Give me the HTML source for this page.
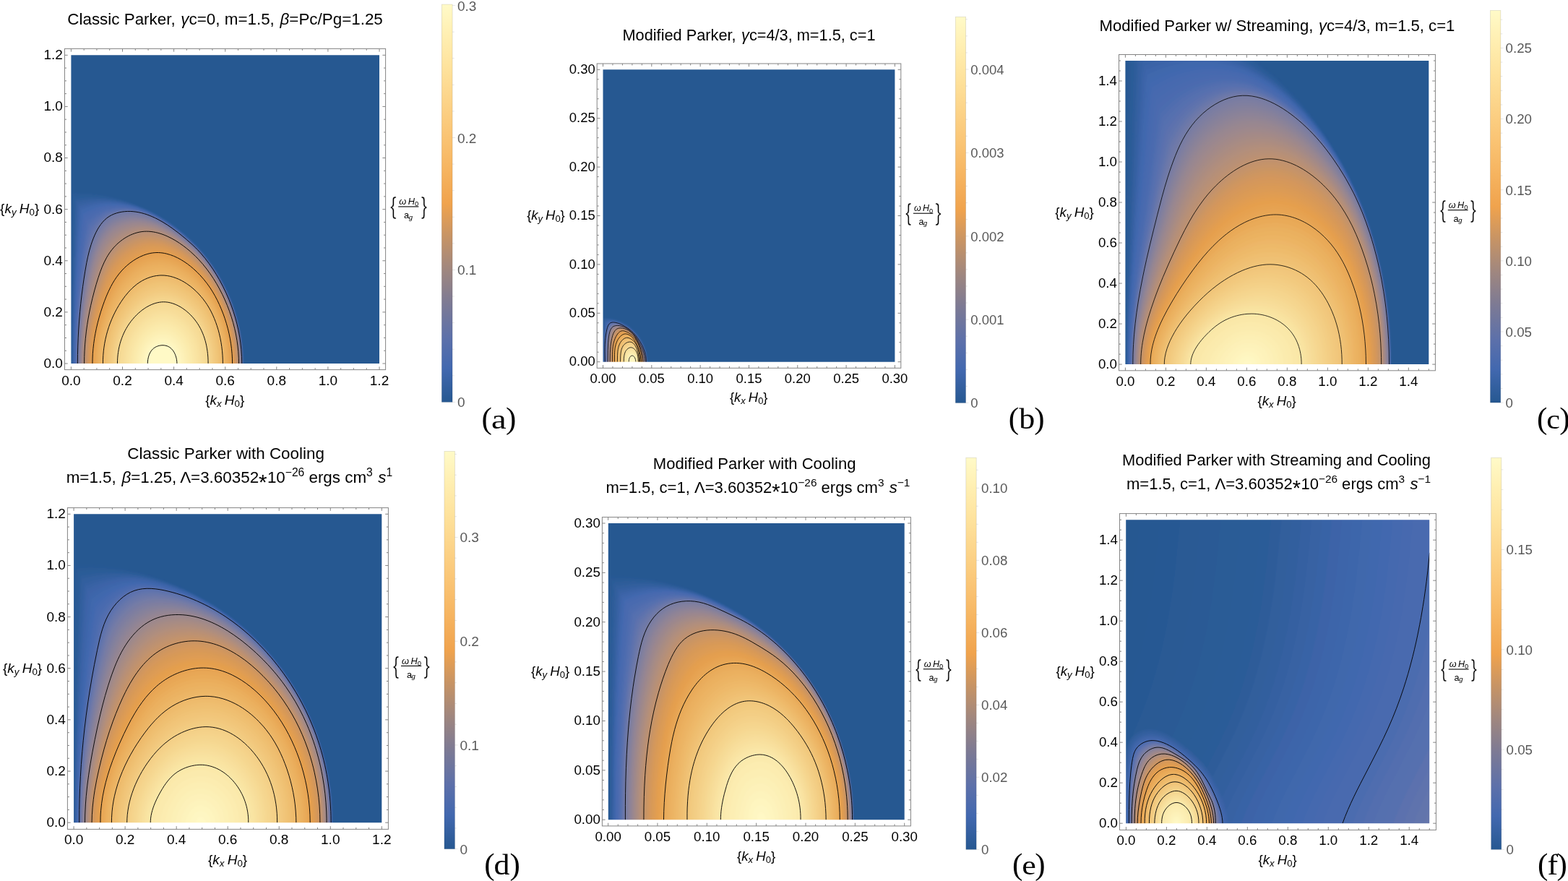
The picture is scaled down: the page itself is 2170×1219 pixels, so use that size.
<!DOCTYPE html>
<html lang="en"><head><meta charset="utf-8"><title>Parker instability growth rates</title>
<style>html,body{margin:0;padding:0;background:#fff}svg{display:block}text{font-family:'Liberation Sans',sans-serif}text.pl{font-family:"Liberation Serif",serif}</style></head>
<body><svg width="2170" height="1219" viewBox="0 0 2170 1219">
<defs><clipPath id="ca"><rect x="98.40" y="76.20" width="426.60" height="426.70"/></clipPath><clipPath id="cb"><rect x="834.50" y="96.30" width="403.90" height="404.40"/></clipPath><clipPath id="cc"><rect x="1557.40" y="84.00" width="419.90" height="420.10"/></clipPath><clipPath id="cd"><rect x="102.10" y="711.30" width="426.20" height="426.90"/></clipPath><clipPath id="ce"><rect x="841.80" y="724.00" width="409.90" height="410.20"/></clipPath><clipPath id="cf"><rect x="1558.20" y="719.20" width="420.00" height="420.00"/></clipPath><filter id="blur" x="-5%" y="-5%" width="110%" height="110%"><feGaussianBlur stdDeviation="1.3"/></filter><linearGradient id="cmapg" x1="0" y1="1" x2="0" y2="0"><stop offset="0" stop-color="#265891"/><stop offset="0.085" stop-color="#4268af"/><stop offset="0.16" stop-color="#5c70aa"/><stop offset="0.25" stop-color="#7d7a94"/><stop offset="0.33" stop-color="#9e8680"/><stop offset="0.42" stop-color="#c89464"/><stop offset="0.5" stop-color="#f0a34d"/><stop offset="0.585" stop-color="#f6b460"/><stop offset="0.67" stop-color="#fac474"/><stop offset="0.755" stop-color="#fcd388"/><stop offset="0.84" stop-color="#fee29c"/><stop offset="0.925" stop-color="#ffefb2"/><stop offset="1" stop-color="#fffac8"/></linearGradient></defs>
<rect width="2170" height="1219" fill="#fff"/>
<g id="panel-a">
<g clip-path="url(#ca)">
<g filter="url(#blur)">
<rect x="86.4" y="64.2" width="450.6" height="450.7" fill="#265891"/>
<path d="M97.9 502.9l0-229.3 0.4-8.9 10.6 0.2 10.4 0.7 10.3 1.1 14.9 2.5 9.7 2.1 14 3.8 9 3 13 5 8.3 3.6 11.8 5.9 11.1 6.3 10.5 6.7 9.8 7 9 7.2 8.5 7.3 7.8 7.5 7.2 7.5 8.7 10.1 7.7 10 6.9 9.9 6.1 9.8 5.3 9.6 4.8 9.4 5 11.5 4.3 11.2 3.5 10.8 2.9 10.6 2.8 12.4 1.7 10.1 1.5 11.9 0.9 11.8 0.3 11.7 0 12-238.7 0z" fill="#275992"/>
<path d="M98.3 502.9l0.2-106.1 0.7-120.8 0.5-8.8 5.2-0.1 10.2 0.1 10.1 0.6 10 1.1 14.5 2.4 9.5 2.1 13.7 3.8 8.8 3 12.7 5.1 8.1 3.7 11.6 5.9 10.9 6.4 10.2 6.8 9.5 7.1 8.9 7.2 8.2 7.4 7.6 7.4 7 7.6 8.4 10 5.8 7.5 6.8 9.9 6.1 9.8 5.4 9.6 4.7 9.4 5 11.5 4.3 11.1 3.5 10.9 3 10.6 2.7 12.3 1.8 10.1 1.4 11.9 0.9 11.8 0.3 11.7 0 12-238.2 0z" fill="#295a94"/>
<path d="M98.7 502.9l0.2-69.9 0.7-84.9 0.9-69.8 0.5-8.5 15.1-0.5 9.8 0.2 9.8 0.8 9.6 1.2 14.1 2.8 9.2 2.3 8.9 2.7 8.6 3 12.4 5.1 8 3.8 11.3 6.1 10.7 6.5 9.9 6.9 9.3 7.1 8.7 7.2 8 7.4 7.3 7.5 6.8 7.5 8.3 10 5.5 7.5 6.7 9.9 5.9 9.7 5.1 9.6 4.6 9.3 4.9 11.4 4.1 11.1 3.4 10.8 2.8 10.5 2.2 10.3 1.8 10.1 1.5 11.9 0.8 11.7 0.3 11.7 0 12-237.7 0z" fill="#2b5b96"/>
<path d="M99.1 502.9l0.2-61.3 0.9-72.6 1.4-79.8 0.2-8.5 0.6-8.4 9.7-0.8 9.7-0.3 9.7 0.2 9.5 0.8 9.4 1.2 13.9 2.8 8.9 2.3 8.7 2.8 8.5 3.1 12.2 5.2 7.8 3.9 11.1 6.2 10.4 6.6 9.7 6.9 9.1 7.2 8.4 7.3 7.7 7.4 7.2 7.4 6.6 7.5 8 10 5.4 7.5 6.4 9.8 5.7 9.7 5.1 9.5 4.4 9.3 4.7 11.3 3.9 11 3.3 10.7 2.7 10.5 2.1 10.2 1.7 10.1 1.4 11.8 0.7 9.8 0.3 11.7 0 12-237.3 0z" fill="#2c5c98"/>
<path d="M99.5 502.9l0.3-58.4 1-65.8 1.6-72 0.7-23.7 0.6-8.1 14.3-1.6 9.4-0.3 9.4 0.2 9.4 0.7 9.2 1.3 13.5 2.8 8.8 2.5 8.6 2.8 8.3 3.2 11.9 5.4 7.6 3.9 10.9 6.3 10.2 6.7 9.5 7 8.8 7.2 8.2 7.3 7.6 7.4 7 7.4 6.4 7.5 7.7 10 5.2 7.5 6.3 9.8 5.5 9.6 4.8 9.4 4.3 9.3 4.5 11.2 3.1 8.8 3.3 10.7 2.7 10.4 2.2 10.3 1.6 10 1.4 11.9 0.7 9.7 0.3 11.7 0 12-236.8 0z" fill="#2e5d9a"/>
<path d="M99.9 502.9l0.3-55.6 1.2-63.8 1.9-68.1 1.1-30.1 0.7-7.9 13.8-2 13.8-0.8 9.3 0.2 9.1 0.8 9.1 1.3 8.9 1.9 8.7 2.3 8.6 2.7 8.2 3.1 12 5.3 7.6 3.9 10.8 6.3 6.8 4.4 9.8 6.9 9 7.1 8.4 7.2 7.8 7.4 9.4 9.9 6.4 7.5 7.8 9.9 5.2 7.5 6.2 9.8 5.5 9.6 4.9 9.4 4.2 9.2 4.6 11.3 3.1 8.7 3.2 10.7 2.7 10.5 2.2 10.2 1.6 10 1.4 11.9 0.7 9.7 0.3 11.7 0 12-236.3 0z" fill="#315e9d"/>
<path d="M100.3 502.9l0.4-57.9 1.4-60.8 2.2-67.1 1.4-29.4 0.8-7.7 8.9-1.9 9-1.3 9-0.7 4.5-0.1 9.1 0.3 9 0.9 8.9 1.4 8.8 1.9 8.5 2.4 8.4 2.8 8.1 3.2 11.7 5.5 7.5 4 10.6 6.4 6.6 4.5 9.5 6.9 8.8 7.2 8.2 7.3 7.6 7.3 9.2 9.9 6.2 7.5 7.5 9.9 5 7.4 6.1 9.8 5.3 9.6 4.7 9.3 4.1 9.2 3.6 9 3.8 10.9 3.1 10.6 2.6 10.4 2.1 10.1 1.5 10 1.1 9.9 0.7 9.8 0.3 11.6 0 12-235.8 0z" fill="#3460a0"/>
<path d="M100.7 502.9l0.5-55.1 1.5-59 2.4-63.7 1.9-35.1 0.8-7.5 8.7-2.1 8.7-1.7 8.8-1 8.9-0.3 8.9 0.3 8.9 1 8.8 1.5 8.6 2.1 8.4 2.5 8.3 2.9 7.9 3.3 11.5 5.6 7.3 4.1 10.3 6.6 9.7 6.8 9 7.1 8.4 7.2 7.8 7.3 7.2 7.4 6.6 7.4 6 7.5 7.3 9.9 4.9 7.4 5.8 9.7 5.2 9.5 4.5 9.3 4 9.1 3.4 8.9 3 8.7 3.2 10.7 2.5 10.3 2.1 10.2 1.5 10 1.2 9.8 0.7 9.8 0.2 11.6 0 12-235.3 0z" fill="#3762a3"/>
<path d="M101.1 502.9l0.5-54.9 1.7-58.6 2.8-62.7 2.2-34.3 0.9-7.3 12.6-3.6 8.5-1.6 8.7-1 8.8-0.2 8.8 0.4 8.7 1.1 8.7 1.7 8.5 2.1 8.2 2.6 8.1 3.1 7.8 3.4 7.6 3.8 7.3 4.1 10.3 6.5 9.7 6.8 9 7.1 8.4 7.2 7.7 7.3 7.2 7.3 6.6 7.4 6.1 7.5 7.2 9.9 4.9 7.4 5.8 9.7 5.2 9.5 4.5 9.3 4 9.1 3.4 8.9 3 8.7 3.2 10.6 2.5 10.4 2.1 10.1 1.6 10 1.1 9.8 0.7 9.8 0.3 11.6 0 12-234.9 0z" fill="#3a63a6"/>
<path d="M101.5 502.9l0.1-26.2 0.5-28.5 1.9-58.1 1.6-34.6 1.5-27.3 2.5-33.5 0.9-7.1 12.2-4 8.4-2 8.5-1.3 8.6-0.5 8.7 0.3 8.7 0.9 8.5 1.5 8.5 2 8.2 2.6 8.1 3 7.8 3.4 7.5 3.7 7.3 4 10.3 6.5 6.5 4.6 9.2 7 8.6 7.1 10.5 9.6 7.2 7.3 6.6 7.4 6 7.5 7.3 9.9 4.8 7.4 5.9 9.7 5.1 9.5 4.5 9.3 4 9.1 3.4 8.9 3 8.7 3.2 10.6 2.6 10.3 2 10.1 1.6 10 1.1 9.8 0.7 9.8 0.3 11.6 0 12-234.4 0z" fill="#3c65a9"/>
<path d="M101.8 502.9l0.2-26.1 0.6-28.4 0.8-27.5 1.3-30.2 1.8-34.2 1.7-26.8 2.7-32.6 1-6.9 11.8-4.6 8.1-2.3 8.3-1.6 4.2-0.4 8.6-0.3 8.6 0.4 8.5 1 8.5 1.7 8.3 2.1 8.1 2.7 7.9 3.2 7.7 3.5 7.4 3.9 7.1 4.1 10.1 6.6 9.4 6.9 8.8 7.1 8.2 7.2 7.5 7.2 7 7.3 6.4 7.4 5.9 7.5 7 9.9 4.7 7.4 5.7 9.6 4.9 9.5 4.4 9.2 3.8 9 3.3 8.8 2.9 8.7 3.1 10.5 2.4 10.3 2 10.1 1.5 9.9 1 9.8 0.6 9.7 0.2 9.7 0 12-234 0z" fill="#3f67ac"/>
<path d="M102.2 502.9l0.2-26.1 0.6-28.2 1-27.3 1.4-30 1.9-33.7 1.9-26.4 2.3-24.9 0.7-6.9 1-6.7 11.4-5.1 7.9-2.6 8.2-1.8 4.1-0.6 8.4-0.5 8.5 0.2 8.5 0.9 8.4 1.5 8.3 2 8.1 2.6 7.9 3.1 7.6 3.5 7.4 3.8 7.1 4.2 10.1 6.5 9.4 6.9 8.8 7.1 8.1 7.1 7.6 7.2 7 7.4 6.4 7.4 5.8 7.4 7 9.9 4.8 7.4 5.6 9.6 5 9.4 4.3 9.3 3.8 9 3.4 8.8 2.8 8.6 3.1 10.5 2.4 10.3 2 10.1 1.5 9.9 1 9.8 0.6 9.7 0.2 9.7 0 12-233.5 0z" fill="#4168ae"/>
<path d="M102.6 502.9l0.2-26 0.7-28.1 1-27.2 1.5-29.6 2.2-33.4 2-25.9 2.5-24.3 1.9-13.1 7.2-3.9 3.8-1.7 7.6-3 4-1.1 8.1-1.7 4.1-0.5 8.4-0.3 8.4 0.4 8.4 1 8.3 1.7 8.1 2.2 8 2.8 7.8 3.2 7.5 3.7 7.2 3.9 6.9 4.2 9.9 6.7 9.2 7 8.5 7.1 8 7.1 7.3 7.2 6.8 7.3 6.2 7.5 5.7 7.4 6.8 9.9 4.6 7.3 5.4 9.6 4.8 9.4 4.2 9.1 3.7 9 3.2 8.7 2.8 8.6 2.9 10.5 2 8.2 1.9 10 1.5 9.9 1 9.8 0.7 9.7 0.2 9.7 0 12-233.1 0z" fill="#4469af"/>
<path d="M103 502.9l0.2-25.9 0.8-28 1.1-27 1.6-29.4 2.3-32.9 2.3-25.4 2.7-23.7 1.9-12.8 7-4.2 3.6-1.9 7.5-3.2 3.8-1.4 8-1.9 4-0.6 8.3-0.6 4.1 0.1 8.4 0.5 8.3 1.3 8.2 1.8 8 2.4 7.8 3 7.7 3.4 7.3 3.8 7.1 4.1 10.1 6.5 9.4 6.9 8.7 7 8.1 7.1 7.6 7.1 7 7.3 6.4 7.4 5.8 7.4 7 9.9 4.7 7.4 5.7 9.6 4.9 9.4 4.4 9.2 3.8 9 3.3 8.8 2.9 8.6 3 10.5 2.5 10.3 1.9 10.1 1.5 9.9 1.1 9.7 0.6 9.7 0.2 9.7 0 12-232.6 0z" fill="#4669af"/>
<path d="M103.4 502.9l0.3-25.8 0.7-27.9 1.2-26.8 1.8-29.2 2.1-27.9 2.2-24.2 2.7-22.3 1.7-12.3 1.2-6.1 6.7-4.6 3.5-2 7.2-3.6 3.8-1.5 3.8-1.2 7.9-1.7 4.1-0.5 8.2-0.3 4.1 0.1 8.3 0.7 8.2 1.5 8.1 2 7.9 2.6 7.7 3.2 7.5 3.5 7.2 3.9 6.9 4.2 9.9 6.7 9.1 6.9 8.6 7.1 7.9 7 7.4 7.2 6.7 7.3 6.2 7.4 5.7 7.4 6.8 9.9 4.5 7.3 5.5 9.6 4.8 9.3 4.2 9.2 3.7 8.9 3.2 8.8 2.7 8.5 3 10.5 1.9 8.1 2 10.1 1.4 9.9 1.1 9.8 0.6 9.7 0.2 9.6 0 12-232.1 0z" fill="#486aaf"/>
<path d="M103.8 502.9l0.3-25.7 0.8-27.8 1.3-26.7 1.9-28.8 2.2-27.6 2.4-23.8 2.8-21.8 1.9-11.9 1.3-5.9 6.4-4.9 3.3-2.2 7-3.9 3.7-1.6 3.8-1.4 7.7-1.9 4-0.6 8.2-0.6 4 0.1 8.2 0.6 8.2 1.3 8 1.9 7.9 2.6 7.7 3.1 7.5 3.5 7.2 3.9 6.9 4.2 9.8 6.6 9.2 6.9 8.5 7.1 8 7 7.3 7.1 6.8 7.3 6.2 7.4 5.6 7.4 6.8 9.9 4.6 7.3 5.4 9.6 4.8 9.3 4.2 9.2 3.7 8.9 3.2 8.7 2.8 8.6 2.9 10.4 1.9 8.2 2 10 1.5 9.9 1 9.8 0.6 9.7 0.2 9.6 0 12-231.6 0z" fill="#4b6baf"/>
<path d="M104.2 502.9l0.3-25.6 0.8-27.7 1.4-26.5 2.1-28.6 2.4-27.2 2.5-23.4 3-21.2 2-11.5 1.3-5.8 6.2-5.2 6.5-4.6 7-3.8 3.7-1.5 3.8-1.2 7.8-1.7 4-0.4 8.1-0.3 4 0.1 8.1 0.9 8.1 1.5 8 2.2 7.8 2.7 7.5 3.3 7.4 3.7 7 4 6.8 4.3 9.5 6.7 9 7 8.3 7 7.7 7 7.2 7.2 6.6 7.3 6 7.4 5.5 7.4 5 7.4 4.5 7.3 5.4 9.6 4.8 9.3 4.2 9.2 3.7 8.9 3.2 8.7 2.8 8.5 2.9 10.5 1.9 8.1 2 10.1 1.5 9.8 1 9.8 0.6 9.7 0.2 9.6 0 12-231.1 0z" fill="#4d6caf"/>
<path d="M104.6 502.9l0.3-25.5 0.9-27.6 1.5-26.3 2.1-28.4 2.6-26.9 2.7-22.9 3.2-20.7 2.1-11.1 1.4-5.5 5.8-5.6 6.4-4.9 6.8-4.1 3.6-1.6 3.7-1.4 7.6-1.9 4-0.5 8-0.5 4 0.1 8.1 0.7 8 1.4 7.9 2.1 7.8 2.7 7.6 3.2 7.3 3.7 7 4 6.7 4.2 9.6 6.8 8.9 6.9 8.4 7 7.7 7 7.2 7.1 6.5 7.3 6 7.4 5.5 7.4 5 7.4 4.5 7.3 5.5 9.6 4.7 9.3 4.2 9.1 3.7 9 3.2 8.7 2.8 8.5 2.9 10.4 1.9 8.2 2 10 1.5 9.9 1 9.7 0.7 9.7 0.2 9.6 0 12-230.7 0z" fill="#506daf"/>
<path d="M105 502.9l0.3-25.4 1-27.5 1.5-26.1 2.3-28.1 2.7-26.6 2.9-22.5 3.4-20.1 2.2-10.7 1.4-5.4 5.6-5.8 6.1-5.3 6.6-4.4 3.5-1.8 3.6-1.5 7.6-2.1 7.8-1.1 8-0.2 4 0.2 8 0.9 8 1.7 7.8 2.3 7.6 2.9 7.5 3.5 7.1 3.8 6.9 4.1 6.6 4.4 9.3 6.8 8.7 6.9 8.2 7 7.5 7 4.7 4.7 6.6 7.3 6 7.4 5.5 7.4 4.9 7.4 4.6 7.3 5.4 9.6 4.8 9.3 4.2 9.1 3.6 8.9 3.2 8.7 2.8 8.5 2.9 10.4 2 8.2 1.9 10 1.5 9.9 1.1 9.7 0.6 9.7 0.2 9.6 0 12-230.2 0z" fill="#546eaf"/>
<path d="M105.4 502.9l0.3-25.4 1-27.3 1.7-26 2.4-27.8 2.9-26.2 2.9-22 3.6-19.6 2.4-10.4 1.5-5.1 5.3-6.2 5.8-5.6 6.4-4.7 3.5-2 3.5-1.6 3.7-1.3 3.7-1 7.8-1.3 7.9-0.4 3.9 0.1 8 0.9 7.9 1.5 7.8 2.3 7.7 2.9 7.4 3.3 7.1 3.8 6.9 4.2 6.6 4.3 9.3 6.8 8.7 6.9 8.1 7 7.6 6.9 4.7 4.8 6.5 7.2 6 7.4 5.5 7.4 5 7.4 4.5 7.3 5.4 9.6 4.8 9.3 4.2 9.1 3.7 8.9 3.2 8.7 2.7 8.5 2.9 10.4 2 8.1 1.9 10 1.5 9.9 1.1 9.7 0.6 9.7 0.2 9.6 0 12-229.7 0z" fill="#5770af"/>
<path d="M105.8 502.9l0.3-25.3 1.1-27.1 1.7-25.9 2.6-27.6 3-25.8 3.1-21.6 1.7-9.4 2.1-9.7 2.5-9.9 1.5-5 5.1-6.5 5.6-6 3-2.6 3.2-2.4 3.3-2 3.5-1.8 3.6-1.4 3.7-1.1 7.6-1.5 7.9-0.5 3.9 0 7.9 0.7 7.9 1.5 7.8 2.2 11.3 4.4 7.3 3.6 7 3.9 6.7 4.2 9.6 6.7 8.9 6.9 10.9 9.2 7.5 7 4.7 4.7 6.6 7.3 6 7.3 5.5 7.4 4.9 7.4 4.6 7.3 5.4 9.6 4.7 9.3 4.2 9.1 3.7 8.9 3.2 8.7 2.7 8.5 3 10.3 1.9 8.2 2 10 1.5 9.8 1 9.7 0.6 9.7 0.2 9.6 0 12-229.2 0z" fill="#5b71ae"/>
<path d="M106.2 502.9l0.3-25.2 1-24.7 1.8-25.3 2.1-23.5 2.9-24.3 3.5-24.5 3.7-18.2 3.7-14.3 1.6-4.7 4.7-6.9 2.6-3.3 5.7-5.8 3.1-2.5 3.3-2.2 3.4-1.9 3.5-1.5 7.4-2.2 7.6-1.2 7.9-0.2 3.9 0.2 7.8 0.9 7.9 1.8 7.6 2.5 11.2 4.7 7.1 3.8 6.9 4 6.6 4.4 9.3 6.7 8.7 6.9 10.6 9.2 7.4 7 4.5 4.7 6.4 7.3 5.8 7.4 5.3 7.4 4.8 7.4 4.4 7.2 5.2 9.5 4.6 9.3 4.1 9 3.5 8.8 3.1 8.7 2.7 8.4 2.8 10.3 1.8 8.1 1.9 10 1.2 7.8 1 9.8 0.6 9.6 0.3 9.6 0 12-228.8 0z" fill="#6073ad"/>
<path d="M106.6 502.9l0.3-25.1 1.1-24.6 1.8-25.1 2.3-23.4 3-23.9 3.7-24.1 1.7-8.7 2.1-9 3.9-13.7 1.6-4.6 4.5-7.2 2.5-3.4 5.4-6.2 3-2.6 3.2-2.4 3.3-2 3.5-1.6 3.6-1.4 3.7-1 7.6-1.4 7.7-0.4 3.9 0.2 7.8 0.8 7.8 1.7 7.7 2.4 11.1 4.7 7.1 3.7 6.9 4.1 6.6 4.3 9.3 6.7 8.6 6.9 10.7 9.2 7.3 6.9 4.6 4.8 6.4 7.3 5.8 7.3 5.3 7.4 4.8 7.4 4.3 7.2 5.3 9.5 4.6 9.3 4 9 3.5 8.8 3.1 8.6 2.7 8.5 2.8 10.3 1.9 8.1 1.8 9.9 1.2 7.9 1 9.7 0.7 9.6 0.2 9.6 0 12-228.3 0z" fill="#6576ab"/>
<path d="M107 502.9l0.3-22.9 1-24.2 1.8-24.7 2.3-22.7 2.9-23.1 3.7-23.1 3.6-17 3.7-13.2 3.2-8.7 4.2-7.6 2.3-3.6 2.6-3.3 2.7-3.1 2.9-2.9 3.1-2.4 3.2-2.2 3.4-1.7 3.5-1.5 3.7-1.2 7.5-1.5 7.7-0.5 3.8 0 7.8 0.8 7.8 1.6 7.6 2.3 11.1 4.7 7.1 3.7 6.9 4 6.5 4.3 9.3 6.8 8.7 6.8 10.6 9.2 7.4 6.9 4.6 4.7 6.3 7.3 5.8 7.3 5.3 7.4 4.8 7.4 4.4 7.2 5.2 9.5 4.6 9.2 4 9.1 3.6 8.8 3 8.6 2.7 8.4 2.8 10.3 1.9 8.1 1.9 9.9 1.1 7.9 1.1 9.7 0.6 9.6 0.2 9.6 0 12-227.8 0z" fill="#6b78a9"/>
<path d="M107.4 502.9l0.3-22.8 1.1-24.2 1.8-24.5 2.4-22.5 3.1-22.8 3.8-22.7 1.7-8.2 2-8.4 4-12.7 3.3-8.3 1.8-4 4.3-7.6 2.4-3.6 2.6-3.2 2.8-3 3-2.6 3.2-2.3 3.3-1.9 3.5-1.5 3.6-1.3 7.4-1.7 3.8-0.4 7.7-0.3 3.8 0.3 7.8 1.1 3.8 0.8 7.6 2.3 7.5 2.9 7.2 3.4 7 3.9 6.7 4.2 6.4 4.4 9.1 6.8 11.1 9.1 7.7 6.8 7.2 7 4.4 4.7 6.2 7.3 5.6 7.4 5.1 7.4 4.7 7.3 4.2 7.2 5 9.4 4.5 9.2 3.9 9 3.4 8.7 3 8.6 2.5 8.4 2.2 8.2 1.9 8 1.9 10 1.1 7.8 1.1 9.7 0.6 9.6 0.2 9.6 0 12-227.3 0z" fill="#717aa7"/>
<path d="M108.1 502.9l0.3-22.7 1-21.7 1.9-23.9 2.3-21.9 3.6-25.4 3.9-22.3 3.8-16.2 3.9-12.4 3.3-8.2 1.9-3.9 4.2-7.5 5-6.7 2.7-2.9 3-2.6 3.1-2.3 3.3-1.9 3.4-1.6 3.5-1.3 7.3-1.8 3.7-0.5 7.6-0.4 3.8 0.1 7.6 0.9 3.8 0.8 7.5 2.1 7.4 2.7 7.2 3.3 6.9 3.7 6.6 4.1 6.4 4.2 9 6.7 11.1 9 7.7 6.8 7.2 6.9 4.4 4.7 6.1 7.2 5.6 7.4 5.1 7.3 4.7 7.3 4.2 7.1 5 9.4 4.5 9.2 3.9 8.9 3.4 8.7 2.9 8.5 2.6 8.4 2.2 8.1 1.9 8.1 1.8 9.9 1.2 7.8 1.1 9.7 0.6 9.5 0.2 9.6 0 12-226.3 0z" fill="#777ca4"/>
<path d="M108.8 502.9l0.4-22.5 1-21.6 1.7-21.2 2.4-21.2 3.5-24.5 3.8-21.4 3.5-15.7 3.6-12.2 4.7-12 3.9-7.6 4.5-7 2.5-3.2 2.7-2.8 2.9-2.6 3.1-2.3 3.2-1.9 6.8-3 7.2-1.9 3.6-0.6 7.5-0.6 3.7 0.1 7.5 0.7 3.8 0.7 7.4 1.9 7.3 2.5 7.1 3.2 6.9 3.6 6.6 3.9 6.3 4.1 9 6.5 11.1 8.9 7.6 6.7 7.1 6.9 4.4 4.7 6.2 7.2 5.6 7.2 5.1 7.3 4.6 7.2 4.2 7.2 5 9.3 4.5 9.1 3.8 8.9 3.5 8.7 2.9 8.4 2.6 8.4 2.2 8.1 1.8 8 1.9 9.9 1.2 7.8 1 9.6 0.7 9.6 0.2 9.5 0 12-225.3 0z" fill="#7d7ea0"/>
<path d="M109.5 502.9l0.4-22.4 1.1-21.3 2.1-23.6 2.6-21.2 3.8-24.7 4.1-21.4 3.8-15.6 4-11.9 3.3-7.8 1.8-3.8 4.2-7.2 4.8-6.4 2.7-2.9 2.8-2.5 3-2.3 3.2-1.9 3.3-1.7 6.8-2.5 7.2-1.6 3.6-0.5 7.3-0.3 3.7 0.2 7.5 0.9 3.6 0.8 7.3 2.1 7.2 2.7 6.9 3.2 6.7 3.6 6.5 3.9 6.1 4.2 8.8 6.4 8.1 6.6 7.7 6.6 7 6.9 4.4 4.6 6.1 7.2 5.6 7.2 5.1 7.2 4.6 7.2 4.2 7.1 5 9.3 4.4 9 3.9 8.9 3.4 8.6 3 8.5 2.6 8.3 2.2 8.1 1.8 8 1.9 9.8 1.1 7.8 1.1 9.6 0.6 9.5 0.2 9.5 0 12-224.2 0z" fill="#83809d"/>
<path d="M110.2 502.9l0.4-20.2 1.1-21.1 1.7-20.5 2.9-23.2 3.7-23.7 4.8-24.3 3.9-15.3 4-11.6 3.2-7.6 1.9-3.7 4.1-7.1 4.7-6.3 2.7-2.8 2.8-2.6 2.9-2.2 3.1-2 3.3-1.7 6.7-2.6 7-1.7 3.5-0.6 7.3-0.4 3.6 0 7.3 0.8 3.7 0.7 7.2 1.9 7.1 2.5 6.8 3.1 6.7 3.5 6.4 3.8 6.1 4 8.7 6.3 8.2 6.5 7.6 6.6 7 6.7 4.4 4.7 6.1 7.1 5.5 7.1 5.1 7.2 4.6 7.2 4.2 7 5 9.3 4.4 9 3.9 8.8 3.4 8.6 3 8.4 2.5 8.3 2.2 8.1 1.9 7.9 1.9 9.8 1.1 7.8 1.1 9.5 0.6 9.5 0.2 9.5 0 12-223.2 0z" fill="#8a8299"/>
<path d="M110.9 502.9l0.4-20 1.2-21 1.8-20.4 2.9-22.8 3.9-23.4 4.9-23.7 4-15 4-11.4 5-11.1 4.1-6.9 4.7-6.2 2.6-2.7 2.8-2.6 2.9-2.2 6.2-3.7 3.2-1.5 6.7-2.3 7-1.5 3.5-0.4 7.2-0.2 3.6 0.2 7.2 1 7.1 1.7 7 2.4 6.9 2.9 6.6 3.3 6.3 3.7 6.1 3.9 5.9 4.1 8.3 6.4 7.7 6.5 7.2 6.6 4.5 4.5 6.3 7 9.2 11.9 4.9 7.1 4.5 7.1 4 7 4.9 9.1 4.2 8.9 3.8 8.8 3.3 8.5 2.8 8.3 2.5 8.2 2.1 8 1.8 7.9 1.7 9.8 1.1 7.7 1 9.5 0.6 9.5 0.1 7.5 0 12-222.2 0z" fill="#908496"/>
<path d="M111.6 502.9l0.4-19.9 1.2-20.8 2-20.2 2.6-19.9 3.9-22.5 4.7-22.9 3.7-14.4 2.4-7.5 2.7-7.4 5.1-10.8 4-6.7 4.7-6.1 2.5-2.8 5.6-4.7 6-3.8 3.2-1.5 6.6-2.4 3.4-0.9 6.9-1.3 7.1-0.4 3.5 0.1 7.1 0.9 7.1 1.5 6.9 2.2 6.8 2.8 6.6 3.2 6.3 3.5 6 3.9 5.9 4 8.2 6.2 7.7 6.4 4.9 4.4 4.6 4.4 6.4 6.9 5.9 7 5.4 7.1 4.8 7.1 4.5 7.1 4 6.9 4.9 9.1 4.2 8.9 3.8 8.6 3.3 8.5 2.8 8.3 2.5 8.2 2.1 8 1.7 7.9 1.8 9.7 1.1 7.6 1 9.5 0.5 9.5 0.2 7.5 0 12-221.2 0z" fill="#968692"/>
<path d="M112.3 502.9l0.5-19.8 1.2-20.6 2.1-20 2.7-19.6 4-22.2 4.8-22.4 3.8-14.2 2.4-7.2 2.7-7.3 5-10.5 4-6.6 4.6-6 2.5-2.7 5.5-4.7 5.9-3.8 3.2-1.6 6.4-2.6 3.3-0.9 6.8-1.4 7-0.6 3.5 0 7 0.6 6.9 1.4 6.9 2.1 6.7 2.6 6.5 3 6.3 3.5 6.1 3.7 5.8 3.9 8.2 6.1 7.7 6.4 4.8 4.3 4.6 4.4 6.4 6.9 5.8 6.9 5.4 7.1 4.9 7 4.4 7 4 6.9 4.9 9.1 4.2 8.8 3.8 8.6 3.2 8.5 2.9 8.3 2.4 8.1 2.1 8 1.8 7.8 1.8 9.7 1.1 7.6 1 9.5 0.5 9.4 0.1 7.5 0 12-220.1 0z" fill="#9b878e"/>
<path d="M113 502.9l0.5-19.7 1.3-20.4 2.1-19.8 2.9-19.4 4-21.9 5-21.9 3.9-13.8 2.3-7.1 2.8-7 5-10.4 4-6.4 4.5-5.9 2.5-2.6 5.3-4.7 5.8-3.9 3.1-1.6 6.3-2.7 6.6-1.9 3.3-0.7 6.8-0.7 3.5-0.1 3.4 0.1 7 0.8 6.8 1.6 6.7 2.2 6.6 2.7 6.4 3.1 6.1 3.5 5.9 3.7 5.6 3.9 8 6.1 7.5 6.4 4.7 4.3 4.4 4.5 6.3 6.8 5.6 7 5.2 7 4.7 6.9 4.3 7 3.9 6.8 4.7 8.9 6.8 15.2 3.3 8.5 2.9 8.2 2.4 8.1 2.1 7.9 1.8 7.9 1.8 9.6 1 7.6 1 9.4 0.6 9.4 0.1 7.5 0 12-219.1 0z" fill="#9f898b"/>
<path d="M113.8 502.9l0.4-19.5 1.2-18.2 2.1-19.5 2.8-18.9 4.6-24 5.2-21.4 3.8-13.5 2.4-6.9 2.8-6.9 4.9-10.1 4-6.3 4.4-5.7 2.5-2.7 5.2-4.7 5.7-3.9 3-1.6 6.2-2.8 6.4-2.1 3.3-0.8 6.7-0.9 3.4-0.2 3.4 0.1 6.8 0.6 6.8 1.4 6.7 2 6.5 2.6 6.3 3 6.1 3.3 5.9 3.7 5.6 3.8 8 6.1 7.4 6.2 4.7 4.3 4.4 4.5 6.2 6.7 5.7 6.9 5.1 7 4.7 6.9 4.3 6.9 3.9 6.8 4.7 8.9 6.8 15.1 3.3 8.4 2.8 8.2 2.5 8.1 2.1 7.9 1.8 7.8 1.7 9.6 1.1 7.6 1 9.4 0.5 9.3 0.2 7.5 0 12-218 0z" fill="#a48a87"/>
<path d="M114.5 502.9l0.4-19.4 1.3-18.1 2.2-19.2 2.9-18.7 4.1-20.8 5-20.6 4.8-16.3 2.4-6.8 2.7-6.7 5-9.8 3.9-6.2 2.1-2.9 4.7-5.3 2.5-2.4 5.4-4.3 2.8-1.9 5.9-3.3 6.2-2.6 3.2-1 6.5-1.5 3.3-0.4 6.7-0.4 3.4 0.2 6.7 0.8 6.7 1.6 6.5 2.1 6.4 2.7 6.1 3.1 6 3.4 5.7 3.6 5.5 3.9 7.8 6 7.2 6.3 4.5 4.3 4.3 4.5 6 6.7 8.9 11.5 4.7 6.9 4.2 6.9 3.9 6.7 4.7 8.9 6.8 15 3.3 8.4 2.8 8.2 2.5 8 2.1 7.9 1.7 7.7 1.8 9.6 1.1 7.6 1 9.3 0.5 9.4 0.2 7.4 0 12-217 0z" fill="#a98c83"/>
<path d="M115.2 502.9l0.5-19.3 1.3-17.9 2.2-19 3-18.5 4.3-20.4 5.1-20.2 4.9-16 2.4-6.5 2.7-6.6 4.9-9.6 3.9-6 2.1-2.8 4.6-5.2 2.5-2.4 5.2-4.4 2.8-1.9 5.8-3.3 6-2.8 3.2-1.1 6.3-1.6 3.3-0.6 6.6-0.5 3.3 0.1 6.6 0.7 6.6 1.3 6.5 2 6.3 2.6 6.2 2.9 5.9 3.3 5.7 3.5 5.5 3.8 7.7 6 4.9 4.1 6.8 6.4 4.3 4.4 6 6.7 8.8 11.4 4.7 6.9 4.2 6.8 3.9 6.7 4.7 8.8 6.8 15 3.3 8.3 2.8 8.2 2.4 8 2.1 7.8 1.8 7.8 1.8 9.5 1.1 7.6 0.9 9.3 0.6 9.3 0.1 7.4 0 12-215.9 0z" fill="#ae8d7f"/>
<path d="M115.9 502.9l0.4-17.2 1.3-17.7 2.2-18.7 2.9-18 4.2-19.8 5.9-22.4 4.9-15.6 2.4-6.4 2.8-6.4 4.9-9.3 3.8-5.8 2.1-2.8 2.2-2.7 4.7-4.8 2.6-2.3 5.3-4 5.6-3.5 3-1.5 6-2.5 3.1-1.1 6.4-1.4 3.2-0.5 6.5-0.3 3.3 0.2 6.6 0.9 6.4 1.5 6.4 2.2 6.2 2.6 6 3 5.8 3.3 5.5 3.6 10.4 7.8 4.9 4.1 6.8 6.3 4.3 4.4 5.9 6.7 5.5 6.7 4.9 6.8 4.6 6.8 4.1 6.8 3.7 6.6 4.5 8.8 6.6 14.8 3.2 8.2 2.7 8.1 4.4 15.7 1.7 7.7 1.6 9.5 1.8 15 0.6 9.2 0.1 7.4 0 12-214.9 0z" fill="#b38f7b"/>
<path d="M116.6 502.9l0.4-17.1 1.3-17.6 2.3-18.5 3.1-17.7 4.3-19.6 5.1-19 2.7-8.8 3.2-9.2 2.4-6.3 2.8-6.2 4.9-9 5.8-8.4 2.2-2.6 4.6-4.9 5-4.3 2.7-2 5.5-3.6 2.8-1.5 6-2.7 3-1.1 6.2-1.7 3.2-0.5 6.5-0.5 3.2 0.1 6.5 0.7 6.4 1.4 6.3 2 6.2 2.5 5.9 2.9 5.8 3.2 5.5 3.5 10.4 7.7 4.8 4 6.8 6.3 4.2 4.3 6 6.7 5.4 6.7 5 6.8 4.5 6.7 4.1 6.7 3.7 6.6 4.5 8.7 6.6 14.8 3.2 8.2 2.7 8 4.3 15.7 1.7 7.7 1.7 9.4 1.8 14.9 0.5 9.2 0.2 7.4 0 12-213.9 0z" fill="#b79077"/>
<path d="M117.5 502.9l0.5-17 1.3-17.3 2.4-18.4 3.1-17.5 4.3-19.2 5.2-18.7 2.7-8.6 3.2-9 2.4-6.1 2.8-6.1 4.8-8.9 5.8-8.2 6.7-7.3 7.5-6.2 5.5-3.5 2.8-1.6 5.8-2.7 3-1.1 6.1-1.7 3.1-0.6 6.4-0.5 3.2 0 6.3 0.6 6.4 1.3 6.2 1.8 6.1 2.4 5.9 2.8 5.7 3.1 5.5 3.4 10.2 7.5 4.8 3.9 6.8 6.2 4.2 4.3 5.9 6.5 5.4 6.6 5 6.7 4.4 6.7 4.1 6.6 3.8 6.6 4.4 8.6 6.6 14.6 3.1 8.2 2.7 8 4.3 15.5 1.7 7.6 1.7 9.4 1.7 14.8 0.6 9.2 0.1 7.3 0 12-212.2 0z" fill="#bc9172"/>
<path d="M118.5 502.9l0.4-16.8 1.4-17.2 2.4-18.1 3.1-17.3 4.5-18.9 5.2-18.4 2.7-8.5 3.2-8.8 5.2-11.9 4.8-8.6 5.7-8 6.6-7.2 7.4-6.1 8.1-5.1 5.7-2.7 3-1.1 6-1.7 3.1-0.6 3.1-0.4 6.2-0.3 3.2 0.2 6.2 0.8 6.2 1.4 6.1 2 6 2.5 5.7 2.8 5.5 3.2 5.4 3.4 9.9 7.5 4.7 3.9 6.5 6.2 4.1 4.2 5.7 6.5 5.2 6.5 4.8 6.6 4.3 6.6 4 6.6 3.6 6.5 4.3 8.5 6.3 14.4 3 8.1 2.6 7.9 4.1 15.4 2.9 14.9 1.7 14.7 0.6 9.1 0.1 7.3 0 12-210.5 0z" fill="#c1926e"/>
<path d="M119.4 502.9l0.5-16.6 1.4-17.1 2.4-17.9 3.2-17.1 4.5-18.6 5.2-18 2.8-8.3 3.2-8.6 5.2-11.6 4.7-8.4 5.7-7.9 6.5-7 7.3-6 7.9-5.1 5.7-2.6 2.8-1.2 6-1.7 3-0.7 3-0.4 6.2-0.4 3.1 0.1 6.2 0.7 6.1 1.3 6 1.9 5.8 2.3 5.7 2.8 5.5 3 5.3 3.4 9.9 7.3 4.6 3.8 6.5 6.1 4.1 4.1 5.6 6.4 5.2 6.4 4.8 6.6 4.3 6.5 3.9 6.5 6.9 12.7 6.4 14.5 3.1 8 2.7 7.9 4.2 15.3 1.7 7.5 1.6 9.3 1.8 14.6 0.5 9 0.2 7.2 0 12-208.9 0z" fill="#c69469"/>
<path d="M120.4 502.9l0.4-16.5 1.5-16.9 2.1-15.7 3.1-16.6 4.4-18.2 5.1-17.4 5.6-16.3 4.9-11.3 2.9-5.6 3.3-5.4 5.6-7.7 6.4-6.9 7.2-5.9 7.8-5 8.3-3.9 5.8-1.8 3-0.6 3-0.5 6.1-0.5 3 0.1 6.1 0.6 6 1.1 6 1.8 5.7 2.2 5.7 2.6 5.4 3 5.2 3.2 9.9 7.1 4.5 3.8 6.5 5.9 4 4.1 5.7 6.3 5.1 6.4 4.8 6.4 4.3 6.4 3.9 6.4 6.8 12.7 6.4 14.3 3.1 8 2.6 7.8 4.2 15.3 1.7 7.4 1.6 9.2 1.7 14.5 0.6 8.9 0.1 7.2 0 12-207.1 0z" fill="#ca9564"/>
<path d="M121.3 502.9l0.5-16.3 1.5-16.8 2.5-17.5 3.3-16.6 4.5-18 5.4-17.3 2.8-8 3.2-8.2 5.1-11 3.1-5.3 3.4-5.2 5.8-7.3 6.6-6.4 7.2-5.6 7.9-4.6 8.3-3.4 5.8-1.6 3-0.5 2.9-0.4 6-0.2 3 0.2 6 0.7 5.9 1.4 5.8 1.9 5.6 2.3 5.5 2.7 5.3 2.9 5.1 3.3 9.5 7.1 4.5 3.8 6.2 5.9 3.9 4.1 5.5 6.2 5 6.3 4.5 6.3 4.2 6.4 3.8 6.3 6.5 12.5 6.2 14.2 2.9 7.9 2.5 7.7 4.1 15.1 2.8 14.6 1.7 14.4 0.5 8.9 0.2 7.1 0 12-205.5 0z" fill="#cf9660"/>
<path d="M122.3 502.9l0.5-16.2 1.2-14.7 2.1-15.2 3.1-16.1 4.3-17.3 4.9-16.6 5.6-15.4 3.3-8.1 2.6-5.3 2.9-5.3 3.2-5.2 5.5-7.3 4-4.5 4.4-4.1 7.2-5.5 7.7-4.6 8.2-3.4 5.6-1.6 2.9-0.6 2.9-0.4 5.9-0.3 3 0.1 5.9 0.6 5.8 1.2 5.7 1.8 5.6 2.2 5.4 2.5 5.3 2.9 5 3.2 9.5 6.9 4.4 3.7 6.2 5.8 9.3 10.1 5 6.2 4.5 6.3 4.2 6.3 3.7 6.3 6.5 12.4 6.2 14 2.9 7.9 2.5 7.6 4 15 2.8 14.5 1.7 14.3 0.5 8.8 0.1 7.1 0 12-203.7 0z" fill="#d4975c"/>
<path d="M123.2 502.9l0.5-16 1.3-14.6 2.2-15 3.1-15.9 4.3-17.1 5-16.2 5.5-15.1 3.4-7.8 2.6-5.3 2.9-5.1 3.2-5 5.4-7.1 4-4.4 4.3-4.1 7-5.4 7.5-4.5 8.1-3.5 5.6-1.7 2.8-0.6 2.9-0.5 5.7-0.4 2.9 0.1 5.8 0.5 5.8 1.1 5.7 1.6 5.5 2.1 5.3 2.4 5.2 2.8 5 3.1 9.4 6.7 4.4 3.7 6.2 5.7 9.2 9.9 5 6.1 4.5 6.2 4.1 6.2 3.8 6.2 6.4 12.3 6.1 14 2.9 7.8 2.5 7.6 4 14.8 2.8 14.5 1.6 14.1 0.6 8.8 0.1 7 0 12-202.1 0z" fill="#d79959"/>
<path d="M124.2 502.9l0.5-15.9 1.3-14.4 2.2-14.8 3.2-15.7 4.3-16.8 5.1-16 5.5-14.7 3.4-7.6 2.6-5.1 2.9-5 3.1-4.8 5.4-7 3.9-4.2 4.2-4 6.9-5.4 4.9-3.1 5.1-2.7 8-3.2 5.6-1.4 2.8-0.5 5.7-0.5 2.8 0 8.6 0.8 5.6 1.2 5.5 1.8 5.4 2.1 5.3 2.5 5 2.9 4.9 3 9.1 6.8 4.2 3.6 6 5.7 8.9 9.8 4.8 6.1 4.4 6.1 4 6.2 3.6 6.1 6.2 12.2 5.8 13.8 2.8 7.7 2.4 7.5 3.8 14.7 2.6 14.2 1.5 14.1 0.6 13.9 0 12-200.4 0z" fill="#da9a57"/>
<path d="M125.1 502.9l0.5-15.7 1.4-14.3 2.2-14.7 3.2-15.4 4.4-16.5 5.1-15.7 5.6-14.4 3.4-7.3 2.6-5 2.9-4.8 3.1-4.8 5.3-6.7 3.8-4.2 4.2-3.9 6.7-5.3 4.8-3.1 5-2.7 7.9-3.2 8.2-2 5.6-0.7 2.8-0.1 8.4 0.7 5.6 1.1 5.4 1.6 5.4 2.1 5.1 2.4 5 2.7 4.9 3 9 6.6 4.2 3.5 6 5.6 8.9 9.7 4.7 6 4.4 6 3.9 6.1 3.6 6.1 6.2 12 5.8 13.7 2.7 7.6 2.4 7.5 3.8 14.6 2.6 14.2 1.5 13.9 0.5 13.8 0 12-198.7 0z" fill="#dd9b54"/>
<path d="M126 502.9l0.6-15.6 1.3-14.1 2.3-14.5 3.3-15.2 4.5-16.3 5.1-15.3 5.6-14 3.4-7.2 2.6-4.8 6-9.3 5.2-6.5 3.8-4.1 4.1-3.9 6.6-5.2 4.7-3 4.9-2.8 7.7-3.2 8-2.2 8.2-0.9 8.3 0.5 5.5 1 5.4 1.5 5.3 1.9 5.1 2.3 5 2.6 4.8 2.9 8.9 6.5 4.2 3.5 5.9 5.4 8.9 9.5 4.7 5.9 4.4 6 3.9 6 3.6 6 6.1 12 5.8 13.6 2.7 7.5 2.3 7.4 3.8 14.5 2.5 14.1 1.6 13.8 0.5 13.7 0 12-197.1 0z" fill="#e09d52"/>
<path d="M127 502.9l0.4-13.7 1.5-15.7 2.3-14.3 3.4-15 4.5-16 5.1-15 5.7-13.7 3.4-7 2.6-4.6 5.9-9 3.4-4.3 3.6-4.1 3.9-3.9 4.1-3.6 6.7-4.9 4.7-2.9 4.9-2.5 7.6-3 8-1.9 8.1-0.6 8.2 0.7 5.4 1.1 5.3 1.6 5.1 2 5 2.4 4.8 2.6 4.7 3 8.7 6.4 4 3.5 5.7 5.4 8.6 9.5 4.6 5.8 4.2 5.9 3.8 6 3.4 6 5.9 11.8 5.5 13.4 4.4 12.9 3.7 14.4 2.5 14 1.5 13.7 0.5 13.6 0 12-195.3 0z" fill="#e39e4f"/>
<path d="M127.9 502.9l0.5-13.6 1.3-13.7 2.2-14.1 3.3-14.7 4.4-15.6 5-14.6 5.4-13.2 5.8-11.3 5.6-8.8 3.2-4.2 3.4-4.1 3.7-3.9 4-3.7 4.2-3.4 4.4-3.2 4.6-2.9 4.7-2.5 7.6-3.1 7.8-2 8-0.8 8 0.5 5.3 1 5.2 1.5 5.1 1.9 5 2.3 4.7 2.5 4.6 2.9 8.7 6.3 4 3.4 5.7 5.3 8.5 9.3 4.6 5.7 4.2 5.9 3.8 5.9 3.4 5.9 5.8 11.7 5.5 13.3 4.3 12.9 3.7 14.2 2.5 13.9 1.5 13.6 0.5 13.5 0 12-193.7 0z" fill="#e5a04f"/>
<path d="M129.4 502.9l0.4-13.4 1.3-13.5 2.2-13.9 3.3-14.4 4.4-15.3 5-14.2 5.5-12.9 5.7-10.9 5.5-8.6 6.5-8.2 3.7-3.8 3.8-3.5 4.1-3.4 4.3-3.1 4.5-2.8 4.7-2.5 7.4-3 7.6-2 7.8-0.8 7.9 0.4 5.2 0.9 5.1 1.4 5 1.8 4.9 2.2 4.7 2.5 4.5 2.7 8.5 6.1 4 3.3 5.6 5.1 8.5 9.1 4.5 5.6 4.1 5.7 3.7 5.8 3.4 5.8 5.8 11.5 5.5 13.1 4.2 12.7 3.6 14.1 2.5 13.6 1.5 13.5 0.5 13.3 0 12-190.9 0z" fill="#e6a352"/>
<path d="M130.8 502.9l0.5-13.2 1.3-13.3 2.2-13.7 3.2-14.2 4.4-14.9 5.1-13.8 5.4-12.6 5.7-10.6 5.4-8.4 6.4-7.9 3.6-3.7 3.8-3.5 4-3.3 4.2-3 4.4-2.8 4.6-2.4 7.2-2.9 4.9-1.5 5.1-0.9 7.7-0.5 7.7 0.8 5 1.1 5 1.5 4.8 1.9 4.7 2.2 8.9 5.2 8.2 6.1 3.9 3.2 5.4 5.1 8.1 8.9 4.4 5.5 3.9 5.6 3.6 5.7 3.2 5.7 5.6 11.3 5.2 12.8 4 12.5 3.1 12.1 2.4 13.5 1.5 13.3 0.5 13.1 0 12-188.2 0z" fill="#e7a655"/>
<path d="M132.3 502.9l0.4-13 1.3-13.1 2.2-13.4 3.3-14 4.4-14.6 5-13.5 5.4-12.2 5.7-10.3 5.3-8.1 6.3-7.7 7.2-7 3.9-3.2 4.1-3 4.3-2.7 4.5-2.4 7.1-2.8 4.8-1.5 5-0.9 7.5-0.5 7.5 0.6 5 1 4.8 1.5 4.8 1.8 4.6 2.1 8.8 5 8 5.8 3.8 3.2 5.4 4.9 8 8.7 4.3 5.4 3.9 5.5 3.6 5.5 3.2 5.6 5.5 11.1 5.2 12.6 4 12.3 3 12 2.4 13.3 1.4 13 0.4 13 0 12-185.3 0z" fill="#e8a958"/>
<path d="M133.7 502.9l0.4-12.8 1.3-12.9 2.2-13.2 3.3-13.7 4.4-14.3 5.1-13.1 5.4-11.9 5.6-10 5.3-7.8 6.1-7.5 7-6.9 3.9-3.1 4-2.9 4.2-2.6 4.4-2.3 6.9-2.9 4.7-1.4 4.8-0.9 7.4-0.6 7.3 0.6 4.9 0.9 4.8 1.4 4.6 1.7 4.6 2 8.6 4.8 7.9 5.6 3.8 3.1 5.3 4.7 7.9 8.5 4.3 5.2 3.8 5.4 5.8 9 5.6 10.9 5.3 12.5 4.1 12.2 3.4 13.5 2.4 13.1 1.3 12.9 0.5 12.8 0 12-182.6 0z" fill="#e9ac5b"/>
<path d="M135.2 502.9l0.4-12.6 1.3-12.7 2.2-13 3.2-13.4 4.5-13.9 5-12.9 5.4-11.4 5.5-9.7 5.3-7.7 6-7.2 6.9-6.7 3.7-3.1 4-2.8 4.1-2.6 4.3-2.2 6.7-2.8 4.6-1.4 4.7-0.9 7.2-0.6 7.2 0.5 4.7 0.8 4.7 1.3 4.6 1.5 4.4 2 8.5 4.6 7.9 5.4 8.8 7.6 7.9 8.1 4.2 5.2 3.9 5.2 5.6 8.8 5.7 10.7 5.2 12.4 4 11.9 3 11.7 2.5 13 1.4 12.7 0.6 14.2 0 12-179.8 0z" fill="#eaaf5e"/>
<path d="M136.6 502.9l0.4-12.4 1.3-12.5 2.2-12.7 2.8-11.5 3.7-11.9 4.7-12.3 5-11 6.3-11.2 6.3-9.3 5.9-7 6.7-6.6 7.5-5.7 4-2.5 4.2-2.2 6.6-2.7 4.5-1.4 4.6-0.9 7-0.7 4.7 0.2 4.7 0.6 4.6 0.9 4.5 1.4 4.4 1.6 4.3 2 8.2 4.6 7.6 5.3 8.6 7.5 7.5 8.1 4.1 5 3.7 5.1 5.4 8.7 5.4 10.5 5 12.1 3.8 11.7 2.9 11.5 2.2 12.8 1.3 12.5 0.5 12.4 0 12-177.1 0z" fill="#ebb161"/>
<path d="M138.1 502.9l0.4-12.2 1.2-12.2 2.2-12.6 3.3-12.9 3.8-11.6 4.9-12.1 5.2-10.7 6.4-10.9 6.5-8.9 6-6.7 6.7-6.2 7.5-5.3 4-2.3 4.2-2 6.5-2.4 4.4-1.2 4.5-0.8 6.9-0.3 4.6 0.3 4.5 0.7 4.5 1 4.4 1.4 8.4 3.7 7.9 4.6 7.3 5.3 8.3 7.4 7.3 7.9 6.3 8.3 5.4 8.5 5.3 10.3 4.9 11.9 3.8 11.6 2.8 11.3 2.2 12.5 1.3 12.4 0.4 12.2 0 12-174.2 0z" fill="#ecb464"/>
<path d="M139.5 502.9l0.4-12 1.3-12 2.2-12.3 2.8-11.1 3.6-11.3 4.8-11.7 5-10.3 6.2-10.5 6.1-8.6 5.7-6.7 6.4-6.1 7.1-5.5 3.9-2.4 3.9-2.1 4.2-1.8 4.2-1.4 4.4-1.2 4.4-0.8 6.7-0.4 4.4 0.2 4.5 0.7 4.4 0.9 4.3 1.3 8.2 3.5 7.8 4.4 3.7 2.5 5.2 4 8 7.2 7 7.8 6 8.1 5.2 8.3 5.1 10.1 4.1 10 3.7 11.5 2.8 11.1 2.2 12.4 1.2 12.2 0.4 12 0 12-171.5 0z" fill="#edb667"/>
<path d="M141 502.9l0.4-11.8 1.2-11.8 2.2-12.1 2.8-10.8 3.7-11.1 4.7-11.4 5.1-9.9 6.1-10.1 6-8.4 5.6-6.4 6.2-6 7-5.3 3.7-2.3 3.9-2 4-1.8 4.2-1.5 4.2-1.1 4.3-0.8 6.5-0.5 4.4 0.2 4.3 0.5 4.3 0.9 4.2 1.2 8.1 3.3 7.7 4.2 3.6 2.3 5.1 3.9 7.9 7 6.9 7.5 6 7.9 5.2 8.2 5 9.9 4.1 9.8 3.7 11.3 2.7 10.9 2.1 12.3 1.2 12 0.4 11.8 0 12-168.7 0z" fill="#edb96a"/>
<path d="M142.4 502.9l0.4-11.6 1.1-10.1 2-11.9 2.7-10.5 3.5-10.8 4.6-11 4.9-9.6 5.9-9.7 5.8-8.1 6.7-7.8 6.1-5.8 6.8-5.2 7.4-4.2 3.9-1.7 4-1.5 4.1-1.1 4.2-0.8 6.4-0.5 4.2 0.1 4.3 0.4 4.2 0.8 4.1 1.1 7.9 3 7.5 4 3.6 2.3 5.1 3.7 7.7 6.7 6.9 7.4 5.9 7.7 5.1 7.9 5 9.7 4.1 9.7 3.6 11.1 2.6 10.8 2.1 12 1.2 11.8 0.4 11.7 0 12-166 0z" fill="#eebb6c"/>
<path d="M144 502.9l0.3-11.3 1.3-11.5 2.2-11.6 2.7-10.4 3.7-10.5 4.7-10.8 4.9-9.4 6-9.5 5.9-7.8 6.7-7.5 6.2-5.5 6.8-4.8 7.4-3.8 3.8-1.6 4-1.2 4.1-1 4.1-0.6 6.2-0.3 4.2 0.3 4.1 0.6 4 0.9 4 1.2 7.7 3.2 7.2 4 8.3 6 7.4 6.7 6.6 7.2 5.7 7.5 4.8 7.8 4.8 9.5 3.8 9.5 3.4 10.8 2.5 10.6 1.8 10.3 1.1 11.6 0.4 11.4 0 12-162.8 0z" fill="#efbd6f"/>
<path d="M145.5 502.9l0.4-11.1 1-9.8 2-11.4 2.6-10.1 3.5-10.3 4.5-10.5 4.8-9.2 5.7-9.2 5.6-7.6 6.4-7.3 4.4-4.1 3.1-2.6 6.6-4.7 7.2-3.8 7.7-2.7 3.9-0.9 4-0.7 6.1-0.3 4.1 0.3 4 0.5 7.8 2.1 7.6 3 7 4 8.1 5.8 7.3 6.5 6.4 7 5.6 7.4 4.8 7.6 4.7 9.2 3.8 9.3 3.4 10.5 2.4 10.4 1.7 10.1 1.2 11.4 0.4 11.2 0 12-159.8 0z" fill="#efbf72"/>
<path d="M147.1 502.9l0.3-10.9 1-9.6 2-11.1 2.6-10 3.5-10 4.4-10.3 4.7-8.9 5.6-8.9 5.5-7.4 6.4-7.1 7.2-6.5 6.5-4.5 7-3.7 7.5-2.7 3.9-0.9 3.9-0.6 5.9-0.3 4 0.2 3.9 0.5 7.7 2 7.3 2.9 6.9 3.8 8 5.7 7.1 6.3 6.3 6.8 5.5 7.2 4.7 7.4 4.6 9 3.8 9 3.3 10.4 2.4 10.1 1.7 10 1.1 11.1 0.4 11 0 12-156.6 0z" fill="#f0c274"/>
<path d="M148.6 502.9l0.4-10.7 1-9.4 1.9-10.9 2.6-9.7 3.4-9.9 4.4-10 4.6-8.6 5.6-8.7 5.4-7.1 6.2-6.9 7.1-6.3 6.3-4.4 6.9-3.5 7.2-2.7 7.6-1.5 5.8-0.3 3.9 0.2 3.8 0.5 7.5 1.9 7.2 2.8 6.7 3.7 7.8 5.4 7 6.2 6.1 6.6 5.5 7 4.6 7.2 4.6 8.8 3.6 8.8 3.3 10.1 2.4 10 1.7 9.7 1.1 10.9 0.3 10.8 0 12-153.5 0z" fill="#f0c477"/>
<path d="M150.1 502.9l0.4-10.5 1-9.2 2-10.7 2.5-9.5 3.3-9.6 3.7-8.3 4.4-8.4 5.3-8.4 5.2-7 5.9-6.7 6.8-6.2 6-4.4 6.6-3.7 7-2.8 7.3-1.8 3.7-0.4 3.8-0.2 3.8 0.2 3.7 0.5 7.3 1.8 7 2.7 6.6 3.6 7.6 5.2 6.8 6 6.1 6.4 5.3 6.8 4.6 7 4.5 8.6 3.6 8.6 3.3 9.9 2.3 9.7 1.7 9.5 1 10.7 0.4 10.6 0 12-150.5 0z" fill="#f1c67a"/>
<path d="M151.7 502.9l0.3-10.3 1-9 2-10.4 2.5-9.3 3.3-9.4 3.6-8.1 4.4-8.2 5.2-8.1 5.1-6.7 5.8-6.5 6.6-6 5.9-4.3 6.4-3.5 6.8-2.8 7.1-1.7 3.6-0.5 3.7-0.1 7.3 0.6 7.1 1.7 6.9 2.6 7.9 4.4 7.3 5.2 6.6 5.9 5.8 6.3 5 6.6 4.4 6.9 4.3 8.4 3.4 8.4 2.7 8.2 2.3 9.6 1.6 9.3 1.1 10.4 0.3 10.4 0 12-147.3 0z" fill="#f2c87d"/>
<path d="M153.2 502.9l0.4-10 1-8.9 1.6-8.9 2.3-9 3.2-9.2 3.4-7.9 4.2-7.9 5-7.9 6-7.8 5.6-6.2 6.5-5.8 5.7-4.1 6.3-3.5 6.6-2.7 6.9-1.7 7.1-0.6 7.1 0.5 6.9 1.7 6.7 2.5 7.8 4.2 7.1 5.1 6.4 5.7 5.7 6.1 5 6.4 4.2 6.7 4.3 8.1 3.4 8.2 2.6 8.1 2.3 9.3 1.6 9.1 1 10.3 0.4 10.1 0 12-144.3 0z" fill="#f2ca7f"/>
<path d="M154.8 502.9l0.3-9.8 1-8.7 1.6-8.7 2.3-8.8 3.1-8.9 3.4-7.7 4.2-7.7 4.9-7.7 5.8-7.5 5.6-6 6.3-5.6 5.6-3.9 6-3.4 6.5-2.5 6.7-1.7 6.9-0.7 6.9 0.5 6.8 1.6 6.4 2.4 7.6 4.1 7 4.8 6.3 5.5 5.5 6 4.9 6.2 4.2 6.5 4.2 7.9 3.3 7.9 2.6 7.9 2.3 9.1 1.6 9 1 10 0.3 9.9 0 12-141.1 0z" fill="#f3cc83"/>
<path d="M156.3 502.9l0.4-9.6 0.9-8.5 1.6-8.5 2.3-8.6 3.1-8.7 3.3-7.5 4.1-7.4 4.9-7.4 5.7-7.3 5.5-5.7 6.1-5.4 5.5-3.8 5.8-3.2 6.3-2.5 6.5-1.7 6.7-0.6 6.7 0.4 6.6 1.5 6.3 2.3 7.4 3.9 6.8 4.7 6.1 5.3 5.5 5.7 4.7 6.1 4.2 6.2 4.1 7.7 3.3 7.8 2.6 7.7 2.2 8.9 1.5 8.7 1 9.8 0.3 9.7 0 12-138 0z" fill="#f3cf86"/>
<path d="M157.8 502.9l0.4-9.4 0.9-8.2 1.6-8.4 2.3-8.4 3-8.4 3.3-7.3 4.1-7.2 4.8-7.2 5.6-6.9 5.3-5.6 6-5.1 6.7-4.5 5.8-2.9 6.1-2.3 6.4-1.4 6.5-0.4 6.5 0.6 6.4 1.7 6 2.4 7.1 3.9 6.5 4.6 5.9 5.2 5.2 5.6 4.5 5.9 4 6.1 3.9 7.5 3.1 7.6 2.5 7.5 2.1 8.6 1.4 8.5 0.8 8.4 0.3 9.5 0 12-135 0z" fill="#f4d189"/>
<path d="M159.4 502.9l0.3-9.2 1-8 1.5-8.2 2.3-8.2 3-8.2 3.3-7 3.9-7 4.7-6.9 5.5-6.7 5.3-5.3 5.8-4.9 6.5-4.3 5.6-2.9 6-2.2 6.2-1.3 6.3-0.5 6.3 0.6 6.1 1.5 5.9 2.3 6.9 3.8 6.4 4.4 5.7 5.1 5.1 5.4 4.5 5.7 3.8 5.9 3.9 7.2 3.1 7.4 2.4 7.3 2.1 8.4 1.3 8.4 0.8 8.1 0.3 9.3 0 12-131.8 0z" fill="#f5d48c"/>
<path d="M160.9 502.9l0.3-7.8 0.8-7.9 1.5-7.9 2.1-8 2.9-8 3.1-6.8 3.8-6.8 4.5-6.7 5.2-6.4 5.1-5.1 5.5-4.8 6.2-4.3 6.8-3.5 5.7-2.1 6-1.4 6.1-0.5 6.1 0.6 6 1.4 5.7 2.2 6.8 3.6 6.1 4.3 5.6 4.8 5 5.2 4.4 5.5 3.8 5.7 3.8 7.1 3 7.1 2.4 7.1 2 8.3 1.4 8.1 0.8 8 0.3 9 0 12-128.8 0z" fill="#f5d68f"/>
<path d="M162.5 502.9l0.2-7.6 0.9-7.7 1.4-7.7 2.1-7.8 2.8-7.8 3.1-6.6 3.7-6.6 4.5-6.4 5.1-6.1 4.9-4.9 5.5-4.6 6-4 6.5-3.4 5.6-2.1 5.8-1.4 5.9-0.4 5.9 0.4 5.8 1.4 5.6 2.1 6.5 3.4 6 4.1 5.4 4.6 4.9 5 5.1 6.4 3.6 5.6 3.7 6.8 2.8 7 2.3 6.9 1.6 6.9 1.4 7.9 0.7 7.8 0.3 8.8 0 12-125.6 0z" fill="#f6d892"/>
<path d="M164.7 502.9l0.3-8.4 0.9-7.4 1.4-7.5 2.2-7.5 2.3-6.4 3-6.4 3.6-6.3 4.3-6.2 5-6 4.7-4.6 5.3-4.4 5.8-3.9 6.3-3.3 5.3-1.9 5.6-1.3 5.7-0.5 5.7 0.5 5.6 1.3 5.4 1.9 6.3 3.3 5.7 4 5.3 4.4 4.7 4.9 4.9 6.1 3.5 5.4 3.5 6.6 2.8 6.7 2.1 6.6 1.6 6.7 1.3 7.6 0.8 7.5 0.2 8.5 0 12-121.1 0z" fill="#f6da94"/>
<path d="M166.9 502.9l0.2-7.1 0.8-7.1 1.3-7.2 2-7.2 2.2-6.2 2.7-6.2 3.4-6.1 4-6 4.7-5.7 5.5-5.5 5-4.1 5.6-3.8 6.1-3.1 5.1-1.9 5.4-1.2 5.5-0.4 5.5 0.4 5.3 1.2 5.2 1.9 6 3.2 5.6 3.8 5.1 4.2 4.5 4.7 4.7 5.9 3.4 5.2 3.3 6.3 2.7 6.4 2.1 6.5 1.5 6.3 1.3 7.4 0.7 7.2 0.3 8.2 0 12-116.7 0z" fill="#f7dc97"/>
<path d="M169.1 502.9l0.2-6.8 0.7-6.9 1.3-6.9 1.9-6.9 2.1-6 2.7-6 3.2-5.8 3.9-5.8 4.5-5.5 5.3-5.2 4.9-4 5.3-3.5 5.8-3 5-1.8 5.2-1.2 5.2-0.4 5.3 0.5 5.1 1.1 5 1.8 5.8 3 5.4 3.7 4.8 4.1 4.4 4.4 4.5 5.7 3.2 5 3.3 6.1 2.5 6.1 2 6.2 1.5 6.1 1.2 7.1 0.7 6.9 0.3 7.9 0 12-112.2 0z" fill="#f7dd99"/>
<path d="M171.3 502.9l0.2-6.6 0.7-6.6 1.2-6.6 1.8-6.7 2.5-6.6 2.6-5.8 3.2-5.6 3.2-4.5 4.4-5.3 5-5 4.7-3.8 5.1-3.4 5.6-2.8 4.8-1.7 4.9-1.1 5.1-0.4 5 0.4 4.9 1.1 4.8 1.7 5.6 2.9 5.1 3.5 4.7 3.9 4.2 4.3 4.3 5.4 3.1 4.8 3.1 5.8 2.5 5.9 1.9 5.9 1.4 5.9 1.2 6.8 0.7 6.6 0.2 7.6 0 12-107.7 0z" fill="#f8df9c"/>
<path d="M173.5 502.9l0.2-6.3 0.7-6.3 1.1-6.4 1.8-6.4 2.3-6.4 2.5-5.5 3.1-5.3 3.1-4.4 4.2-5.1 3.9-4 5.4-4.3 4.9-3.3 5.4-2.6 4.6-1.6 4.7-1.1 4.8-0.3 4.8 0.3 4.8 1.1 4.5 1.6 5.3 2.7 5 3.4 4.4 3.7 4 4.1 4.2 5.2 3 4.6 3 5.6 2.3 5.6 1.9 5.7 1.3 5.6 1.1 6.5 0.7 6.4 0.2 7.2 0 12-103.2 0z" fill="#f8e19f"/>
<path d="M175.7 502.9l0.2-6 0.6-6.1 1.2-6.1 1.6-6.1 2.2-6.1 2.5-5.3 2.9-5.1 2.9-4.2 4.1-4.8 3.8-3.8 5.1-4.2 4.8-3 5.1-2.5 4.3-1.6 4.5-1 4.7-0.3 4.6 0.4 4.5 1 4.3 1.5 5.1 2.6 4.7 3.2 4.3 3.5 3.8 3.9 4 5 2.9 4.3 2.8 5.4 2.3 5.4 1.7 5.4 1.3 5.4 1.1 6.2 0.6 6.1 0.3 6.9 0 12-98.8 0z" fill="#f9e3a1"/>
<path d="M177.9 502.9l0.2-5.8 0.6-5.7 1.1-5.9 1.5-5.8 2.2-5.9 2.3-5 2.8-4.9 2.8-4 3.9-4.6 3.6-3.6 4.1-3.3 4.4-3 4.9-2.4 4.1-1.6 5.3-1.2 4.4-0.3 4.4 0.3 4.3 0.9 4.1 1.5 4.9 2.5 4.5 2.9 4.1 3.4 3.6 3.8 3.2 3.9 2.8 4.1 2.8 5.1 2.3 5.1 1.7 5.2 1.5 6 1.1 5.9 0.6 5.8 0.2 6.6 0 12-94.3 0z" fill="#f9e4a4"/>
<path d="M180.1 502.9l0.2-5.5 0.6-5.5 1-5.6 1.5-5.5 2-5.6 2.2-4.8 2.7-4.7 2.7-3.8 3.7-4.3 3.5-3.4 3.8-3.2 4.3-2.7 4.6-2.4 3.9-1.4 5.1-1.2 4.1-0.3 4.2 0.3 4.1 0.9 3.9 1.4 4.7 2.3 4.2 2.8 3.9 3.3 3.5 3.5 3.1 3.7 2.6 3.9 2.7 4.9 2.1 4.9 1.7 4.9 1.4 5.7 1 5.6 0.6 5.5 0.2 6.3 0 12-89.8 0z" fill="#fae6a6"/>
<path d="M182.3 502.9l0.2-5.2 0.5-5.3 1-5.2 1.4-5.3 1.9-5.4 2.2-4.5 2.5-4.4 2.6-3.6 3.5-4.2 3.3-3.2 3.7-2.9 4-2.6 4.4-2.2 3.7-1.4 4.8-1 4-0.3 3.9 0.3 3.9 0.8 3.7 1.3 4.4 2.2 4.1 2.6 3.7 3.1 3.3 3.3 2.9 3.6 2.5 3.7 2.5 4.6 2.1 4.6 1.6 4.7 1.3 5.4 1 5.3 0.5 5.2 0.2 6 0 12-85.3 0z" fill="#fae8a9"/>
<path d="M184.5 502.9l0.2-5 0.5-4.9 0.9-5 1.4-5.1 1.8-5 2-4.3 2.4-4.2 2.4-3.4 3.4-3.9 3.2-3 3.5-2.8 3.8-2.4 4.1-2.1 3.5-1.2 4.6-1 3.7-0.3 3.8 0.3 3.6 0.8 3.5 1.2 4.2 2 3.9 2.5 3.4 2.9 3.2 3.2 2.7 3.3 2.4 3.5 2.4 4.3 1.9 4.4 1.5 4.4 1.4 5.1 0.8 5.1 0.6 5 0.2 5.6 0 12-80.9 0z" fill="#fbeaab"/>
<path d="M186.7 502.9l0.1-4.7 0.6-4.7 0.8-4.7 1.3-4.8 1.7-4.7 1.9-4.1 2.3-4 2.3-3.2 3.2-3.7 3-2.8 3.3-2.6 3.7-2.2 3.9-1.9 3.3-1.2 4.3-0.9 3.5-0.2 3.5 0.3 3.4 0.7 3.4 1.1 3.9 1.9 3.6 2.3 3.3 2.7 2.9 3 2.6 3.1 2.3 3.3 2.3 4.1 1.8 4.2 1.4 4.1 1.3 4.8 0.8 4.8 0.5 4.7 0.2 5.3 0 12-76.4 0z" fill="#fbebae"/>
<path d="M188.9 502.9l0.1-4.4 0.5-4.4 0.8-4.5 1.2-4.5 1.7-4.5 1.8-3.8 2.1-3.8 2.2-3 3-3.4 2.9-2.7 3.1-2.3 3.4-2.1 3.7-1.8 3.1-1 4-0.8 3.3-0.3 3.3 0.3 3.2 0.7 3.2 1 3.7 1.7 3.4 2.2 3.1 2.5 2.7 2.8 2.5 3 2.1 3.1 2.1 3.8 1.7 3.9 1.4 3.9 1.2 4.5 0.8 4.5 0.4 4.4 0.2 5 0 12-71.9 0z" fill="#fcedb1"/>
<path d="M191.1 502.9l0.6-8.3 0.7-4.2 1.2-4.2 1.5-4.2 1.7-3.6 2-3.5 2.1-2.9 2.8-3.2 2.7-2.4 3-2.2 3.2-1.9 3.4-1.6 2.9-1 3.8-0.7 3.1-0.2 3 0.2 3.1 0.6 2.9 1 3.4 1.6 3.2 2 2.9 2.4 2.6 2.6 2.3 2.7 2 2.9 2 3.6 1.6 3.6 1.3 3.7 1.1 4.2 0.7 4.2 0.5 4.1 0.2 4.7 0 12-67.5 0z" fill="#fcefb4"/>
<path d="M193.3 502.9l0.2-4.4 0.4-3.9 0.8-3.9 1.1-4 1.2-3.4 1.6-3.3 1.9-3.3 2-2.7 2.6-2.9 2.5-2.3 2.8-2 3-1.7 3.3-1.5 2.7-0.8 3.5-0.7 2.8-0.1 2.9 0.2 2.8 0.5 2.7 0.9 3.2 1.5 3 1.8 2.7 2.2 2.4 2.4 2.1 2.6 1.9 2.7 1.8 3.3 2.7 6.8 1.1 3.9 0.7 3.9 0.6 8.2 0 12-63 0z" fill="#fdf1b7"/>
<path d="M195.5 502.9l0.6-7.7 0.7-3.7 1-3.7 2.6-6.2 1.9-3.1 1.7-2.4 2.1-2.3 2.3-2.1 2.5-1.9 2.8-1.6 3-1.4 3.1-1 3.2-0.5 2.7-0.2 2.6 0.2 3.2 0.7 2.5 0.8 2.9 1.4 2.2 1.4 2.5 2 2.3 2.2 2 2.4 3.4 5.6 2.5 6.2 1.6 7.3 0.6 7.6 0 12-58.5 0z" fill="#fdf2ba"/>
<path d="M197.7 502.9l0.5-7.2 1.6-6.7 2.5-5.9 1.7-2.8 1.6-2.2 1.9-2.1 2.2-1.9 2.3-1.7 2.6-1.5 2.7-1.1 2.9-0.9 3-0.5 2.4-0.1 2.4 0.1 3 0.6 2.3 0.8 2.7 1.3 4.3 3 3.9 4.2 3.2 5.2 2.3 5.7 1.5 6.7 0.5 7 0 12-54 0z" fill="#fef4bd"/>
<path d="M199.9 502.9l0.5-6.6 1.5-6.2 2.2-5.4 3.1-4.6 3.8-3.6 4.5-2.8 2.5-1 2.6-0.8 4.9-0.5 4.9 0.7 4.6 1.8 4 2.7 3.5 3.9 2.9 4.7 2.1 5.2 1.4 6.1 0.6 6.4 0 12-49.6 0z" fill="#fef6c1"/>
<path d="M202.1 502.9l0.5-6 1.2-5.3 1.9-4.9 2.8-4.2 3.4-3.3 4.1-2.5 4.6-1.6 4.4-0.5 4.4 0.4 4.2 1.5 3.7 2.3 3.3 3.4 2.7 4.2 2.1 5.2 1.3 5.5 0.5 5.8 0 12-45.1 0z" fill="#fff8c4"/>
<path d="M204.3 502.9l0.4-5.4 1.2-5.2 1.9-4.4 2.3-3.4 2.7-2.7 3.7-2.2 4.1-1.4 4.4-0.5 3.9 0.4 3.8 1.2 3.3 2.1 2.9 3 2.5 3.8 1.9 4.6 1.2 4.9 0.4 5.2 0 12-40.6 0z" fill="#fff9c6"/>
</g>
<path d="M107.37 502.9l0.1-12.35 0.24-10.45 0.48-12.91 0.59-11.25 0.8-11.85 1.05-12.66 1.06-10.85 1.31-11.66 1.62-12.61 1.47-10.2 1.72-10.95 2.08-11.75 1.69-8.21 2.05-8.39 2.5-8.46 1.44-4.21 1.57-4.17 1.72-4.13 1.87-4.03 2.04-3.91 2.22-3.73 2.41-3.52 2.61-3.27 2.8-2.96 2.99-2.63 3.18-2.26 3.34-1.89 3.48-1.56 3.59-1.25 3.67-0.97 3.74-0.71 3.79-0.47 3.82-0.23 3.86 0 3.87 0.22 3.87 0.44 3.87 0.66 3.85 0.85 3.82 1.04 3.8 1.23 3.75 1.38 3.7 1.53 3.64 1.67 3.59 1.78 6.97 3.86 6.69 4.18 6.4 4.38 9.07 6.79 5.69 4.57 5.45 4.56 7.71 6.82 4.84 4.61 2.31 2.34 4.44 4.77 6.17 7.3 5.62 7.38 5.11 7.37 4.65 7.31 4.23 7.21 5.04 9.42 4.45 9.19 3.91 8.96 3.41 8.75 2.98 8.56 2.57 8.37 2.2 8.22 1.86 8.07 1.87 9.93 1.16 7.84 1.06 9.69 0.63 9.62 0.2 9.58M116.6 502.9l0.13-9.47 0.3-7.63 0.6-9.67 0.69-7.89 1.14-10.14 1.16-8.39 1.39-8.69 1.67-9.06 1.98-9.5 2.34-10.02 2.76-10.61 2.38-8.4 2.71-8.84 3.14-9.2 2.43-6.24 2.76-6.23 3.15-6.09 1.73-2.97 1.84-2.89 1.95-2.8 2.06-2.7 2.16-2.59 2.28-2.48 2.37-2.35 2.46-2.24 2.56-2.12 2.64-1.98 2.71-1.86 2.8-1.72 2.86-1.57 2.93-1.42 2.99-1.27 3.04-1.09 3.1-0.92 3.14-0.73 3.17-0.54 3.21-0.33 3.23-0.13 3.24 0.08 3.24 0.26 3.23 0.44 3.22 0.62 3.2 0.77 3.17 0.92 3.14 1.06 3.1 1.18 3.05 1.3 5.96 2.89 5.76 3.24 5.53 3.52 5.3 3.74 5.06 3.91 4.83 4.06 6.8 6.3 4.25 4.32 5.93 6.63 5.43 6.72 4.95 6.77 4.52 6.76 4.12 6.7 3.75 6.62 4.49 8.68 3.01 6.39 3.58 8.37 3.14 8.21 2.72 8.04 2.36 7.9 2 7.77 1.69 7.66 1.68 9.45 1.02 7.47 0.75 7.42 0.55 9.23 0.14 7.37M127.93 502.9l0.11-6.78 0.33-6.8 0.54-6.84 0.77-6.91 1-7 1.24-7.11 1.48-7.26 1.75-7.44 2.04-7.65 2.36-7.91 2.72-8.19 2.29-6.37 2.56-6.55 2.9-6.69 3.3-6.77 2.46-4.5 2.69-4.45 2.94-4.38 3.19-4.25 3.44-4.08 3.7-3.89 3.94-3.68 4.18-3.44 4.39-3.17 4.6-2.88 4.79-2.53 4.97-2.15 2.54-0.91 2.58-0.8 2.6-0.67 2.63-0.55 2.65-0.41 2.67-0.26 2.68-0.12 2.68 0.03 2.69 0.17 2.67 0.31 2.66 0.44 2.64 0.56 5.22 1.48 5.09 1.9 4.94 2.26 4.78 2.58 4.6 2.84 4.42 3.06 4.22 3.24 4.04 3.39 5.69 5.31 3.55 3.66 4.99 5.62 4.57 5.75 4.17 5.84 3.77 5.91 3.41 5.91 3.07 5.9 2.78 5.83 2.51 5.76 2.98 7.54 1.97 5.57 2.32 7.3 1.99 7.17 1.68 7.07 1.4 6.97 1.13 6.9 0.88 6.83 0.62 6.79 0.38 6.75 0.13 6.75M142.43 502.9l0.09-5.77 0.29-5.78 0.51-5.81 0.53-4.38 0.91-5.89 1.16-5.94 1.41-6 1.25-4.55 1.91-6.14 1.65-4.65 2.49-6.26 2.11-4.75 2.33-4.79 2.56-4.82 2.81-4.84 3.07-4.87 3.35-4.86 2.42-3.21 3.9-4.74 2.8-3.08 2.96-2.97 3.14-2.83 3.31-2.68 3.47-2.48 3.63-2.24 3.79-1.99 3.91-1.71 4.02-1.43 4.12-1.13 4.18-0.8 4.24-0.45 2.12-0.1 4.26 0.1 4.23 0.45 4.19 0.79 4.12 1.11 4.04 1.39 3.93 1.65 3.81 1.88 3.69 2.09 3.56 2.27 5.07 3.69 3.21 2.62 4.54 4.14 2.85 2.87 4 4.45 2.49 3.04 3.48 4.66 2.14 3.16 2.94 4.8 2.66 4.85 2.37 4.87 2.11 4.85 1.89 4.82 1.68 4.78 1.94 6.3 1.25 4.67 1.42 6.14 1.15 6.06 0.92 5.98 0.69 5.92 0.48 5.88 0.3 5.84 0.1 5.82M162.46 502.9l0.09-4.37 0.18-3.28 0.4-4.38 0.42-3.29 0.74-4.4 0.69-3.32 1.11-4.43 0.98-3.33 1.53-4.44 1.31-3.34 1.46-3.32 1.61-3.32 1.79-3.29 1.95-3.26 2.13-3.23 2.31-3.18 2.5-3.11 2.68-3.05 2.87-2.96 2.03-1.92 3.2-2.78 2.24-1.77 3.54-2.51 2.46-1.56 3.86-2.13 2.67-1.27 2.75-1.12 2.81-0.95 2.87-0.77 2.92-0.57 2.96-0.36 2.97-0.12 2.97 0.12 2.95 0.35 2.91 0.57 2.88 0.77 2.81 0.95 2.75 1.12 2.67 1.27 3.86 2.14 2.47 1.58 3.53 2.54 2.25 1.8 3.2 2.83 2.01 1.97 2.86 3.05 2.65 3.15 2.45 3.24 1.52 2.2 2.1 3.36 1.91 3.41 1.71 3.44 1.53 3.46 1.36 3.47 1.19 3.47 1.04 3.46 0.9 3.45 0.76 3.42 0.64 3.41 0.69 4.5 0.39 3.36 0.37 4.44 0.21 4.42 0.07 4.41M204.28 502.9l0.14-2.89 0.3-2.54 0.49-2.57 0.71-2.58 0.81-2.21 1.04-2.19 1.06-1.77 1.24-1.68 1.45-1.55 1.3-1.12 1.78-1.21 1.91-1 2.03-0.8 2.11-0.57 2.16-0.35 2.19-0.13 2.19 0.11 1.73 0.27 2.12 0.57 1.62 0.65 1.53 0.82 1.76 1.24 1.58 1.44 1.4 1.58 1.2 1.67 1.22 2.08 1 2.12 0.92 2.48 0.7 2.47 0.49 2.45 0.31 2.43 0.16 2.78" fill="none" stroke="#000" stroke-width="0.92" stroke-linejoin="round"/>
</g>
<rect x="89.50" y="67.40" width="444.10" height="444.20" fill="none" stroke="#848484" stroke-width="1"/>
<path d="M98.40 511.60v-4.2M98.40 67.40v4.2M89.50 503.00h4.2M533.60 503.00h-4.2M116.18 511.60v-2.5M116.18 67.40v2.5M89.50 485.22h2.5M533.60 485.22h-2.5M133.95 511.60v-2.5M133.95 67.40v2.5M89.50 467.44h2.5M533.60 467.44h-2.5M151.73 511.60v-2.5M151.73 67.40v2.5M89.50 449.66h2.5M533.60 449.66h-2.5M169.50 511.60v-4.2M169.50 67.40v4.2M89.50 431.88h4.2M533.60 431.88h-4.2M187.28 511.60v-2.5M187.28 67.40v2.5M89.50 414.10h2.5M533.60 414.10h-2.5M205.05 511.60v-2.5M205.05 67.40v2.5M89.50 396.32h2.5M533.60 396.32h-2.5M222.83 511.60v-2.5M222.83 67.40v2.5M89.50 378.55h2.5M533.60 378.55h-2.5M240.60 511.60v-4.2M240.60 67.40v4.2M89.50 360.77h4.2M533.60 360.77h-4.2M258.38 511.60v-2.5M258.38 67.40v2.5M89.50 342.99h2.5M533.60 342.99h-2.5M276.15 511.60v-2.5M276.15 67.40v2.5M89.50 325.21h2.5M533.60 325.21h-2.5M293.93 511.60v-2.5M293.93 67.40v2.5M89.50 307.43h2.5M533.60 307.43h-2.5M311.70 511.60v-4.2M311.70 67.40v4.2M89.50 289.65h4.2M533.60 289.65h-4.2M329.48 511.60v-2.5M329.48 67.40v2.5M89.50 271.87h2.5M533.60 271.87h-2.5M347.25 511.60v-2.5M347.25 67.40v2.5M89.50 254.09h2.5M533.60 254.09h-2.5M365.03 511.60v-2.5M365.03 67.40v2.5M89.50 236.31h2.5M533.60 236.31h-2.5M382.80 511.60v-4.2M382.80 67.40v4.2M89.50 218.53h4.2M533.60 218.53h-4.2M400.58 511.60v-2.5M400.58 67.40v2.5M89.50 200.75h2.5M533.60 200.75h-2.5M418.35 511.60v-2.5M418.35 67.40v2.5M89.50 182.98h2.5M533.60 182.98h-2.5M436.13 511.60v-2.5M436.13 67.40v2.5M89.50 165.20h2.5M533.60 165.20h-2.5M453.90 511.60v-4.2M453.90 67.40v4.2M89.50 147.42h4.2M533.60 147.42h-4.2M471.68 511.60v-2.5M471.68 67.40v2.5M89.50 129.64h2.5M533.60 129.64h-2.5M489.45 511.60v-2.5M489.45 67.40v2.5M89.50 111.86h2.5M533.60 111.86h-2.5M507.23 511.60v-2.5M507.23 67.40v2.5M89.50 94.08h2.5M533.60 94.08h-2.5M525.00 511.60v-4.2M525.00 67.40v4.2M89.50 76.30h4.2M533.60 76.30h-4.2" fill="none" stroke="#848484" stroke-width="1"/>
<text x="98.40" y="532.60" font-size="19" text-anchor="middle" fill="#000">0.0</text><text x="86.90" y="508.90" font-size="19" text-anchor="end" fill="#000">0.0</text><text x="169.50" y="532.60" font-size="19" text-anchor="middle" fill="#000">0.2</text><text x="86.90" y="437.78" font-size="19" text-anchor="end" fill="#000">0.2</text><text x="240.60" y="532.60" font-size="19" text-anchor="middle" fill="#000">0.4</text><text x="86.90" y="366.67" font-size="19" text-anchor="end" fill="#000">0.4</text><text x="311.70" y="532.60" font-size="19" text-anchor="middle" fill="#000">0.6</text><text x="86.90" y="295.55" font-size="19" text-anchor="end" fill="#000">0.6</text><text x="382.80" y="532.60" font-size="19" text-anchor="middle" fill="#000">0.8</text><text x="86.90" y="224.43" font-size="19" text-anchor="end" fill="#000">0.8</text><text x="453.90" y="532.60" font-size="19" text-anchor="middle" fill="#000">1.0</text><text x="86.90" y="153.32" font-size="19" text-anchor="end" fill="#000">1.0</text><text x="525.00" y="532.60" font-size="19" text-anchor="middle" fill="#000">1.2</text><text x="86.90" y="82.20" font-size="19" text-anchor="end" fill="#000">1.2</text>
<text x="0.09" y="295.10" font-size="19.00" text-anchor="start">{<tspan font-style="italic">k</tspan><tspan font-size="13.30" dy="3.00" font-style="italic">y</tspan><tspan dy="-3.00" font-style="italic" dx="4.20">H</tspan><tspan font-size="13.30" dy="3.00">0</tspan><tspan dy="-3.00">}</tspan></text>
<text x="284.15" y="560.10" font-size="19.00" text-anchor="start">{<tspan font-style="italic">k</tspan><tspan font-size="13.30" dy="3.00" font-style="italic">x</tspan><tspan dy="-3.00" font-style="italic" dx="4.20">H</tspan><tspan font-size="13.30" dy="3.00">0</tspan><tspan dy="-3.00">}</tspan></text>
<g font-size="12.80" transform="translate(541.10 288.00) scale(1.0000)">
<text transform="translate(-0.8 8.4) scale(1.3 1.77)" font-size="19" x="0" y="0" stroke="#fff" stroke-width="0.3">{</text>
<text transform="translate(41.6 8.4) scale(1.3 1.77)" font-size="19" x="0" y="0" stroke="#fff" stroke-width="0.3">}</text>
<text x="11.2" y="-4.9" font-style="italic">ω<tspan dx="2.4">H</tspan><tspan font-size="9.5" dy="2.3" font-style="normal">0</tspan></text>
<rect x="10.1" y="-2.6" width="28.2" height="1.1" fill="#000"/>
<text x="18" y="14.1">a<tspan font-size="9.5" dy="1.6" dx="-0.4" font-style="italic">g</tspan></text>
</g>
<g transform="translate(311.55 34.40) scale(1.0000)"><text x="0" y="0" font-size="22.4" text-anchor="middle">Classic Parker, <tspan font-style="italic" dx="1.5">γ</tspan>c=0, m=1.5, <tspan font-style="italic" dx="1.5">β</tspan>=Pc/Pg=1.25</text></g>
<rect x="611.30" y="6.10" width="14.80" height="550.30" fill="url(#cmapg)" stroke="#000" stroke-opacity="0.12" stroke-width="0.8"/>
<text x="633.00" y="563.40" font-size="19" text-anchor="start" fill="#595959">0</text><text x="633.00" y="380.45" font-size="19" text-anchor="start" fill="#595959">0.1</text><text x="633.00" y="197.51" font-size="19" text-anchor="start" fill="#595959">0.2</text><text x="633.00" y="14.56" font-size="19" text-anchor="start" fill="#595959">0.3</text>
<path d="M626.10 556.40h4.0M626.10 519.81h2.6M626.10 483.22h2.6M626.10 446.63h2.6M626.10 410.04h2.6M626.10 373.45h4.0M626.10 336.87h2.6M626.10 300.28h2.6M626.10 263.69h2.6M626.10 227.10h2.6M626.10 190.51h4.0M626.10 153.92h2.6M626.10 117.33h2.6M626.10 80.74h2.6M626.10 44.15h2.6M626.10 7.56h4.0" fill="none" stroke="#000" stroke-opacity="0.11" stroke-width="0.9"/>
<text class="pl" x="666.56" y="592.90" font-size="43.1">(</text>
<text class="pl" transform="translate(679.97 592.60) scale(1.229 1)" font-size="37.92">a</text>
<text class="pl" x="700.00" y="592.90" font-size="43.1">)</text>
</g>
<g id="panel-b">
<g clip-path="url(#cb)">
<g filter="url(#blur)">
<rect x="822.5" y="84.3" width="427.9" height="428.4" fill="#265891"/>
<path d="M834 500.7l0-60.6 1.1-0.7 6 0.3 5.8 0.9 5.5 1.4 6.3 2.4 4.7 2.2 5.2 3.2 4.6 3.4 4.7 4.2 3.9 4.3 3.5 4.8 3.1 5.1 2.8 5.8 2 5.7 1.4 5.8 0.9 5.9 0.3 5.9 0 12-61.8 0z" fill="#2a5a95"/>
<path d="M834.7 500.7l0-31.4 0.8-27 0.9-0.8 4.1-0.4 4.1 0.2 5.5 1 5.2 1.6 6.1 2.5 4.3 2.4 4.9 3.2 4.3 3.5 4.3 4.2 3.5 4.2 3.3 4.6 2.8 5 2.5 5.5 1.8 5.3 1.4 5.6 0.7 5.4 0.3 5.4 0 12-60.8 0z" fill="#315e9c"/>
<path d="M835.3 500.7l-0.1-17.7 0.2-13.1 0.6-13.9 1-11.6 0.8-0.8 1.2-0.4 2.4-0.5 2.5-0.2 4 0.3 5.2 1.2 5 1.8 4.6 2.1 4.2 2.5 4.7 3.2 4.1 3.5 4 4.2 3.4 4.1 3 4.5 2.7 4.7 2.3 5.3 1.8 5.1 1.3 5.4 0.8 5.3 0.2 5 0 12-59.9 0z" fill="#3862a4"/>
<path d="M836 500.7l-0.2-17.4 0.3-12.9 1-13.2 1.3-10.6 0.8-0.9 2-1.1 2.2-0.7 2.5-0.2 3.8 0.4 3.8 0.9 4.9 1.7 4.5 2.2 4.2 2.4 4.6 3.3 3.9 3.4 4 4.1 3.3 4.1 3.3 5 2.5 4.6 2.3 5 1.7 5 1.3 5.2 0.7 4.8 0.2 4.9 0 12-58.9 0z" fill="#3f66ac"/>
<path d="M836.7 500.7l-0.3-16.3 0.3-11.4 0.9-10.9 1.3-9.1 1-4.2 1.4-1.8 1.9-1.3 1-0.4 3.5-0.4 3.7 0.4 3.7 1 4.7 1.9 4.4 2.2 4 2.5 4.4 3.2 3.7 3.4 3.8 4.1 3 4 3.2 4.9 2.6 4.9 2.1 4.8 1.6 4.7 1.2 4.6 0.7 4.7 0.1 4.5 0 12-57.9 0z" fill="#486aaf"/>
<path d="M837.3 500.7l-0.3-14.5 0.2-10 0.7-8.8 1.2-7.9 1.4-6.1 0.9-2.4 1.1-2.1 1.6-1.6 0.9-0.6 1-0.4 2.2-0.3 3.6 0.3 3.6 1 4.7 1.8 4.3 2.3 3.9 2.4 4.3 3.3 3.7 3.3 3.1 3.4 3.1 3.9 3.2 4.9 2.6 4.8 2.2 4.7 1.8 5 1.2 4.5 0.7 4.6 0.2 4.5 0 12-57.1 0z" fill="#566faf"/>
<path d="M838.6 500.7l-0.2-15.5 0.3-9.8 0.8-8.9 1.3-7.9 1.8-5.8 1.8-2.9 1.6-1.3 0.9-0.5 3.2-0.5 3.4 0.3 3.5 0.8 4.4 1.7 4.1 2.1 3.8 2.3 3.3 2.6 3.7 3.5 3.1 3.5 3 4 3 4.8 2.6 4.8 2.2 5.1 1.7 4.8 1.1 4.4 0.7 4.4 0.1 4 0 12-55.2 0z" fill="#6b78a9"/>
<path d="M839.8 500.7l0-15.6 0.4-9.6 0.9-9.8 1.2-6.7 1.4-4.5 1.8-2.8 2.4-1.8 1.9-0.6 2.1-0.2 3.3 0.2 3.2 0.7 4.2 1.5 4 2 2.7 1.7 3.3 2.6 3 2.8 3.1 3.6 3.1 4.1 2.7 4.5 2.9 5.4 2.2 5 1.7 4.7 1.1 4.3 0.7 4.3 0.2 4.2 0 12-53.5 0z" fill="#7d7ea0"/>
<path d="M841 500.7l0.3-16.4 0.4-9.5 0.8-8.8 1.3-6.6 1.6-4.1 1.2-1.7 1.4-1.4 2.6-1.3 2-0.4 2-0.1 3.1 0.3 3.1 0.7 3 1.1 3.8 1.9 2.6 1.8 3.2 2.7 2.9 2.9 2.4 2.9 2.9 4.3 2.7 4.4 2.7 5.4 2.2 4.9 1.6 4.6 1 4.1 0.7 4.2 0.3 4.1 0 12-51.8 0z" fill="#8e8496"/>
<path d="M842.1 500.7l0.2-15.2 0.5-9 1-9.2 1.3-6.2 1.5-3.9 1.1-1.8 1.3-1.4 1.5-1.1 1.8-0.7 3.8-0.6 2.9 0.3 3 0.7 2.9 1 3.6 1.9 2.6 1.8 3.1 2.7 4.4 5.1 2.5 3.7 2.7 4.6 2.7 5.5 2 4.9 1.5 4.3 1.1 4.3 0.6 4.1 0.3 4.2 0 12-49.9 0z" fill="#9d888c"/>
<path d="M843.1 500.7l0.3-14 0.5-8.5 1-8.5 1.5-6.8 1.9-4.7 1.1-1.7 1.3-1.3 1.5-1.1 1.6-0.7 3.7-0.6 2.8 0.2 2.9 0.7 2.8 1 2.6 1.4 2.5 1.7 3.1 2.6 4.4 5.2 2.4 3.7 2.6 4.7 2.3 5 2 5 1.4 4.2 1 4.3 0.7 4.2 0.2 4 0 12-48.1 0z" fill="#ab8c81"/>
<path d="M844.1 500.7l0.3-12.3 0.5-8.7 1.1-7.9 1.7-7.2 1.8-4.6 1.5-2.4 1.2-1.4 1.5-1 1.6-0.8 3.5-0.5 2.7 0.2 2.8 0.6 2.7 1.1 2.5 1.3 2.5 1.7 2.9 2.7 4.2 5.3 2.2 3.7 2.4 4.7 3.8 9.4 2.2 8.2 0.6 4.1 0.2 3.8 0 12-46.4 0z" fill="#b89076"/>
<path d="M845.3 500.7l0.1-11.9 0.6-8.4 1.1-7.5 1.7-6.8 1.8-4.3 1.4-2.4 1.2-1.4 1.3-1.1 1.4-0.8 1.6-0.6 2.6-0.3 2.7 0.3 2.6 0.7 2.6 1.2 2.5 1.4 2.3 1.7 2.7 2.6 4 5 2.1 3.5 2 3.9 1.9 4.4 1.6 4.6 2 8.3 0.5 3.9 0.3 4 0 12-44.6 0z" fill="#c5936a"/>
<path d="M846.5 500.7l0-12 0.5-7.5 0.9-6.5 1.7-6.4 2.5-5.6 2.6-3.5 1.9-1.5 1.5-0.7 1.6-0.4 1.7-0.1 2.6 0.4 2.5 0.9 2.5 1.1 2.4 1.5 2.1 1.7 2.7 2.5 2.2 2.7 1.9 2.8 3.7 6.9 2.8 7.9 1.8 7.9 0.6 7.9 0 12-42.7 0z" fill="#d1965e"/>
<path d="M847.6 500.7l0-10.5 0.3-7 0.8-6.1 1.4-5.9 2.6-6 2.8-4.2 1.8-1.7 1.4-0.8 1.5-0.6 1.6-0.2 2.5 0.4 2.5 0.8 2.4 1.2 3 1.9 2 1.6 2.5 2.4 3.9 5.2 3.2 6.2 2.6 7.4 1.6 8 0.6 7.9 0 12-41 0z" fill="#dc9b55"/>
<path d="M849.1 500.7l-0.1-10.5 0.4-6.7 0.8-5.8 1.6-5.5 2.6-5.5 2.9-3.8 1.7-1.4 1.3-0.8 1.4-0.5 2.3-0.2 2.3 0.3 2.3 0.8 2.3 1.2 2.1 1.4 3.6 3.7 3.7 5.3 3.2 6.6 2.4 6.9 1.4 7.1 0.5 7.4 0 12-38.7 0z" fill="#e6a150"/>
<path d="M850.5 500.7l0-9.9 0.3-6.3 0.9-5.5 1.5-5.1 2.2-4.4 3.1-4 1.6-1.4 1.8-1.2 1.9-0.7 1.4-0.2 1.5 0 2.2 0.6 2.1 1 2 1.4 3.6 3.7 3.1 4.8 3.3 7.1 2.3 6.8 1.2 6.6 0.4 6.7 0 12-36.4 0z" fill="#e9ab5a"/>
<path d="M852.5 500.7l0-9.5 0.4-5.9 0.8-5.1 1.4-4.8 2.1-4.1 3-3.6 1.5-1.3 1.7-1 1.9-0.6 1.3-0.2 1.3 0.1 2 0.6 2 0.9 1.8 1.3 3.3 3.2 3.3 4.8 2.5 5.6 1.9 6.1 1.2 6.6 0.4 6.9 0 12-33.8 0z" fill="#ecb363"/>
<path d="M854.4 500.7l0.2-9.5 0.3-5 0.7-4.8 1.4-4.4 2-3.8 2.8-3.3 3.1-2 2.9-0.6 3.1 0.6 1.8 0.8 2.2 1.4 3.3 3.3 2.6 3.8 2 4.8 1.5 5.3 0.9 6.4 0.4 7 0 12-31.2 0z" fill="#eeba6b"/>
<path d="M855.8 500.7l0.1-8.4 0.4-5.1 0.7-4.4 1.2-4.2 1.9-3.5 2.6-3.1 2.8-1.9 1.6-0.6 1.7-0.2 1.7 0.2 1.7 0.5 3.2 1.8 2.7 2.7 2.4 3.6 2 4.7 1.4 5 1 6.2 0.4 6.7 0 12-29.5 0z" fill="#f0c073"/>
<path d="M857.2 500.7l0.1-8.2 0.4-5.2 0.8-4.2 1.4-3.9 1.9-3.2 2.6-2.6 2.8-1.6 1.5-0.4 1.5-0.1 3.2 0.6 2.4 1.5 2.6 2.6 2.1 3.6 1.8 4.4 1.4 5.1 0.8 5.6 0.4 6 0 12-27.7 0z" fill="#f1c67a"/>
<path d="M858.5 500.7l0.2-7.9 0.5-4.8 0.9-4.4 1.2-3.1 1.8-3 2.5-2.3 3-1.6 2.9-0.5 2.4 0.4 2.3 1.4 2.4 2.6 1.9 3.5 1.6 4.2 1.3 5 0.8 4.9 0.3 5.6 0 12-26 0z" fill="#f3cd83"/>
<path d="M860.1 500.7l0.2-6.5 0.4-4.6 0.8-3.8 1.2-3.2 1.9-3 2.3-2.1 2.8-1.4 2.6-0.4 2.2 0.4 2.4 1.7 2 2.3 1.9 3.4 1.4 3.5 1 4.1 0.6 4.4 0.3 5.2 0 12-24 0z" fill="#f5d38c"/>
<path d="M861.7 500.7l0.1-5.5 0.4-4.1 0.8-3.7 1-2.8 1.8-2.6 2-2 2.4-1.3 2.3-0.5 2.4 0.5 2.2 1.4 2 2.3 1.7 2.8 1.3 3.1 0.9 3.7 0.5 3.9 0.2 4.8 0 12-22 0z" fill="#f6da95"/>
<path d="M863.3 500.7l0.1-4.9 0.3-3.5 0.8-3.2 0.9-2.4 1.5-2.3 2-2 2.2-1.2 2-0.4 2.1 0.4 2.2 1.3 2.1 2.2 1.5 2.4 1 2.6 0.7 3.1 0.4 3.5 0.1 4.4 0 12-19.9 0z" fill="#f8e09e"/>
<path d="M865 500.7l0.4-6.9 0.6-2.7 0.9-2.3 1.2-2 1.7-1.7 1.8-1.1 1.8-0.4 1.8 0.3 1.9 1.1 1.8 1.8 1.3 2 1 2.3 0.6 2.7 0.5 3.1 0.1 3.8 0 12-17.4 0z" fill="#fae6a6"/>
<path d="M866.8 500.7l0.3-5.8 0.6-2.2 0.7-2 1.1-1.6 1.4-1.5 1.5-0.8 1.5-0.3 1.5 0.2 1.6 0.9 1.4 1.5 1.1 1.6 0.9 1.9 0.6 2.4 0.6 5.7 0 12-14.8 0z" fill="#fbebae"/>
<path d="M868.5 500.7l0.4-4.7 1.1-3.4 0.9-1.3 1.2-1.2 1.2-0.6 1.2-0.2 1.2 0.2 1.2 0.7 1.1 1.1 0.9 1.5 1.3 3.6 0.5 4.3 0 12-12.2 0z" fill="#fdf1b8"/>
<path d="M870.2 500.7l0.3-3.3 1-2.8 1.6-1.9 1.8-0.6 0.9 0.1 0.9 0.5 1.6 1.9 1.1 2.9 0.5 3.2 0 12-9.7 0z" fill="#fef4be"/>
<path d="M871.8 500.7l0.2-2.2 0.6-1.9 1.1-1.2 1.2-0.5 1.2 0.5 1 1.2 0.8 2 0.3 2.1 0 12-6.4 0z" fill="#fef6c1"/>
<path d="M873.3 500.7l0.5-2 0.5-0.7 0.6-0.2 0.6 0.2 0.5 0.7 0.6 2 0 12-3.3 0z" fill="#fff8c4"/>
</g>
<path d="M837.33 500.7l-0.29-14.53 0.05-5.57 0.14-4.36 0.29-4.74 0.39-4.1 0.58-4.4 0.6-3.48 0.78-3.64 0.66-2.48 0.85-2.39 0.53-1.1 0.62-1.01 0.71-0.88 0.81-0.73 0.92-0.57 1.02-0.38 1.09-0.23 1.14-0.1 1.18 0.01 2.41 0.3 3.63 0.94 2.37 0.86 2.29 1.01 4.31 2.25 3.89 2.44 1.8 1.28 2.51 1.97 3.69 3.36 3.12 3.38 3.08 3.93 3.19 4.84 2.66 4.82 2.14 4.71 1.8 5 1.17 4.53 0.4 2.16 0.32 2.45 0.17 2.41 0.01 2.04M841.04 500.7l0.24-16.4 0.41-9.54 0.37-4.68 0.44-4.12 0.51-3.26 0.76-3.3 0.71-2.13 0.93-1.97 1.17-1.72 1.44-1.37 0.81-0.52 1.79-0.76 1.93-0.4 2.03-0.11 3.1 0.29 3.09 0.73 3 1.07 1.93 0.9 1.86 1.02 2.65 1.76 1.66 1.3 1.56 1.38 2.82 2.89 2.42 2.95 2.97 4.26 2.64 4.46 2.76 5.36 2.13 4.9 1.6 4.61 1.07 4.14 0.68 4.19 0.25 4.07M844.14 500.7l0.21-12.34 0.23-4.46 0.35-4.18 0.45-3.78 0.65-4.1 0.71-3.53 0.96-3.7 0.97-2.78 0.81-1.79 1.52-2.44 1.24-1.36 1.42-1.06 1.6-0.73 1.71-0.43 1.8-0.15 2.75 0.21 2.76 0.66 2.69 1.03 2.57 1.37 2.42 1.69 1.52 1.28 1.41 1.38 1.94 2.21 2.23 3.06 2.25 3.73 2.38 4.67 2.16 4.94 1.65 4.47 1.23 4.1 0.94 4.17 0.59 4.03 0.23 3.83M847.63 500.7l-0.05-10.49 0.11-3.97 0.19-3.08 0.35-3.29 0.44-2.78 0.62-2.9 0.86-2.98 1.12-3.02 1.44-2.99 1.3-2.18 1.52-2.01 1.79-1.7 1.36-0.85 1.48-0.55 1.6-0.17 0.83 0.05 1.68 0.32 2.51 0.84 2.4 1.12 1.54 0.89 1.46 0.99 2.07 1.65 2.46 2.44 2.12 2.58 1.79 2.61 1.81 3.18 1.41 2.98 1.45 3.75 1.14 3.68 0.92 3.85 0.7 4.13 0.41 4.01 0.14 3.89M850.5 500.7l-0.03-9.87 0.13-3.59 0.22-2.78 0.37-2.95 0.46-2.48 0.65-2.55 0.89-2.58 1.15-2.56 1.04-1.86 1.66-2.36 1.43-1.63 1.62-1.44 1.79-1.14 1.97-0.73 1.39-0.19 1.44 0.06 2.17 0.52 2.14 1 2.03 1.42 1.87 1.76 1.68 1.97 1.47 2.08 1.64 2.74 1.63 3.21 1.68 3.9 1.21 3.26 1.06 3.52 0.75 3.26 0.53 3.29 0.3 3.29 0.1 3.43M854.43 500.7l0.12-9.49 0.33-5.05 0.33-2.57 0.42-2.15 0.59-2.22 0.8-2.24 1.04-2.19 0.96-1.58 1.51-1.95 1.3-1.32 1.45-1.14 1.59-0.89 1.71-0.54 1.2-0.11 1.23 0.1 1.85 0.53 1.8 0.83 2.23 1.43 1.54 1.29 1.82 1.95 1.18 1.59 1.33 2.2 1.06 2.2 1.01 2.62 0.73 2.4 0.7 2.92 0.56 3.1 0.41 3.3 0.27 3.33 0.15 3.65M858.53 500.7l0.21-7.88 0.44-4.85 0.35-2.1 0.54-2.22 0.6-1.82 0.58-1.35 0.97-1.73 0.88-1.2 1-1.1 1.51-1.26 1.68-1.02 1.35-0.57 1.41-0.38 1.45-0.14 1.47 0.13 0.97 0.28 0.95 0.44 1.36 0.96 1.23 1.23 1.08 1.41 0.94 1.49 1.03 2 0.83 1.92 0.78 2.22 0.68 2.35 0.6 2.66 0.73 4.97 0.32 5.56M863.28 500.7l0.11-4.88 0.36-3.52 0.72-3.17 0.97-2.44 0.68-1.19 0.8-1.14 0.95-1.05 1.07-0.94 1.19-0.77 0.96-0.45 1.02-0.28 1.04-0.1 1.05 0.12 1.03 0.32 0.99 0.48 1.22 0.86 1.1 1.01 0.95 1.12 0.81 1.18 0.67 1.2 1.05 2.66 0.72 3.13 0.39 3.47 0.11 4.38M870.23 500.7l0.06-1.67 0.24-1.62 0.43-1.57 0.54-1.26 0.76-1.12 0.79-0.74 0.95-0.5 0.89-0.15 0.89 0.15 0.95 0.53 0.78 0.75 0.77 1.1 0.68 1.42 0.49 1.49 0.31 1.61 0.13 1.58" fill="none" stroke="#000" stroke-width="0.78" stroke-linejoin="round"/>
</g>
<rect x="826.20" y="88.00" width="420.60" height="421.30" fill="none" stroke="#848484" stroke-width="1"/>
<path d="M834.50 509.30v-4.2M834.50 88.00v4.2M826.20 500.70h4.2M1246.80 500.70h-4.2M847.96 509.30v-2.5M847.96 88.00v2.5M826.20 487.22h2.5M1246.80 487.22h-2.5M861.43 509.30v-2.5M861.43 88.00v2.5M826.20 473.74h2.5M1246.80 473.74h-2.5M874.89 509.30v-2.5M874.89 88.00v2.5M826.20 460.26h2.5M1246.80 460.26h-2.5M888.35 509.30v-2.5M888.35 88.00v2.5M826.20 446.78h2.5M1246.80 446.78h-2.5M901.82 509.30v-4.2M901.82 88.00v4.2M826.20 433.30h4.2M1246.80 433.30h-4.2M915.28 509.30v-2.5M915.28 88.00v2.5M826.20 419.82h2.5M1246.80 419.82h-2.5M928.74 509.30v-2.5M928.74 88.00v2.5M826.20 406.34h2.5M1246.80 406.34h-2.5M942.21 509.30v-2.5M942.21 88.00v2.5M826.20 392.86h2.5M1246.80 392.86h-2.5M955.67 509.30v-2.5M955.67 88.00v2.5M826.20 379.38h2.5M1246.80 379.38h-2.5M969.13 509.30v-4.2M969.13 88.00v4.2M826.20 365.90h4.2M1246.80 365.90h-4.2M982.60 509.30v-2.5M982.60 88.00v2.5M826.20 352.42h2.5M1246.80 352.42h-2.5M996.06 509.30v-2.5M996.06 88.00v2.5M826.20 338.94h2.5M1246.80 338.94h-2.5M1009.52 509.30v-2.5M1009.52 88.00v2.5M826.20 325.46h2.5M1246.80 325.46h-2.5M1022.99 509.30v-2.5M1022.99 88.00v2.5M826.20 311.98h2.5M1246.80 311.98h-2.5M1036.45 509.30v-4.2M1036.45 88.00v4.2M826.20 298.50h4.2M1246.80 298.50h-4.2M1049.91 509.30v-2.5M1049.91 88.00v2.5M826.20 285.02h2.5M1246.80 285.02h-2.5M1063.38 509.30v-2.5M1063.38 88.00v2.5M826.20 271.54h2.5M1246.80 271.54h-2.5M1076.84 509.30v-2.5M1076.84 88.00v2.5M826.20 258.06h2.5M1246.80 258.06h-2.5M1090.30 509.30v-2.5M1090.30 88.00v2.5M826.20 244.58h2.5M1246.80 244.58h-2.5M1103.77 509.30v-4.2M1103.77 88.00v4.2M826.20 231.10h4.2M1246.80 231.10h-4.2M1117.23 509.30v-2.5M1117.23 88.00v2.5M826.20 217.62h2.5M1246.80 217.62h-2.5M1130.69 509.30v-2.5M1130.69 88.00v2.5M826.20 204.14h2.5M1246.80 204.14h-2.5M1144.16 509.30v-2.5M1144.16 88.00v2.5M826.20 190.66h2.5M1246.80 190.66h-2.5M1157.62 509.30v-2.5M1157.62 88.00v2.5M826.20 177.18h2.5M1246.80 177.18h-2.5M1171.08 509.30v-4.2M1171.08 88.00v4.2M826.20 163.70h4.2M1246.80 163.70h-4.2M1184.55 509.30v-2.5M1184.55 88.00v2.5M826.20 150.22h2.5M1246.80 150.22h-2.5M1198.01 509.30v-2.5M1198.01 88.00v2.5M826.20 136.74h2.5M1246.80 136.74h-2.5M1211.47 509.30v-2.5M1211.47 88.00v2.5M826.20 123.26h2.5M1246.80 123.26h-2.5M1224.94 509.30v-2.5M1224.94 88.00v2.5M826.20 109.78h2.5M1246.80 109.78h-2.5M1238.40 509.30v-4.2M1238.40 88.00v4.2M826.20 96.30h4.2M1246.80 96.30h-4.2" fill="none" stroke="#848484" stroke-width="1"/>
<text x="834.50" y="529.68" font-size="18.4433" text-anchor="middle" fill="#000">0.00</text><text x="823.68" y="506.43" font-size="18.4433" text-anchor="end" fill="#000">0.00</text><text x="901.82" y="529.68" font-size="18.4433" text-anchor="middle" fill="#000">0.05</text><text x="823.68" y="439.03" font-size="18.4433" text-anchor="end" fill="#000">0.05</text><text x="969.13" y="529.68" font-size="18.4433" text-anchor="middle" fill="#000">0.10</text><text x="823.68" y="371.63" font-size="18.4433" text-anchor="end" fill="#000">0.10</text><text x="1036.45" y="529.68" font-size="18.4433" text-anchor="middle" fill="#000">0.15</text><text x="823.68" y="304.23" font-size="18.4433" text-anchor="end" fill="#000">0.15</text><text x="1103.77" y="529.68" font-size="18.4433" text-anchor="middle" fill="#000">0.20</text><text x="823.68" y="236.83" font-size="18.4433" text-anchor="end" fill="#000">0.20</text><text x="1171.08" y="529.68" font-size="18.4433" text-anchor="middle" fill="#000">0.25</text><text x="823.68" y="169.43" font-size="18.4433" text-anchor="end" fill="#000">0.25</text><text x="1238.40" y="529.68" font-size="18.4433" text-anchor="middle" fill="#000">0.30</text><text x="823.68" y="102.03" font-size="18.4433" text-anchor="end" fill="#000">0.30</text>
<text x="729.16" y="304.09" font-size="18.44" text-anchor="start">{<tspan font-style="italic">k</tspan><tspan font-size="12.91" dy="2.91" font-style="italic">y</tspan><tspan dy="-2.91" font-style="italic" dx="4.08">H</tspan><tspan font-size="12.91" dy="2.91">0</tspan><tspan dy="-2.91">}</tspan></text>
<text x="1009.90" y="556.38" font-size="18.44" text-anchor="start">{<tspan font-style="italic">k</tspan><tspan font-size="12.91" dy="2.91" font-style="italic">x</tspan><tspan dy="-2.91" font-style="italic" dx="4.08">H</tspan><tspan font-size="12.91" dy="2.91">0</tspan><tspan dy="-2.91">}</tspan></text>
<g font-size="12.80" transform="translate(1254.08 297.19) scale(0.9707)">
<text transform="translate(-0.8 8.4) scale(1.3 1.77)" font-size="19" x="0" y="0" stroke="#fff" stroke-width="0.3">{</text>
<text transform="translate(41.6 8.4) scale(1.3 1.77)" font-size="19" x="0" y="0" stroke="#fff" stroke-width="0.3">}</text>
<text x="11.2" y="-4.9" font-style="italic">ω<tspan dx="2.4">H</tspan><tspan font-size="9.5" dy="2.3" font-style="normal">0</tspan></text>
<rect x="10.1" y="-2.6" width="28.2" height="1.1" fill="#000"/>
<text x="18" y="14.1">a<tspan font-size="9.5" dy="1.6" dx="-0.4" font-style="italic">g</tspan></text>
</g>
<g transform="translate(1036.50 56.00) scale(0.9707)"><text x="0" y="0" font-size="22.4" text-anchor="middle">Modified Parker, <tspan font-style="italic" dx="1.5">γ</tspan>c=4/3, m=1.5, c=1</text></g>
<rect x="1322.30" y="23.30" width="14.30" height="534.20" fill="url(#cmapg)" stroke="#000" stroke-opacity="0.12" stroke-width="0.8"/>
<text x="1343.30" y="564.31" font-size="18.4433" text-anchor="start" fill="#595959">0</text><text x="1343.30" y="448.93" font-size="18.4433" text-anchor="start" fill="#595959">0.001</text><text x="1343.30" y="333.55" font-size="18.4433" text-anchor="start" fill="#595959">0.002</text><text x="1343.30" y="218.17" font-size="18.4433" text-anchor="start" fill="#595959">0.003</text><text x="1343.30" y="102.79" font-size="18.4433" text-anchor="start" fill="#595959">0.004</text>
<path d="M1336.60 557.50h3.9M1336.60 534.42h2.5M1336.60 511.35h2.5M1336.60 488.27h2.5M1336.60 465.20h2.5M1336.60 442.12h3.9M1336.60 419.05h2.5M1336.60 395.97h2.5M1336.60 372.90h2.5M1336.60 349.82h2.5M1336.60 326.74h3.9M1336.60 303.67h2.5M1336.60 280.59h2.5M1336.60 257.52h2.5M1336.60 234.44h2.5M1336.60 211.37h3.9M1336.60 188.29h2.5M1336.60 165.21h2.5M1336.60 142.14h2.5M1336.60 119.06h2.5M1336.60 95.99h3.9M1336.60 72.91h2.5M1336.60 49.84h2.5M1336.60 26.76h2.5" fill="none" stroke="#000" stroke-opacity="0.11" stroke-width="0.9"/>
<text class="pl" x="1395.66" y="592.90" font-size="43.1">(</text>
<text class="pl" transform="translate(1410.20 592.60) scale(1.113 1)" font-size="39.57">b</text>
<text class="pl" x="1431.30" y="592.90" font-size="43.1">)</text>
</g>
<g id="panel-c">
<g clip-path="url(#cc)">
<g filter="url(#blur)">
<rect x="1545.4" y="72.0" width="443.9" height="444.1" fill="#265891"/>
<path d="M1556.9 504.1l0-464.6 2.3-19.9 9.4 0.2 9.5 0.6 9.4 0.8 9.4 1.2 9.4 1.5 9.2 1.8 9.3 2.1 9.1 2.4 17.9 5.6 17.5 6.7 17 7.8 16.4 8.6 15.7 9.5 15 10.2 14.3 10.8 13.6 11.3 12.8 11.8 6.1 6 11.7 12.1 10.9 12.4 15 18.7 13.4 18.7 12 18.4 10.6 18.2 9.5 17.7 8.3 17.2 9.6 22.1 8.2 21 8.4 24.9 6.8 23.4 5.4 22.1 4.4 21 4 23.8 3 22.8 2.4 25.4 1.1 21.3 0.5 24.4 0 12-368.5 0z" fill="#275892"/>
<path d="M1557.2 504.1l1.7-459 2.3-19.6 9.3 0 9.3 0.3 9.2 0.6 9.3 1 9.1 1.2 9.2 1.5 9.1 1.9 9 2.2 8.9 2.4 17.5 5.7 17.1 6.9 16.5 7.8 16 8.7 15.3 9.5 14.6 10.3 13.9 10.8 13.2 11.4 12.4 11.7 5.9 6 11.2 12.2 10.6 12.3 14.4 18.5 13 18.6 11.5 18.3 10.3 17.9 9.1 17.5 8 17 9.2 21.7 7.8 20.8 8.1 24.6 6.5 23.1 5.2 21.9 4.2 20.7 3.8 23.6 2.8 22.6 2 21.8 1.1 21.2 0.5 24.4 0 12-368.1 0z" fill="#285993"/>
<path d="M1557.6 504.1l0.3-82 3-371.5 2.4-19.1 9-0.3 9.1 0.1 9.1 0.3 9.1 0.7 9 1 9 1.3 9 1.6 8.8 1.9 8.8 2.3 17.4 5.2 16.9 6.4 16.4 7.4 15.9 8.4 15.2 9.2 14.6 10 13.8 10.6 13.1 11.2 12.4 11.6 5.9 5.9 11.3 12.1 10.5 12.2 14.5 18.4 12.9 18.4 11.6 18.2 10.3 17.9 9 17.4 8.1 16.9 9.2 21.7 7.8 20.8 8.1 24.5 6.5 23.2 5.2 21.8 4.2 20.7 3.8 23.7 2.9 22.5 1.9 21.8 1.2 21.2 0.4 24.4 0 12-367.6 0z" fill="#295a94"/>
<path d="M1557.9 504.1l0.5-85.4 2.6-189.3 2-173.2 2.3-18.8 8.9-0.5 8.9-0.2 8.9 0.1 8.9 0.5 8.9 0.7 8.8 1.1 8.8 1.4 8.8 1.6 8.7 2 8.6 2.3 17 5.4 16.5 6.5 16 7.5 15.5 8.4 14.8 9.4 14.2 10.1 13.5 10.7 12.7 11.2 12 11.6 5.7 6 10.9 12 10.2 12.1 13.9 18.3 12.5 18.3 11.1 18 9.9 17.7 8.7 17.2 7.8 16.7 8.8 21.4 7.5 20.5 6.3 19.5 6.5 23.1 5.3 21.9 4.1 20.7 3.9 23.6 2.8 22.6 1.9 21.7 1.2 21.2 0.4 24.4 0 12-367.2 0z" fill="#2a5a95"/>
<path d="M1558.2 504.1l0.2-38.7 0.6-46.4 3.3-187.3 2.7-170 2.3-18.4 17.5-1.1 8.7-0.1 8.7 0.1 8.8 0.5 8.7 0.9 8.6 1.1 8.7 1.4 8.6 1.8 8.5 2 16.7 5 16.4 6 15.9 7.1 15.4 8.1 14.8 9.1 14.1 9.9 13.5 10.5 12.7 11.1 11.9 11.4 5.8 5.9 10.8 11.9 10.2 12 14 18.2 12.5 18.2 11.1 17.9 9.9 17.6 8.7 17.2 7.8 16.6 8.9 21.4 7.5 20.5 6.3 19.5 6.5 23.1 5.2 21.8 4.2 20.7 3.8 23.6 2.8 22.6 1.9 21.7 1.2 21.2 0.5 24.4 0 12-366.9 0z" fill="#2b5b97"/>
<path d="M1558.6 504.1l0.2-38.6 0.7-46.3 4.2-185.2 3.3-166.7 2.4-18 17-1.7 8.6-0.3 8.6-0.1 8.5 0.3 8.6 0.5 8.5 0.9 8.6 1.2 8.4 1.5 8.4 1.8 8.4 2.2 16.4 5 16 6.2 15.6 7.3 15 8.2 14.4 9.3 13.7 10 13.1 10.6 12.3 11.1 11.6 11.5 5.5 5.9 10.6 11.9 9.8 12 13.4 18.1 12.1 18 10.7 17.7 9.5 17.4 8.4 17 7.4 16.4 8.6 21.1 7.2 20.2 6 19.3 5.1 18.3 5.2 21.9 4.2 20.7 3.8 23.6 2.8 22.5 1.9 21.7 1.2 21.2 0.5 24.4 0 12-366.4 0z" fill="#2c5c98"/>
<path d="M1558.9 504.1l0.3-41.6 0.9-46.6 4.9-179.7 4-163.3 2.4-17.7 16.7-2.1 8.4-0.6 8.4-0.3 8.4 0 8.4 0.3 8.4 0.6 8.4 1 8.4 1.3 8.3 1.6 8.2 1.9 16.3 4.6 15.9 5.8 15.5 6.9 14.9 7.9 14.4 9 13.7 9.8 13 10.4 12.3 11 11.6 11.4 5.5 5.8 10.5 11.7 9.8 11.9 13.5 18 12 17.9 10.8 17.7 9.5 17.3 8.4 16.9 7.5 16.4 8.5 21.1 7.2 20.2 6.1 19.2 5 18.4 5.3 21.8 4.1 20.7 3.9 23.6 2.7 22.5 2 21.8 1.1 21.1 0.5 24.4 0 12-366 0z" fill="#2d5c99"/>
<path d="M1559.2 504.1l0.3-41.5 1.1-46.5 5.8-177.6 4.7-160.1 2.4-17.3 16.3-2.5 8.2-0.9 8.2-0.6 8.3-0.2 8.3 0.1 8.2 0.4 8.3 0.7 8.2 1 8.2 1.4 8.2 1.7 8.1 1.9 8 2.3 7.9 2.5 7.9 2.8 7.7 3.2 7.6 3.4 7.5 3.7 14.6 8.1 14 9.2 13.3 9.9 12.7 10.6 11.9 11 11.2 11.5 5.4 5.8 10.1 11.7 9.5 11.9 13 17.8 11.6 17.8 10.3 17.5 9.2 17.1 8.1 16.7 7.1 16.2 8.3 20.9 6.9 19.9 5.8 19 4.8 18.1 5 21.6 4 20.5 3.6 23.4 2.6 22.3 1.8 21.6 1.1 21.1 0.3 20.9 0 12-365.6 0z" fill="#2f5d9b"/>
<path d="M1559.5 504.1l0.4-41.4 1.2-46.3 6.7-175.7 5.3-156.7 2.4-16.9 16-3.1 8-1.1 8.1-0.8 8.1-0.5 8.1-0.2 8.1 0.2 8.2 0.5 8.1 0.8 8.1 1.1 8.1 1.5 8 1.7 7.9 2 7.9 2.4 7.7 2.6 7.7 2.9 7.6 3.3 7.5 3.5 7.3 3.8 7.2 4.1 13.9 8.9 13.3 9.7 12.7 10.4 11.9 10.9 11.2 11.3 5.3 5.8 10.2 11.6 9.5 11.8 13 17.8 11.6 17.6 10.3 17.5 9.2 17 8.1 16.7 7.2 16.2 8.2 20.8 6.9 19.8 5.8 19 4.9 18.2 4.9 21.5 4 20.5 3.6 23.4 2.7 22.4 1.7 21.6 1.1 21.1 0.3 20.8 0 12-365.2 0z" fill="#315e9d"/>
<path d="M1559.9 504.1l0.1-23.3 0.5-27.3 2-59.7 6.2-141.4 6.4-162.9 2.5-16.5 15.5-3.5 7.9-1.4 7.9-1 7.9-0.8 8-0.4 8-0.1 8.1 0.3 8 0.6 8 0.9 7.9 1.2 7.9 1.5 7.9 1.8 7.8 2.1 7.7 2.5 7.6 2.7 7.6 3.1 7.4 3.3 7.3 3.7 14.2 8.2 13.6 9.1 12.9 9.9 12.3 10.5 11.5 11 10.9 11.3 5.1 5.8 9.9 11.6 9.1 11.7 12.5 17.7 11.2 17.5 10 17.3 8.8 16.8 7.8 16.5 6.9 16 7.8 20.5 6.7 19.6 5.5 18.8 4.7 17.9 4.7 21.3 3.8 20.3 3 19.4 2.6 22.4 1.8 21.6 1 21.1 0.3 20.8 0 12-364.7 0z" fill="#3460a0"/>
<path d="M1560.2 504.1l0.1-23.3 0.6-27.2 2.3-59.3 6.8-139.8 7.1-159.4 2.5-16.2 15.2-4 7.7-1.6 7.7-1.3 7.8-1 7.9-0.6 7.8-0.3 7.9 0 7.9 0.3 7.9 0.7 7.9 1 7.8 1.3 7.8 1.6 7.7 1.9 7.7 2.2 7.6 2.6 7.4 2.9 7.4 3.2 7.3 3.5 7.1 3.8 7 4.1 13.6 8.9 12.9 9.7 12.2 10.4 11.6 10.8 10.8 11.2 5.2 5.7 9.8 11.6 9.2 11.6 12.5 17.6 11.2 17.4 10 17.2 8.8 16.8 7.8 16.4 6.9 16 7.9 20.5 6.6 19.6 5.6 18.8 4.6 17.9 4.8 21.3 3.7 20.3 3 19.4 2.6 22.3 1.8 21.6 1 21.1 0.3 20.8 0 12-364.3 0z" fill="#3661a2"/>
<path d="M1560.5 504.1l0.2-23.2 0.6-27.2 0.9-26 1.6-33 7.6-138.1 7.8-155.9 2.4-15.8 14.9-4.5 7.5-1.9 7.6-1.5 7.6-1.3 7.7-0.9 7.7-0.5 7.8-0.2 7.8 0.1 7.8 0.4 7.7 0.8 7.8 1 7.7 1.4 7.7 1.7 7.6 2.1 7.5 2.4 7.4 2.6 7.4 3.1 7.2 3.4 7.1 3.6 13.8 8.2 13.2 9.2 12.6 9.9 11.8 10.5 11.2 10.9 10.5 11.2 5 5.7 9.5 11.5 8.8 11.6 12.1 17.5 10.8 17.3 9.6 17 8.5 16.6 7.5 16.2 6.6 15.8 7.6 20.3 4.8 14.6 5.6 18.7 4.6 17.9 4.8 21.3 3.8 20.3 2.9 19.4 2.6 22.3 1.8 21.6 1 21.1 0.3 20.8 0 12-363.9 0z" fill="#3862a5"/>
<path d="M1560.9 504.1l0.1-23.2 0.7-27 1-25.9 1.7-32.9 8.3-136.4 8.5-152.5 2.5-15.4 14.4-5 7.4-2.1 7.4-1.8 7.5-1.4 7.5-1.2 7.6-0.8 7.7-0.4 7.7-0.2 7.6 0.2 7.7 0.6 7.7 0.8 7.6 1.2 7.6 1.5 7.5 1.8 7.5 2.2 7.4 2.5 7.3 2.9 7.2 3.2 7.1 3.6 6.9 3.8 13.5 8.5 12.9 9.4 12.2 10 11.5 10.6 10.8 11 10.2 11.2 14 17.2 8.5 11.6 11.6 17.3 10.4 17.1 9.2 16.9 8.2 16.4 7.2 16.1 6.4 15.5 7.2 20.1 4.6 14.4 5.4 18.5 4.4 17.7 4.6 21.1 3.6 20.1 2.7 19.2 2.1 18.6 1.8 21.5 1 21.1 0.4 20.8 0 12-363.5 0z" fill="#3b64a7"/>
<path d="M1561.2 504.1l0.2-23.1 0.7-27 1.1-25.8 1.8-32.7 9-134.7 9.2-149 2.5-15.1 14.1-5.4 7.2-2.4 7.2-2 7.4-1.7 7.4-1.4 7.4-1.1 7.6-0.6 7.5-0.4 7.6 0 7.6 0.3 7.5 0.6 7.6 1 7.5 1.3 7.5 1.6 7.4 2 7.4 2.3 7.2 2.8 7.2 3 7.1 3.4 6.9 3.7 6.8 4 13.1 8.8 12.5 9.6 11.9 10.2 11.1 10.6 10.5 11 9.8 11.3 13.5 17.1 8.3 11.5 11.2 17.3 6.8 11.3 9.2 16.8 8.2 16.4 7.2 16 6.4 15.5 7.2 20.1 6.1 19.1 5.1 18.3 4.2 17.5 4.4 20.8 3.4 19.9 2.6 19.1 2 18.4 1.6 21.5 0.8 17.5 0.4 20.8 0 12-363.1 0z" fill="#3d65aa"/>
<path d="M1561.5 504.1l0.2-23.1 0.8-26.9 1.2-25.7 2-32.5 9.6-133 9.9-145.5 2.6-14.7 13.7-6 7-2.5 7-2.3 7.2-2 7.3-1.6 7.3-1.3 7.4-1 7.5-0.5 7.5-0.3 7.4 0.1 7.5 0.4 7.5 0.7 7.5 1.1 7.4 1.5 7.3 1.8 7.3 2.1 7.3 2.6 7.1 2.9 7 3.3 6.9 3.6 6.8 3.9 13.1 8.5 12.5 9.4 11.8 10.1 11.2 10.5 10.5 10.9 9.8 11.2 13.5 17 8.2 11.4 11.3 17.2 6.8 11.3 9.2 16.7 8.2 16.3 7.3 16 6.3 15.5 7.3 20 6 19.2 5.1 18.3 4.3 17.4 4.3 20.9 3.4 19.9 2.7 19 1.9 18.4 1.7 21.5 0.7 17.5 0.4 20.8 0 12-362.7 0z" fill="#3f67ac"/>
<path d="M1561.9 504.1l0.2-23 0.8-26.9 1.3-25.6 2.1-32.2 10.3-131.4 10.7-142.1 2.5-14.3 13.3-6.4 6.8-2.8 7-2.6 7-2.2 7.1-1.9 7.2-1.5 7.3-1.2 7.3-0.8 7.4-0.5 7.4-0.1 7.4 0.2 7.4 0.5 7.4 0.9 7.3 1.2 7.4 1.6 7.2 2 7.2 2.4 7.1 2.8 7 3.1 6.9 3.5 6.7 3.8 13.1 8.3 12.5 9.2 11.8 10 11.1 10.4 10.5 10.8 9.8 11 13.5 17 8.3 11.3 11.2 17.1 6.8 11.2 9.3 16.7 8.2 16.3 7.3 15.9 6.3 15.5 7.3 20 6.1 19.1 5.1 18.3 4.2 17.5 4.3 20.8 3.5 19.9 2.6 19.1 2 18.4 1.6 21.4 0.8 17.5 0.3 20.8 0 12-362.2 0z" fill="#4167ae"/>
<path d="M1562.2 504.1l0.2-23 0.9-26.7 1.4-25.5 2.2-32.1 11-129.7 11.4-138.6 2.6-14 12.9-6.8 6.6-3.1 6.8-2.8 6.9-2.5 7-2.1 7-1.8 7.2-1.4 7.2-1 7.3-0.7 7.3-0.4 7.3-0.1 7.3 0.4 7.3 0.6 7.3 1.1 7.3 1.4 7.2 1.8 7.1 2.3 7.1 2.6 7 3 6.8 3.3 6.8 3.7 6.5 3.9 12.8 8.7 12.1 9.4 11.5 10.1 10.8 10.5 10.1 10.8 9.5 11.1 13.1 16.9 7.9 11.3 10.9 16.9 6.5 11.2 9 16.4 7.9 16.2 6.9 15.8 6.1 15.3 6.9 19.8 5.9 18.8 4.8 18.1 4.1 17.3 4.1 20.6 2.7 15.8 2.6 19.1 2 18.4 1.6 21.4 0.8 17.5 0.3 20.8 0 12-361.8 0z" fill="#4268af"/>
<path d="M1562.5 504.1l0.3-22.9 0.9-26.7 1.5-25.4 2.3-31.9 3.3-37.8 8.4-90.2 12.1-135.2 2.6-13.5 12.6-7.4 6.4-3.3 6.6-3 6.8-2.8 6.8-2.3 6.9-2 7.1-1.7 7.1-1.3 7.1-0.9 7.2-0.6 7.3-0.3 7.2 0.1 7.3 0.5 7.2 0.9 7.2 1.2 7.2 1.6 7.1 2.1 7 2.5 6.9 2.8 6.9 3.2 6.7 3.6 6.6 3.8 12.7 8.5 12.1 9.3 11.4 9.9 10.8 10.4 10.2 10.7 9.5 11 13 16.8 8 11.3 10.8 16.8 6.6 11.1 9 16.4 7.9 16.1 6.9 15.8 6.1 15.3 7 19.7 5.8 18.9 4.9 18.1 4 17.2 4.2 20.7 2.6 15.8 2.6 19 2 18.4 1.6 21.4 0.8 17.5 0.3 20.8 0 12-361.4 0z" fill="#4469af"/>
<path d="M1562.8 504.1l0.3-22.9 1-26.6 1.5-25.3 2.6-31.7 3-32.9 8.6-85.7 13.5-139.4 2.7-13.2 12.1-7.8 6.3-3.6 6.5-3.3 6.5-2.9 6.7-2.7 6.8-2.2 6.9-1.9 7-1.5 7.1-1.2 7.1-0.8 7.1-0.5 7.2-0.1 7.2 0.3 7.2 0.6 7.1 1.1 7.1 1.4 7.1 1.9 7 2.3 6.9 2.8 6.8 3.1 6.7 3.4 6.6 3.7 6.4 4 12.4 8.8 11.7 9.5 11.2 10 10.4 10.5 9.9 10.8 9.1 11 12.6 16.7 7.7 11.2 10.5 16.7 6.3 11 8.6 16.3 7.6 16 6.7 15.5 5.8 15.2 6.7 19.5 4.2 14.1 4.9 18 4.1 17.3 3.3 16.6 3.4 19.8 2.7 19.1 1.9 18.3 1.6 21.5 0.8 17.4 0.3 20.8 0 12-361 0z" fill="#4669af"/>
<path d="M1563.2 504.1l0.3-22.8 1-26.6 1.9-28.4 2.7-32 3.9-38 22.4-211.1 2.6-12.8 11.8-8.4 6.1-3.8 6.3-3.5 6.4-3.2 6.6-2.9 6.6-2.5 6.8-2.1 6.9-1.8 6.9-1.4 7.1-1 7-0.7 7.1-0.3 7.1 0 7.1 0.5 7.1 0.8 7.1 1.3 7 1.8 7 2.1 6.9 2.6 6.8 3 6.6 3.3 6.6 3.6 6.4 4 12.3 8.5 11.8 9.4 11.1 9.9 10.5 10.4 9.8 10.7 9.2 10.9 12.6 16.6 7.7 11.2 10.4 16.6 6.4 11 8.6 16.2 7.6 15.9 6.7 15.5 5.8 15.2 6.7 19.5 4.3 14 4.8 18.1 4.1 17.2 3.4 16.6 3.4 19.9 2.6 19 1.9 18.4 1.6 21.4 0.8 17.5 0.3 20.7 0 12-360.5 0z" fill="#476aaf"/>
<path d="M1563.5 504.1l0.3-22.8 1.1-26.4 2-28.4 2.9-31.8 4.5-42.3 23.1-201.7 2.6-12.4 11.5-8.8 5.9-4.1 6.1-3.8 6.3-3.4 6.4-3.1 6.5-2.7 6.7-2.4 6.8-2 6.8-1.6 6.9-1.3 7-0.9 7-0.6 7.1-0.1 7 0.2 7.1 0.7 7 1.1 7 1.6 6.9 2 6.9 2.5 6.7 2.8 6.7 3.2 6.5 3.5 12.6 8 12.1 8.8 11.4 9.5 10.8 10.1 10.1 10.4 9.5 10.7 8.9 11 12.2 16.6 7.4 11.1 10.1 16.5 6.1 10.8 8.3 16.1 7.3 15.7 6.3 15.4 5.6 15 6.4 19.3 4.1 13.9 4.7 17.8 3.8 17.1 4 20.4 2.5 15.7 2.4 18.8 1.9 18.3 1.3 17.8 0.7 17.5 0.4 20.7 0 12-360.2 0z" fill="#496baf"/>
<path d="M1563.8 504.1l0.3-22.7 1.2-26.4 2.1-28.3 3-31.5 4.8-41.9 20.9-170.8 3.3-26.2 2.7-12.1 11-9.3 5.8-4.3 6-4 6.1-3.7 6.2-3.3 6.4-3 6.6-2.6 6.6-2.2 6.8-1.9 6.8-1.5 6.9-1.1 6.9-0.8 7-0.3 7 0 7 0.5 7 0.9 6.9 1.4 6.9 1.9 6.8 2.3 6.8 2.7 6.6 3.1 6.5 3.5 6.4 3.7 6.2 4 12 8.7 11.4 9.4 10.8 9.9 10.2 10.3 9.5 10.7 8.9 10.8 12.1 16.5 7.4 11.1 10.1 16.4 6.2 10.8 8.3 16 7.3 15.8 6.4 15.3 5.6 15 6.3 19.2 4.1 13.9 4.7 17.9 3.9 17 3.9 20.4 2.5 15.7 2.5 18.9 1.8 18.2 1.3 17.8 0.7 17.5 0.4 20.7 0 12-359.8 0z" fill="#4b6baf"/>
<path d="M1564.2 504.1l0.4-25.6 1.3-26.4 2.3-28.4 3.3-31.9 5.2-42.3 19.7-150.8 5-36.9 2.7-11.6 10.7-9.8 5.6-4.6 5.8-4.2 5.9-4 6.2-3.6 6.2-3.2 6.4-2.8 6.6-2.5 6.6-2.1 6.8-1.7 6.8-1.4 6.8-0.9 6.9-0.6 6.9-0.1 7 0.3 6.9 0.7 6.9 1.3 6.9 1.7 6.8 2.2 6.7 2.6 6.6 2.9 6.5 3.4 6.4 3.6 12.3 8.1 11.7 8.9 11.1 9.5 10.4 10.1 9.8 10.4 9.2 10.7 8.6 10.8 11.8 16.5 7.1 11 9.7 16.2 5.9 10.8 8 15.9 7 15.6 6.1 15.2 5.4 14.8 6.1 19 3.9 13.7 4.5 17.6 3.7 16.9 3 16.3 2.5 15.6 2.5 18.9 1.8 18.3 1.3 17.7 0.8 17.5 0.3 20.7 0 12-359.3 0z" fill="#4c6caf"/>
<path d="M1564.5 504.1l0.4-25.5 1.4-26.4 2.4-28.3 3.5-31.6 5.4-41.9 19-136.9 6.9-46.1 2.7-11.3 10.3-10.2 5.4-4.8 5.6-4.6 5.8-4.2 6-3.8 6.1-3.5 6.3-3 6.4-2.7 6.6-2.4 6.6-1.9 6.7-1.6 6.8-1.2 6.8-0.7 6.9-0.4 6.9 0.1 6.9 0.6 6.9 1.1 6.8 1.6 6.8 2 6.6 2.5 6.6 2.8 6.5 3.3 6.4 3.5 12.2 7.9 11.7 8.8 11.1 9.4 10.5 10 9.8 10.3 9.2 10.6 8.6 10.8 11.7 16.3 7.2 11 9.7 16.2 5.9 10.7 8 15.8 7 15.6 6.2 15.2 5.3 14.7 6.1 19.1 3.9 13.7 4.5 17.6 3.7 16.9 3.1 16.2 2.5 15.7 2.4 18.8 1.8 18.3 1.3 17.7 0.8 17.5 0.3 20.7 0 12-358.9 0z" fill="#4f6daf"/>
<path d="M1564.8 504.1l0.5-25.5 1.4-26.2 2.5-28.2 3.6-31.4 6.4-46.2 17.6-119.5 8.7-54.1 2.7-11 9.9-10.7 5.3-5 5.4-4.8 5.7-4.5 5.8-4 6-3.7 6.2-3.3 6.3-3 6.4-2.5 6.6-2.2 6.6-1.8 6.7-1.4 6.8-1 6.8-0.5 6.8-0.1 6.9 0.4 6.8 0.9 6.8 1.5 6.7 1.9 6.7 2.3 6.6 2.8 6.4 3.1 6.3 3.4 6.2 3.7 12 8.3 11.4 9 10.8 9.6 10.1 10 9.5 10.4 8.9 10.6 8.3 10.8 11.3 16.3 6.9 10.8 9.4 16.1 5.7 10.6 7.7 15.8 6.7 15.4 5.9 15 5.1 14.7 5.8 18.8 3.8 13.5 4.2 17.4 3.5 16.7 3 16.1 2.3 15.5 2.3 18.8 1.7 18.1 1.2 17.7 0.7 17.4 0.2 17.2 0 12-358.5 0z" fill="#526eaf"/>
<path d="M1565.2 504.1l0.4-25.4 1.5-26.2 3-31.3 3.9-31.7 6.8-46.6 17.7-112.2 9-52.2 2.8-10.5 9.5-11.2 5.1-5.3 5.3-5 5.5-4.7 5.6-4.4 5.9-3.9 6.1-3.5 6.2-3.2 6.3-2.8 6.4-2.4 6.6-2 6.6-1.6 6.7-1.2 6.8-0.7 6.7-0.3 6.8 0.2 6.8 0.8 6.8 1.2 6.7 1.8 6.6 2.2 6.6 2.7 6.4 3 6.3 3.3 6.2 3.7 12 8 11.4 8.9 10.7 9.5 10.1 9.9 9.6 10.3 8.9 10.6 8.2 10.7 11.4 16.2 6.9 10.8 9.4 16 5.7 10.6 7.7 15.7 6.7 15.4 5.9 15 5.1 14.6 4.5 14.2 3.9 13.7 4.5 17.6 3.7 16.9 3 16.2 2.5 15.6 2.5 18.9 1.8 18.2 1.2 17.8 0.8 17.4 0.3 20.7 0 12-358 0z" fill="#556faf"/>
<path d="M1565.5 504.1l0.5-25.3 1.6-26.2 3-31.1 4.1-31.4 7.1-46.2 16.9-100.9 4.8-27.4 6-31.5 2.8-10.2 9.2-11.7 4.9-5.5 5.1-5.3 5.3-4.9 5.6-4.6 5.7-4.2 5.9-3.8 6.1-3.4 6.3-3 6.3-2.6 6.5-2.2 6.5-1.9 6.6-1.3 6.7-1 6.8-0.4 6.7 0 6.8 0.6 6.7 1.1 6.7 1.7 6.6 2.1 6.5 2.5 6.4 2.9 6.3 3.2 6.2 3.6 12 7.9 11.3 8.7 10.8 9.4 10.1 9.8 9.5 10.2 8.9 10.5 8.3 10.7 11.4 16.1 6.9 10.8 9.4 16 5.7 10.5 7.7 15.6 6.7 15.4 5.9 15 5.2 14.6 4.4 14.2 3.9 13.7 4.5 17.6 3.7 16.8 3 16.2 2.5 15.7 2.5 18.8 1.8 18.2 1.2 17.8 0.8 17.4 0.3 20.7 0 12-357.6 0z" fill="#5870af"/>
<path d="M1565.8 504.1l0.5-25.3 1.7-26 3.1-31 4.2-31.2 7.4-45.6 17.6-98.7 5-26.5 6.2-30.2 2.8-9.8 8.8-12.1 4.8-5.8 4.9-5.5 5.2-5.2 5.4-4.8 5.6-4.4 5.8-4.1 6-3.6 6.1-3.2 6.3-2.9 6.3-2.4 6.5-2.1 6.6-1.6 6.6-1.1 6.7-0.7 6.7-0.1 6.7 0.4 6.7 1 6.7 1.5 6.5 2 6.5 2.4 6.4 2.8 6.3 3.1 6.2 3.5 6 3.8 11.7 8.2 11 8.9 10.4 9.6 9.9 9.9 9.2 10.2 8.6 10.6 8 10.6 10.9 16.1 6.7 10.7 9.1 15.8 5.5 10.5 7.4 15.5 6.4 15.2 5.6 14.9 5 14.4 4.2 14 3.8 13.6 4.2 17.4 3.5 16.7 2.9 16 2.4 15.5 2.3 18.7 1.7 18.1 1.2 17.7 0.6 17.4 0.3 17.2 0 12-357.3 0z" fill="#5b71ae"/>
<path d="M1566.1 504.1l0.6-25.2 0.8-14.3 1.1-14.7 1.6-15.2 1.9-15.9 4.5-31.4 7.9-46 17.4-91.8 5.2-25.6 4.2-18.8 2.3-10 2.8-9.4 8.4-12.7 4.6-6 4.8-5.8 5-5.4 5.2-5.1 5.5-4.6 5.7-4.3 5.9-3.8 6-3.5 6.1-3.1 6.3-2.7 6.4-2.2 6.5-1.8 6.6-1.4 6.6-0.8 6.7-0.3 6.6 0.3 6.7 0.8 6.6 1.3 6.6 1.9 6.5 2.3 6.3 2.7 6.3 3.1 6.2 3.3 6 3.7 11.6 8.1 11.1 8.8 10.4 9.4 9.8 9.9 9.2 10.1 8.6 10.5 8 10.6 11 16 6.7 10.6 9.1 15.8 5.5 10.5 7.4 15.4 6.4 15.2 5.7 14.9 4.9 14.4 4.3 14 3.7 13.5 4.3 17.4 3.5 16.7 2.9 16.1 2.3 15.5 2.3 18.7 1.7 18.1 1.2 17.6 0.6 17.4 0.3 17.2 0 12-356.9 0z" fill="#5f73ad"/>
<path d="M1566.5 504.1l0.1-11.1 0.4-14.1 0.9-14.2 1.2-14.6 1.5-15.2 2-15.8 4.7-31.2 8.2-45.4 16.4-82 5.1-23.7 4-17.4 4.6-18.6 2.8-9.1 8.1-13.1 4.4-6.3 4.6-6 4.9-5.7 5.1-5.3 5.3-4.9 5.6-4.5 5.7-4.1 5.9-3.7 6.1-3.3 6.2-2.9 6.3-2.4 6.4-2.1 6.6-1.5 6.5-1 6.6-0.5 6.7 0.1 6.6 0.7 6.6 1.2 6.5 1.7 6.5 2.2 6.4 2.6 6.2 3 6.2 3.3 6 3.6 11.6 7.9 11 8.7 10.4 9.3 9.9 9.7 9.2 10.1 8.6 10.4 8 10.6 11 15.9 6.7 10.6 9.1 15.7 5.5 10.4 7.4 15.5 6.5 15.1 5.6 14.9 4.9 14.4 4.3 14 3.7 13.5 4.3 17.4 3.5 16.7 2.9 16 2.4 15.5 2.3 18.7 1.6 18.1 1.2 17.6 0.7 17.4 0.2 17.2 0 12-356.4 0z" fill="#6375ac"/>
<path d="M1566.8 504.1l0.2-13.9 0.5-14 1-14.3 1.3-14.7 1.7-15.2 2.1-15.9 5.1-31.3 3.5-19.5 5.3-26.3 15.9-75.5 5.3-22.8 4.2-16.7 4.7-17.7 2.9-8.7 7.7-13.5 4.2-6.6 4.4-6.2 4.7-6 5-5.5 5.2-5.2 5.5-4.7 5.6-4.3 5.8-4 6-3.5 6.1-3.1 6.2-2.7 6.4-2.2 6.4-1.7 6.5-1.2 6.6-0.7 6.6-0.1 6.6 0.6 6.6 1 6.5 1.6 6.4 2.1 6.4 2.5 6.2 2.9 6.1 3.2 11.9 7.3 11.3 8.2 10.7 8.9 10.2 9.4 9.5 9.9 8.9 10.2 8.3 10.4 7.8 10.5 10.6 15.8 6.4 10.5 8.8 15.7 5.3 10.3 7.1 15.4 6.2 15 5.4 14.7 4.6 14.3 4.1 13.8 3.6 13.4 4.1 17.2 3.3 16.5 2.8 15.9 2.2 15.3 2.2 18.6 1.3 14.4 1.1 17.7 0.7 17.3 0.2 17.2 0 12-356 0z" fill="#6977aa"/>
<path d="M1567.1 504.1l0.2-13.9 0.6-14 0.9-14.2 1.4-14.6 1.8-15.1 2.2-15.9 5.2-31 3.7-19.3 5.4-25.9 16.5-73.6 5.4-22.1 4.3-15.8 4.9-16.8 2.9-8.3 7.3-14.1 4.1-6.8 4.2-6.5 4.6-6.1 4.8-5.8 5.1-5.4 5.3-5 5.5-4.6 5.8-4.1 5.8-3.8 6.1-3.3 6.1-2.9 6.3-2.4 6.4-2 6.5-1.4 6.5-0.8 6.5-0.2 6.6 0.3 6.5 1 6.5 1.5 6.4 1.9 6.4 2.4 6.2 2.8 6.1 3.1 11.9 7.2 11.3 8 10.7 8.8 10.1 9.4 9.5 9.7 9 10.1 8.3 10.4 7.7 10.5 10.6 15.7 6.5 10.5 8.8 15.6 5.3 10.3 7.1 15.3 6.2 15 5.4 14.7 4.7 14.2 4.1 13.9 3.5 13.3 4.1 17.2 3.3 16.5 2.8 15.9 2.2 15.4 2.2 18.5 1.3 14.4 1.1 17.7 0.7 17.3 0.2 17.2 0 12-355.6 0z" fill="#6e79a9"/>
<path d="M1567.5 504.1l0.1-13.9 0.6-13.9 1-14.2 1.4-14.6 1.9-15 2.2-15.7 2.8-16.7 3.3-17.8 4-19.4 5.7-26.1 9.8-41.8 6.2-25.4 5.7-21.2 4.4-15.1 5.1-15.9 2.9-7.9 6.9-14.5 3.8-7 4.2-6.8 4.4-6.4 4.7-6.1 4.9-5.6 5.2-5.2 5.4-4.8 5.6-4.4 5.8-4 5.9-3.5 6.1-3.1 6.2-2.7 6.4-2.1 6.4-1.6 6.5-1 6.5-0.4 6.5 0.2 6.5 0.8 6.5 1.4 6.4 1.8 6.3 2.3 6.2 2.7 6.1 3 6 3.4 5.8 3.6 11.3 8 10.7 8.7 10.2 9.2 9.5 9.7 8.9 10 8.3 10.3 7.8 10.4 10.6 15.7 6.5 10.4 8.8 15.5 5.3 10.3 7.1 15.3 4.2 10.1 5.7 14.7 4.9 14.4 5.6 18.5 3.6 13.4 4 17.2 3.4 16.5 2.7 15.8 2.3 15.4 2.1 18.5 1.3 14.5 1.1 17.6 0.7 17.3 0.2 17.2 0 12-355.1 0z" fill="#737ba6"/>
<path d="M1567.8 504.1l0.2-13.8 0.6-14 1-14.1 1.5-14.5 1.8-15 2.4-15.6 2.8-16.5 3.5-17.7 5-23.2 5-21.6 10.1-40.9 6.4-24.5 8-27.5 4.9-14.7 5.6-15.1 6.6-15 3.6-7.2 4-7 4.3-6.7 4.5-6.3 4.8-5.9 5.1-5.4 5.3-5 5.5-4.7 5.7-4.2 5.8-3.8 6-3.3 6.2-2.8 6.2-2.3 6.4-1.8 6.4-1.2 6.5-0.6 6.5 0.1 6.5 0.7 6.4 1.2 6.4 1.7 6.3 2.2 6.2 2.6 6.1 3 6 3.2 5.8 3.6 11.3 7.8 10.7 8.6 10.1 9.1 9.5 9.6 9 9.9 8.3 10.3 7.7 10.3 10.7 15.7 6.5 10.3 8.8 15.5 5.3 10.3 7.1 15.2 4.3 10.1 5.6 14.7 5 14.4 5.5 18.5 3.6 13.3 4.1 17.2 3.3 16.5 2.8 15.9 2.2 15.3 2.1 18.6 1.3 14.4 1.1 17.6 0.7 17.3 0.2 17.2 0 12-354.7 0z" fill="#777ca4"/>
<path d="M1568.2 504.1l0.2-13.8 0.6-13.9 1.1-14.1 1.8-17.3 2.1-15.1 2.5-15.7 3-16.5 3.6-17.8 5.2-23.4 6.4-26.6 9.4-36.9 6.8-24.9 4-13.6 4.5-14.2 5.3-14.6 6-14.9 3.4-7.3 3.6-7.2 4-6.9 4.2-6.6 4.5-6.2 4.8-5.8 5-5.4 5.2-5 5.4-4.6 5.7-4.1 5.8-3.8 5.9-3.3 6.1-2.9 6.2-2.3 6.3-1.9 6.4-1.2 6.4-0.6 6.4 0 6.4 0.6 6.4 1.1 6.3 1.6 6.3 2.1 6.1 2.4 6.1 2.9 5.9 3.1 11.5 7.2 11 8 10.4 8.7 9.8 9.2 9.2 9.6 8.6 9.9 8 10.2 7.5 10.3 7 10.3 6.5 10.2 8.8 15.4 5.3 10.2 7.1 15.1 4.3 10 5.6 14.7 5 14.3 5.6 18.4 3.5 13.3 4.1 17.1 3.4 16.5 2.7 15.8 2.3 15.3 2.1 18.5 1.3 14.4 1.2 17.6 0.6 17.3 0.2 17.1 0 12-353.9 0z" fill="#7a7da2"/>
<path d="M1568.6 504.1l0.2-13.8 0.6-13.8 1.1-14.1 1.6-14.3 2.4-17.9 2.6-15.6 3.1-16.4 3.7-17.7 5.3-23.1 6.4-26.3 9.5-36.4 6.8-24.6 4-13.4 4.5-13.9 5.2-14.4 6.1-14.7 3.3-7.2 3.6-7.1 3.9-6.7 4.2-6.5 4.5-6.2 4.7-5.7 5-5.3 5.1-5 5.4-4.5 5.6-4.2 5.7-3.8 5.9-3.3 6-2.9 6.1-2.3 6.3-1.9 6.3-1.3 6.3-0.7 6.4-0.1 6.4 0.5 6.3 1.1 6.3 1.5 6.2 1.9 6.1 2.4 6 2.7 5.9 3.1 11.4 6.9 10.9 7.8 10.4 8.5 9.8 9 9.2 9.4 8.6 9.8 8 10.1 7.5 10.1 6.9 10.2 6.5 10.2 8.9 15.2 5.3 10.1 7.1 15.1 4.3 9.9 5.6 14.6 5 14.2 5.6 18.4 3.6 13.2 4.1 17.1 3.3 16.4 2.8 15.7 2.2 15.3 2.2 18.4 1.3 14.4 1.2 17.5 0.6 17.3 0.3 17.1 0 12-353.2 0z" fill="#7d7ea1"/>
<path d="M1569 504.1l0.2-13.7 0.7-13.8 1.1-14 1.6-14.3 2.5-17.8 2.7-15.5 3.1-16.3 3.7-17.5 5.4-23 6.5-25.9 9.6-36 6.7-24.2 4.1-13.1 4.5-13.8 5.2-14.2 6-14.4 3.3-7.1 3.6-6.9 3.9-6.7 4.2-6.4 4.4-6 4.6-5.7 4.9-5.3 5.2-4.9 5.3-4.5 5.5-4.2 5.7-3.7 5.8-3.3 5.9-2.9 6.1-2.4 6.2-1.9 6.2-1.4 6.3-0.7 6.3-0.2 6.3 0.4 6.3 0.9 6.2 1.4 6.2 1.9 6 2.2 6 2.6 5.9 3 11.4 6.7 10.8 7.6 10.3 8.3 9.8 8.8 9.1 9.3 8.6 9.6 8.1 9.9 7.4 10.1 10.3 15.1 6.3 10 8.5 15.1 5.1 10 6.8 14.9 4 9.8 5.5 14.4 4.7 14.1 5.4 18.1 3.4 13 3.9 16.8 3.2 16.2 2.7 15.6 2.1 15.1 1.7 14.7 1.3 14.3 1.2 17.5 0.6 17.2 0.3 17.1 0 12-352.4 0z" fill="#807f9f"/>
<path d="M1569.4 504.1l0.2-13.7 0.7-13.8 1.2-13.9 1.6-14.2 2.1-14.7 2.6-15.3 3.1-16 3.7-17.1 5.2-22.3 6.4-25.1 10.8-40 6.8-23.9 4-12.9 4.6-13.5 5.2-14 5.9-14.1 6.9-13.9 3.9-6.6 4.1-6.3 4.4-5.9 4.6-5.6 4.8-5.3 5.1-4.8 5.3-4.5 5.4-4.1 5.6-3.8 5.8-3.3 5.8-2.9 6.1-2.4 6.1-2 6.1-1.4 6.2-0.8 6.3-0.2 6.2 0.3 6.3 0.8 6.2 1.3 6.1 1.7 6 2.1 5.9 2.5 5.9 2.9 11.3 6.5 10.8 7.4 10.3 8.1 9.7 8.6 9.1 9.2 8.6 9.4 8 9.8 7.5 9.9 10.3 14.9 6.3 10 8.5 15 5 9.9 6.9 14.8 4 9.8 5.5 14.3 4.7 14 5.4 18 3.4 13 4 16.8 3.2 16.1 2.6 15.5 2.2 15.1 1.7 14.6 1.3 14.3 1.2 17.5 0.6 17.2 0.3 17 0 12-351.6 0z" fill="#83809d"/>
<path d="M1569.7 504.1l0.2-10.9 0.6-13.7 1.2-13.9 1.6-14.1 2-14.5 2.6-15 3-15.7 3.6-16.8 5.2-21.7 5.1-20 16.4-59.6 5.6-18.4 4.2-13 4.9-13.5 5.5-13.9 6.4-13.8 3.5-6.7 3.9-6.5 4-6.2 4.4-5.9 4.5-5.5 4.8-5.2 5-4.8 5.2-4.5 5.4-4.1 5.6-3.7 5.6-3.4 5.9-2.9 5.9-2.4 6-2 6.1-1.4 6.2-0.9 6.2-0.4 6.2 0.2 6.2 0.8 6.1 1.1 6.1 1.7 6 2 5.9 2.4 5.8 2.7 11.2 6.2 10.8 7.2 10.2 8 9.7 8.4 9.1 9 8.6 9.4 8 9.6 7.5 9.7 10.3 14.8 6.2 9.9 8.5 14.8 5.1 9.9 6.9 14.7 4 9.7 5.5 14.3 4.7 13.9 5.4 17.9 3.5 13 3.9 16.7 3.3 16 2.6 15.6 2.2 15 1.7 14.6 1.3 14.2 1.2 17.4 0.7 17.2 0.2 17 0 12-350.9 0z" fill="#86819b"/>
<path d="M1570.1 504.1l0.2-10.9 0.6-13.7 1.2-13.8 1.7-14 2.1-14.4 2.6-15 3.1-15.6 3.7-16.6 5.2-21.5 5.2-19.8 16.5-58.7 5.6-18.1 4.2-12.8 4.9-13.3 5.5-13.7 6.3-13.6 3.5-6.6 3.8-6.4 4.1-6.1 4.2-5.8 4.6-5.5 4.7-5.1 5-4.8 5.1-4.4 5.3-4.1 5.5-3.7 5.6-3.3 5.8-2.9 5.9-2.5 5.9-2 6.1-1.5 6.1-1 6.1-0.4 6.1 0.1 6.2 0.6 6 1.1 6.1 1.5 5.9 1.9 5.9 2.3 5.7 2.6 11.2 6 10.7 7 10.2 7.8 9.7 8.3 9.1 8.8 8.6 9.2 8 9.4 7.5 9.7 10.3 14.6 6.2 9.8 8.5 14.7 5.1 9.8 6.9 14.6 4 9.6 5.5 14.2 4.7 13.9 5.5 17.8 3.4 13 4 16.6 3.2 16 2.7 15.5 2.2 14.9 1.7 14.6 1.3 14.2 1.2 17.4 0.7 17.1 0.2 17 0 12-350.1 0z" fill="#898299"/>
<path d="M1570.5 504.1l0.2-10.9 0.7-13.6 0.9-11 1.6-13.9 2.1-14.3 2.6-14.7 3-15.4 3.6-16.2 5.1-21 6.2-23.3 16.7-57.9 5.5-17.8 4.3-12.6 4.9-13.1 5.5-13.4 6.3-13.3 3.5-6.5 3.7-6.3 4-6 4.2-5.8 4.5-5.4 4.7-5 4.9-4.8 5.1-4.4 5.2-4 5.4-3.7 5.6-3.4 5.7-2.9 5.8-2.5 5.9-2.1 6-1.5 6-1 6.1-0.5 6.1 0 6 0.5 6.1 1 5.9 1.4 6 1.7 5.8 2.2 5.7 2.5 11.2 5.8 10.6 6.8 10.2 7.6 9.6 8.1 9.1 8.6 8.6 9.1 8 9.3 7.4 9.5 10.3 14.5 6.3 9.7 8.5 14.6 5.1 9.7 6.9 14.5 4 9.6 5.5 14.1 4.8 13.8 5.4 17.8 3.5 12.8 3.9 16.6 3.3 16 2.7 15.4 2.1 14.9 1.8 14.5 1.3 14.2 1.2 17.4 0.7 17.1 0.2 16.9 0 12-349.3 0z" fill="#8c8398"/>
<path d="M1570.9 504.1l0.2-10.8 0.7-13.6 1.2-13.7 1.8-14 2.2-14.2 2.7-14.8 3.3-15.4 3.7-16.3 5.4-21.1 6.5-23.5 9.2-31.8 8.1-26.9 5.9-17.9 4.5-12.7 5.2-13 5.8-13.2 6.8-12.9 3.7-6.2 3.9-5.9 4.2-5.7 4.4-5.3 4.7-5 4.8-4.7 5-4.4 5.2-4 5.4-3.7 5.5-3.3 5.6-3 5.8-2.5 5.8-2.1 5.9-1.6 6-1.1 6-0.6 6 0 6 0.4 6 0.8 5.9 1.3 5.9 1.7 5.8 2 5.7 2.4 5.6 2.7 10.8 6.1 10.4 7 9.9 7.7 9.3 8.2 8.8 8.7 8.3 9 7.7 9.3 7.3 9.5 6.7 9.5 6.3 9.6 8.5 14.5 5.1 9.7 6.9 14.4 4 9.5 5.5 14.1 4.8 13.7 5.4 17.7 3.5 12.8 4 16.5 3.2 15.9 2.7 15.4 2.2 14.9 1.8 14.5 1.3 14.1 1.2 17.4 0.7 17 0.2 16.9 0 12-348.5 0z" fill="#8f8496"/>
<path d="M1571.3 504.1l0.2-10.8 0.7-13.6 1.3-13.6 1.8-13.9 2.3-14.2 2.8-14.6 3.3-15.3 3.8-16.2 5.4-20.9 6.5-23.2 9.3-31.4 8.2-26.5 5.9-17.6 4.5-12.4 5.2-12.8 5.8-13 6.7-12.6 3.6-6.1 4-5.9 4.1-5.5 4.4-5.3 4.6-5 4.8-4.6 4.9-4.3 5.2-4.1 5.2-3.7 5.5-3.3 5.5-3 5.7-2.5 5.8-2.1 5.8-1.7 6-1.2 5.9-0.6 6-0.2 5.9 0.3 6 0.8 5.8 1.2 5.9 1.5 5.7 1.9 5.7 2.3 5.5 2.5 10.8 6 10.4 6.8 9.8 7.5 9.3 8 8.8 8.6 8.3 8.9 7.7 9.2 7.2 9.3 6.8 9.4 6.3 9.5 8.5 14.4 5.1 9.6 6.9 14.3 4 9.5 5.5 13.9 4.8 13.7 5.4 17.6 3.5 12.8 4 16.4 3.3 15.9 2.7 15.3 2.2 14.9 1.8 14.4 1.3 14.1 1.2 17.3 0.7 17 0.2 16.9 0 12-347.7 0z" fill="#928594"/>
<path d="M1571.7 504.1l0.2-10.8 0.7-13.5 1.4-13.6 1.8-13.8 2.3-14.1 2.9-14.6 3.3-15.2 3.9-16 5.5-20.7 6.6-22.9 9.4-31 8.2-26 5.9-17.4 4.5-12.2 5.1-12.5 5.8-12.7 6.7-12.5 3.6-6 3.9-5.7 4.1-5.5 4.3-5.2 4.6-4.9 4.7-4.6 4.9-4.3 5.1-4 5.2-3.7 5.4-3.3 5.5-3 5.6-2.6 5.7-2.2 5.8-1.7 5.8-1.2 5.9-0.7 5.9-0.3 5.9 0.2 5.9 0.6 5.8 1.1 5.8 1.4 5.7 1.8 5.7 2.2 5.5 2.4 10.7 5.8 10.3 6.6 9.8 7.3 9.3 7.9 8.8 8.4 8.3 8.7 7.7 9.1 7.2 9.2 6.8 9.3 6.2 9.4 8.6 14.2 5.1 9.5 6.9 14.3 4 9.4 5.5 13.9 4.8 13.6 5.5 17.5 3.5 12.8 4 16.4 3.3 15.8 2.7 15.2 2.2 14.9 1.7 14.4 1.4 14.1 1.2 17.2 0.7 17 0.2 16.8 0 12-346.9 0z" fill="#958692"/>
<path d="M1572.1 504.1l0.2-10.8 0.7-13.4 1.1-10.9 1.8-13.7 1.8-11.1 2.7-14.3 3.2-14.8 3.7-15.5 5.3-19.9 6.2-21.9 7.5-24.6 10.8-34 5.6-16.7 4.3-11.7 4.8-12.1 5.4-12.5 6.2-12.4 3.4-6.1 3.6-5.8 3.8-5.7 4.1-5.4 4.3-5.1 4.4-4.9 4.7-4.5 4.9-4.3 5-4 5.1-3.7 5.3-3.3 5.5-3 5.5-2.6 5.7-2.2 5.7-1.8 5.8-1.3 5.8-0.8 5.8-0.3 5.9 0.1 5.8 0.5 5.8 0.9 5.8 1.4 5.6 1.7 5.6 2 5.5 2.3 10.7 5.5 10.3 6.4 9.8 7.2 9.2 7.7 8.8 8.2 8.2 8.7 7.8 8.9 7.2 9 6.7 9.3 6.3 9.3 8.6 14.1 5.1 9.4 6.9 14.2 4 9.3 5.5 13.9 4.8 13.5 5.5 17.5 3.5 12.6 4 16.4 3.3 15.7 2.8 15.3 2.2 14.7 1.7 14.4 1.4 14.1 1.2 17.2 0.7 16.9 0.3 16.8 0 12-346.2 0z" fill="#988790"/>
<path d="M1572.5 504.1l0.1-10.7 0.9-13.5 1-10.8 1.9-13.6 1.8-11.1 2.8-14.2 3.2-14.7 3.8-15.4 5.3-19.7 6.4-21.6 7.5-24.3 10.8-33.5 5.7-16.3 4.3-11.6 4.8-11.9 5.4-12.2 6.1-12.2 3.4-5.9 7.4-11.4 4-5.3 4.2-5.1 4.4-4.7 4.7-4.6 4.7-4.2 5-4 5.1-3.6 5.2-3.4 5.4-3 5.5-2.6 5.5-2.2 5.7-1.9 5.7-1.3 5.8-0.9 5.8-0.5 5.8 0 5.8 0.5 5.7 0.8 5.7 1.2 5.7 1.6 5.5 1.9 5.5 2.2 10.6 5.3 10.3 6.2 9.7 7 9.3 7.5 8.7 8.1 8.2 8.5 7.7 8.8 7.3 8.9 6.7 9.1 6.3 9.3 8.5 13.9 5.2 9.4 6.8 14.1 4.1 9.3 5.5 13.7 4.8 13.5 5.5 17.4 3.5 12.6 4.1 16.3 3.3 15.7 2.7 15.2 2.3 14.7 1.7 14.4 1.4 14 1.2 17.1 0.7 16.9 0.3 16.8 0 12-345.4 0z" fill="#9a878f"/>
<path d="M1572.8 504.1l0.2-10.7 0.9-13.4 1.1-10.8 1.9-13.6 2.4-13.8 2.9-14.2 3.4-14.7 4-15.4 5.5-19.8 6.6-21.7 9.3-29 9.8-29.4 5.9-16.4 4.6-11.5 5.1-11.9 5.7-12 6.5-11.8 3.5-5.6 3.8-5.5 4-5.3 4.1-5 4.4-4.7 4.6-4.5 4.7-4.2 4.9-3.9 5-3.7 5.2-3.3 5.3-3 5.4-2.7 5.5-2.3 5.6-1.8 5.7-1.5 5.7-1 5.7-0.5 5.8-0.1 5.7 0.3 5.7 0.7 5.7 1.1 5.6 1.5 5.5 1.8 5.4 2.1 5.4 2.4 10.4 5.6 9.9 6.4 9.5 7.1 9 7.7 8.4 8.1 8 8.5 7.5 8.8 7 8.9 6.5 9.1 6 9.1 8.2 13.9 5 9.4 6.5 13.9 4 9.2 5.2 13.6 4.6 13.3 5.3 17.1 3.4 12.5 3.8 16.1 3.2 15.5 2.6 15 2.1 14.6 1.7 14.2 1.3 13.9 1.1 17.1 0.5 13.5 0.3 16.7 0 12-344.7 0z" fill="#9d888d"/>
<path d="M1573.2 504.1l0.2-10.7 0.9-13.3 1.1-10.8 2-13.5 2.4-13.7 3-14.1 3.5-14.6 4-15.3 5.6-19.6 6.7-21.5 9.3-28.6 9.9-28.9 5.9-16.1 4.6-11.3 5-11.6 5.7-11.8 6.5-11.5 3.5-5.6 7.7-10.6 4.1-4.9 4.3-4.7 9.2-8.6 4.8-3.9 5-3.6 5.1-3.4 5.2-3 5.4-2.7 5.4-2.3 5.6-1.9 5.6-1.5 5.6-1.1 5.7-0.6 5.7-0.2 5.6 0.2 5.7 0.6 5.6 1 5.6 1.3 5.5 1.7 5.4 2 5.3 2.3 10.4 5.4 9.9 6.2 9.4 6.9 9 7.5 8.4 8 8 8.4 7.5 8.6 6.9 8.8 6.6 9 6 9.1 8.2 13.8 4.9 9.2 6.6 13.9 4 9.1 5.2 13.5 4.6 13.3 5.3 17.1 3.4 12.4 3.9 16 3.2 15.4 2.6 15 2.1 14.6 1.7 14.1 1.3 13.9 1.1 17.1 0.5 13.4 0.3 16.7 0 12-343.9 0z" fill="#9f898b"/>
<path d="M1573.6 504.1l0.2-10.6 0.9-13.4 1.2-10.7 2-13.4 2.5-13.7 3-14 3.6-14.5 4-15.1 5.7-19.5 6.7-21.2 9.4-28.2 10-28.3 5.9-15.9 4.6-11.1 5-11.3 5.7-11.6 6.4-11.3 3.5-5.5 7.5-10.3 8.4-9.5 9.1-8.6 4.7-3.9 4.9-3.6 5.1-3.3 5.1-3.1 5.3-2.7 5.4-2.3 5.5-2 5.5-1.6 5.6-1.1 5.6-0.7 5.7-0.3 5.6 0.1 5.6 0.4 5.6 0.9 5.5 1.2 5.5 1.6 5.3 1.9 5.3 2.2 10.3 5.2 9.9 6 9.4 6.8 9 7.3 8.4 7.8 8 8.2 7.4 8.5 7 8.7 6.5 8.9 6.1 9 8.2 13.7 4.9 9.2 6.6 13.7 4 9.1 5.2 13.5 4.6 13.2 5.3 17 3.4 12.3 3.9 16 3.2 15.4 2.7 14.9 2.1 14.5 1.7 14.2 1.3 13.8 1.1 17 0.6 13.4 0.2 16.7 0 12-343.1 0z" fill="#a28989"/>
<path d="M1574 504.1l0.2-10.6 0.9-13.3 1.2-10.7 2.1-13.4 2.5-13.6 3.1-13.9 3.6-14.4 4.2-15 5.7-19.2 6.8-21 8-23.5 9.6-27.2 5.7-15.2 6.6-16.1 5.1-11.2 5.6-11.2 6.4-11.1 3.4-5.4 7.5-10.2 4.1-4.8 4.2-4.6 8.9-8.4 9.6-7.5 5-3.4 5.1-3 5.2-2.8 5.3-2.4 5.4-2 5.5-1.6 5.5-1.3 5.6-0.8 5.5-0.4 5.6 0 5.6 0.4 5.5 0.7 5.5 1.2 5.4 1.4 5.4 1.8 5.3 2.1 5.1 2.4 10.1 5.4 9.6 6.2 9.2 6.9 8.6 7.4 8.2 7.9 7.7 8.3 7.3 8.5 6.7 8.6 6.3 8.9 5.8 8.9 7.9 13.7 4.7 9.1 6.4 13.6 3.7 9 5.1 13.3 4.4 13 5 16.8 3.3 12.2 3.7 15.8 2.4 11.4 2.6 14.9 2.2 14.5 1.7 14.1 1.3 13.8 1.1 17 0.6 13.4 0.2 16.6 0 12-342.3 0z" fill="#a48a87"/>
<path d="M1574.4 504.1l0.2-10.6 0.7-10.6 1.1-10.6 2-13.3 2.5-13.5 3.1-13.8 3.5-14.1 4.1-14.8 5.7-18.7 6.6-20.4 9.3-26.8 9.7-26.7 5.7-14.9 6.6-15.9 5.1-10.9 5.6-11 6.3-10.9 3.4-5.3 7.4-10 4-4.7 4.2-4.5 8.8-8.4 9.4-7.5 4.9-3.3 5.1-3.1 5.1-2.8 5.3-2.4 5.3-2.1 5.4-1.7 5.5-1.3 5.5-0.9 5.5-0.5 5.6-0.1 5.5 0.2 5.5 0.7 5.4 1 5.4 1.3 5.3 1.7 5.3 2 5.1 2.2 10 5.3 9.6 6 9.2 6.7 8.6 7.3 8.2 7.8 7.7 8.1 7.2 8.3 6.8 8.6 6.3 8.8 5.8 8.8 7.9 13.6 4.7 9 6.4 13.6 3.7 8.9 5.1 13.3 4.4 12.9 5.1 16.7 3.2 12.1 3.8 15.8 2.3 11.4 2.7 14.8 2.2 14.5 1.7 14 1.3 13.8 1.1 16.9 0.6 13.4 0.2 16.6 0 12-341.5 0z" fill="#a68b85"/>
<path d="M1574.8 504.1l0.2-10.6 0.7-10.5 1.2-10.6 2-13.3 2.6-13.4 3.1-13.7 3.6-14 4.1-14.6 5.7-18.6 6.8-20.2 9.3-26.4 9.8-26.2 5.7-14.6 6.6-15.5 5-10.7 5.6-10.8 6.3-10.6 3.4-5.2 7.3-9.9 3.9-4.6 4.2-4.5 8.7-8.3 9.3-7.4 9.8-6.5 5.1-2.8 5.2-2.5 5.2-2.1 5.4-1.8 5.4-1.3 5.4-1 5.5-0.6 5.5-0.3 5.5 0.2 5.4 0.5 5.4 0.9 5.4 1.2 5.3 1.6 5.2 1.9 5.1 2.1 10 5.1 9.5 5.8 9.2 6.6 8.6 7.1 8.2 7.6 7.7 8 7.2 8.2 6.8 8.5 6.3 8.6 5.8 8.8 7.9 13.4 4.7 9 6.4 13.5 3.7 8.9 5.1 13.2 4.4 12.9 5.1 16.6 3.3 12.1 3.7 15.6 2.4 11.4 2.7 14.8 2.2 14.4 1.7 14.1 1.3 13.7 1.1 16.9 0.6 13.3 0.2 16.6 0 12-340.7 0z" fill="#a98c83"/>
<path d="M1575.2 504.1l0.2-10.5 0.7-10.6 1.2-10.5 2.1-13.2 2-10.7 3.1-13.5 3.6-13.9 4.1-14.3 5.6-18.2 6.6-19.6 7.8-21.7 9.2-24.6 5.3-13.7 6-14.6 6.9-15.4 5.3-10.5 5.9-10.5 3.2-5.2 6.9-10 3.7-4.8 3.9-4.6 8.3-8.6 8.9-7.8 4.6-3.6 9.7-6.5 5-2.8 5.2-2.5 5.2-2.2 5.3-1.8 5.3-1.5 5.4-1.1 5.4-0.7 5.4-0.3 5.5 0 5.4 0.4 5.4 0.8 5.3 1.1 5.2 1.5 5.2 1.8 5.1 2 9.9 4.8 9.6 5.7 9.1 6.4 8.6 7 8.2 7.4 7.7 7.9 7.2 8.1 6.7 8.4 6.3 8.5 5.9 8.7 7.9 13.3 4.7 9 6.4 13.3 3.7 8.9 5.1 13.1 4.4 12.8 5.1 16.6 3.3 12 3.8 15.6 2.4 11.4 2.7 14.8 2.1 14.3 1.8 14 1.3 13.7 1.2 16.9 0.5 13.3 0.3 16.5 0 12-340 0z" fill="#ab8c81"/>
<path d="M1575.6 504.1l0.2-10.5 0.8-10.5 1.2-10.5 2.1-13.2 2.6-13.3 3.3-13.5 3.7-13.8 4.2-14.4 5.9-18.2 6.9-19.6 9.5-25.6 9.8-25.4 5.8-14 6.6-14.8 5-10.2 5.5-10.4 6.2-10.2 3.3-4.9 7.2-9.6 3.8-4.5 4-4.3 8.5-8.2 9.1-7.4 4.7-3.3 9.8-6 5-2.5 5.2-2.3 5.2-1.9 5.3-1.5 5.3-1.2 5.4-0.8 5.4-0.4 5.4-0.1 5.3 0.3 5.4 0.6 5.3 1 5.2 1.4 10.2 3.6 5 2.2 9.7 5.1 9.3 5.9 8.8 6.5 8.4 7.1 7.9 7.5 7.5 7.8 7 8.2 6.5 8.3 6.1 8.6 5.6 8.7 7.6 13.2 4.5 8.9 6.1 13.3 3.6 8.8 4.9 12.9 4.2 12.7 3.8 12.3 3.3 12 3.7 15.5 2.4 11.3 2.7 14.8 2.2 14.3 1.8 13.9 1.3 13.7 1.2 16.8 0.5 13.3 0.3 16.5 0 12-339.2 0z" fill="#ae8d7f"/>
<path d="M1575.9 504.1l0.3-10.5 0.8-10.4 1.2-10.5 2.2-13.1 2.7-13.2 3.3-13.4 3.8-13.8 4.3-14.2 5.9-18 6.9-19.4 9.6-25.3 9.9-24.8 5.8-13.8 6.6-14.5 5-10 5.5-10 6.1-10 3.3-4.9 7.1-9.3 3.8-4.5 8-8.4 4.3-4 8.9-7.3 4.7-3.4 9.6-6 5-2.6 5.1-2.3 5.2-1.9 5.2-1.6 5.3-1.3 5.3-0.9 5.3-0.6 5.4-0.2 5.3 0.2 5.3 0.5 5.2 0.9 5.2 1.3 10.2 3.4 5 2.1 9.6 4.9 9.3 5.7 8.8 6.4 8.4 6.9 7.9 7.4 7.5 7.7 7 8 6.5 8.3 6.1 8.4 5.6 8.7 7.6 13.1 4.5 8.8 6.1 13.2 3.6 8.7 4.9 12.9 4.2 12.6 3.8 12.3 3.3 11.9 3.8 15.5 2.4 11.3 2.7 14.7 2.2 14.2 1.8 14 1.3 13.6 1.2 16.8 0.5 13.2 0.3 16.5 0 12-338.5 0z" fill="#b08e7d"/>
<path d="M1576.3 504.1l0.3-10.4 0.8-10.5 1.3-10.4 1.7-10.5 2-10.5 3.2-13.2 3.6-13.5 4.2-13.9 5.7-17.4 6.6-18.7 7.8-20.4 9-22.8 7.1-17 6.1-13.7 6.9-14.4 5.2-9.8 5.8-9.8 3.1-4.9 6.7-9.4 3.6-4.5 3.7-4.4 8-8.3 8.5-7.7 4.5-3.6 9.3-6.5 4.8-2.9 9.9-4.9 5.1-2.1 5.2-1.7 5.2-1.3 5.3-1.1 5.3-0.6 5.3-0.3 5.2 0 5.3 0.5 5.2 0.7 5.2 1.2 10.1 3.2 5 2 9.6 4.7 9.2 5.5 8.8 6.2 8.4 6.8 7.9 7.2 7.4 7.6 7 7.9 6.6 8.2 6.1 8.4 5.6 8.5 7.6 13 4.5 8.8 6.1 13.1 3.6 8.7 4.9 12.8 4.3 12.5 4.9 16.3 3.2 11.8 3.6 15.3 2.3 11.1 2.6 14.6 2.1 14.1 1.6 13.8 1.3 13.6 0.9 13.4 0.5 13.2 0.3 16.4 0 12-337.7 0z" fill="#b38f7b"/>
<path d="M1576.7 504.1l0.3-10.4 0.8-10.4 1.3-10.4 2.2-13 2.2-10.5 3.3-13.2 3.8-13.4 4.4-13.9 5.9-17.4 6.9-18.7 8-20.4 11.1-27.1 5.6-12.9 6.3-13.6 7.3-14.2 5.5-9.6 6-9.5 3.2-4.7 7-9 3.7-4.3 7.8-8.3 4.1-3.8 8.7-7.3 4.5-3.4 9.4-6.1 4.9-2.6 5-2.4 5-2.1 5.1-1.8 5.2-1.5 5.2-1.1 5.2-0.8 5.3-0.4 5.2 0 5.2 0.3 5.2 0.7 5.1 1 5.1 1.3 9.9 3.6 4.9 2.1 9.4 5 9 5.7 8.5 6.3 8.2 6.9 7.6 7.3 7.3 7.6 6.7 8 6.4 8.1 5.8 8.4 5.4 8.6 5 8.6 4.5 8.7 6.1 13 3.6 8.7 4.9 12.7 4.3 12.5 4.9 16.1 3.2 11.8 3.7 15.3 2.3 11.1 2.6 14.5 2.1 14.1 1.6 13.8 1.3 13.5 0.9 13.3 0.5 13.2 0.3 16.4 0 12-336.9 0z" fill="#b58f79"/>
<path d="M1577.1 504.1l0.3-10.4 0.8-10.4 1.3-10.3 1.8-10.4 2.2-10.4 3.2-13.1 3.8-13.2 4.3-13.7 5.8-17.1 6.8-18.2 6.4-16.4 9-21.6 8.8-20.2 6-13.1 7-13.7 5.1-9.3 5.7-9.4 6.3-9.1 6.8-8.9 3.7-4.2 7.7-8.2 4.1-3.8 8.6-7.3 4.4-3.3 9.3-6.2 4.8-2.7 9.9-4.6 5-1.8 5.1-1.6 5.2-1.2 5.1-0.9 5.2-0.5 5.2-0.2 5.2 0.2 5.2 0.6 5.1 0.9 5 1.2 9.9 3.3 4.8 2.1 9.4 4.8 9 5.5 8.5 6.2 8.1 6.7 7.7 7.2 7.2 7.5 6.8 7.8 6.3 8.1 5.9 8.3 5.4 8.5 5 8.6 4.5 8.6 6.1 13 3.6 8.5 4.9 12.7 4.3 12.4 5 16.1 3.2 11.7 3.6 15.2 2.3 11.1 2.6 14.5 2.1 14 1.7 13.8 1.3 13.5 0.9 13.3 0.6 13.1 0.2 16.4 0 12-336.1 0z" fill="#b79077"/>
<path d="M1577.5 504.1l0.3-10.4 0.8-10.3 1.4-10.3 1.8-10.4 2.2-10.3 3.3-13 3.8-13.2 4.3-13.5 6-16.9 6.8-18 6.5-16.1 9-21.3 8.8-19.7 6.1-12.9 6.9-13.3 5.2-9.1 5.6-9.1 6.3-9 6.7-8.7 3.6-4.2 7.7-8 4-3.8 8.4-7.2 4.4-3.4 9.1-6.2 4.8-2.7 9.7-4.7 5-2 5.1-1.6 5-1.3 5.2-1 5.1-0.7 5.2-0.3 5.1 0.1 5.2 0.5 5 0.8 5 1.1 9.9 3.1 4.8 2 9.3 4.6 9 5.3 8.5 6.1 8.1 6.6 7.7 7 7.2 7.4 6.8 7.7 6.3 8 5.9 8.2 5.4 8.4 5 8.5 4.5 8.6 6.1 12.9 3.6 8.5 4.9 12.6 4.3 12.4 5 16 3.2 11.7 3.7 15.1 2.3 11.1 2.6 14.4 2.1 14 1.7 13.7 1.3 13.5 0.9 13.2 0.6 13.2 0.2 16.3 0 12-335.3 0z" fill="#b99075"/>
<path d="M1577.9 504.1l0.3-10.3 0.8-10.4 1.4-10.2 1.9-10.3 2.2-10.3 3.4-12.9 3.8-13.1 4.4-13.4 6-16.8 6.9-17.7 6.6-15.9 9.1-20.9 8.8-19.3 6.1-12.5 6.9-13.1 5.2-8.8 5.6-8.9 6.1-8.7 6.7-8.6 3.6-4.1 7.5-7.9 8-7.5 8.6-6.9 4.4-3.1 9.3-5.8 4.7-2.6 9.8-4.3 5-1.8 5-1.4 5.1-1.1 5.1-0.7 5.1-0.4 5.2-0.1 5 0.4 5.1 0.7 5 1 4.9 1.3 9.6 3.5 4.7 2.1 9.2 4.8 8.7 5.5 8.3 6.2 7.9 6.7 7.4 7.1 7 7.4 6.6 7.8 6.1 8 5.6 8.2 5.2 8.4 4.8 8.5 4.3 8.6 5.9 12.7 3.5 8.5 4.6 12.5 4.2 12.2 3.6 11.9 3.3 11.6 3.6 15.1 2.4 11 2.6 14.4 2.1 13.9 1.7 13.7 1.3 13.5 0.9 13.2 0.6 13.1 0.2 16.3 0 12-334.5 0z" fill="#bc9173"/>
<path d="M1578.3 504.1l0.3-10.3 0.9-10.3 1.4-10.2 1.8-10.3 2.3-10.2 3.4-12.9 4-13 4.4-13.2 6.1-16.6 5.7-14.5 6.5-15.5 8.9-20.1 8.6-18.6 5.9-12 6.6-12.5 7.5-12.9 5.6-8.7 6.1-8.5 6.6-8.3 3.5-4.1 7.4-7.8 8-7.4 8.4-6.9 4.4-3.2 9-5.9 4.7-2.6 9.7-4.5 4.9-1.8 5-1.5 5.1-1.2 5-0.9 5.1-0.5 5.1-0.2 5 0.3 5 0.6 5 0.9 4.9 1.2 9.6 3.3 4.7 2 9.1 4.6 8.7 5.4 8.3 6 7.9 6.6 7.4 6.9 7 7.4 6.6 7.6 6.1 7.9 5.6 8.2 5.2 8.3 4.8 8.4 4.3 8.5 5.9 12.7 3.5 8.4 4.7 12.4 4.1 12.2 3.7 11.8 3.2 11.6 3.7 15.1 2.3 10.9 2.7 14.4 2.1 13.9 1.7 13.7 1.3 13.4 0.9 13.2 0.6 13 0.2 16.3 0 12-333.7 0z" fill="#be9271"/>
<path d="M1578.7 504.1l0.3-10.3 0.9-10.2 1.4-10.3 1.9-10.1 2.3-10.2 3.5-12.8 4-12.9 4.5-13.2 6.2-16.4 5.7-14.3 8-18.4 7.5-16.5 8.7-18.2 5.9-11.8 6.6-12.2 7.5-12.5 5.5-8.4 6.1-8.4 10-12.1 7.3-7.7 7.8-7.4 8.3-6.9 4.3-3.2 8.9-5.9 4.7-2.7 9.5-4.6 4.9-1.9 4.9-1.6 5-1.4 5-0.9 5.1-0.7 5-0.2 5 0.1 5 0.4 4.9 0.9 4.9 1.1 9.6 3 4.6 2 9.1 4.4 8.7 5.3 8.3 5.8 7.8 6.4 7.5 6.9 7 7.2 6.6 7.5 6 7.9 5.7 8.1 5.2 8.2 4.8 8.4 4.3 8.4 5.9 12.6 3.5 8.4 4.7 12.3 4.1 12.1 3.7 11.8 3.3 11.6 3.6 14.9 2.4 11 2.7 14.2 2.1 14 1.7 13.6 1.3 13.3 0.9 13.2 0.6 13.1 0.3 16.2 0 12-333 0z" fill="#c1926e"/>
<path d="M1579.4 504.1l0.3-10.2 0.9-10.2 1.5-10.2 1.9-10.1 2.4-10.1 3.5-12.7 3.2-10.2 4.5-12.9 6-16.1 5.7-14 6.4-14.8 7.2-15.8 8.2-17.2 7.4-14.9 6.3-11.8 7.2-12.2 5.2-8.2 5.8-8.2 6.2-8.1 6.7-7.8 7.2-7.6 7.7-7.2 8.2-6.8 4.2-3.1 8.8-5.8 4.6-2.6 9.4-4.6 4.8-1.9 4.9-1.6 4.9-1.3 4.9-1 5-0.7 4.9-0.3 5 0.1 4.9 0.4 4.9 0.8 4.8 1 9.4 2.9 4.7 1.8 8.9 4.4 8.6 5 8.3 5.7 7.8 6.2 7.4 6.7 7 7 6.5 7.4 6.1 7.7 5.6 7.9 5.2 8.1 4.8 8.2 4.4 8.3 5.8 12.4 3.5 8.2 4.7 12.3 4.2 11.9 3.7 11.7 3.3 11.4 3.7 14.9 2.3 10.8 2.7 14.2 2.2 13.8 1.7 13.5 1.3 13.3 0.9 13.1 0.6 13 0.2 16.1 0 12-331.1 0z" fill="#c4936b"/>
<path d="M1580.1 504.1l0.1-7.6 0.8-10.2 1.4-10.1 1.9-10.1 2.3-10 3.4-12.5 3.2-10.1 4.4-12.8 6-15.7 5.6-13.7 6.2-14.4 7.1-15.3 9.6-20.1 7.5-14.6 6.3-11.5 7.1-11.9 5.2-8.1 5.7-8 6.1-7.9 6.6-7.7 7.1-7.4 7.6-7 8.1-6.6 4.2-3.1 8.7-5.8 4.5-2.5 9.2-4.5 4.7-1.9 9.7-2.9 4.8-1 4.9-0.7 4.9-0.3 4.9 0 4.8 0.4 4.8 0.7 4.8 0.9 9.3 2.8 4.6 1.7 8.9 4.2 8.5 4.8 8.2 5.6 7.7 6 7.4 6.5 6.9 6.8 6.5 7.3 6.1 7.5 5.6 7.7 5.2 8 4.8 8 4.4 8.2 5.9 12.2 3.5 8.1 4.7 12.1 4.2 11.8 3.7 11.6 3.3 11.3 3.7 14.7 2.4 10.8 2.6 14 2.2 13.7 1.7 13.5 1.3 13.2 1 13 0.6 12.9 0.2 16 0 12-329.3 0z" fill="#c79468"/>
<path d="M1580.8 504.1l0.3-10.1 0.9-10.1 1.6-10.1 2-10 2.4-9.9 3.7-12.4 3.2-10 4.6-12.7 6.2-15.7 5.7-13.6 7.8-17.2 7.4-15.5 8.4-16.9 7.7-14.5 6.5-11.4 7.3-11.7 5.4-7.9 5.8-7.8 6.3-7.6 6.8-7.4 7.3-7.1 7.7-6.7 8.1-6.2 4.2-2.9 8.8-5.2 4.5-2.3 9.3-4 4.7-1.6 9.5-2.3 4.9-0.7 4.8-0.3 4.8-0.1 4.8 0.4 9.4 1.5 4.7 1.1 9.1 3.1 4.4 1.9 8.6 4.4 8.3 5 7.9 5.6 7.5 6.1 7.1 6.5 6.7 6.9 6.3 7.2 5.8 7.4 5.4 7.7 5 7.9 4.6 7.9 4.2 8.1 5.6 12 3.4 8 4.5 11.8 4.1 11.6 3.5 11.4 3.2 11.1 3.5 14.5 2.3 10.6 2.6 13.9 2 13.5 1.7 13.3 1.2 13.1 0.8 12.9 0.5 12.8 0.2 12.7 0 12-327.5 0z" fill="#ca9564"/>
<path d="M1581.5 504.1l0.1-7.6 0.9-10 1.4-10 1.9-10 2.4-9.8 3.6-12.4 4.1-12.3 4.6-12.6 6.2-15.4 5.8-13.4 7.8-17 7.4-15.2 8.4-16.5 7.6-14.2 6.5-11.2 7.3-11.4 5.3-7.7 5.8-7.6 6.2-7.4 6.7-7.2 7.1-7 7.6-6.5 8.1-6.1 4.1-2.8 8.6-5.2 4.5-2.3 9.1-3.9 4.6-1.5 9.4-2.4 4.8-0.7 4.7-0.4 4.8 0 4.7 0.2 9.3 1.4 4.6 1.1 9 2.9 4.4 1.8 8.5 4.2 8.2 4.8 7.9 5.4 7.4 6 7.1 6.3 6.7 6.7 6.2 7 5.8 7.3 5.4 7.6 5 7.7 4.6 7.8 4.2 7.9 5.7 11.9 3.3 7.8 4.6 11.7 4.1 11.5 3.5 11.2 3.2 11.1 3.6 14.3 2.3 10.6 2.5 13.7 2.1 13.4 1.6 13.2 1.3 13 0.8 12.8 0.5 12.7 0.2 12.7 0 12-325.7 0z" fill="#ce9661"/>
<path d="M1582.2 504.1l0.2-7.5 0.8-10 1.4-10 2-9.9 2.4-9.8 3.6-12.2 3.3-9.8 4.6-12.3 6.1-15.2 7-15.7 7.8-16.7 7.4-15 8.4-16.1 7.6-13.9 6.5-10.9 7.2-11.2 5.2-7.4 5.7-7.5 6.2-7.2 6.6-7.1 7-6.8 7.5-6.4 7.9-5.9 4.1-2.8 8.5-5.1 4.4-2.2 8.9-3.8 4.6-1.6 9.2-2.3 4.7-0.8 4.7-0.4 4.7-0.1 4.6 0.2 9.2 1.2 4.6 1.1 8.9 2.7 4.3 1.7 8.5 4 8.1 4.7 7.8 5.2 7.4 5.8 7 6.1 6.6 6.6 6.2 6.8 5.8 7.2 5.4 7.3 5 7.6 4.6 7.7 4.2 7.7 5.7 11.7 3.4 7.8 4.6 11.5 4.1 11.3 3.5 11.2 3.2 10.9 3.6 14.2 2.3 10.5 2.6 13.6 2.1 13.4 1.6 13.1 1.2 12.9 0.9 12.7 0.5 12.6 0.2 12.6 0 12-323.9 0z" fill="#d1965e"/>
<path d="M1582.9 504.1l0.2-7.5 0.8-9.9 1.5-9.9 2-9.8 2.4-9.8 2.9-9.7 3.3-9.7 4.5-12.1 5-12.4 6.7-15.3 7.6-16.1 7.1-14.3 9.6-18.5 7.4-13.4 6.2-10.5 6.9-10.8 5-7.3 5.4-7.3 5.9-7.1 6.3-7 6.7-6.8 7.1-6.5 7.6-6 4-2.9 8.1-5.2 4.2-2.4 8.7-4.2 4.4-1.8 9.1-2.9 4.5-1 9.3-1.2 4.6-0.2 4.5 0.2 9.1 1.1 8.9 2.1 8.7 3 4.2 1.8 8.2 4.2 7.9 4.8 7.6 5.3 7.1 5.8 6.8 6.2 6.4 6.5 6 6.8 5.6 7.2 5.2 7.3 4.8 7.4 4.4 7.6 4 7.7 5.5 11.5 3.3 7.6 4.4 11.3 3.9 11.2 3.4 10.9 3.1 10.8 3.4 14 2.2 10.3 2.5 13.5 1.5 9.9 1.7 13 1.2 12.8 0.9 12.6 0.5 12.6 0.2 12.5 0 12-322.1 0z" fill="#d4975b"/>
<path d="M1583.6 504.1l0.2-7.5 0.8-9.9 1.5-9.8 2-9.7 2.6-9.7 2.9-9.6 3.3-9.6 4.6-12 5-12.2 6.8-15.1 7.6-15.9 7.1-13.9 9.6-18.2 7.4-13 6.1-10.3 6.9-10.6 4.9-7.1 5.4-7 5.8-7 6.2-6.9 6.6-6.6 7.1-6.3 7.4-5.9 3.9-2.8 8-5.2 4.2-2.3 8.5-4.2 4.4-1.7 8.9-2.9 4.5-1 9-1.3 4.6-0.2 4.5 0.1 8.9 1 8.8 2 8.6 2.8 4.2 1.8 8.1 3.9 7.8 4.7 7.5 5.1 7.2 5.6 6.7 6 6.4 6.4 5.9 6.6 5.6 7 5.2 7.1 4.8 7.4 4.4 7.4 4.1 7.5 5.4 11.4 3.3 7.5 4.5 11.2 3.9 11 3.4 10.9 3.1 10.6 3.5 13.9 2.2 10.2 2.4 13.4 1.6 9.8 1.6 12.9 1.3 12.7 0.8 12.6 0.6 12.5 0.2 12.4 0 12-320.3 0z" fill="#d6985a"/>
<path d="M1584.3 504.1l0.2-7.4 0.8-9.9 1.5-9.7 2.1-9.7 2.6-9.6 2.9-9.5 3.4-9.5 4.6-11.9 5.1-12.1 6.8-14.9 6.3-12.9 7-13.5 7.7-14.5 8.8-15.6 8.1-13.2 6.8-10.3 4.9-6.9 5.3-6.9 5.7-6.9 6.1-6.6 6.6-6.5 6.9-6.1 11.1-8.5 7.9-5.1 4.1-2.3 8.4-4.1 4.3-1.7 8.7-2.8 4.5-1.1 8.9-1.3 4.4-0.2 4.5 0 8.8 0.8 8.7 1.9 8.5 2.6 4.1 1.7 8.1 3.8 7.8 4.4 7.4 5 7.1 5.4 6.7 5.8 6.3 6.2 6 6.5 5.5 6.8 5.2 7 4.8 7.2 4.4 7.3 4.1 7.4 5.5 11.1 3.3 7.5 4.4 11 4 10.9 3.4 10.8 3.1 10.5 3.5 13.8 2.2 10.1 2.5 13.2 1.5 9.8 1.7 12.8 1.2 12.7 0.9 12.5 0.5 12.4 0.2 12.3 0 12-318.4 0z" fill="#d89958"/>
<path d="M1585 504.1l0.2-7.4 0.8-9.8 1.1-7.3 2-9.6 2.5-9.6 2.9-9.4 3.3-9.4 4.6-11.8 5.1-11.8 6.7-14.6 7.5-15.2 7-13.3 7.7-14.1 8.8-15.3 8-12.9 6.7-10 7.5-10.1 5.5-6.7 5.8-6.5 6.2-6.4 6.7-6.2 7-5.8 11.2-8 8-4.7 4-2.1 8.4-3.6 4.3-1.5 8.7-2.4 4.3-0.8 4.4-0.5 8.8-0.3 4.4 0.2 8.7 1.2 8.4 2.1 8.3 2.9 4 1.7 7.9 4 7.5 4.5 7.2 5 6.9 5.5 6.5 5.8 6.1 6.2 5.7 6.5 5.4 6.7 5 7 4.6 7.1 4.3 7.2 3.9 7.3 5.2 11 3.2 7.3 4.3 10.9 3.8 10.7 3.3 10.6 3 10.3 3.3 13.6 2.1 10 2.4 13.1 1.5 9.6 1.5 12.7 1.8 21.8 0.5 12.3 0.2 12.3 0 12-316.6 0z" fill="#da9a56"/>
<path d="M1585.7 504.1l0.2-7.3 0.9-9.8 1.1-7.3 2-9.5 2.5-9.5 3-9.4 3.3-9.3 4.6-11.6 5.2-11.7 6.7-14.3 7.6-15 7-13 7.7-13.9 8.8-14.8 8-12.6 6.6-9.7 7.5-9.9 5.3-6.5 5.8-6.4 6.1-6.2 6.6-6 6.9-5.7 11-7.8 7.8-4.5 4-2.1 8.2-3.6 4.2-1.5 8.6-2.3 4.3-0.9 4.3-0.6 8.7-0.4 4.3 0.2 8.5 1 8.4 2 8.2 2.7 3.9 1.7 7.8 3.7 7.5 4.4 7.1 4.8 6.8 5.3 6.5 5.7 6.1 6 5.8 6.3 5.3 6.6 5 6.8 4.6 6.9 4.3 7.1 3.9 7.2 5.3 10.8 3.2 7.2 4.3 10.8 3.8 10.6 3.3 10.4 3 10.3 3.3 13.5 2.2 9.9 2.4 12.9 1.4 9.6 1.6 12.6 1.8 21.7 0.5 12.2 0.2 12.2 0 12-314.8 0z" fill="#dc9b55"/>
<path d="M1586.4 504.1l0.2-7.3 0.9-9.7 1.1-7.2 2.1-9.5 2.5-9.4 3-9.3 3.4-9.3 4.7-11.4 5.2-11.6 6.8-14.1 7.5-14.7 7.1-12.8 7.7-13.5 8.8-14.5 7.9-12.2 6.6-9.5 7.4-9.5 5.3-6.4 5.7-6.2 6-6 6.4-5.9 6.8-5.5 10.9-7.6 7.7-4.5 3.9-2 8.1-3.6 4.1-1.5 8.4-2.3 4.2-0.9 4.3-0.6 8.5-0.5 4.2 0.1 8.5 0.9 8.2 1.8 8.1 2.5 4 1.6 7.7 3.6 7.4 4.1 7.1 4.7 6.7 5.1 6.5 5.5 6.1 5.9 5.7 6.1 5.3 6.5 5 6.6 4.6 6.8 4.3 6.9 3.9 7.1 5.4 10.7 3.1 7.1 4.3 10.6 3.9 10.5 3.3 10.3 3 10.2 3.4 13.3 2.1 9.8 2.4 12.9 1.5 9.5 1.6 12.5 1.8 21.5 0.5 12.2 0.2 12.1 0 12-313 0z" fill="#df9c53"/>
<path d="M1587.1 504.1l0.2-7.3 0.9-9.6 1.2-7.2 2-9.5 2.6-9.3 3.1-9.2 3.4-9.1 3.8-9.1 5.1-11.4 6.7-13.8 6.2-11.9 6.8-12.3 9-15.6 8.5-14 7.7-11.8 6.4-9.1 7-9.2 5.1-6.2 5.4-6.1 5.8-6 6.1-5.8 6.5-5.5 10.4-7.7 7.4-4.7 7.7-4.1 7.9-3.5 4-1.4 8.3-2.4 4.1-0.9 4.2-0.6 8.4-0.6 4.2 0 8.3 0.8 8.2 1.6 8 2.4 3.9 1.4 7.6 3.4 7.3 4 7.1 4.5 6.7 4.9 6.4 5.4 6.1 5.7 5.7 5.9 5.3 6.3 5 6.5 4.7 6.7 4.2 6.8 4 6.9 5.3 10.5 3.2 7 4.3 10.5 3.8 10.3 3.4 10.3 3 10 3.4 13.2 2.2 9.8 2.4 12.8 1.4 9.4 1.6 12.4 1.8 21.4 0.6 12.1 0.2 12 0 12-311.2 0z" fill="#e19d51"/>
<path d="M1587.8 504.1l0.2-7.2 0.9-9.6 1.2-7.2 2.1-9.4 2.6-9.2 3.1-9.2 3.5-9 4.8-11.2 5.3-11.2 6.9-13.7 7.6-14.2 7-12.3 7.8-12.9 8.7-13.8 7.9-11.5 6.5-8.9 7.2-9 5.2-6 5.5-5.8 5.9-5.8 6.2-5.5 6.6-5.2 10.5-7.3 7.3-4.3 7.7-3.7 7.9-3.1 4-1.3 8.2-2 4.1-0.7 4.1-0.4 8.3-0.3 4.1 0.2 8.1 1 8 1.9 7.8 2.6 3.8 1.5 7.4 3.5 7.2 4.1 6.8 4.5 6.5 5 6.3 5.3 5.8 5.7 5.5 6 5.2 6.2 4.8 6.4 4.5 6.6 4.1 6.8 3.8 6.8 5.1 10.4 3.1 6.9 4.1 10.3 3.7 10.2 3.3 10.1 2.8 9.9 2.5 9.8 2.2 9.6 2.4 12.7 1.5 9.4 1.6 12.3 1.8 21.2 0.6 12 0.2 12 0 12-309.4 0z" fill="#e39e50"/>
<path d="M1588.5 504.1l0.2-7.2 0.9-9.5 1.2-7.1 2.2-9.4 2.6-9.2 3.2-9 3.5-8.9 3.8-8.9 5.3-11.1 6.8-13.4 6.2-11.5 6.8-11.8 9.1-14.9 8.5-13.3 7.6-11.1 6.3-8.6 6.9-8.7 5-5.8 5.2-5.7 5.7-5.6 5.9-5.5 6.3-5.3 6.6-4.9 6.9-4.7 7.3-4.1 7.5-3.7 7.8-3.1 3.9-1.3 8-2 4.1-0.7 4-0.5 8.1-0.4 4.1 0.1 8 0.9 7.9 1.7 7.7 2.4 3.8 1.4 7.3 3.4 7.1 3.9 6.8 4.3 6.5 4.8 6.2 5.2 5.8 5.5 5.6 5.8 5.1 6.1 4.8 6.3 4.5 6.4 4.1 6.6 3.8 6.8 5.2 10.1 3.1 6.9 4.1 10.1 3.7 10.1 3.3 10 2.9 9.8 2.5 9.7 2.1 9.6 2.5 12.6 1.5 9.3 1.6 12.2 1.8 21.1 0.5 11.9 0.3 11.9 0 12-307.6 0z" fill="#e59f4e"/>
<path d="M1589.2 504.1l0.2-7.2 0.9-9.5 1.3-7 2.1-9.3 2.7-9.1 3.2-9 3.6-8.8 3.9-8.8 5.2-10.9 6.9-13.2 6.3-11.3 6.8-11.6 7.5-12.1 8.3-12.7 7.4-10.7 8.2-11 6.8-8.5 5-5.6 10.7-11 5.8-5.3 6.2-5.1 6.5-4.8 6.8-4.5 7.1-4.1 7.4-3.6 7.6-3.1 3.9-1.2 7.8-2.1 4-0.7 8-0.9 4-0.2 4 0.1 7.9 0.7 7.8 1.5 7.6 2.2 3.8 1.4 7.2 3.1 7.1 3.7 6.7 4.2 6.5 4.6 6.1 5.1 5.9 5.3 5.5 5.6 5.1 6 4.9 6.1 4.4 6.3 4.2 6.5 3.8 6.6 5.1 10 3.1 6.7 4.2 10.1 3.7 10 3.3 9.8 2.9 9.8 2.5 9.6 2.2 9.5 2.4 12.5 1.5 9.2 1.6 12.1 1.9 21 0.5 11.8 0.2 11.8 0 12-305.7 0z" fill="#e6a150"/>
<path d="M1589.9 504.1l0.2-7.1 0.6-7.1 1.1-7 2.1-9.3 2.6-9.1 3.1-8.9 3.5-8.8 3.9-8.7 5.2-10.7 6.9-13 7.5-13.3 6.8-11.3 7.5-11.8 8.3-12.4 7.4-10.4 8.1-10.7 6.8-8.1 4.8-5.5 7.9-8 5.6-5.2 5.9-5.1 6.2-4.8 6.5-4.6 6.9-4.2 7.1-3.7 7.3-3.3 7.6-2.7 3.8-1.1 7.8-1.8 3.9-0.6 7.9-0.6 3.9 0 3.9 0.2 7.8 0.9 7.6 1.7 7.4 2.4 3.7 1.4 7.1 3.3 6.8 3.8 6.6 4.2 6.3 4.6 5.9 5.1 5.7 5.3 5.3 5.6 5 5.9 4.7 6.1 4.3 6.3 4 6.4 3.6 6.5 5 9.9 3 6.6 4 10 3.6 9.8 3.1 9.7 2.8 9.6 2.4 9.5 3.9 18.6 1.5 9.2 1.6 12 1.9 20.8 0.5 11.8 0.2 11.7 0 12-303.9 0z" fill="#e6a251"/>
<path d="M1590.6 504.1l0.2-7.1 0.7-7 1.1-7 2-9.2 2.7-9 3.2-8.9 3.5-8.7 3.9-8.6 5.3-10.6 5.7-10.6 7.4-13 6.8-11 7.4-11.5 8.1-11.9 7.1-10 7.9-10.3 11.2-13 7.5-7.9 5.4-5.1 5.6-5 6-4.8 6.2-4.5 6.6-4.3 6.8-3.9 7.1-3.4 11-4.3 7.6-2.1 7.7-1.4 7.7-0.8 3.9-0.1 3.9 0.1 7.6 0.8 7.5 1.6 7.4 2.2 3.6 1.3 7.1 3.1 6.8 3.6 6.5 4 6.2 4.5 6 4.8 5.6 5.2 5.3 5.5 5 5.7 4.7 5.9 4.3 6.2 4 6.3 3.7 6.4 4.9 9.8 3 6.5 4.1 9.8 3.6 9.7 3.1 9.6 2.8 9.5 2.4 9.4 3.9 18.5 1.6 9.1 1.6 11.9 1.8 20.7 0.6 11.7 0.2 11.6 0 12-302.1 0z" fill="#e7a453"/>
<path d="M1591.3 504.1l0.2-7 0.7-7.1 1.1-6.9 2.1-9.1 2-6.8 3.1-8.8 3.5-8.6 3.8-8.5 5.3-10.5 5.7-10.5 7.3-12.7 6.7-10.7 7.2-11.1 8-11.5 7-9.6 7.6-9.9 6.3-7.5 6.8-7.6 7.4-7.6 5.3-4.9 5.6-4.8 5.8-4.7 6.1-4.4 6.5-4.2 6.7-3.8 6.9-3.4 10.8-4.2 7.4-2.1 7.6-1.5 7.6-0.9 3.8-0.1 3.8 0 7.6 0.6 7.4 1.4 7.3 2 3.6 1.2 6.9 2.9 6.8 3.4 6.5 3.9 6.2 4.3 5.9 4.7 5.6 5 5.3 5.3 5 5.6 4.7 5.8 4.3 6 4 6.2 3.7 6.3 5 9.6 3 6.4 4.1 9.7 3.6 9.6 3.1 9.5 2.8 9.4 2.5 9.3 3.9 18.3 1.5 9.1 1.6 11.8 1.9 20.5 0.6 11.6 0.2 11.6 0 12-300.3 0z" fill="#e7a655"/>
<path d="M1592 504.1l0.2-7 0.7-7 1.1-6.9 2.2-9.1 2.7-8.9 3.2-8.6 3.7-8.6 4-8.3 5.4-10.4 5.8-10.3 7.5-12.4 6.8-10.6 7.4-10.9 8.1-11.3 7.1-9.4 7.8-9.5 6.4-7.3 6.9-7.3 7.5-7.3 5.3-4.7 5.6-4.6 5.9-4.4 6.2-4.2 6.4-3.8 6.7-3.6 6.9-3.1 10.7-3.8 7.4-1.9 7.4-1.3 7.5-0.6 3.8 0 3.7 0.1 7.4 0.8 7.3 1.5 7.1 2.2 10.3 4.3 6.6 3.4 6.3 4 6 4.3 5.8 4.7 5.4 5 5.2 5.3 4.8 5.5 4.5 5.8 4.2 5.9 3.9 6.2 3.5 6.2 4.8 9.5 6.8 15.9 3.5 9.4 3 9.4 2.7 9.3 2.4 9.2 3.7 18.1 1.4 8.9 1.6 11.8 1.7 20.3 0.6 20.1 0 12-298.5 0z" fill="#e8a857"/>
<path d="M1593.6 504.1l0.2-6.9 0.7-6.9 1.2-6.8 2.1-9 2.1-6.6 3.1-8.6 3.6-8.4 3.9-8.2 5.3-10.2 5.7-10 7.4-12.2 6.7-10.2 7.2-10.5 7.9-10.9 6.9-8.9 7.5-9.2 6.1-7 6.7-7 7.1-6.9 5.1-4.6 10.9-8.8 5.9-4.1 6.1-3.9 6.4-3.5 6.6-3.2 6.8-2.8 7-2.3 7.2-1.8 7.2-1.3 7.3-0.6 3.6-0.1 3.7 0.1 7.2 0.8 7.1 1.4 6.9 2 10.1 4.1 6.4 3.3 6.2 3.7 6 4.2 5.6 4.4 5.4 4.8 5.1 5.1 4.7 5.3 4.5 5.6 4.1 5.8 3.9 5.9 3.5 6 4.8 9.2 6.8 15.5 3.4 9.2 3.1 9.1 2.7 9.1 2.3 9 3.8 17.8 1.4 8.7 1.6 11.6 1.7 19.9 0.6 19.8 0 12-294.1 0z" fill="#e9aa59"/>
<path d="M1595.2 504.1l0.2-6.8 0.7-6.8 1.2-6.8 1.6-6.6 2-6.5 3-8.5 3.5-8.4 3.8-8.1 5.3-9.9 5.6-9.9 6-9.8 6.5-9.9 6.9-10.1 7.6-10.4 8.2-10.6 7.3-8.8 12.2-13.4 11.7-11.1 7.7-6.4 5.5-4.2 5.7-3.9 6-3.7 6.2-3.4 6.4-3 6.6-2.7 6.8-2.2 7-1.8 7-1.2 7.1-0.7 3.5 0 3.6 0.1 7 0.7 6.9 1.3 6.8 1.9 9.8 3.8 6.3 3.1 6.1 3.6 5.8 3.9 5.5 4.3 5.3 4.6 5 4.9 4.7 5.1 4.5 5.4 4.1 5.5 3.8 5.7 3.5 5.9 4.7 8.9 6.8 15 3.5 9 3.1 8.9 2.7 8.9 2.3 8.8 3.8 17.3 1.5 8.6 1.5 11.4 1.7 19.6 0.6 19.4 0 12-289.7 0z" fill="#eaad5c"/>
<path d="M1596.8 504.1l0.2-6.8 0.8-6.7 1.2-6.6 1.6-6.6 1.9-6.4 3.1-8.4 3.5-8.1 3.9-8 5.2-9.8 5.7-9.6 6-9.6 6.4-9.6 6.9-9.8 7.5-10 8.2-10.2 7.1-8.5 12.1-12.8 11.4-10.6 7.5-6.1 5.4-3.9 5.5-3.8 5.8-3.5 6.1-3.2 6.2-3 6.4-2.5 6.6-2.2 6.8-1.7 6.8-1.2 6.9-0.6 3.4-0.1 3.4 0.1 6.9 0.6 6.7 1.2 6.6 1.8 6.4 2.3 6.3 2.7 6 3.2 5.9 3.6 5.6 3.9 5.3 4.2 5.1 4.6 4.8 4.8 4.5 5 4.2 5.2 3.9 5.5 3.6 5.6 3.4 5.7 4.5 8.6 6.6 14.6 3.3 8.7 3 8.7 2.6 8.7 2.2 8.5 3.6 17 2.5 16.7 1.8 19.3 0.6 19.1 0 12-285.4 0z" fill="#eab05f"/>
<path d="M1598.4 504.1l0.3-6.7 0.7-6.6 1.2-6.6 1.7-6.4 1.9-6.3 3.1-8.3 3.5-8 3.9-7.8 4.2-7.7 5.5-9.4 6-9.3 6.3-9.4 6.8-9.4 7.3-9.6 7.9-9.8 7-8.1 11.5-12.2 6.4-6.1 6.9-6 7.4-5.9 5.1-3.7 11.1-6.9 5.8-3.1 6.1-2.8 6.2-2.4 6.4-2.1 6.6-1.6 6.6-1.2 10-0.7 10 0.6 6.5 1.1 6.4 1.6 6.3 2.2 6.1 2.6 5.9 3 5.8 3.3 5.4 3.8 5.3 4 5 4.3 4.7 4.6 4.4 4.8 4.2 5.1 3.9 5.2 3.6 5.4 3.3 5.5 4.6 8.4 6.5 14.1 3.4 8.5 2.9 8.5 2.6 8.4 2.3 8.4 3.6 16.6 2.6 16.4 1.7 18.9 0.6 18.8 0 12-281 0z" fill="#ebb261"/>
<path d="M1600 504.1l0.3-6.6 0.7-6.5 1.3-6.5 1.6-6.3 2-6.3 3.1-8.1 3.6-7.8 3.8-7.7 4.2-7.5 5.6-9.2 5.9-9.1 6.3-9.1 6.8-9.1 7.2-9.3 13-15.2 11.1-11.6 6.2-5.9 6.5-5.7 7-5.6 5-3.6 10.5-6.8 5.6-3 5.7-2.8 6-2.5 6.1-2.2 6.3-1.8 6.3-1.3 6.5-0.9 6.5-0.4 9.6 0.5 6.4 1.1 6.3 1.5 6.1 2 5.9 2.4 5.8 2.8 5.6 3.2 5.4 3.5 5.2 3.9 4.9 4.1 4.6 4.4 4.4 4.6 4.1 4.8 3.9 5.1 3.6 5.1 3.3 5.4 4.5 8.1 6.6 13.7 3.3 8.2 3 8.3 2.6 8.2 2.3 8.2 3.7 16.2 2.5 16.1 1.7 18.6 0.6 18.4 0 12-276.6 0z" fill="#ecb464"/>
<path d="M1601.6 504.1l0.3-6.5 0.8-6.5 1.2-6.3 1.7-6.3 2-6.1 3.2-8 2.6-5.8 3.8-7.6 4.1-7.3 5.5-9.1 10.8-15.9 6.5-8.8 7-8.8 7.6-9 6.5-7.4 10.7-11 5.9-5.6 6.3-5.5 11.4-8.8 7.4-5 5.2-3.1 5.4-2.9 5.6-2.6 5.8-2.4 5.9-2.1 6.1-1.7 6.1-1.3 6.3-0.9 6.3-0.3 9.3 0.4 6.2 0.9 6.1 1.4 6 1.9 5.8 2.2 5.6 2.7 5.5 3 5.3 3.3 5 3.6 4.9 3.9 4.6 4.2 4.3 4.4 4.1 4.7 3.8 4.8 5.2 7.5 3.2 5.2 4.4 7.9 6.3 13.3 5.2 13.3 2.6 8.1 2.3 8 3.7 15.9 2.5 15.7 0.9 7.8 0.9 10.4 0.5 18.1 0 12-272.2 0z" fill="#edb667"/>
<path d="M1603.2 504.1l0.3-6.4 0.8-6.4 1.3-6.3 1.7-6.1 2-6.1 3.2-7.8 2.6-5.7 3.8-7.4 4.1-7.2 5.5-8.8 10.8-15.5 6.6-8.5 6.9-8.5 7.5-8.7 6.4-7 12.5-12.3 5.9-5.2 6.2-5.1 11.4-8.3 7.3-4.5 5.2-2.9 10.8-5 5.7-2.1 5.7-1.8 5.9-1.5 6-1 6.1-0.6 6.1-0.2 9 0.7 6 1.1 5.8 1.5 5.8 1.9 5.6 2.2 5.4 2.7 5.3 3 5.1 3.2 4.8 3.6 4.7 3.8 4.4 4.1 4.1 4.4 3.9 4.5 7.1 9.6 3.2 4.9 4.3 7.6 6.3 12.9 5.2 13 2.7 7.8 2.3 7.8 3.7 15.6 2.6 15.4 0.9 7.7 0.8 10.2 0.6 17.7 0 12-267.9 0z" fill="#edb969"/>
<path d="M1604.9 504.1l0.2-6.3 0.8-6.3 1.3-6.2 1.7-6.1 2.1-5.9 3.2-7.7 2.6-5.6 3.9-7.3 4.1-7 5.5-8.6 10.8-15 12-14.8 7.3-8.3 6.2-6.6 12-11.7 11.7-9.8 10.8-7.8 7-4.4 4.9-2.8 7.7-3.8 5.3-2.2 5.5-2 5.5-1.7 5.7-1.4 5.8-1.1 5.9-0.6 5.9-0.1 8.7 0.5 5.8 1 5.7 1.3 5.6 1.8 5.4 2.1 5.4 2.4 5.1 2.8 5 3.1 4.8 3.4 4.5 3.6 4.4 3.9 4.1 4.1 3.9 4.3 3.6 4.5 5 7.1 3 4.8 4.2 7.4 6.1 12.5 5 12.6 2.6 7.6 2.2 7.6 3.5 15.2 2.4 15.1 1.4 15 0.6 17.4 0 12-263.4 0z" fill="#eebb6c"/>
<path d="M1606.5 504.1l0.1-4.2 0.6-6.2 1.2-6.1 1.6-6 2-5.9 3.1-7.6 2.6-5.6 3.7-7.2 4.1-6.9 4.3-6.8 4.5-6.6 6-8 11.7-14.3 13-14.2 11.5-11.1 7.2-6.2 5.7-4.7 6.1-4.5 6.5-4.3 11.5-6.7 7.4-3.5 5.1-2.2 10.6-3.5 5.5-1.3 5.6-1 5.7-0.6 5.6-0.2 5.7 0.2 5.6 0.6 5.6 1.1 5.5 1.4 5.4 1.7 5.2 2.1 5.1 2.5 5 2.7 4.8 3 4.6 3.3 4.4 3.6 4.1 3.8 4 4 3.7 4.2 6.7 8.9 3.1 4.6 4.2 7.2 6 12 5.1 12.3 2.5 7.4 2.3 7.4 3.5 14.9 2.5 14.7 1.4 14.7 0.5 17.1 0 12-259 0z" fill="#efbe6f"/>
<path d="M1608.1 504.1l0.1-4.1 0.7-6.1 1.1-6.1 1.7-5.9 2-5.8 3.1-7.5 2.6-5.4 3.8-7.1 4-6.8 4.4-6.5 9.3-12.7 11.4-13.8 12.8-13.6 11.1-10.5 6.9-5.9 5.6-4.3 11.9-8.3 11-6.4 7-3.4 4.9-2.1 7.6-2.8 5.2-1.5 5.2-1.3 5.4-0.9 5.5-0.6 5.4-0.3 5.5 0.2 5.4 0.5 5.4 0.9 5.3 1.3 5.3 1.6 5.1 1.9 5 2.2 4.9 2.6 4.7 2.8 4.5 3.1 4.3 3.3 4.1 3.6 7.6 7.8 6.7 8.6 3 4.4 4.2 6.8 6.1 11.7 5 11.9 2.6 7.2 2.3 7.3 3.5 14.4 2.5 14.5 1.4 14.4 0.6 16.7 0 12-254.7 0z" fill="#efc073"/>
<path d="M1609.7 504.1l0.1-4.1 0.7-6 1.2-6 1.6-5.8 2-5.7 3.2-7.3 2.6-5.4 3.8-6.8 4.1-6.7 4.3-6.4 9.3-12.3 11.4-13.3 12.7-12.9 10.9-9.9 12.3-9.6 11.6-7.7 6.3-3.6 6.6-3.4 6.9-3.1 4.7-1.8 7.4-2.5 5-1.3 5.1-1 5.2-0.8 5.3-0.5 5.2-0.1 5.3 0.3 5.2 0.6 5.2 1 5.2 1.2 5 1.6 5 1.9 4.8 2.2 4.7 2.5 4.5 2.7 4.3 3.1 4.2 3.2 4 3.5 7.2 7.7 6.5 8.2 2.9 4.3 4.1 6.6 5.8 11.4 4.9 11.6 2.5 7 2.1 7 3.4 14.1 2.3 14.2 1.3 14.1 0.4 14 0 12-250.3 0z" fill="#f0c376"/>
<path d="M1611.3 504.1l0.1-4 0.7-6 1.2-5.8 1.7-5.8 2-5.6 2.3-5.4 2.6-5.3 3.8-6.8 7.2-11.3 9.1-12.1 11.1-12.8 12.3-12.5 12.1-10.6 11.8-9 11.1-7.2 12.3-6.6 11-4.7 7-2.4 4.8-1.4 7.3-1.6 5-0.7 5-0.5 5.1-0.2 5.1 0.2 5.1 0.5 5 0.8 5 1.1 4.9 1.5 4.8 1.7 4.7 2 4.6 2.3 4.4 2.5 4.3 2.8 4.1 3.1 3.9 3.3 7.2 7.2 3.3 3.9 4.6 6 6.8 10.6 5.6 11 4.8 11.3 3.7 11.4 3.5 13.8 2.3 13.8 1.2 13.7 0.4 13.8 0 12-245.9 0z" fill="#f1c578"/>
<path d="M1613.4 504.1l0.2-3.9 0.7-5.9 1.2-5.7 1.6-5.7 2-5.4 2.3-5.4 2.6-5.1 3.7-6.7 3.9-6.4 4.2-6.1 9.1-11.8 11.1-12.4 10.8-10.7 11.8-10.4 11.6-8.6 10.9-6.9 11.9-6.3 10.8-4.5 6.7-2.3 4.7-1.2 7.1-1.5 4.9-0.7 9.8-0.6 4.9 0.2 4.9 0.5 9.7 1.9 9.5 3 9 4.1 8.5 5.2 7.8 6.2 7 6.9 3.2 3.7 4.5 5.9 6.7 10.2 5.6 10.7 4.6 10.9 2.3 6.6 2.1 6.7 2.7 11.2 2.3 13.5 1.2 13.4 0.4 13.4 0 12-240.5 0z" fill="#f1c67b"/>
<path d="M1615.6 504.1l0.1-3.9 0.7-5.7 1.2-5.6 1.6-5.6 2-5.3 2.3-5.2 2.5-5.1 3.7-6.5 3.9-6.2 4.1-6.1 9-11.4 10.9-12.1 10.5-10.4 10.2-8.8 11.1-8.3 6.9-4.5 5.5-3.3 11.6-6 10.4-4.2 11.1-3.4 6.9-1.4 4.7-0.7 9.5-0.4 9.6 0.6 9.4 1.9 9.1 2.9 8.8 4 8.2 5 7.6 5.9 6.9 6.7 3.2 3.6 4.4 5.7 6.5 9.9 5.5 10.3 4.5 10.6 2.3 6.4 2 6.5 2.7 10.9 2.3 13.1 1.2 13 0.4 13.1 0 12-235 0z" fill="#f2c87d"/>
<path d="M1617.7 504.1l0.2-3.8 0.6-5.6 0.8-3.7 1.5-5.5 1.8-5.3 2.2-5.1 2.4-5 3.5-6.4 3.8-6.2 4.1-5.9 8.7-11.3 10.6-11.8 10.3-10.1 9.8-8.6 10.7-8 11.9-7.6 11.2-5.8 5.9-2.6 6.2-2.3 10.8-3.1 6.7-1.4 4.5-0.6 9.2-0.4 9.2 0.7 9.1 1.8 8.9 2.9 8.5 3.8 8 4.8 7.4 5.7 6.7 6.5 3.1 3.4 4.3 5.5 6.4 9.5 5.4 10 4.5 10.2 4.2 12.6 2.7 10.5 2.2 12.8 1.3 12.7 0.3 12.7 0 12-229.6 0z" fill="#f2ca7f"/>
<path d="M1619.9 504.1l0.1-3.7 0.7-5.5 0.7-3.6 1.5-5.4 1.8-5.2 2.2-5 2.3-4.9 3.5-6.3 6.8-10.4 8.4-11 9.2-10.4 11.2-11.1 9.5-8.2 10.4-7.9 11.4-7.2 10.7-5.6 5.7-2.6 5.9-2.3 10.4-3.1 6.4-1.4 4.4-0.6 8.8-0.6 9 0.4 8.8 1.5 8.7 2.5 6.2 2.5 4.1 2 7.8 4.6 7.1 5.5 6.6 6.2 3 3.3 4.2 5.2 6.2 9.2 5.4 9.7 4.4 9.9 4.2 12.1 2.6 10.3 2.2 12.4 1.3 12.3 0.3 12.4 0 12-224.1 0z" fill="#f3cc82"/>
<path d="M1622 504.1l0.1-3.6 0.7-5.4 0.7-3.6 1.5-5.2 1.8-5.1 2.1-4.9 2.4-4.8 3.4-6.1 6.7-10.1 8.3-10.8 9-10.1 11-10.7 9.3-8 10.2-7.5 11.2-6.9 10.4-5.3 11.3-4.6 10-2.9 6.2-1.3 4.2-0.6 8.6-0.5 8.6 0.5 8.5 1.4 8.4 2.5 6.1 2.4 3.9 1.9 7.5 4.4 7 5.3 6.3 5.9 7.1 8.2 6.1 8.9 5.3 9.2 4.3 9.6 4.2 11.8 2.6 9.9 2.1 12.1 1.3 12 0.3 12 0 12-218.7 0z" fill="#f3ce85"/>
<path d="M1624.2 504.1l0.1-3.6 0.6-5.2 2.2-8.6 1.8-5 2.1-4.8 2.3-4.7 3.5-6 6.5-9.8 8.2-10.5 10-11 9.6-9.2 9.1-7.6 10-7.2 10.9-6.6 10.2-5 10.9-4.3 9.7-2.7 10.1-1.7 8.2-0.4 8.3 0.4 8.3 1.5 4 1 6 2 7.7 3.5 7.3 4.2 3.4 2.4 4.9 4 6.1 5.8 6.7 8.1 5.8 8.6 5 9 4.1 9.3 3.3 9.5 2.6 9.6 2.1 11.7 1.3 11.6 0.3 11.7 0 12-213.2 0z" fill="#f4d087"/>
<path d="M1626.3 504.1l0.1-3.5 0.7-5.2 2.1-8.4 1.8-4.8 2.1-4.7 4.8-9 6.4-9.7 8-10.3 8.6-9.5 10.4-10.2 8.9-7.4 9.6-6.9 10.5-6.3 9.7-4.9 10.5-4.1 9.3-2.6 9.6-1.8 6-0.5 4-0.1 8 0.5 7.9 1.4 3.9 1 5.8 2 7.4 3.2 7 4.1 3.4 2.3 4.8 3.8 5.8 5.6 6.6 7.7 5.7 8.2 4.9 8.7 4 9 3.3 9.1 2.5 9.4 2.2 11.2 1.2 11.4 0.3 11.3 0 12-207.8 0z" fill="#f4d28a"/>
<path d="M1628.5 504.1l0.1-3.4 0.6-5.1 2.1-8.2 1.8-4.7 2.1-4.6 4.7-8.8 6.3-9.4 7.9-10 8.4-9.3 9.1-8.7 8.6-7.2 9.3-6.7 10.1-6.1 9.3-4.6 10.1-3.9 8.8-2.7 9.2-1.7 9.6-0.8 7.7 0.4 3.8 0.4 5.7 1.2 3.8 0.9 5.5 1.9 7.2 3.1 6.8 3.9 3.2 2.2 4.7 3.6 5.7 5.4 6.4 7.3 5.6 7.9 4.8 8.3 3.9 8.6 3.3 8.9 2.5 9 2.1 10.9 1.2 11 0.3 11 0 12-202.3 0z" fill="#f5d48d"/>
<path d="M1630.6 504.1l0.1-3.3 0.7-5 2.1-8 1.7-4.7 2-4.5 4.7-8.5 6.3-9.2 7.7-9.6 8.3-9 8.9-8.5 8.4-6.8 9.1-6.4 9.8-5.7 9.1-4.4 9.7-3.6 8.5-2.4 8.9-1.6 9.2-0.6 7.4 0.3 9.2 1.6 8.9 2.7 6.9 3 6.6 3.7 7.6 5.5 5.5 5.1 6.3 7 5.4 7.5 4.7 8 4 8.3 3.1 8.6 2.5 8.7 2.1 10.5 1.2 10.7 0.3 10.6 0 12-196.9 0z" fill="#f5d68f"/>
<path d="M1632.7 504.1l0.2-3.3 0.6-4.8 2.1-7.8 3-7.5 4.5-8.4 6.1-9 7.5-9.5 9.1-9.9 8.7-8.1 8.3-6.6 7.5-5.2 9.5-5.5 8.8-4.1 9.2-3.5 9.9-2.7 8.5-1.4 8.8-0.5 7.1 0.4 8.8 1.5 8.6 2.6 6.6 2.9 7.9 4.5 5.8 4.3 5.4 4.8 6.1 6.6 5.3 7.2 4.6 7.7 3.9 7.9 3.1 8.3 2.5 8.3 2 10.2 1.2 10.3 0.3 10.3 0 12-191.5 0z" fill="#f6d892"/>
<path d="M1634.9 504.1l0.1-3.2 0.6-4.7 2.1-7.7 3-7.3 4.5-8.1 5.9-8.8 7.4-9.2 8-8.5 8.4-7.9 8-6.4 7.3-5 9.1-5.3 8.4-3.9 8.9-3.3 9.4-2.5 8.2-1.4 8.3-0.6 6.8 0.3 8.5 1.3 8.2 2.3 8 3.3 7.6 4.2 5.6 4.1 5.2 4.5 6 6.3 5.2 6.9 4.5 7.3 3.8 7.6 3.1 7.9 2.4 8.1 2 9.8 1.2 10 0.3 9.9 0 12-186 0z" fill="#f6da95"/>
<path d="M1637 504.1l0.5-6.2 1.8-7.5 2.8-7.2 4.3-8.1 5.8-8.6 7.2-9 7.7-8.3 8.2-7.7 7.7-6.1 7.1-4.9 8.8-5 8.1-3.7 8.5-3.1 9-2.4 9.3-1.5 8-0.5 6.5 0.4 8.1 1.2 7.9 2.2 7.6 3.2 7.3 4 5.4 3.8 6.3 5.4 5.6 6.1 5 6.6 4.3 7 3.6 7.4 2.9 7.6 2.2 7.8 1.9 9.5 0.9 8 0.3 9.6 0 12-180.6 0z" fill="#f7dc98"/>
<path d="M1639.2 504.1l0.4-6 1.8-7.4 2.8-7 4.3-7.8 5.7-8.4 7.1-8.7 7.5-8 8.1-7.4 7.5-5.9 6.9-4.5 7.3-4.1 7.8-3.5 8.1-2.9 8.6-2.3 8.9-1.4 7.6-0.5 7.7 0.4 7.7 1.3 7.5 2.1 7.3 3 7 3.7 5.2 3.6 6.1 5.1 5.5 5.7 4.9 6.3 4.2 6.7 3.5 7 2.9 7.3 2.2 7.5 1.8 9.2 0.9 7.7 0.3 9.2 0 12-175.1 0z" fill="#f8de9b"/>
<path d="M1641.3 504.1l0.5-5.9 1.8-7.2 2.7-6.8 4.2-7.6 5.6-8.1 6.1-7.4 7.4-7.8 7.8-7.2 7.3-5.6 6.6-4.4 8.3-4.5 7.5-3.2 7.9-2.6 8.2-2 8.5-1.2 7.2-0.3 7.4 0.5 7.3 1.2 7.1 2.1 7 2.7 6.7 3.6 5 3.3 5.9 4.8 5.4 5.4 4.7 5.9 4.1 6.3 3.5 6.8 2.8 7 2.2 7.1 1.8 8.8 0.9 7.4 0.3 8.9 0 12-169.7 0z" fill="#f8e19e"/>
<path d="M1643.5 504.1l0.4-5.7 1.8-7 2.7-6.6 4.2-7.4 5.5-7.9 6-7.2 7.2-7.5 7.6-6.8 7.1-5.4 6.6-4.1 6.8-3.6 7.2-3 7.6-2.5 7.8-1.8 8.1-1 6.8-0.3 8.4 0.6 6.9 1.2 6.8 1.9 6.6 2.6 6.4 3.3 6 4 5.6 4.6 5.1 5.1 4.5 5.7 4 6 3.2 6.5 2.7 6.7 2 6.9 1.4 7 0.9 7.1 0.3 8.6 0 12-164.2 0z" fill="#f9e3a1"/>
<path d="M1645.6 504.1l0.5-5.6 1.7-6.8 2.7-6.4 3.4-6 4.6-6.7 5.7-7.1 7-7.4 7.3-6.7 5.9-4.6 6.2-4.1 6.5-3.6 6.8-3 7.1-2.4 7.4-1.8 7.6-1.2 7.8-0.5 7.8 0.4 6.6 1 7.7 2 6.4 2.3 6.1 2.9 5.8 3.5 5.5 4.2 5.1 4.7 4.5 5.2 4 5.7 3.3 6 2.8 6.4 2.1 6.5 1.7 8.1 0.9 6.8 0.3 8.2 0 12-158.8 0z" fill="#f9e5a4"/>
<path d="M1647.7 504.1l0.5-5.4 1.7-6.6 2.7-6.3 3.3-5.8 4.5-6.5 5.7-6.8 6.9-7.1 7.1-6.4 5.7-4.4 6.1-3.8 6.3-3.3 6.6-2.8 6.9-2.1 7.1-1.5 7.2-0.9 6.1-0.3 7.4 0.4 7.4 1.1 7.4 1.9 5.9 2.2 7 3.3 5.5 3.4 5.3 3.9 4.8 4.4 4.3 5 3.8 5.4 3.1 5.8 2.6 6.1 2 6.3 1.4 6.4 0.8 6.5 0.3 7.9 0 12-153.4 0z" fill="#fae7a7"/>
<path d="M1654.3 504.1l0.4-5 1.6-6 2.4-5.8 3.1-5.3 4.1-5.9 5.2-6.3 6.3-6.5 6.6-5.9 5.2-4 5.5-3.5 5.8-3 6.1-2.5 6.3-2 6.5-1.4 6.6-0.8 5.6-0.2 6.8 0.3 6.8 1 6.7 1.8 5.5 2 6.4 3 5 3.1 4.8 3.6 4.4 4.1 4 4.5 3.5 5 2.9 5.3 2.3 5.6 1.8 5.7 1.3 5.9 0.8 6 0.3 7.2 0 12-140.6 0z" fill="#fae8a9"/>
<path d="M1660.8 504.1l0.4-4.5 1.4-5.5 2.2-5.3 2.8-4.8 3.8-5.4 4.7-5.7 5.7-5.9 6-5.4 4.7-3.6 5-3.2 5.3-2.7 5.6-2.3 5.7-1.8 5.9-1.3 6-0.7 5.1-0.2 6.2 0.3 6.1 1 6.1 1.5 5 1.8 5.8 2.8 4.6 2.8 4.4 3.3 4 3.7 3.6 4.1 3.2 4.5 2.6 4.9 2.1 5 1.7 5.3 1.1 5.3 0.7 5.4 0.3 6.6 0 12-127.8 0z" fill="#fbeaac"/>
<path d="M1667.3 504.1l0.4-4.1 1.2-4.9 2-4.7 2.5-4.4 3.4-4.8 4.3-5.2 5.1-5.3 5.4-4.8 4.3-3.3 4.5-2.9 4.7-2.4 5-2.1 5.2-1.6 5.3-1.1 5.4-0.7 4.6-0.2 5.5 0.3 5.6 0.9 5.5 1.4 4.5 1.6 5.2 2.5 4.2 2.5 3.9 2.9 3.6 3.4 3.2 3.7 2.9 4.1 2.3 4.3 1.9 4.6 1.5 4.7 1.1 4.8 0.6 4.9 0.2 5.9 0 12-115 0z" fill="#fbebae"/>
<path d="M1673.8 504.1l0.3-3.6 1.2-4.4 1.8-4.2 2.2-3.9 3-4.3 3.8-4.5 4.5-4.8 4.8-4.3 3.8-2.9 4-2.5 4.3-2.2 4.4-1.8 4.6-1.5 4.7-1 4.8-0.6 4.1-0.1 4.9 0.2 5 0.8 4.8 1.2 4 1.5 4.7 2.2 3.7 2.2 3.4 2.6 3.2 3 2.9 3.3 2.5 3.6 2.2 3.9 1.7 4 1.3 4.2 0.9 4.3 0.6 4.4 0.2 5.2 0 12-102.3 0z" fill="#fcedb1"/>
<path d="M1680.4 504.1l0.2-3.2 1-3.8 1.6-3.7 1.9-3.4 2.7-3.7 3.3-4 4-4.2 4.1-3.7 3.4-2.5 3.5-2.3 3.7-1.9 3.8-1.6 4.1-1.3 4.1-0.9 4.2-0.5 3.6-0.1 4.3 0.2 4.3 0.7 4.3 1.1 3.5 1.2 4 2 3.3 1.9 3 2.3 2.8 2.6 2.5 2.9 2.2 3.2 1.9 3.3 1.5 3.6 1.1 3.7 0.8 3.7 0.5 3.8 0.2 4.6 0 12-89.4 0z" fill="#fcefb4"/>
<path d="M1686.9 504.1l0.2-2.7 0.9-3.3 1.3-3.2 1.7-2.9 2.2-3.2 2.9-3.4 3.4-3.6 3.6-3.2 5.8-4.1 3.2-1.6 3.3-1.4 3.4-1.1 3.6-0.7 6.7-0.6 3.7 0.2 3.7 0.6 3.6 0.9 3 1.1 3.5 1.7 2.8 1.6 2.6 2 2.4 2.2 2.2 2.5 1.8 2.7 1.6 2.9 1.3 3.1 1.7 6.3 0.4 3.3 0.2 3.9 0 12-76.7 0z" fill="#fdf0b7"/>
<path d="M1693.4 504.1l0.2-2.3 0.7-2.7 1.1-2.6 1.4-2.5 4.3-5.5 2.8-2.9 3-2.7 4.9-3.4 5.4-2.6 5.8-1.5 5.6-0.4 3 0.1 3.1 0.5 5.6 1.7 5.2 2.8 4.2 3.4 1.8 2.1 1.5 2.3 2.4 4.9 1.4 5.3 0.5 6 0 12-63.9 0z" fill="#fdf2ba"/>
<path d="M1699.9 504.1l0.2-1.8 0.5-2.2 2-4 3.4-4.5 4.7-4.5 3.9-2.7 4.3-2 4.7-1.2 4.4-0.4 5 0.5 4.4 1.3 4.2 2.3 3.3 2.7 2.7 3.5 1.9 4 1.2 4.2 0.3 4.8 0 12-51.1 0z" fill="#fef3bc"/>
<path d="M1706.4 504.1l0.6-3 1.5-3 2.5-3.4 3.5-3.3 3-2.1 3.2-1.5 3.5-0.9 3.3-0.3 3.7 0.4 3.4 1 3.1 1.7 2.5 2.1 2 2.6 1.4 2.9 0.9 3.2 0.3 3.6 0 12-38.4 0z" fill="#fef5bf"/>
<path d="M1713 504.1l0.3-2 1-2 1.7-2.2 2.4-2.3 1.9-1.4 2.2-1 2.3-0.6 2.2-0.2 2.5 0.3 2.2 0.7 2.1 1.1 1.7 1.4 1.3 1.7 1 2 0.5 2.1 0.2 2.4 0 12-25.5 0z" fill="#fef7c2"/>
<path d="M1719.5 504.1l0.2-1 0.5-1 2-2.2 2-1.2 2.3-0.4 2.4 0.4 1.8 1.3 1.2 1.8 0.4 2.3 0 12-12.8 0z" fill="#fff8c5"/>
</g>
<path d="M1567.8 504.1l0.17-13.83 0.61-13.93 1.03-14.15 1.45-14.49 1.88-14.97 2.35-15.64 2.86-16.52 3.42-17.66 2.37-11.28 2.62-11.92 5.03-21.59 4.7-19.27 5.41-21.62 6.38-24.56 3.75-13.41 4.26-14.09 2.36-7.27 2.53-7.4 2.71-7.49 2.92-7.57 3.14-7.55 3.41-7.46 3.68-7.27 3.97-7 4.26-6.67 4.54-6.29 4.81-5.87 5.06-5.44 5.29-5.04 5.5-4.62 5.69-4.21 5.86-3.78 6.01-3.32 6.15-2.84 6.26-2.32 6.36-1.78 6.43-1.18 6.48-0.56 6.49 0.07 6.48 0.68 6.44 1.22 6.37 1.73 6.3 2.18 6.2 2.59 6.09 2.96 5.97 3.27 5.85 3.56 5.7 3.8 5.57 4.02 5.43 4.2 5.28 4.36 5.13 4.5 4.99 4.63 4.84 4.73 4.69 4.85 4.54 4.93 4.39 5.02 4.24 5.08 4.09 5.14 3.95 5.17 3.81 5.2 3.67 5.21 6.98 10.41 6.48 10.37 3.06 5.18 5.77 10.31 5.3 10.26 2.48 5.11 4.64 10.15 4.23 10.02 1.98 4.96 3.68 9.8 4.93 14.37 2.93 9.34 2.67 9.15 3.57 13.37 2.12 8.68 1.93 8.49 1.75 8.33 1.59 8.16 2.74 15.88 2.23 15.35 0.94 7.49 1.21 11.05 1.29 14.41 1.13 17.62 0.65 17.33 0.23 17.17M1578.66 504.1l0.08-5.14 0.23-5.14 0.39-5.13 0.52-5.13 0.65-5.11 0.78-5.11 1.9-10.18 2.34-10.18 1.31-5.1 2.14-7.66 4-12.9 4.52-13.18 2.96-8.11 3.17-8.29 5.79-14.34 7.92-18.35 7.56-16.6 8.65-18.19 5.9-11.72 6.62-12.23 4.89-8.33 2.6-4.2 5.55-8.4 6.03-8.33 3.2-4.11 3.34-4.06 3.46-3.98 3.58-3.92 3.72-3.82 3.84-3.73 3.96-3.62 4.09-3.51 4.2-3.37 4.32-3.22 4.43-3.05 4.53-2.87 4.64-2.66 4.72-2.43 4.81-2.19 4.88-1.92 4.94-1.63 4.98-1.32 5.02-0.98 5.03-0.63 5.03-0.26 5.02 0.11 4.98 0.47 4.93 0.8 4.88 1.12 4.82 1.4 4.74 1.67 4.67 1.91 4.57 2.14 4.49 2.34 4.39 2.53 4.3 2.71 4.2 2.86 4.09 3 3.99 3.14 3.89 3.26 3.78 3.36 3.66 3.47 3.56 3.57 3.45 3.66 3.34 3.74 3.22 3.81 3.11 3.89 2.99 3.95 2.88 4.02 2.76 4.06 5.2 8.24 4.77 8.36 4.36 8.42 2.04 4.22 3.82 8.41 3.49 8.35 4.71 12.36 4.16 12.08 3.68 11.81 3.23 11.54 1.93 7.55 1.76 7.43 2.36 10.96 2.65 14.26 2.15 13.91 1.7 13.61 1.29 13.37 0.93 13.19 0.57 13.05 0.17 6.5 0.09 9.72M1591.98 504.1l0.2-7.01 0.7-6.98 1.14-6.91 0.99-4.56 1.16-4.51 1.3-4.47 1.44-4.42 1.56-4.36 1.67-4.33 3.64-8.51 3.99-8.37 5.4-10.33 5.8-10.29 7.5-12.48 6.8-10.6 7.39-10.89 8.1-11.29 7.12-9.35 7.82-9.58 6.4-7.29 6.92-7.31 7.49-7.23 5.32-4.72 5.6-4.59 5.88-4.4 6.16-4.17 6.42-3.88 6.68-3.52 3.43-1.61 3.48-1.51 3.53-1.39 3.58-1.27 3.62-1.14 3.66-1.02 3.69-0.87 3.72-0.73 3.74-0.57 3.74-0.41 3.76-0.23 3.74-0.04 3.74 0.14 3.71 0.32 3.7 0.51 3.65 0.67 3.63 0.84 3.58 0.99 3.53 1.15 3.49 1.29 3.43 1.43 3.38 1.56 3.32 1.68 3.25 1.8 3.19 1.91 3.13 2.02 6.04 4.32 5.76 4.69 5.46 5 5.15 5.28 4.84 5.54 4.51 5.77 4.17 5.96 3.86 6.13 3.54 6.24 1.67 3.15 3.13 6.34 2.88 6.36 3.91 9.52 3.47 9.45 3.06 9.38 2.68 9.29 2.34 9.2 2.01 9.1 1.72 9 1.44 8.92 1.53 11.76 0.87 8.74 0.83 11.57 0.39 8.63 0.23 11.49M1611.3 504.1l0.13-4 0.17-2 0.53-3.96 1.21-5.87 1.66-5.75 2.02-5.59 2.33-5.44 2.57-5.27 3.73-6.8 2.99-4.93 4.21-6.36 4.45-6.14 4.65-5.95 4.85-5.8 6.33-7.07 6.65-6.95 5.6-5.47 5.88-5.4 6.22-5.3 6.59-5.17 5.21-3.78 5.46-3.67 5.71-3.54 5.98-3.38 6.24-3.19 6.53-2.95 4.5-1.8 6.98-2.39 4.78-1.36 4.88-1.13 2.47-0.48 4.99-0.75 5.04-0.47 5.08-0.15 5.08 0.18 5.06 0.49 5.03 0.82 4.98 1.12 4.91 1.42 4.81 1.71 4.71 2 4.59 2.28 4.44 2.54 4.28 2.81 4.09 3.06 3.91 3.3 3.7 3.52 3.51 3.7 3.31 3.87 4.6 6.04 2.83 4.17 3.91 6.42 2.39 4.36 3.29 6.65 2 4.47 2.7 6.78 1.63 4.55 2.16 6.86 1.85 6.89 1.57 6.9 1.28 6.91 1.01 6.9 0.77 6.9 0.52 6.89 0.29 6.88 0.08 6.87M1647.75 504.1l0.12-2.73 0.34-2.71 0.55-2.68 1.16-3.93 0.98-2.55 1.69-3.7 1.27-2.39 2.06-3.44 2.2-3.29 2.32-3.15 2.4-3.01 3.3-3.83 3.37-3.63 3.45-3.47 3.53-3.3 3.64-3.13 2.81-2.23 2.89-2.11 2.97-2 3.05-1.86 3.14-1.73 3.21-1.57 3.28-1.44 3.35-1.29 3.4-1.14 3.46-0.99 3.52-0.84 3.56-0.69 3.6-0.53 3.63-0.36 6.12-0.23 3.7 0.09 3.7 0.28 3.71 0.47 3.7 0.65 3.68 0.85 3.65 1.04 3.61 1.24 2.37 0.93 3.52 1.56 3.44 1.75 3.36 1.96 2.18 1.41 3.17 2.29 2.05 1.63 2.94 2.6 1.87 1.85 2.67 2.91 1.67 2.04 1.57 2.12 2.19 3.3 1.33 2.28 1.83 3.52 1.09 2.41 1.46 3.68 0.86 2.49 1.11 3.8 0.63 2.55 0.78 3.87 0.4 2.6 0.45 3.92 0.25 3.93 0.06 3.93" fill="none" stroke="#000" stroke-width="0.8" stroke-linejoin="round"/>
</g>
<rect x="1548.50" y="75.50" width="437.90" height="437.30" fill="none" stroke="#848484" stroke-width="1"/>
<path d="M1557.40 512.80v-4.2M1557.40 75.50v4.2M1548.50 504.10h4.2M1986.40 504.10h-4.2M1571.40 512.80v-2.5M1571.40 75.50v2.5M1548.50 490.10h2.5M1986.40 490.10h-2.5M1585.39 512.80v-2.5M1585.39 75.50v2.5M1548.50 476.09h2.5M1986.40 476.09h-2.5M1599.39 512.80v-2.5M1599.39 75.50v2.5M1548.50 462.09h2.5M1986.40 462.09h-2.5M1613.39 512.80v-4.2M1613.39 75.50v4.2M1548.50 448.09h4.2M1986.40 448.09h-4.2M1627.38 512.80v-2.5M1627.38 75.50v2.5M1548.50 434.08h2.5M1986.40 434.08h-2.5M1641.38 512.80v-2.5M1641.38 75.50v2.5M1548.50 420.08h2.5M1986.40 420.08h-2.5M1655.38 512.80v-2.5M1655.38 75.50v2.5M1548.50 406.08h2.5M1986.40 406.08h-2.5M1669.37 512.80v-4.2M1669.37 75.50v4.2M1548.50 392.07h4.2M1986.40 392.07h-4.2M1683.37 512.80v-2.5M1683.37 75.50v2.5M1548.50 378.07h2.5M1986.40 378.07h-2.5M1697.37 512.80v-2.5M1697.37 75.50v2.5M1548.50 364.07h2.5M1986.40 364.07h-2.5M1711.36 512.80v-2.5M1711.36 75.50v2.5M1548.50 350.06h2.5M1986.40 350.06h-2.5M1725.36 512.80v-4.2M1725.36 75.50v4.2M1548.50 336.06h4.2M1986.40 336.06h-4.2M1739.36 512.80v-2.5M1739.36 75.50v2.5M1548.50 322.06h2.5M1986.40 322.06h-2.5M1753.35 512.80v-2.5M1753.35 75.50v2.5M1548.50 308.05h2.5M1986.40 308.05h-2.5M1767.35 512.80v-2.5M1767.35 75.50v2.5M1548.50 294.05h2.5M1986.40 294.05h-2.5M1781.35 512.80v-4.2M1781.35 75.50v4.2M1548.50 280.05h4.2M1986.40 280.05h-4.2M1795.34 512.80v-2.5M1795.34 75.50v2.5M1548.50 266.04h2.5M1986.40 266.04h-2.5M1809.34 512.80v-2.5M1809.34 75.50v2.5M1548.50 252.04h2.5M1986.40 252.04h-2.5M1823.34 512.80v-2.5M1823.34 75.50v2.5M1548.50 238.04h2.5M1986.40 238.04h-2.5M1837.33 512.80v-4.2M1837.33 75.50v4.2M1548.50 224.03h4.2M1986.40 224.03h-4.2M1851.33 512.80v-2.5M1851.33 75.50v2.5M1548.50 210.03h2.5M1986.40 210.03h-2.5M1865.33 512.80v-2.5M1865.33 75.50v2.5M1548.50 196.03h2.5M1986.40 196.03h-2.5M1879.32 512.80v-2.5M1879.32 75.50v2.5M1548.50 182.02h2.5M1986.40 182.02h-2.5M1893.32 512.80v-4.2M1893.32 75.50v4.2M1548.50 168.02h4.2M1986.40 168.02h-4.2M1907.32 512.80v-2.5M1907.32 75.50v2.5M1548.50 154.02h2.5M1986.40 154.02h-2.5M1921.31 512.80v-2.5M1921.31 75.50v2.5M1548.50 140.01h2.5M1986.40 140.01h-2.5M1935.31 512.80v-2.5M1935.31 75.50v2.5M1548.50 126.01h2.5M1986.40 126.01h-2.5M1949.31 512.80v-4.2M1949.31 75.50v4.2M1548.50 112.01h4.2M1986.40 112.01h-4.2M1963.30 512.80v-2.5M1963.30 75.50v2.5M1548.50 98.00h2.5M1986.40 98.00h-2.5M1977.30 512.80v-2.5M1977.30 75.50v2.5M1548.50 84.00h2.5M1986.40 84.00h-2.5" fill="none" stroke="#848484" stroke-width="1"/>
<text x="1557.40" y="533.51" font-size="18.734" text-anchor="middle" fill="#000">0.0</text><text x="1545.94" y="509.92" font-size="18.734" text-anchor="end" fill="#000">0.0</text><text x="1613.39" y="533.51" font-size="18.734" text-anchor="middle" fill="#000">0.2</text><text x="1545.94" y="453.90" font-size="18.734" text-anchor="end" fill="#000">0.2</text><text x="1669.37" y="533.51" font-size="18.734" text-anchor="middle" fill="#000">0.4</text><text x="1545.94" y="397.89" font-size="18.734" text-anchor="end" fill="#000">0.4</text><text x="1725.36" y="533.51" font-size="18.734" text-anchor="middle" fill="#000">0.6</text><text x="1545.94" y="341.88" font-size="18.734" text-anchor="end" fill="#000">0.6</text><text x="1781.35" y="533.51" font-size="18.734" text-anchor="middle" fill="#000">0.8</text><text x="1545.94" y="285.86" font-size="18.734" text-anchor="end" fill="#000">0.8</text><text x="1837.33" y="533.51" font-size="18.734" text-anchor="middle" fill="#000">1.0</text><text x="1545.94" y="229.85" font-size="18.734" text-anchor="end" fill="#000">1.0</text><text x="1893.32" y="533.51" font-size="18.734" text-anchor="middle" fill="#000">1.2</text><text x="1545.94" y="173.84" font-size="18.734" text-anchor="end" fill="#000">1.2</text><text x="1949.31" y="533.51" font-size="18.734" text-anchor="middle" fill="#000">1.4</text><text x="1545.94" y="117.82" font-size="18.734" text-anchor="end" fill="#000">1.4</text>
<text x="1460.34" y="299.67" font-size="18.73" text-anchor="start">{<tspan font-style="italic">k</tspan><tspan font-size="13.11" dy="2.96" font-style="italic">y</tspan><tspan dy="-2.96" font-style="italic" dx="4.14">H</tspan><tspan font-size="13.11" dy="2.96">0</tspan><tspan dy="-2.96">}</tspan></text>
<text x="1740.43" y="560.62" font-size="18.73" text-anchor="start">{<tspan font-style="italic">k</tspan><tspan font-size="13.11" dy="2.96" font-style="italic">x</tspan><tspan dy="-2.96" font-style="italic" dx="4.14">H</tspan><tspan font-size="13.11" dy="2.96">0</tspan><tspan dy="-2.96">}</tspan></text>
<g font-size="12.80" transform="translate(1993.80 292.67) scale(0.9860)">
<text transform="translate(-0.8 8.4) scale(1.3 1.77)" font-size="19" x="0" y="0" stroke="#fff" stroke-width="0.3">{</text>
<text transform="translate(41.6 8.4) scale(1.3 1.77)" font-size="19" x="0" y="0" stroke="#fff" stroke-width="0.3">}</text>
<text x="11.2" y="-4.9" font-style="italic">ω<tspan dx="2.4">H</tspan><tspan font-size="9.5" dy="2.3" font-style="normal">0</tspan></text>
<rect x="10.1" y="-2.6" width="28.2" height="1.1" fill="#000"/>
<text x="18" y="14.1">a<tspan font-size="9.5" dy="1.6" dx="-0.4" font-style="italic">g</tspan></text>
</g>
<g transform="translate(1767.45 42.50) scale(0.9860)"><text x="0" y="0" font-size="22.4" text-anchor="middle">Modified Parker w/ Streaming, <tspan font-style="italic" dx="1.5">γ</tspan>c=4/3, m=1.5, c=1</text></g>
<rect x="2062.40" y="14.40" width="14.40" height="542.70" fill="url(#cmapg)" stroke="#000" stroke-opacity="0.12" stroke-width="0.8"/>
<text x="2083.60" y="564.01" font-size="18.734" text-anchor="start" fill="#595959">0</text><text x="2083.60" y="465.87" font-size="18.734" text-anchor="start" fill="#595959">0.05</text><text x="2083.60" y="367.73" font-size="18.734" text-anchor="start" fill="#595959">0.10</text><text x="2083.60" y="269.60" font-size="18.734" text-anchor="start" fill="#595959">0.15</text><text x="2083.60" y="171.46" font-size="18.734" text-anchor="start" fill="#595959">0.20</text><text x="2083.60" y="73.32" font-size="18.734" text-anchor="start" fill="#595959">0.25</text>
<path d="M2076.80 557.10h3.9M2076.80 537.47h2.6M2076.80 517.85h2.6M2076.80 498.22h2.6M2076.80 478.59h2.6M2076.80 458.96h3.9M2076.80 439.34h2.6M2076.80 419.71h2.6M2076.80 400.08h2.6M2076.80 380.45h2.6M2076.80 360.83h3.9M2076.80 341.20h2.6M2076.80 321.57h2.6M2076.80 301.94h2.6M2076.80 282.32h2.6M2076.80 262.69h3.9M2076.80 243.06h2.6M2076.80 223.43h2.6M2076.80 203.81h2.6M2076.80 184.18h2.6M2076.80 164.55h3.9M2076.80 144.92h2.6M2076.80 125.30h2.6M2076.80 105.67h2.6M2076.80 86.04h2.6M2076.80 66.41h3.9M2076.80 46.79h2.6M2076.80 27.16h2.6" fill="none" stroke="#000" stroke-opacity="0.11" stroke-width="0.9"/>
<text class="pl" x="2126.96" y="592.90" font-size="43.1">(</text>
<text class="pl" transform="translate(2140.24 592.60) scale(1.111 1)" font-size="37.92">c</text>
<text class="pl" x="2158.20" y="592.90" font-size="43.1">)</text>
</g>
<g id="panel-d">
<g clip-path="url(#cd)">
<g filter="url(#blur)">
<rect x="90.1" y="699.3" width="450.2" height="450.9" fill="#265891"/>
<path d="M101.6 1138.2l0-346.2 1.3-12.8 15.4 0.4 15.2 1 14.9 1.7 7.4 1 14.5 2.5 14.1 3 20.5 5.5 13.2 4.3 19.1 7.1 12.2 5.3 17.5 8.4 16.5 9.2 15.6 9.7 14.6 10.1 13.6 10.5 12.8 10.8 8 7.4 7.6 7.4 10.7 11.2 13 15 11.7 15.1 10.4 15 9.2 14.8 8.3 14.7 7.2 14.5 7.8 17.9 6.6 17.4 5.5 17.2 4.5 16.8 3.6 16.5 2.7 16.3 1.9 16.2 1.3 16 0.5 19.1 0 12-358.9 0z" fill="#275892"/>
<path d="M101.9 1138.2l0.3-137.3 1.1-205.6 1.3-12.5 15.1-0.2 14.8 0.5 14.7 1.1 14.4 1.9 7.1 1.1 14 2.8 13.7 3.3 19.8 6 12.8 4.6 18.4 7.6 11.8 5.5 16.8 8.8 15.9 9.5 14.9 9.9 14 10.4 13 10.7 12.1 10.9 11.3 11.1 10.4 11.2 12.7 15.1 8.6 11.3 10.4 14.9 9.3 14.9 8.2 14.7 7.2 14.5 7.9 17.8 6.6 17.5 5.4 17.1 4.5 16.8 3.6 16.5 2.7 16.4 2 16.1 1.2 16 0.5 19.1 0 12-358.5 0z" fill="#285993"/>
<path d="M102.3 1138.2l0.5-136.8 2.1-202.9 1.5-12.2 14.6-0.8 7.3-0.1 14.4 0.4 14.3 1.1 7.1 0.7 14 2.2 13.7 2.8 13.5 3.4 19.5 6.2 12.5 4.7 18.1 7.7 11.5 5.7 16.5 8.9 15.5 9.6 14.6 10.1 13.7 10.4 12.7 10.8 11.8 10.9 11 11.2 10.2 11.2 12.3 15 8.4 11.3 10.1 15 9 14.8 7.9 14.6 7.1 14.4 7.5 17.8 5.2 13.9 5.5 17.1 4.4 16.8 3.6 16.6 2.7 16.3 2 16.1 1.2 16 0.5 19.1 0 12-358 0z" fill="#2a5a95"/>
<path d="M102.6 1138.2l0.2-63.8 0.7-72.6 3.1-200 1.5-12 14.2-1.3 14.2-0.5 14.1 0.2 14 1 13.8 1.8 13.7 2.6 13.3 3.2 6.6 1.9 12.9 4.2 12.5 4.6 18 7.6 11.5 5.6 16.5 8.9 15.5 9.5 14.6 10 13.6 10.4 12.8 10.7 11.8 11 7.4 7.4 7 7.4 9.9 11.3 12 15 8.2 11.2 9.8 15 8.7 14.7 7.7 14.6 6.8 14.4 7.3 17.6 5 13.9 5.3 17.1 4.2 16.7 3.4 16.5 2.6 16.2 1.8 16.1 1 16 0.4 15.9 0 12-357.6 0z" fill="#2b5b96"/>
<path d="M103 1138.2l0.4-88.9 1.7-103.1 3.2-141.1 1.5-11.8 13.8-1.8 7-0.7 6.9-0.4 13.8-0.2 13.8 0.6 13.7 1.5 13.5 2.3 13.3 3.1 13 3.7 18.9 6.6 12 5 17.4 8.1 11.1 5.8 15.8 9.2 14.9 9.8 14 10.3 13 10.6 12.1 10.9 11.3 11 10.4 11.2 9.6 11.2 11.6 15.1 8 11.2 9.5 14.9 8.5 14.7 7.4 14.5 6.6 14.3 5.7 14.1 5 13.9 5.3 17 4.3 16.7 3.3 16.5 2.6 16.3 1.8 16 1 16 0.4 15.9 0 12-357.1 0z" fill="#2c5c98"/>
<path d="M103.3 1138.2l0.1-40.3 0.5-44.6 1.8-93.5 4.2-151.4 1.6-11.6 13.4-2.4 6.8-0.9 13.6-1.1 13.6-0.2 13.5 0.6 13.5 1.6 13.3 2.5 13.1 3.3 12.8 4 18.5 6.8 11.9 5.1 17 8.2 10.9 5.9 15.5 9.4 14.5 9.9 13.7 10.4 12.7 10.6 11.8 11 11 11.1 10.1 11.2 9.4 11.2 11.3 15 7.7 11.2 9.3 14.8 8.2 14.7 7.2 14.5 6.4 14.2 5.5 14 4.8 13.8 5 17 3.4 13.4 3.4 16.4 2.5 16.3 1.8 16.1 1 15.9 0.4 15.9 0 12-356.7 0z" fill="#2e5d9a"/>
<path d="M103.6 1138.2l0.1-37 0.5-40.4 2-88.5 2.1-67.7 2.8-80.3 0.5-12.6 1.6-11.4 13.1-2.9 6.5-1.2 13.3-1.6 13.4-0.7 13.3 0.3 13.4 1.3 13.2 2.4 13.1 3.1 12.7 3.9 18.5 6.6 11.8 5 17 8.2 10.9 5.9 15.5 9.3 14.5 9.9 13.6 10.3 12.8 10.6 11.8 10.9 10.9 11.1 10.2 11.2 9.3 11.2 11.4 15 7.6 11.2 9.3 14.8 8.2 14.7 7.2 14.4 6.4 14.3 5.5 14 4.8 13.8 5.1 17 3.3 13.3 3.4 16.5 2.5 16.2 1.8 16.1 1 15.9 0.4 15.9 0 12-356.3 0z" fill="#315e9d"/>
<path d="M104 1138.2l0.1-37 0.5-40.2 1-43.5 1.3-44.5 2.5-66.9 3.3-78.8 0.6-12.4 1.6-11 12.7-3.6 12.9-2.5 13-1.6 13.2-0.7 13.2 0.5 13.2 1.6 13.1 2.6 12.8 3.4 12.5 4 18.2 6.9 11.6 5.1 16.7 8.4 10.6 5.9 15.2 9.5 14.2 10 13.3 10.4 12.5 10.7 11.5 10.9 10.7 11.1 9.8 11.2 9.1 11.3 11 14.9 7.5 11.2 9 14.8 7.9 14.6 7 14.4 6.2 14.1 5.3 14 4.7 13.8 4.8 16.9 3.2 13.3 3.2 16.4 1.9 12.9 1.8 16.1 1 15.9 0.4 15.9 0 12-355.8 0z" fill="#335f9f"/>
<path d="M104.3 1138.2l0.2-36.9 0.6-40.1 0.9-39 1.5-43 2.6-63.8 3.5-73.7 1.4-23.5 1.6-10.8 12.3-4.1 6.2-1.7 12.7-2.5 12.9-1.6 13-0.5 6.5 0.3 6.6 0.5 13 1.9 13 2.9 12.6 3.6 12.3 4.2 17.9 7.1 11.4 5.2 16.4 8.5 10.4 6.1 14.8 9.6 9.4 6.7 13.3 10.3 12.4 10.7 11.5 11 10.7 11.1 9.9 11.1 9.1 11.3 11 14.9 7.4 11.2 9 14.7 8 14.6 7 14.4 6.1 14.2 5.4 14 4.6 13.7 4.8 16.9 3.2 13.3 3.2 16.4 1.9 13 1.8 16 1 15.9 0.4 15.9 0 12-355.4 0z" fill="#3561a1"/>
<path d="M104.6 1138.2l0.2-36.8 0.7-40 1.1-38.8 1.6-42.7 3-63.1 3.9-72.4 1.5-22.9 1.8-10.6 11.8-4.6 6.1-2 12.4-3 12.6-2 6.4-0.6 6.4-0.3 6.5 0.1 6.5 0.4 13 1.7 12.8 2.7 12.6 3.5 12.3 4.1 17.8 7 11.4 5.2 16.4 8.5 10.4 6 14.8 9.5 9.4 6.7 13.3 10.3 12.4 10.7 11.5 10.9 10.7 11.1 9.8 11.2 9.1 11.2 11 14.9 7.5 11.2 9 14.7 7.9 14.6 7 14.4 6.2 14.2 5.3 13.9 4.6 13.7 4.8 16.9 3.2 13.3 3.2 16.4 2 13 1.7 16 1 15.9 0.4 15.9 0 12-355 0z" fill="#3862a4"/>
<path d="M105 1138.2l0.2-36.7 0.6-36.4 1.2-38 1.7-41.3 3.1-60.3 4.9-78.4 1.6-22.3 1.8-10.4 11.4-5.2 5.9-2.2 12.1-3.5 12.4-2.5 6.3-0.7 6.4-0.5 6.4 0 6.4 0.2 6.4 0.6 12.9 2.1 12.7 3 12.4 3.8 12.1 4.2 17.5 7.2 11.2 5.3 16 8.6 10.2 6.2 14.5 9.7 9.2 6.7 13 10.4 12.1 10.7 11.2 11 10.4 11.1 9.6 11.2 8.8 11.2 10.7 14.9 7.3 11.2 8.7 14.7 5.9 10.9 7 14.3 6.1 14.2 5.3 14 4.6 13.7 4.9 16.9 3.1 13.3 3.2 16.4 2 12.9 1.7 16 1 16 0.4 15.8 0 12-354.5 0z" fill="#3a63a6"/>
<path d="M105.3 1138.2l0.2-36.7 0.8-36.2 1.2-37.8 1.9-41.1 3.5-59.6 4.5-66.8 2.6-32 1.8-10.1 11-5.7 5.8-2.5 5.8-2.1 6-1.9 6-1.6 6.1-1.3 6.2-0.9 6.3-0.7 6.3-0.2 6.4 0.1 6.4 0.5 12.8 1.9 12.6 2.9 12.4 3.7 12.1 4.2 17.4 7.1 11.2 5.2 16 8.6 10.2 6 14.5 9.7 9.1 6.7 13 10.4 12.1 10.7 11.3 10.9 10.4 11.1 9.6 11.2 8.8 11.2 10.7 14.9 7.2 11.1 8.7 14.7 5.9 10.9 7 14.4 6.1 14.2 5.4 13.9 4.6 13.7 4.8 16.9 3.2 13.3 3.1 16.4 2 12.9 1.7 16.1 1.1 15.9 0.3 15.8 0 12-354.1 0z" fill="#3c64a8"/>
<path d="M105.7 1138.2l0.2-36.6 0.8-36.1 1.4-37.7 2-40.8 3.8-58.9 4.9-65.6 2.8-31.2 1.9-9.9 5.3-3.3 5.4-3 5.5-2.7 5.7-2.4 5.8-2.1 5.9-1.8 6-1.5 6.1-1.2 6.2-0.8 6.3-0.3 6.3 0 6.3 0.3 6.4 0.7 6.3 1.1 12.6 2.7 12.4 3.6 12 4.1 17.4 7 11.2 5.2 16 8.5 10.1 6 14.6 9.6 9.1 6.7 13 10.4 12.1 10.6 11.2 11 10.4 11.1 9.6 11.1 8.8 11.2 10.7 14.9 7.3 11.1 8.7 14.7 5.8 10.9 7 14.4 6.2 14.1 5.3 14 4.6 13.7 4.8 16.8 3.2 13.3 3.2 16.4 1.9 13 1.7 16 1.1 15.9 0.3 15.8 0 12-353.6 0z" fill="#3d65a9"/>
<path d="M106 1138.2l0.2-36.5 0.9-36 1.5-37.5 2.2-40.5 4.1-58.2 5.4-64.5 3-30.4 1.9-9.6 5.1-3.6 5.2-3.3 5.4-3 5.5-2.7 5.7-2.3 5.7-2 5.9-1.7 6-1.4 6.1-0.9 6.2-0.6 6.3-0.1 6.3 0.2 6.3 0.7 12.6 2.1 12.4 3.1 12.2 3.8 11.8 4.2 17.2 7.3 10.9 5.3 15.7 8.6 10 6.2 14.2 9.7 8.9 6.8 12.7 10.4 11.8 10.8 10.9 11 10.1 11.1 9.4 11.2 8.6 11.1 10.4 14.9 7 11.1 8.4 14.6 5.7 10.9 6.8 14.3 5.9 14.1 5.2 13.9 4.4 13.6 3.8 13.5 3.1 13.3 3.2 16.3 1.9 13 1.7 16 1.1 15.9 0.3 15.8 0 12-353.2 0z" fill="#3e66ab"/>
<path d="M106.3 1138.2l0.3-36.4 0.9-36 1.6-37.3 2.4-40.2 4.4-57.5 5.8-63.3 3.3-29.6 1.9-9.4 4.9-3.9 5-3.6 5.2-3.2 5.4-2.9 5.5-2.6 5.7-2.2 5.8-2 5.9-1.5 6-1.1 6.1-0.7 6.2-0.3 6.2 0.1 6.3 0.6 12.6 2 12.3 3 12.2 3.7 11.8 4.1 17.1 7.2 10.9 5.2 15.7 8.6 9.9 6.2 14.2 9.6 9 6.8 12.7 10.4 11.7 10.8 11 10.9 10.1 11.1 9.3 11.2 8.6 11.1 10.4 14.9 7 11.1 8.5 14.6 5.6 10.9 6.8 14.2 5.9 14.1 5.2 13.9 4.4 13.7 3.8 13.4 3.1 13.3 3.2 16.4 1.9 12.9 1.7 16 1.1 15.9 0.3 15.8 0 12-352.8 0z" fill="#3f67ac"/>
<path d="M106.7 1138.2l0.3-36.4 0.9-35.8 1.8-37.1 2.5-40 4.2-50.3 5.8-59.7 2-18.2 2.4-19.5 2.1-9.2 4.6-4.2 4.8-3.8 5-3.5 5.3-3.2 5.4-2.8 5.5-2.5 5.7-2.1 5.8-1.7 5.9-1.3 6-0.9 6.2-0.4 6.2 0.1 6.2 0.4 6.3 0.8 6.2 1 12.4 2.9 12 3.6 11.8 4.1 17.1 7.1 10.9 5.2 15.7 8.5 9.9 6.1 14.2 9.7 8.9 6.7 12.7 10.4 11.8 10.7 10.9 10.9 10.2 11.1 9.3 11.2 8.6 11.1 10.3 14.9 7.1 11.1 8.4 14.6 5.7 10.8 6.8 14.3 5.9 14.1 5.1 13.8 4.4 13.7 3.8 13.5 3.2 13.2 3.1 16.4 1.9 12.9 1.8 16 1 15.9 0.3 15.8 0 12-352.3 0z" fill="#4167ae"/>
<path d="M107 1138.2l0.3-36.3 1.1-35.7 1.8-37 2.7-39.6 4.4-49.8 5.3-50.2 4.3-35.6 1.4-9.6 2.1-8.9 4.4-4.4 4.6-4.1 4.9-3.8 5.1-3.4 5.2-3.1 5.4-2.7 5.6-2.3 5.7-1.9 5.8-1.5 6-1 6.1-0.6 6.1 0 6.2 0.3 6.2 0.7 12.4 2.3 12.2 3.2 11.9 3.8 11.6 4.2 11.3 4.8 10.9 5.2 15.6 8.4 10 6.1 14.2 9.6 8.9 6.7 12.7 10.3 11.8 10.7 10.9 11 10.1 11 9.3 11.2 8.6 11.1 10.4 14.9 7 11 8.4 14.6 5.7 10.9 6.8 14.3 5.9 14 5.2 13.9 4.4 13.6 3.7 13.5 3.2 13.3 3.1 16.3 1.9 12.9 1.8 16 1 15.9 0.3 15.8 0 12-351.9 0z" fill="#4268af"/>
<path d="M107.3 1138.2l0.3-33.1 1-35.3 1.9-36.3 2.8-38.5 4.4-47.8 5.3-47.7 5.5-42.5 1.5-9.3 2.1-8.7 4.2-4.7 4.4-4.4 4.7-4 4.9-3.7 5.1-3.3 5.3-2.9 5.5-2.5 5.6-2.2 5.8-1.6 5.9-1.2 6-0.6 6.1-0.2 6.1 0.2 6.2 0.6 12.4 2.2 12.1 3.1 11.9 3.7 11.6 4.2 11.2 4.7 10.9 5.1 15.6 8.4 10 6 14.1 9.6 9 6.6 12.6 10.4 11.8 10.7 11 10.9 10.1 11.1 9.3 11.1 8.6 11.1 10.3 14.9 7.1 11 8.4 14.6 5.7 10.9 6.7 14.2 5.9 14.1 5.2 13.8 4.4 13.7 3.8 13.4 3.1 13.3 3.1 16.4 2 12.9 1.7 16 1 15.8 0.3 15.8 0 12-351.5 0z" fill="#4469af"/>
<path d="M107.7 1138.2l0.3-33.1 1.1-35.2 1.9-36 2.9-38.3 4.7-47.3 5.7-46.8 3.2-24 2.6-17.5 1.6-9 2.1-8.5 4-5 4.3-4.6 4.5-4.3 4.7-3.9 5-3.5 5.2-3.2 5.3-2.8 5.5-2.3 5.7-1.8 5.8-1.3 6-0.8 6-0.3 6.2 0.1 6.1 0.6 12.3 2 12.1 3 11.9 3.7 11.5 4.1 11.2 4.6 10.9 5.1 15.6 8.3 9.9 6 14.2 9.5 8.9 6.6 12.7 10.4 11.8 10.6 10.9 10.9 10.1 11.1 9.3 11.1 8.6 11.1 10.4 14.9 7 11 8.4 14.6 5.7 10.8 6.8 14.3 5.9 14 5.1 13.9 4.4 13.6 3.8 13.5 3.1 13.2 3.2 16.4 1.9 12.9 1.7 16 1 15.8 0.3 15.8 0 12-351 0z" fill="#476aaf"/>
<path d="M108 1138.2l0.3-33 1.2-35.1 2-35.9 3.1-38 5-46.8 5.9-46 3.4-23.4 2.8-17 1.6-8.7 2.2-8.2 3.8-5.3 4.1-5 4.3-4.5 4.6-4.2 4.8-3.7 5.1-3.4 5.2-3 5.4-2.5 5.6-2 5.8-1.5 5.9-0.9 6-0.4 6.1 0 6.1 0.5 12.2 1.9 12.1 3 11.8 3.5 11.5 4.1 11.2 4.5 10.9 5 15.6 8.3 9.9 5.9 14.2 9.5 8.9 6.6 12.7 10.3 11.7 10.7 11 10.9 10.1 11 9.3 11.1 8.6 11.1 10.3 14.8 7 11.1 8.5 14.6 5.6 10.8 6.8 14.3 5.9 14 5.2 13.8 4.4 13.7 3.7 13.4 3.2 13.3 3.1 16.3 1.9 12.9 1.7 16 1 15.8 0.3 15.8 0 12-350.6 0z" fill="#4a6baf"/>
<path d="M108.4 1138.2l0.3-36 1.4-35.3 2.3-36.3 3.4-38.5 4.7-41.6 6.3-45.1 3.5-22.9 2.9-16.5 1.8-8.5 2.2-7.9 3.6-5.6 3.9-5.2 4.2-4.8 4.4-4.4 4.7-4 4.9-3.6 5.1-3.2 5.3-2.7 5.5-2.2 5.7-1.6 5.9-1.1 5.9-0.5 6.1-0.1 6.1 0.4 6.1 0.8 12.1 2.4 11.9 3.1 11.7 3.8 11.3 4.2 11 4.8 10.7 5.1 15.3 8.5 9.7 6.1 13.9 9.6 8.7 6.7 12.4 10.4 11.4 10.7 10.7 10.9 9.8 11.1 9.1 11.1 8.3 11.1 10.1 14.8 6.8 11 8.2 14.6 5.5 10.7 6.5 14.2 5.7 14 5 13.8 4.2 13.6 3.6 13.4 3 13.2 2.9 16.3 1.8 12.8 1.5 16 0.8 12.6 0.3 15.8 0 12-350.1 0z" fill="#4c6caf"/>
<path d="M108.7 1138.2l0.3-32.8 1.3-35 2.3-35.6 2.9-32.9 4.5-39.2 4.9-35.2 6.9-42.6 3-16 1.9-8.1 2.2-7.7 3.4-5.9 3.7-5.4 4-5.1 4.3-4.7 4.5-4.2 4.8-3.8 5-3.4 5.2-2.9 5.5-2.4 5.6-1.8 5.8-1.2 5.9-0.6 6-0.1 6 0.3 6.1 0.7 6.1 1 12 2.7 5.9 1.6 11.6 3.7 11.3 4.2 11 4.6 10.7 5.1 15.3 8.5 9.7 6 13.8 9.6 8.8 6.7 12.3 10.4 11.5 10.6 10.6 11 9.9 11 9 11.1 8.4 11.1 10 14.8 6.8 11 8.2 14.5 5.5 10.8 6.5 14.2 5.7 14 5 13.8 4.2 13.5 3.6 13.4 3 13.2 2.9 16.3 1.8 12.9 1.6 15.9 0.7 12.6 0.3 15.8 0 12-349.7 0z" fill="#4f6daf"/>
<path d="M109 1138.2l0.4-32.8 1.3-34.8 2.4-35.4 3.1-32.8 4.7-38.7 5.1-34.7 7.2-41.6 3.2-15.5 1.9-7.8 2.4-7.5 3.1-6.1 3.5-5.8 3.9-5.3 4.1-4.9 4.4-4.5 4.6-4.1 4.9-3.6 5.2-3.1 5.3-2.5 5.6-1.9 5.7-1.4 5.8-0.7 6-0.2 6 0.2 6 0.6 6.1 1 11.9 2.6 5.9 1.6 11.6 3.6 11.3 4.1 11 4.6 10.7 5.1 15.3 8.3 9.7 6 13.8 9.6 8.7 6.6 12.4 10.4 11.5 10.7 10.6 10.9 9.8 11 9.1 11.1 8.3 11.1 10.1 14.8 6.8 11 8.1 14.5 5.5 10.8 6.6 14.2 5.7 13.9 4.9 13.8 4.3 13.6 3.5 13.4 3 13.2 2.9 16.2 1.8 12.9 1.6 15.9 0.7 12.7 0.3 15.7 0 12-349.3 0z" fill="#536eaf"/>
<path d="M109.4 1138.2l0.3-32.7 1.4-34.7 2.5-35.3 3.3-32.5 4.9-38.3 5.3-34.2 3.5-19.3 4.1-21.3 3.3-15 2-7.5 2.4-7.3 2.9-6.4 3.4-6 3.6-5.6 4-5.2 4.2-4.7 4.6-4.3 4.8-3.8 5-3.3 5.2-2.7 5.5-2.1 5.7-1.4 5.8-0.9 5.9-0.3 6 0.1 6 0.6 6 0.9 11.9 2.5 5.9 1.6 11.6 3.5 11.3 4 10.9 4.6 10.7 5 15.2 8.3 9.7 6 13.9 9.5 8.7 6.6 12.3 10.4 11.5 10.6 10.6 10.9 9.9 11 9 11.1 8.3 11.1 10.1 14.8 6.8 11 8.2 14.5 5.5 10.7 6.5 14.2 5.7 14 5 13.8 4.2 13.5 3.6 13.4 2.9 13.2 3 16.3 1.7 12.8 1.6 15.9 0.7 12.7 0.3 15.7 0 12-348.8 0z" fill="#576faf"/>
<path d="M109.7 1138.2l0.4-32.6 1.3-31.4 2.4-34.6 3.2-31.8 4.9-37 5.3-32.7 3.4-18.5 4-20.1 3.1-14.3 1.9-7.3 2.1-7.3 2.4-7 2.8-6.7 3.1-6.3 3.4-5.8 3.9-5.4 4.1-5 4.4-4.5 4.7-4 4.9-3.5 5.2-2.9 5.4-2.2 5.6-1.6 5.7-1 5.9-0.4 6 0.1 5.9 0.5 6 0.8 11.9 2.5 5.9 1.5 11.5 3.4 11.3 4 10.9 4.5 10.7 4.9 15.2 8.3 9.7 5.9 13.8 9.5 8.8 6.6 12.3 10.3 11.5 10.7 10.6 10.8 9.8 11.1 9.1 11 8.3 11.1 10 14.8 6.9 10.9 8.1 14.5 5.5 10.8 6.5 14.2 5.7 13.9 5 13.8 4.2 13.6 3.6 13.3 3 13.2 2.9 16.3 1.7 12.8 1.6 15.9 0.7 12.7 0.3 15.7 0 12-348.4 0z" fill="#5b71ae"/>
<path d="M110.1 1138.2l0.5-32.5 1.5-34.5 2.8-34.9 3.5-32 2.3-18 2.9-19.6 5.7-33.2 3.6-18.7 4.3-20.4 3.6-14.3 2.1-7.1 2.4-6.9 2.7-6.6 3.1-6.3 3.5-5.8 3.8-5.3 4-5 4.4-4.4 4.6-4.1 4.9-3.5 5.1-2.9 5.3-2.3 5.6-1.7 5.7-1 5.8-0.5 5.8-0.1 6 0.4 5.9 0.7 11.8 2.3 11.6 2.9 11.3 3.6 11.1 4.1 10.7 4.6 10.4 5.1 14.9 8.4 9.5 6 13.5 9.6 8.5 6.7 12 10.4 11.2 10.6 10.3 10.9 9.6 11 8.8 11 8.1 11.1 7.4 11 6.8 10.9 8.2 14.5 5.4 10.7 6.6 14.1 5.7 14 4.9 13.7 4.2 13.6 3.6 13.3 2.9 13.2 2.9 16.2 1.8 12.8 1.5 15.9 0.8 12.6 0.3 15.7 0 12-347.7 0z" fill="#5f73ad"/>
<path d="M110.6 1138.2l0.4-32.5 1.5-31 2.8-34.3 3.9-35.4 2.4-17.8 3-19.4 5.7-32.9 3.7-18.4 4.4-20.1 3.5-14.1 2.1-7 2.5-6.8 2.7-6.5 3.1-6.2 3.4-5.7 3.7-5.3 4.1-4.9 4.3-4.5 4.5-4 4.9-3.6 5-2.9 5.3-2.4 5.4-1.7 5.7-1.2 5.7-0.6 5.8-0.1 5.9 0.2 5.9 0.7 11.6 2 11.5 2.7 11.3 3.4 11 4 10.7 4.5 10.4 5 14.8 8.3 9.5 5.9 13.4 9.6 8.5 6.6 12 10.3 11.2 10.6 10.3 10.8 9.5 10.9 8.8 11 8.1 11 7.4 11 6.8 10.9 8.2 14.4 5.5 10.7 6.5 14.1 5.7 13.9 4.9 13.7 4.2 13.5 3.6 13.4 2.9 13.1 2.9 16.2 1.8 12.8 1.5 15.8 0.7 12.6 0.3 15.7 0 12-346.8 0z" fill="#6375ac"/>
<path d="M111 1138.2l0.1-14.6 0.4-17.8 1.6-30.9 2.9-34.1 4.1-35.1 2.4-17.7 3-19.2 5.9-32.4 3.7-18.3 4.4-19.7 3.6-13.9 2.1-6.9 2.5-6.7 2.7-6.4 3-6 3.4-5.7 3.7-5.3 4-4.9 4.3-4.5 4.5-4 4.7-3.5 5-3.1 5.2-2.4 5.4-1.8 5.6-1.2 5.7-0.7 5.7-0.3 5.8 0.2 5.8 0.5 11.6 1.8 11.4 2.6 11.2 3.2 10.9 3.8 10.7 4.4 10.3 4.9 14.9 8.2 9.4 5.9 13.4 9.4 8.5 6.6 11.9 10.2 11.2 10.6 10.3 10.7 9.5 10.9 8.8 10.9 8.1 10.9 7.4 10.9 6.8 10.9 8.1 14.4 5.5 10.7 6.5 14.1 5.7 13.9 4.9 13.6 4.2 13.5 3.5 13.3 3 13.1 2.9 16.2 1.7 12.8 1.6 15.8 0.7 12.6 0.3 15.6 0 12-346.1 0z" fill="#6877aa"/>
<path d="M111.4 1138.2l0.5-29.3 1.6-30.6 2.5-29.9 3.8-33.8 5.1-35 5.3-30.6 3.4-17.1 4-18.4 3.1-13.2 3.6-13.6 2.1-6.7 2.4-6.6 2.8-6.3 3-6 3.4-5.7 3.6-5.2 4-4.9 4.2-4.4 4.4-4.1 4.7-3.5 4.9-3.1 5.2-2.4 5.3-1.9 5.5-1.4 5.6-0.8 5.7-0.3 5.7 0 5.8 0.4 11.4 1.6 11.4 2.4 11.1 3 10.9 3.7 10.6 4.3 10.3 4.8 14.8 8 9.4 5.9 13.3 9.3 8.5 6.6 11.9 10.2 11.1 10.4 10.3 10.7 9.6 10.8 8.7 10.9 8.1 10.9 7.4 10.8 6.8 10.9 8.2 14.3 5.4 10.7 6.5 14 5.7 13.9 4.9 13.6 4.2 13.5 3.5 13.3 3 13.1 2.9 16.1 1.7 12.8 1.5 15.7 0.8 12.6 0.3 15.6 0 12-345.4 0z" fill="#6c78a9"/>
<path d="M111.9 1138.2l0.1-14.5 0.5-17.7 1.8-30.6 3.1-33.7 4.3-34.6 5.7-36.2 6-31.7 3.9-17.7 4.5-19.2 3.7-13.4 2.1-6.6 2.4-6.5 2.7-6.2 3.1-5.9 3.3-5.6 3.6-5.2 3.9-4.8 4.2-4.5 4.4-4 4.6-3.6 4.9-3.1 5-2.5 5.3-2 5.4-1.4 5.5-0.9 5.7-0.5 5.6 0 11.4 0.8 11.3 1.8 11.2 2.6 11 3.2 10.7 3.8 10.4 4.5 10 4.9 14.5 8.3 9.2 5.9 13.1 9.5 8.2 6.6 11.6 10.2 10.8 10.5 10.1 10.7 9.2 10.7 8.6 10.9 7.8 10.8 7.2 10.8 6.6 10.8 7.9 14.3 5.3 10.6 6.2 14 5.5 13.7 4.7 13.6 4 13.4 3.4 13.2 2.8 13.1 2.2 12.8 1.8 12.8 1.5 15.7 0.7 12.5 0.3 15.6 0 12-344.5 0z" fill="#707aa8"/>
<path d="M112.3 1138.2l0.6-29.1 0.9-18 1.1-15.5 3.2-33.5 4.5-34.3 5.8-35.8 6.1-31.4 3.8-17.4 4.7-18.9 3.6-13.2 2.2-6.5 2.4-6.3 2.7-6.2 3-5.8 3.3-5.6 3.6-5.1 3.9-4.8 4.1-4.4 4.3-4.1 4.6-3.6 4.8-3.1 5-2.6 5.2-2 5.3-1.5 5.5-1 5.5-0.6 5.6-0.2 11.3 0.6 11.3 1.6 11 2.4 10.9 3.1 10.7 3.7 10.3 4.3 10.1 4.9 14.4 8.1 9.2 5.9 13 9.4 8.2 6.6 11.6 10.1 10.8 10.5 10 10.5 9.3 10.8 8.5 10.7 7.8 10.8 7.2 10.8 6.6 10.8 7.9 14.2 5.3 10.6 6.2 13.9 5.5 13.8 4.7 13.5 4 13.4 3.4 13.2 2.8 13 2.2 12.8 1.7 12.7 1.6 15.8 0.7 12.4 0.3 15.6 0 12-343.8 0z" fill="#747ba6"/>
<path d="M112.7 1138.2l0.2-14.4 0.4-14.6 1-17.9 1.1-15.5 3.4-33.2 4.6-34.1 5.9-35.4 6.2-31 3.9-17.3 4.7-18.5 3.7-12.9 2.2-6.4 2.4-6.3 2.7-6.1 3-5.7 3.3-5.5 3.5-5.1 3.8-4.8 4.1-4.4 4.3-4 4.5-3.7 4.7-3.1 4.9-2.7 5.2-2.1 5.2-1.6 5.4-1.1 5.5-0.7 5.6-0.2 11.1 0.4 11.2 1.4 11 2.1 10.8 3 10.6 3.6 10.3 4.2 10 4.7 14.4 8.1 9.1 5.8 13 9.3 8.2 6.6 11.6 10 10.8 10.4 10 10.5 9.2 10.7 8.6 10.7 7.8 10.8 7.2 10.7 6.6 10.7 7.8 14.2 5.3 10.5 6.3 14 5.4 13.7 4.7 13.5 4 13.4 3.3 13.1 2.8 13 2.3 12.8 1.7 12.7 1.5 15.7 0.8 12.5 0.3 15.5 0 12-343.1 0z" fill="#777ca4"/>
<path d="M113.2 1138.2l0.1-14.4 0.5-14.6 0.8-14.8 1.2-15.3 3.3-32.6 4.6-33.3 5.7-34.4 3.7-19.5 3.4-15.8 4-17 4.7-18.2 3.8-12.7 2.2-6.3 2.4-6.2 2.7-5.9 2.9-5.7 3.3-5.4 3.5-5.1 3.8-4.8 4-4.4 4.2-4 4.5-3.7 4.6-3.2 4.9-2.6 5-2.2 5.3-1.7 5.3-1.2 5.4-0.8 5.5-0.4 5.5-0.1 11.1 0.8 11 1.6 10.8 2.4 10.7 3.1 10.4 3.8 10.1 4.4 9.8 4.9 9.5 5.4 9.1 5.8 13 9.3 8.1 6.4 11.6 10.1 10.8 10.2 10 10.5 9.2 10.6 8.5 10.7 7.8 10.7 7.2 10.7 6.6 10.7 7.9 14.1 5.2 10.5 6.3 13.9 4.1 10.3 4.9 13.6 4.1 13.4 3.5 13.1 3 13 2.8 16 1.8 12.7 1.5 15.7 0.7 12.4 0.3 15.5 0 12-342.2 0z" fill="#7b7da2"/>
<path d="M113.6 1138.2l0.2-14.4 0.5-14.5 0.8-14.7 1.2-15.2 1.6-15.9 1.9-16.6 4.7-33 5.8-34.1 3.8-19.3 3.5-15.6 4-16.7 4.8-18 3.8-12.4 2.2-6.2 2.4-6 2.7-5.9 2.9-5.6 3.2-5.4 3.5-5 3.7-4.7 4-4.4 4.1-4.1 4.4-3.6 4.6-3.3 4.8-2.7 5-2.3 5.2-1.8 5.2-1.3 5.4-0.9 5.4-0.5 5.5-0.1 10.9 0.5 10.9 1.4 10.8 2.2 10.6 3 10.4 3.7 10.1 4.3 9.8 4.9 9.4 5.3 9.1 5.7 12.9 9.2 8.2 6.4 11.5 10 10.8 10.2 9.9 10.4 9.2 10.5 8.6 10.6 7.8 10.7 7.2 10.7 6.5 10.6 7.9 14.1 5.3 10.5 6.2 13.9 4.1 10.3 4.9 13.5 4.1 13.3 3.5 13.2 2.9 13 2.9 16 1.7 12.6 1.6 15.6 0.7 12.4 0.3 15.5 0 12-341.5 0z" fill="#7e7ea0"/>
<path d="M114 1138.2l0.2-14.3 0.6-14.5 0.9-14.7 1.2-15.1 1.6-15.8 2-16.5 4.8-32.7 5.9-33.8 3.9-19 3.5-15.5 4.1-16.4 4.8-17.7 3.9-12.2 2.1-6.1 5.1-11.7 3-5.5 3.1-5.3 3.5-5 3.7-4.7 3.9-4.4 4.1-4 4.3-3.7 4.6-3.3 4.7-2.8 4.9-2.3 5.1-1.9 5.2-1.4 5.3-1 5.3-0.6 5.4-0.3 10.9 0.3 10.8 1.2 10.7 2.1 10.6 2.8 10.3 3.6 10.1 4.2 9.7 4.8 9.4 5.2 9.1 5.7 12.9 9.1 8.1 6.4 11.5 9.9 10.7 10.1 10 10.4 9.2 10.4 8.5 10.6 7.8 10.6 7.2 10.6 6.6 10.6 7.8 14.1 5.3 10.5 6.2 13.8 4.1 10.3 4.9 13.5 4.1 13.3 3.5 13.2 2.9 12.9 2.9 16 1.7 12.6 1.5 15.6 0.7 12.4 0.4 15.4 0 12-340.8 0z" fill="#81809e"/>
<path d="M114.5 1138.2l0.2-14.3 0.5-14.4 1-14.7 1.3-15 1.6-15.7 2.1-16.4 4.9-32.5 6.1-33.4 3.9-18.8 3.5-15.2 4.2-16.3 4.9-17.3 3.8-12 2.2-5.9 5.1-11.6 2.9-5.4 3.2-5.2 3.4-5 3.6-4.7 3.9-4.3 4-4.1 4.3-3.7 4.5-3.3 4.7-2.9 4.8-2.4 5-1.9 5.1-1.6 5.2-1.1 5.3-0.7 10.7-0.5 10.8 0.6 10.7 1.5 10.6 2.3 10.4 3.1 10.1 3.8 9.9 4.4 9.6 4.9 9.2 5.4 8.8 5.8 12.6 9.3 7.9 6.4 11.3 9.9 10.4 10.2 9.7 10.3 9 10.5 8.2 10.5 7.6 10.6 7 10.5 6.4 10.6 7.6 14 5.1 10.4 6 13.8 3.9 10.2 4.7 13.5 3.9 13.2 3.4 13.1 2.7 12.8 2.2 12.8 1.8 12.5 1.5 15.6 0.7 12.4 0.3 15.4 0 12-339.9 0z" fill="#85819c"/>
<path d="M114.9 1138.2l0.1-11.4 0.6-14.3 0.9-14.6 1.2-14.9 1.7-15.4 2.1-16.2 2.5-17.1 3-18.4 6.1-33.1 4-18.6 3.6-15 7.4-27.2 3.6-11.7 4.2-11.7 5.1-11.3 2.9-5.4 3.1-5.2 3.4-4.9 3.6-4.6 3.8-4.4 4-4.1 4.2-3.7 4.4-3.3 4.6-2.9 4.8-2.5 4.9-2.1 5.1-1.6 5.1-1.2 5.2-0.8 10.6-0.7 10.7 0.3 10.6 1.3 10.6 2.2 10.3 2.9 10.1 3.7 9.9 4.3 9.5 4.9 9.2 5.4 8.8 5.7 12.5 9.2 7.9 6.3 11.2 9.9 10.5 10.1 9.7 10.3 8.9 10.4 8.3 10.4 7.6 10.6 7 10.5 6.3 10.5 7.6 14 5.1 10.4 6 13.8 3.9 10.1 4.7 13.5 3.9 13.2 3.3 13 2.8 12.9 2.2 12.7 1.7 12.5 1.6 15.6 0.7 12.3 0.3 15.4 0 12-339.2 0z" fill="#88829a"/>
<path d="M115.3 1138.2l0.2-11.4 0.5-14.3 1-14.4 1.3-14.9 1.7-15.3 2.1-16.1 5.7-35.2 3.7-19.9 3.5-17.3 6.7-28.8 4.3-15.7 3.2-11.1 3.6-11.4 4.3-11.5 5.1-11.1 2.8-5.3 3.1-5.1 3.4-4.9 3.5-4.6 3.8-4.4 3.9-4 4.2-3.8 4.3-3.3 4.6-3 4.7-2.6 4.8-2.1 5-1.7 5.1-1.3 5.2-1 5.2-0.6 10.5-0.4 10.6 0.7 10.5 1.5 10.4 2.5 10.2 3.2 9.9 3.9 9.7 4.5 9.3 5.1 9 5.5 8.6 5.8 12.3 9.3 7.7 6.4 10.9 9.9 10.2 10.1 9.4 10.3 8.7 10.3 8 10.5 7.4 10.5 6.8 10.5 6.1 10.5 7.4 13.9 4.9 10.3 5.8 13.7 3.8 10.1 4.4 13.4 3.8 13.1 3.2 13 2.6 12.8 2.1 12.6 1.6 12.5 1.1 12.4 0.7 12.4 0.3 15.3 0 12-338.4 0z" fill="#8c8398"/>
<path d="M115.8 1138.2l0.1-11.3 0.6-14.3 1-14.4 1.4-14.8 1.7-15.3 2.2-15.9 5.8-35 3.8-19.6 3.5-17.2 6.9-28.3 4.2-15.6 3.3-10.8 3.7-11.2 4.3-11.2 5-11 2.9-5.2 3.1-5.1 3.3-4.8 3.5-4.6 3.7-4.3 3.9-4.1 4.1-3.7 4.2-3.5 4.5-3 4.6-2.6 4.8-2.3 4.9-1.8 5.1-1.4 5.1-1 5.1-0.8 10.5-0.5 10.5 0.4 10.4 1.4 10.4 2.3 10.1 3.1 9.9 3.8 9.6 4.4 9.3 5 9 5.5 8.6 5.8 12.2 9.2 7.7 6.4 10.9 9.8 10.1 10 9.4 10.2 8.8 10.3 8 10.4 7.4 10.5 6.7 10.4 6.2 10.5 7.3 13.9 4.9 10.3 5.8 13.7 3.8 10.1 4.4 13.3 3.8 13.1 3.1 13 2.6 12.7 2.1 12.6 1.6 12.5 1.2 12.4 0.7 12.3 0.3 15.3 0 12-337.6 0z" fill="#8f8496"/>
<path d="M116.2 1138.2l0.2-11.3 0.6-14.2 1-14.4 1.4-14.7 1.9-15.2 2.2-15.8 6-34.7 3.8-19.5 3.6-16.9 3.2-13.6 3.7-14.4 4.3-15.3 3.3-10.6 3.8-11 4.3-11 5-10.7 2.9-5.2 6.2-9.8 3.5-4.6 3.7-4.3 3.8-4.1 4-3.7 4.3-3.5 4.4-3.1 4.5-2.7 4.7-2.3 4.9-1.9 5-1.5 5-1.2 5.1-0.8 10.3-0.8 10.5 0.2 10.3 1.3 10.3 2.1 10.1 3 9.9 3.7 9.5 4.4 9.3 4.9 8.9 5.4 8.6 5.7 12.2 9.2 7.7 6.3 10.9 9.7 10.1 10 9.4 10.1 8.7 10.3 8 10.4 7.4 10.4 6.8 10.4 6.1 10.4 5.6 10.4 5.1 10.3 5.9 13.7 4 10.1 4.6 13.4 3.9 13.1 3.3 13 2.7 12.8 2.2 12.6 1.7 12.5 1.5 15.4 0.8 12.3 0.3 15.3 0 12-336.9 0z" fill="#938594"/>
<path d="M116.6 1138.2l0.2-11.3 0.6-14.1 1.1-14.4 1.5-14.6 3.7-27.6 2.7-16.5 3.2-17.5 7.3-35.4 6.6-27.1 4.2-14.7 4.9-15.6 3.7-10.7 4.4-10.8 5-10.5 2.8-5.1 6.2-9.7 7.1-8.8 3.7-4.1 4-3.8 4.2-3.5 4.3-3.1 4.5-2.8 4.7-2.4 4.7-2.1 4.9-1.6 5-1.3 5.1-0.9 5.1-0.6 10.3-0.5 5.1 0.2 10.3 1 10.2 2 10.1 2.9 9.8 3.6 9.6 4.3 9.2 4.8 13.2 8.2 8.4 5.8 11.9 9.3 7.5 6.3 10.6 9.8 9.9 9.9 9.1 10.2 8.5 10.2 7.8 10.3 7.2 10.4 6.5 10.4 6 10.4 5.4 10.4 4.8 10.2 5.8 13.6 3.8 10.1 4.4 13.3 3.8 13.1 3.1 12.9 2.6 12.7 2.1 12.5 1.6 12.5 1.1 12.3 0.7 12.2 0.3 15.3 0 12-336.1 0z" fill="#968692"/>
<path d="M117.1 1138.2l0.2-11.2 0.6-14.2 1.1-14.2 1.5-14.6 3.9-27.5 2.7-16.3 3.3-17.3 7.4-35 6.7-26.8 4.2-14.5 5-15.3 3.8-10.5 4.4-10.5 5-10.4 2.8-5 6.1-9.6 6.9-8.8 3.8-4.1 3.9-3.8 4.1-3.5 4.3-3.2 4.4-2.9 4.6-2.5 4.7-2.1 4.8-1.7 4.9-1.4 5-1.1 5.1-0.7 10.2-0.7 5.1 0.1 10.2 0.9 10.2 1.8 10 2.8 9.8 3.5 9.5 4.2 9.2 4.8 13.2 8 8.3 5.8 11.9 9.2 7.5 6.3 10.6 9.7 9.8 9.9 9.2 10.1 8.5 10.2 7.8 10.3 7.1 10.3 6.6 10.4 5.9 10.3 5.4 10.3 4.9 10.3 5.7 13.6 3.8 10 4.4 13.3 3.7 13 3.2 12.9 2.6 12.7 2 12.5 1.6 12.4 1.2 12.3 0.7 12.3 0.3 15.2 0 12-335.3 0z" fill="#998790"/>
<path d="M117.5 1138.2l0.2-11.2 0.7-14.1 0.9-11.3 1.5-14.5 1.9-14.8 2.3-15.4 2.9-16.2 3.3-17.2 7.5-34.6 6.9-26.5 4.2-14.2 5-15 3.9-10.3 4.3-10.3 5.1-10.2 2.7-4.9 6.1-9.5 3.3-4.5 7.2-8.3 3.9-3.9 4-3.5 4.2-3.3 4.4-2.9 4.5-2.6 4.6-2.2 4.8-1.9 4.8-1.5 5-1.1 5-0.9 5-0.6 10.2-0.3 5 0.2 10.2 1.3 10 2.1 9.9 3.1 9.6 3.8 9.4 4.4 9 5 12.9 8.3 8.1 5.8 11.6 9.3 7.3 6.3 10.3 9.7 9.6 9.9 9 10.1 8.2 10.1 7.6 10.3 6.9 10.3 6.3 10.4 5.8 10.3 5.2 10.3 4.7 10.2 5.5 13.5 3.7 10 4.2 13.2 2.7 9.7 3.2 12.9 2.5 12.6 2.1 12.5 1.6 12.4 1.1 12.3 0.8 12.2 0.3 15.2 0 12-334.6 0z" fill="#9c888d"/>
<path d="M118.1 1138.2l0.2-11.2 0.7-14 0.9-11.3 1.6-14.4 1.9-14.7 2.5-15.3 2.8-16 3.4-17.1 3.9-18.4 3.7-15.9 6.9-26 4.3-14.1 5-14.7 3.9-10.2 4.4-10.1 5-10 2.7-4.9 6.1-9.3 3.3-4.4 7.1-8.3 3.8-3.8 4-3.5 4.1-3.3 4.3-2.9 4.5-2.6 4.6-2.2 4.7-1.9 4.8-1.5 4.9-1.2 4.9-0.9 5-0.6 10-0.5 5.1 0.2 10 1.1 10 2 9.8 2.9 9.5 3.7 9.3 4.3 9 4.9 12.8 8 8.1 5.8 11.5 9.2 7.3 6.2 10.3 9.6 9.6 9.9 8.9 9.9 8.2 10.2 7.5 10.2 7 10.2 6.3 10.3 5.7 10.2 5.2 10.3 4.7 10.1 5.5 13.5 3.6 9.9 4.3 13.1 2.7 9.8 3.1 12.7 2.6 12.7 2.1 12.4 1.6 12.4 1.1 12.2 0.7 12.2 0.4 15.1 0 12-333.4 0z" fill="#9f898b"/>
<path d="M118.8 1138.2l0.2-11.1 0.7-14 0.9-11.2 1.6-14.3 2-14.7 2.5-15.2 2.9-15.9 3.4-16.9 4-18.2 3.7-15.7 7-25.7 4.3-13.9 5.1-14.5 3.8-9.9 4.4-10 5-9.8 2.7-4.8 6-9.2 3.3-4.4 7-8.2 3.8-3.7 3.9-3.5 4.1-3.3 4.3-2.9 4.4-2.6 4.5-2.2 4.7-1.9 4.7-1.5 9.7-2.2 5-0.7 9.9-0.5 5 0.1 9.9 0.9 9.9 1.9 9.7 2.8 9.5 3.5 9.3 4.2 8.9 4.7 12.7 7.9 8.1 5.7 11.5 9 7.2 6.2 10.3 9.6 9.5 9.7 8.9 9.9 8.2 10.1 7.5 10.1 6.9 10.2 6.3 10.2 5.7 10.2 5.2 10.2 4.7 10.1 5.5 13.4 3.6 9.9 4.3 13 2.7 9.7 3.1 12.7 2.6 12.6 2.1 12.4 1.6 12.3 1.1 12.2 0.7 12.1 0.4 15.1 0 12-332.1 0z" fill="#a28a88"/>
<path d="M119.4 1138.2l0.2-11.1 0.8-13.9 0.9-11.2 1.6-14.2 2.1-14.6 2.5-15 2.9-15.8 3.5-16.8 4.1-18 3.7-15.5 7.1-25.4 4.3-13.6 5.1-14.3 3.9-9.8 4.3-9.8 5-9.7 2.7-4.7 5.9-9 3.3-4.4 7-8 3.7-3.8 3.9-3.4 4-3.2 4.3-2.9 4.3-2.6 4.5-2.3 4.6-1.9 4.7-1.6 9.6-2.2 4.8-0.8 9.9-0.6 4.9 0 9.9 0.8 9.8 1.8 9.6 2.6 9.4 3.4 9.2 4 8.9 4.7 12.7 7.7 8 5.6 11.5 8.9 7.2 6.2 10.2 9.4 9.5 9.7 8.8 9.8 8.2 10 7.5 10 6.9 10.2 6.3 10.1 5.7 10.2 5.1 10.1 4.7 10.1 5.5 13.3 3.6 9.8 4.2 13 2.8 9.6 3.1 12.7 2.6 12.5 2.1 12.4 1.6 12.2 1.1 12.2 0.7 12.1 0.3 15 0 12-330.8 0z" fill="#a68b85"/>
<path d="M120.1 1138.2l0.2-11 0.7-13.9 1-11.1 1.6-14.2 4.1-26.4 2.9-15.5 3.5-16.4 3.9-17.5 3.7-15.1 4.4-16.1 3.8-12.8 4.3-13.5 5.1-14 3.9-9.6 4.3-9.7 5-9.5 2.7-4.6 5.9-9 3.2-4.2 6.9-8 3.7-3.7 3.8-3.4 4.1-3.2 4.1-2.9 4.3-2.6 4.4-2.2 4.6-2 4.6-1.6 4.7-1.3 9.6-1.8 4.8-0.5 9.8-0.3 4.9 0.2 9.8 1.2 9.6 2 9.5 2.9 9.2 3.6 9 4.2 8.7 4.7 8.3 5.2 8 5.5 11.4 8.8 7.2 6.1 10.2 9.3 9.5 9.6 8.8 9.8 8.1 9.9 7.5 10 6.8 10.1 6.3 10 5.7 10.1 5.1 10.1 4.7 10 5.5 13.2 3.6 9.9 4.2 12.9 2.8 9.6 3.1 12.6 2.6 12.5 2 12.3 1.6 12.2 1.2 12.1 0.7 12 0.3 15 0 12-329.5 0z" fill="#a98c83"/>
<path d="M120.7 1138.2l0.2-11 0.8-13.8 1-11.1 1.7-14 1.6-11.5 2.5-14.8 3-15.3 3.4-16.3 4.1-17.4 3.7-14.9 4.4-15.9 3.9-12.6 4.4-13.2 5.1-13.8 3.8-9.5 4.4-9.5 4.9-9.3 2.7-4.6 5.8-8.8 3.2-4.2 6.8-7.9 3.7-3.6 7.8-6.6 4.1-2.9 4.2-2.6 4.4-2.2 4.5-2 4.5-1.6 4.7-1.4 9.5-1.9 4.8-0.5 9.6-0.5 4.9 0.2 9.6 1 9.6 1.9 9.4 2.8 9.2 3.4 8.9 4.1 8.6 4.6 8.3 5.1 8 5.4 11.4 8.7 7.1 6 10.2 9.2 9.4 9.6 8.8 9.7 8.1 9.8 7.4 9.9 6.9 10 6.2 10.1 5.7 10 5.2 10 4.6 10 5.5 13.1 3.6 9.8 4.2 12.9 2.7 9.5 3.2 12.6 2.5 12.4 2.1 12.3 1.6 12.1 1.2 12.1 0.7 12 0.3 14.9 0 12-328.3 0z" fill="#ac8d80"/>
<path d="M121.3 1138.2l0.3-10.9 0.8-13.8 1-11 1.7-14 1.7-11.4 2.5-14.6 3-15.3 3.5-16.1 4.1-17.2 3.8-14.8 4.5-15.6 3.8-12.5 4.5-13 5.1-13.6 3.9-9.2 4.3-9.4 4.9-9.2 2.7-4.4 5.8-8.7 3.1-4.2 6.8-7.7 3.6-3.7 7.7-6.5 4-2.8 4.2-2.6 4.3-2.3 4.5-2 4.5-1.6 4.6-1.4 9.3-2 4.8-0.7 9.5-0.5 4.8 0.1 9.6 0.9 9.5 1.7 9.3 2.6 9.2 3.4 8.8 3.9 8.6 4.5 8.3 5 7.9 5.3 11.3 8.6 7.2 5.9 10.1 9.2 9.4 9.4 8.7 9.6 8.1 9.8 7.4 9.9 6.8 9.9 6.3 10 5.6 10 5.2 9.9 4.6 9.9 5.5 13.1 3.6 9.8 4.2 12.8 2.7 9.5 3.1 12.5 2.6 12.3 2.1 12.3 1.6 12.1 1.2 12 0.7 11.9 0.3 14.9 0 12-327.1 0z" fill="#af8e7e"/>
<path d="M122 1138.2l0.2-10.9 0.8-13.6 1.1-11 1.7-13.9 1.8-11.4 2.5-14.5 3.1-15.2 3.5-16 4.2-17 3.8-14.5 4.5-15.5 3.9-12.2 4.5-12.8 5.1-13.4 3.9-9.1 4.3-9.2 4.9-9 2.6-4.4 5.8-8.5 3.1-4.1 6.7-7.7 3.6-3.6 7.6-6.5 4-2.8 4.1-2.6 4.3-2.3 4.4-2 4.4-1.7 4.6-1.4 9.2-2.1 4.7-0.7 9.5-0.6 4.7 0 9.5 0.7 9.4 1.7 9.3 2.4 9 3.2 8.9 3.8 8.5 4.4 8.2 4.9 7.9 5.2 11.3 8.4 7.1 5.9 10.1 9.1 9.3 9.4 8.7 9.5 8.1 9.7 7.4 9.8 6.8 9.9 6.2 9.9 5.6 9.9 5.2 9.9 4.6 9.9 5.5 13 3.6 9.7 4.2 12.8 2.7 9.4 3.1 12.5 2.6 12.3 2.1 12.2 1.6 12 1.2 12 0.7 11.9 0.3 14.8 0 12-325.8 0z" fill="#b38f7b"/>
<path d="M122.6 1138.2l0.2-10.8 0.7-10.9 1-10.9 1.6-13.8 2.2-14.1 2.6-14.4 3.1-15.1 3.6-15.8 4.2-16.8 3.9-14.4 4.6-15.2 3.9-12.1 4.5-12.6 5.1-13.1 3.9-9 4.3-8.9 4.9-8.9 2.6-4.4 5.8-8.4 3-4 6.7-7.6 3.5-3.5 7.5-6.4 3.9-2.9 4.1-2.6 4.2-2.3 4.4-2 8.8-3.2 4.6-1.2 9.2-1.7 4.7-0.5 9.4-0.3 4.7 0.2 9.3 1 9.3 1.9 9.1 2.7 8.9 3.4 8.7 4 8.3 4.6 8 4.9 7.8 5.3 10.9 8.5 6.9 5.9 9.8 9.1 9.1 9.3 8.5 9.6 7.8 9.7 7.2 9.7 6.6 9.9 6 9.8 5.4 9.9 5 9.8 4.4 9.8 4.1 9.7 3.6 9.6 4.1 12.7 2.8 9.5 3.1 12.4 2.6 12.2 2.1 12.1 1.6 12 1.1 12 0.8 11.8 0.3 14.8 0 12-324.6 0z" fill="#b68f78"/>
<path d="M123.2 1138.2l0.3-10.8 0.6-10.8 1-10.9 1.8-13.7 2.2-14 2.6-14.3 3.2-14.9 3.6-15.7 4.2-16.7 4-14.2 4.6-15 4-11.9 4.5-12.4 5.2-12.8 3.8-8.8 4.4-8.8 7.4-13 5.7-8.3 3-4 6.6-7.5 3.5-3.4 7.4-6.4 3.9-2.8 8.2-4.9 4.2-2.1 8.8-3.2 4.5-1.3 9.1-1.8 4.7-0.6 9.2-0.4 4.7 0.1 9.3 0.9 9.2 1.8 9 2.5 8.9 3.3 8.6 3.9 8.3 4.4 8 4.9 7.6 5.2 11 8.3 6.9 5.9 9.7 9 9.1 9.3 8.4 9.4 7.8 9.6 7.1 9.8 6.6 9.7 6 9.8 5.4 9.8 5 9.8 4.4 9.7 5.3 12.9 3.4 9.6 4.1 12.6 2.6 9.3 3 12.3 2.4 12.2 2 12 1.5 12 1.1 11.8 0.6 11.8 0.2 11.8 0 12-323.4 0z" fill="#b99075"/>
<path d="M123.9 1138.2l0.2-10.8 0.7-10.7 1-10.8 1.8-13.7 2.2-13.9 2.7-14.2 3.2-14.8 3.7-15.6 7.2-26.9 4.5-14.6 3.9-11.5 4.3-12 5-12.5 5.7-12.9 4.3-8.6 7.4-12.8 5.6-8.1 3.1-3.9 6.4-7.4 3.5-3.5 7.3-6.3 3.9-2.8 8-4.9 4.2-2.1 8.7-3.3 4.4-1.3 9.1-1.9 4.5-0.6 9.2-0.6 4.6 0 9.2 0.8 9.1 1.6 9 2.4 8.8 3.2 8.6 3.7 8.2 4.3 8 4.8 7.6 5.1 10.9 8.3 6.9 5.7 9.7 9 9 9.2 8.4 9.4 7.8 9.5 7.1 9.7 6.6 9.7 5.9 9.7 5.5 9.8 4.9 9.7 4.4 9.7 5.3 12.8 3.4 9.5 4.1 12.5 2.6 9.3 3 12.3 2.4 12.1 2 12 1.5 11.9 1 11.8 0.7 11.8 0.2 11.7 0 12-322.1 0z" fill="#bc9172"/>
<path d="M124.5 1138.2l0.3-10.7 0.7-10.7 1-10.8 1.8-13.6 2.3-13.8 2.7-14.1 3.3-14.7 3.7-15.4 7.3-26.6 4.5-14.4 3.9-11.3 4.4-11.8 5-12.3 5.7-12.6 4.3-8.5 7.4-12.5 5.6-8 3-3.9 6.4-7.3 3.4-3.4 7.2-6.3 3.8-2.8 8-4.9 4.1-2.1 4.3-1.8 8.7-2.9 4.4-1.1 9-1.6 9.1-0.7 4.5 0 9.2 0.6 9 1.5 8.9 2.2 8.8 3.1 8.4 3.6 8.3 4.2 7.9 4.6 7.6 5.1 7.3 5.3 10.4 8.5 6.5 5.9 9.2 9 5.8 6.2 8.2 9.4 7.5 9.5 6.9 9.6 6.3 9.7 5.8 9.7 5.3 9.7 4.7 9.6 4.3 9.6 3.9 9.6 3.4 9.4 4 12.5 2.7 9.3 2.9 12.2 2.5 12 2 12 1.5 11.8 1 11.8 0.7 11.7 0.2 11.7 0 12-320.9 0z" fill="#bf9270"/>
<path d="M125.1 1138.2l0.3-10.7 0.7-10.6 1.1-10.8 1.8-13.5 2.3-13.7 2.8-14 3.3-14.6 3.8-15.2 3.4-12.8 4-13.5 4.6-14.2 3.9-11.1 4.4-11.7 5-12 5.7-12.4 4.4-8.3 7.3-12.3 5.5-7.9 3-3.8 6.3-7.2 3.4-3.3 7.1-6.2 3.8-2.8 7.8-5 4.1-2.1 4.2-1.8 8.6-3 4.4-1.2 8.8-1.7 9-0.8 4.6-0.1 9 0.5 9 1.3 8.8 2.2 8.7 2.8 8.4 3.5 8.2 4.1 7.9 4.6 7.6 4.9 7.3 5.3 10.3 8.4 6.5 5.8 9.2 9 5.8 6.1 8.1 9.3 7.5 9.5 6.9 9.5 6.3 9.6 5.7 9.7 5.3 9.6 4.7 9.6 4.3 9.6 3.9 9.4 3.4 9.5 4 12.4 2.6 9.2 3 12.1 2.5 12.1 2 11.9 1.5 11.8 1 11.7 0.7 11.7 0.2 11.6 0 12-319.7 0z" fill="#c2936d"/>
<path d="M125.8 1138.2l0.3-10.6 0.7-10.7 1.1-10.6 1.8-13.4 2.4-13.7 2.8-13.9 3.3-14.4 3.9-15.1 3.5-12.7 4-13.3 4.6-14 4-11 4.4-11.4 5-11.8 5.8-12.1 4.3-8.2 7.3-12 5.5-7.8 2.9-3.7 6.3-7.1 3.3-3.4 7-6.1 3.7-2.8 7.8-4.9 4-2.2 4.2-1.8 8.4-3.1 4.3-1.2 8.8-1.9 8.9-0.9 4.5-0.2 8.9 0.4 8.9 1.2 8.8 2 8.6 2.7 8.4 3.4 8.2 4 7.8 4.4 7.6 4.9 7.2 5.2 10.3 8.3 6.5 5.7 9.2 8.9 5.7 6.1 8.1 9.2 7.5 9.4 6.8 9.5 6.3 9.6 5.8 9.5 5.2 9.6 4.7 9.6 4.3 9.5 3.8 9.4 3.5 9.4 4 12.3 2.6 9.2 3 12.1 2.5 12 1.9 11.8 1.5 11.8 1.1 11.7 0.6 11.6 0.3 11.6 0 12-318.4 0z" fill="#c5936a"/>
<path d="M126.4 1138.2l0.3-10.6 0.7-10.6 1.1-10.6 1.9-13.3 2.4-13.5 2.9-13.9 3.4-14.3 3.8-15 3.6-12.5 4.1-13.1 4.6-13.8 4-10.8 4.5-11.2 5.1-11.6 5.7-11.9 4.3-8 4.7-7.9 5.2-7.7 5.7-7.5 3-3.6 6.5-6.7 3.4-3.1 7.2-5.8 3.8-2.6 3.8-2.3 8.1-4.1 4.1-1.7 8.5-2.7 4.3-1.1 8.8-1.5 8.8-0.7 4.4 0 4.5 0.2 8.8 1.1 8.7 1.9 8.6 2.6 8.3 3.3 8.1 3.8 7.9 4.4 7.5 4.8 7.2 5.1 10.2 8.2 6.5 5.7 9.1 8.8 5.7 6 8.1 9.2 7.4 9.3 6.9 9.4 6.3 9.5 5.7 9.5 5.2 9.6 4.7 9.5 4.3 9.4 3.8 9.4 3.5 9.3 4 12.3 2.6 9.1 3 12.1 2.4 11.9 2 11.8 1.5 11.7 1.1 11.7 0.6 11.5 0.2 11.6 0 12-317.1 0z" fill="#c89467"/>
<path d="M127.1 1138.2l0.3-10.5 0.7-10.6 1.1-10.5 2-13.3 2.4-13.4 2.9-13.8 3.4-14.2 3.9-14.8 3.6-12.4 4.1-13 4.8-13.5 4-10.6 4.5-11 5.1-11.4 5.7-11.7 4.3-7.8 4.7-7.7 5.2-7.6 5.6-7.3 3-3.6 6.4-6.6 3.4-3.1 7.1-5.8 3.7-2.5 3.8-2.4 7.9-4.1 4.1-1.7 8.4-2.9 8.5-2 4.4-0.7 8.7-0.8 4.4-0.1 4.4 0.1 8.8 0.9 8.6 1.8 8.5 2.5 8.3 3.1 8.1 3.8 7.8 4.2 7.5 4.7 7.2 5.1 10.2 8 6.4 5.7 9.1 8.7 5.7 6 8 9.1 7.4 9.3 6.8 9.3 6.3 9.4 5.7 9.5 5.2 9.5 4.7 9.4 4.3 9.4 3.8 9.4 3.5 9.2 4 12.3 2.6 9.1 3 12 2.4 11.8 2 11.8 1.5 11.7 1.1 11.5 0.6 11.6 0.2 11.5 0 12-315.8 0z" fill="#cb9564"/>
<path d="M128 1138.2l0.3-10.5 0.7-10.4 1.1-10.5 1.5-10.6 1.9-10.6 2.8-13.5 3.2-13.9 3.7-14.4 3.5-12 3.8-12.5 4.5-13 3.7-10.2 5.7-14.2 4.9-11.1 5.5-11.4 4.1-7.6 4.4-7.7 4.9-7.5 5.4-7.4 5.8-7 6.3-6.5 3.3-3.1 7.1-5.6 3.6-2.5 3.8-2.4 7.8-4 4.1-1.8 8.2-2.8 8.5-2.1 4.2-0.7 8.7-0.9 4.3-0.1 4.4 0.1 8.6 0.8 8.6 1.7 8.4 2.3 8.2 3.1 8 3.6 7.7 4.2 7.5 4.5 7.1 5 10.1 7.9 6.4 5.6 9.1 8.6 5.6 5.9 8 9 7.4 9.1 6.8 9.3 6.2 9.4 5.7 9.3 5.2 9.4 4.6 9.4 4.3 9.3 3.8 9.3 3.4 9.2 4 12.1 2.6 9 3 11.9 2.5 11.8 1.9 11.7 1.6 11.6 1 11.5 0.7 11.5 0.2 11.4 0 12-313.9 0z" fill="#ce9660"/>
<path d="M128.9 1138.2l0.3-10.4 0.7-10.4 1.1-10.4 1.5-10.5 1.9-10.6 2.8-13.3 3.3-13.8 3.8-14.2 4.4-14.9 4-12.5 4.6-13 4-10.2 4.3-10.5 4.9-10.9 5.4-11.2 4.1-7.5 4.5-7.5 4.8-7.4 5.3-7.2 5.8-6.9 6.2-6.4 3.3-3 6.9-5.5 3.7-2.5 3.7-2.3 7.7-4.1 4-1.7 8.1-2.8 8.4-2.1 4.2-0.8 8.5-0.9 4.3-0.2 4.3 0.1 8.6 0.7 8.4 1.5 8.4 2.3 8.1 2.9 7.9 3.6 7.7 4 7.4 4.5 7.1 4.8 10 7.8 6.4 5.5 8.9 8.5 5.7 5.8 7.9 8.9 7.4 9 6.7 9.2 6.2 9.3 5.6 9.2 5.2 9.4 4.7 9.2 4.2 9.3 3.8 9.2 3.4 9.1 4 12 2.6 9 3 11.8 2.4 11.7 2 11.6 1.5 11.5 1.1 11.4 0.6 11.4 0.2 11.4 0 12-311.9 0z" fill="#d2975d"/>
<path d="M129.8 1138.2l0.3-10.3 0.7-10.4 1.1-10.3 1.6-10.4 1.8-10.5 2.9-13.3 6.3-24.8 4.3-14.6 4-12.2 8.3-22.6 5.7-13.7 4.8-10.7 5.5-11 4.1-7.3 4.4-7.4 4.8-7.3 5.2-7 5.8-6.8 6.1-6.3 3.3-2.9 6.8-5.5 3.6-2.4 3.7-2.3 7.6-4 3.9-1.7 8.1-2.9 8.2-2.1 4.2-0.8 8.4-1 4.2-0.1 4.3 0 8.4 0.6 8.4 1.4 8.3 2.2 8 2.8 7.9 3.4 7.6 4 7.3 4.3 7 4.8 10 7.6 6.3 5.4 8.9 8.3 5.6 5.8 7.9 8.8 7.3 8.9 6.7 9.1 6.2 9.2 5.6 9.2 5.1 9.2 4.7 9.2 4.2 9.2 3.8 9.1 3.4 9 3.9 12 2.6 8.9 3 11.7 2.5 11.6 1.9 11.5 1.5 11.4 1.1 11.4 0.6 11.3 0.3 11.3 0 12-310 0z" fill="#d5985b"/>
<path d="M130.7 1138.2l0.3-10.3 0.7-10.3 1.1-10.3 1.6-10.3 1.9-10.4 2.8-13.2 3.4-13.4 3.9-14 7.5-23.5 4.5-12.5 5.2-13.1 5.9-13.6 5-10.7 5.7-10.8 4.2-7.2 4.6-7.2 5-7 8.3-10.1 6.1-6.2 3.3-2.9 6.7-5.3 3.6-2.4 3.6-2.3 7.5-4 3.9-1.7 7.9-2.8 8.1-2.2 8.3-1.4 8.3-0.6 4.2 0 4.2 0.1 8.3 1 8.3 1.7 8.1 2.4 7.8 3 7.7 3.5 7.4 4.1 7.1 4.4 6.9 4.8 9.7 7.7 6.1 5.4 8.6 8.3 5.5 5.7 7.6 8.8 7.1 8.9 6.5 9 5.9 9.1 5.4 9.1 5 9.2 4.4 9.1 4.1 9.1 3.6 9 3.3 8.9 3.8 11.8 2.5 8.8 2.8 11.6 2.3 11.5 1.9 11.4 1.1 8.6 1 11.2 0.7 11.3 0.2 11.2 0 12-308 0z" fill="#d79959"/>
<path d="M131.6 1138.2l0.3-10.2 0.7-10.2 1.1-10.3 1.6-10.2 1.9-10.3 2.3-10.5 2.6-10.6 3.7-13.6 4.3-14.1 3.9-11.7 4.4-12.2 5-12.7 5.7-13.3 4.9-10.3 5.4-10.6 4-7.1 4.4-7 4.8-7 5.1-6.8 5.6-6.5 6.1-6 3.1-2.9 6.7-5.3 3.5-2.4 3.6-2.2 7.4-3.9 3.8-1.7 7.8-2.8 8-2.2 8.2-1.5 8.2-0.7 4.2-0.1 4.1 0.2 8.2 0.8 8.2 1.6 8 2.3 7.8 2.9 7.6 3.4 7.3 4 7.1 4.3 6.8 4.7 9.6 7.5 6.1 5.3 8.6 8.3 5.4 5.6 7.6 8.6 7 8.8 6.5 9 5.9 9 5.4 9 4.9 9.1 4.4 9 4 9 3.7 8.9 3.2 8.9 3.8 11.8 2.5 8.7 2.8 11.5 2.4 11.4 1.8 11.3 1.1 8.5 1.1 11.2 0.6 11.2 0.3 11.1 0 12-306.1 0z" fill="#d99a57"/>
<path d="M132.5 1138.2l0.3-10.2 0.7-10.1 1.2-10.2 1.5-10.2 1.9-10.2 2.3-10.4 2.6-10.5 3.8-13.4 4.3-13.9 4-11.6 4.4-12 5.1-12.5 5.7-13 4.8-10.2 5.5-10.4 4-6.9 4.3-7 4.7-6.8 5.2-6.6 5.5-6.4 6-5.9 3.1-2.8 6.6-5.2 3.5-2.4 3.5-2.2 7.3-3.8 3.8-1.7 7.7-2.9 7.9-2.2 8-1.5 8.1-0.8 4.1-0.1 4.1 0.1 8.1 0.7 8.1 1.5 7.9 2.2 7.8 2.8 7.5 3.3 7.3 3.9 7 4.2 6.7 4.6 9.6 7.4 6.1 5.2 8.5 8.1 5.4 5.6 7.5 8.5 7 8.7 6.4 8.8 5.9 8.9 5.3 9 4.9 9 4.4 8.9 4 9 3.6 8.8 3.3 8.8 3.8 11.7 2.5 8.6 2.8 11.4 2.3 11.4 1.9 11.2 1 8.4 1.1 11.1 0.7 11.1 0.2 11.1 0 12-304.1 0z" fill="#db9b55"/>
<path d="M133.5 1138.2l0.2-10.1 0.7-10.1 1.2-10.1 1.5-10.1 1.9-10.2 2.3-10.2 2.7-10.4 3.8-13.3 4.4-13.8 4-11.4 4.5-11.8 5-12.3 5.8-12.8 4.8-10 5.4-10.2 4-6.8 4.3-6.8 4.7-6.7 5.1-6.5 5.5-6.2 5.9-5.8 3.1-2.7 6.5-5.1 3.4-2.4 3.5-2.1 7.2-3.9 3.7-1.7 7.6-2.8 7.8-2.2 7.9-1.6 8-0.9 4.1-0.1 4 0 8 0.7 8 1.4 7.9 2 7.6 2.7 7.5 3.2 7.2 3.8 7 4.1 6.7 4.5 9.5 7.2 6 5.1 8.5 8 5.3 5.5 7.5 8.4 6.9 8.7 6.4 8.7 5.9 8.8 5.3 8.9 4.8 8.9 4.4 8.9 4 8.8 3.6 8.8 3.3 8.7 3.7 11.6 2.5 8.5 2.8 11.4 2.3 11.2 1.9 11.2 1.1 8.3 1.1 11.1 0.6 11 0.2 11 0 12-302 0z" fill="#de9c54"/>
<path d="M134.4 1138.2l0.1-7.5 0.6-10 1-10.1 1.5-10 1.8-10.1 2.3-10.2 2.6-10.2 3.7-13.1 4.3-13.5 4-11.1 4.4-11.5 4.9-12 5.5-12.5 4.7-9.7 5.2-9.9 5.8-10 4.3-6.7 4.7-6.5 5-6.4 5.5-6.1 5.8-5.7 6.2-5.2 6.7-4.8 3.4-2.1 3.5-2 7.2-3.5 7.5-2.9 7.7-2.2 7.8-1.6 4-0.6 7.9-0.5 4 0 4 0.2 7.9 0.9 7.8 1.6 7.7 2.3 7.5 2.8 7.3 3.4 7 3.8 6.8 4.2 6.5 4.5 9.3 7.3 5.8 5.2 8.2 7.9 5.2 5.5 7.3 8.4 6.7 8.6 6.1 8.7 5.7 8.7 5.1 8.8 4.7 8.8 4.2 8.8 3.8 8.8 3.5 8.7 3.1 8.6 3.6 11.4 2.4 8.5 2.7 11.2 1.7 8.4 1.8 11.1 1.1 8.3 1.1 10.9 0.7 11 0.2 10.9 0 12-300.1 0z" fill="#e09d52"/>
<path d="M135.3 1138.2l0.1-7.5 0.6-9.9 1-10 1.5-10 1.9-10 2.2-10.1 2.6-10.1 3.8-13 4.4-13.3 4-11 4.4-11.3 5-11.8 5.5-12.2 4.7-9.6 5.2-9.7 5.8-9.8 4.3-6.5 4.6-6.4 5-6.2 5.4-6 5.7-5.6 6.2-5.1 6.5-4.7 3.4-2.1 3.4-1.9 7.2-3.5 7.4-2.9 7.5-2.3 7.7-1.6 3.9-0.6 7.9-0.6 3.9-0.1 3.9 0.1 7.9 0.9 7.7 1.5 7.6 2.1 7.4 2.8 7.2 3.2 7 3.7 6.8 4.1 6.4 4.5 6.2 4.7 5.9 4.9 8.4 7.8 5.3 5.3 7.4 8.3 6.8 8.4 6.3 8.5 5.8 8.7 5.3 8.7 4.8 8.7 4.3 8.7 4 8.7 3.6 8.6 3.2 8.6 3.7 11.4 2.5 8.4 2.8 11.2 2.3 11.1 1.9 11 1.1 8.2 1 10.9 0.7 10.8 0.2 10.9 0 12-298.1 0z" fill="#e29e50"/>
<path d="M136.2 1138.2l0.1-7.4 0.6-9.9 1-9.9 1.5-9.9 1.9-10 2.3-10 2.6-10.1 3.8-12.8 4.5-13.1 4-10.8 4.5-11.1 4.9-11.6 5.6-12.1 4.7-9.3 5.1-9.6 5.8-9.6 4.3-6.3 4.6-6.3 4.9-6 5.3-5.9 5.7-5.4 6.1-5.1 6.4-4.6 3.4-2.1 3.4-1.9 7-3.5 7.3-2.8 7.4-2.3 7.6-1.7 3.9-0.6 7.7-0.8 3.9 0 3.9 0 7.7 0.8 7.7 1.4 7.5 2 7.4 2.6 7.1 3.2 6.9 3.6 6.7 4 6.4 4.3 6.2 4.6 5.9 4.9 8.3 7.6 5.2 5.3 7.4 8.1 6.8 8.3 6.3 8.5 5.7 8.5 5.2 8.7 4.8 8.6 4.3 8.7 4 8.6 3.5 8.5 3.2 8.5 3.8 11.3 2.4 8.4 2.8 11 2.4 11 1.8 11 1.1 8.1 1.1 10.8 0.6 10.8 0.3 10.8 0 12-296.2 0z" fill="#e49f4e"/>
<path d="M137.1 1138.2l0.1-7.4 0.6-9.8 1-9.8 1.5-9.9 1.9-9.9 2.3-9.9 2.7-10 3-10.1 4.4-12.9 3.9-10.5 5.6-13.7 5-11.4 5.6-11.8 4.6-9.2 5.2-9.3 5.8-9.4 4.2-6.2 4.5-6.1 4.9-6 5.3-5.7 5.7-5.3 6-5 6.3-4.5 3.3-2 3.3-2 7-3.4 7.1-2.9 7.4-2.3 7.4-1.7 3.8-0.7 7.7-0.8 3.8-0.1 3.8 0 7.7 0.6 7.6 1.3 7.4 2 7.3 2.5 7.1 3 6.8 3.5 6.7 3.9 6.3 4.2 6.1 4.6 5.9 4.7 8.3 7.5 5.2 5.2 7.3 8.1 6.7 8.2 6.3 8.3 5.7 8.5 5.2 8.6 4.7 8.5 4.4 8.6 3.9 8.5 3.5 8.5 3.2 8.4 3.7 11.2 2.5 8.3 2.8 11 2.3 10.9 1.9 10.8 1 8.1 1.1 10.8 0.7 10.7 0.2 10.7 0 12-294.2 0z" fill="#e5a04f"/>
<path d="M138 1138.2l0.1-7.3 0.6-9.8 1.1-9.8 1.4-9.7 1.9-9.8 2.3-9.9 2.7-9.9 3.1-10 3.5-10.1 4.9-13 5.6-13.5 5.1-11.1 5.5-11.7 4.7-8.9 5.2-9.2 5.7-9.2 4.2-6 4.5-6 4.9-5.8 5.2-5.6 5.6-5.2 5.9-4.9 9.5-6.4 10.1-5.3 7-2.9 7.3-2.4 7.4-1.7 7.4-1.2 7.6-0.6 3.8 0 3.8 0.2 7.5 0.8 7.4 1.5 7.3 2.2 7.2 2.6 6.9 3.2 6.7 3.6 6.4 4 6.2 4.3 5.9 4.5 5.7 4.8 8.1 7.5 5 5.2 7.1 8 6.5 8.2 6 8.3 5.5 8.4 5.1 8.5 4.5 8.5 4.2 8.4 3.8 8.5 3.4 8.4 3 8.3 3.6 11 2.4 8.3 2.6 10.9 1.7 8.1 1.9 10.7 1.1 8.1 1.1 10.6 0.6 10.7 0.2 10.6 0 12-292.2 0z" fill="#e6a251"/>
<path d="M138.9 1138.2l0.1-7.3 0.6-9.7 1.1-9.7 1.4-9.7 2-9.7 2.3-9.8 2.7-9.8 3.1-9.9 3.6-10 4.9-12.8 4.5-10.5 6.2-13.7 5.6-11.4 4.7-8.8 5.1-9 5.7-8.9 4.2-6 4.5-5.8 4.8-5.6 5.2-5.5 5.5-5.1 5.8-4.8 9.4-6.3 9.9-5.3 7-2.8 7.1-2.4 7.3-1.9 7.3-1.2 7.5-0.6 3.7-0.1 3.8 0.1 7.4 0.8 7.4 1.4 7.2 2 7 2.5 6.9 3.1 6.6 3.5 6.4 3.9 6.2 4.1 5.9 4.5 5.6 4.7 8 7.4 5 5.1 7.1 7.9 6.5 8.1 5.9 8.2 5.5 8.3 5 8.4 4.6 8.4 4.1 8.4 3.8 8.4 3.3 8.3 3.1 8.3 3.6 10.9 2.3 8.2 2.7 10.8 1.7 8 1.8 10.7 1.1 8 1.1 10.6 0.7 10.5 0.2 10.6 0 12-290.3 0z" fill="#e7a453"/>
<path d="M140.9 1138.2l0.1-7.2 0.5-9.6 1.1-9.5 1.5-9.6 1.4-7.2 2.2-9.6 2.6-9.6 3-9.7 3.5-9.8 3.8-9.9 4.2-10.2 6-13.1 5.3-10.8 5.9-11.3 5-8.6 5.4-8.7 6.1-8.6 4.4-5.6 4.8-5.5 5-5.3 5.4-4.9 5.7-4.7 9.2-6.1 9.7-5.1 6.8-2.9 6.9-2.3 7.1-1.8 7.2-1.3 7.3-0.6 3.7-0.1 3.6 0.1 7.3 0.7 7.2 1.3 7 1.9 7 2.4 6.7 2.9 6.5 3.4 6.3 3.7 6 4 5.8 4.3 5.6 4.6 7.9 7.1 4.9 5 7 7.7 6.4 7.8 5.9 8.1 5.4 8.1 4.9 8.2 4.5 8.3 4.1 8.2 3.7 8.2 3.4 8.2 3 8.1 3.5 10.8 2.3 8 2.6 10.6 1.7 7.9 1.8 10.5 1.1 7.9 1.1 10.4 0.6 10.4 0.3 10.4 0 12-285.9 0z" fill="#e8a756"/>
<path d="M142.8 1138.2l0.1-7.1 0.6-9.4 1-9.4 1.5-9.5 1.4-7 2.2-9.5 2.6-9.4 3-9.6 3.5-9.6 3.8-9.7 4.3-10 5.9-12.7 5.3-10.5 5.9-10.9 5-8.3 5.4-8.4 6-8.4 4.3-5.4 4.7-5.3 4.9-5.1 5.3-4.8 5.6-4.5 8.9-5.9 9.5-5 6.6-2.8 6.8-2.3 7-1.8 7-1.2 7.1-0.7 3.6-0.1 3.5 0.1 7.1 0.6 7.1 1.2 6.9 1.8 6.8 2.3 6.6 2.8 6.4 3.2 6.1 3.5 6 3.9 5.7 4.1 5.5 4.4 7.7 6.9 4.9 4.9 6.9 7.4 6.3 7.7 5.9 7.8 5.3 8 4.9 8 4.4 8.1 4 8.1 3.7 8.1 3.3 8 2.9 8 3.5 10.6 2.3 7.8 2.6 10.5 1.6 7.8 1.8 10.3 1.1 7.7 1.1 10.3 0.6 10.2 0.3 10.2 0 12-281.6 0z" fill="#e9aa59"/>
<path d="M144.7 1138.2l0.1-7 0.6-9.3 1-9.3 1.5-9.3 1.4-6.9 2.2-9.3 2.6-9.3 3.1-9.4 3.4-9.4 3.8-9.5 5.4-12.2 4.9-9.9 5.3-10.2 5.9-10.6 4.9-8 5.3-8.1 6-8 4.2-5.3 4.6-5.1 4.9-4.9 5.1-4.6 5.5-4.4 8.7-5.8 6.1-3.3 6.4-2.9 9.8-3.5 6.8-1.8 6.9-1.2 10.4-0.8 3.5 0 6.9 0.5 6.9 1.1 6.7 1.7 6.7 2.2 6.4 2.6 6.3 3 6.1 3.4 5.8 3.7 5.6 4 5.4 4.3 7.7 6.7 4.8 4.6 6.8 7.2 6.2 7.5 5.8 7.6 5.3 7.8 4.8 7.9 4.4 7.9 4 8 3.5 7.9 3.3 7.9 2.9 7.8 3.4 10.4 2.3 7.8 2.5 10.2 1.7 7.7 1.8 10.1 1 7.6 1.1 10.1 0.6 10.1 0.2 10 0 12-277.2 0z" fill="#eaad5c"/>
<path d="M146.7 1138.2l0.1-6.9 0.5-9.1 1-9.2 1.5-9.1 1.4-6.9 2.2-9.1 2.7-9.2 3-9.2 3.4-9.2 3.9-9.3 4.2-9.5 4.8-9.6 5.1-9.8 5.8-10.1 4.7-7.7 5.2-7.8 5.6-7.8 4.1-5.1 4.3-5 4.7-4.8 4.9-4.7 5.2-4.3 8.3-5.9 5.9-3.5 6-3 6.3-2.6 6.5-2.2 6.5-1.7 6.7-1.3 10.2-0.8 6.8 0.1 6.7 0.8 6.7 1.3 6.6 1.8 6.4 2.2 6.2 2.7 6.1 3.1 5.8 3.4 5.7 3.7 5.4 3.9 5.2 4.2 7.3 6.6 4.7 4.6 6.5 7.1 6 7.3 5.6 7.5 8.1 12.8 4.4 7.7 3.9 7.8 3.5 7.8 3.2 7.8 2.9 7.7 3.3 10.2 2.3 7.6 2.5 10.1 1.6 7.5 1.8 10 1 7.4 1.1 9.9 0.6 9.9 0.2 9.9 0 12-272.8 0z" fill="#ebb05f"/>
<path d="M148.6 1138.2l0.1-6.8 0.6-9 1-9 1.4-9 1.4-6.8 2.2-9 2.7-8.9 3-9.1 3.4-9 3.9-9.1 4.3-9.2 4.7-9.4 5.2-9.5 5.7-9.8 4.7-7.4 5.2-7.5 5.5-7.5 4-4.9 8.9-9.4 4.8-4.5 5-4.2 5.4-3.9 5.6-3.5 5.8-3.2 6-2.7 6.2-2.4 6.4-1.9 6.4-1.5 6.6-1 9.9-0.4 6.6 0.4 6.6 0.9 6.5 1.4 6.3 1.9 6.2 2.4 6 2.7 5.9 3.1 5.6 3.4 5.4 3.6 5.3 3.9 5 4.2 7.1 6.4 4.4 4.5 6.3 7 3.9 4.8 5.5 7.3 8.1 12.5 4.2 7.6 3.9 7.6 3.5 7.6 3.1 7.7 2.8 7.5 3.4 10.1 2.1 7.4 2.5 9.9 1.6 7.4 1.8 9.8 2 17.1 0.7 9.7 0.2 9.7 0 12-268.5 0z" fill="#ebb262"/>
<path d="M150.5 1138.2l0.1-6.7 0.6-8.9 1-8.9 1.5-8.8 1.3-6.7 2.3-8.8 2.6-8.8 3-8.8 3.5-8.9 3.8-8.9 4.3-9 4.7-9.1 9.5-16.2 6.2-9.5 5-7.2 5.5-7.2 4-4.7 8.6-9.1 4.7-4.3 5-4.1 5.2-3.7 5.5-3.4 5.6-3.1 5.9-2.7 6-2.3 6.2-1.9 6.3-1.4 6.4-1 9.6-0.5 6.5 0.3 6.4 0.8 6.3 1.3 6.2 1.8 6.1 2.2 5.9 2.6 5.7 2.9 5.6 3.2 5.3 3.6 5.1 3.7 5 3.9 7 6.3 4.3 4.3 6.2 6.8 3.9 4.6 5.4 7.2 3.4 4.8 4.6 7.4 4.2 7.4 3.8 7.5 3.4 7.5 3.1 7.4 2.8 7.5 3.3 9.8 2.1 7.4 2.5 9.7 3.3 16.9 2 16.7 0.7 9.6 0.2 9.5 0 12-264.2 0z" fill="#ecb565"/>
<path d="M152.5 1138.2l0.1-6.6 0.5-8.7 0.7-6.6 1.4-8.7 1.3-6.6 2.1-8.6 2.5-8.7 2.9-8.7 3.4-8.6 3.7-8.7 7.6-15.3 5-8.9 5.5-9 6-9.1 4.9-6.9 9.1-11.4 6.1-6.7 4.3-4.3 4.6-4.1 4.8-3.9 5.1-3.7 5.3-3.3 5.6-2.9 5.7-2.6 5.8-2.3 6-1.8 6.2-1.5 6.2-0.9 9.4-0.7 6.3 0.3 6.2 0.7 6.2 1.2 6 1.7 6 2 5.7 2.5 5.7 2.7 5.4 3.1 5.3 3.4 7.5 5.4 4.7 3.9 6.7 6.1 4.3 4.3 5.9 6.6 3.7 4.6 5.2 7 7.7 12 4 7.3 3.6 7.3 6.2 14.7 2.6 7.3 3.1 9.6 2.1 7.2 2.3 9.5 3.1 16.6 1.8 16.4 0.7 16.4 0 12-259.8 0z" fill="#edb768"/>
<path d="M154.4 1138.2l0.1-6.5 0.5-8.6 0.7-6.5 1.4-8.5 1.3-6.5 2.1-8.5 2.5-8.5 3-8.5 3.3-8.5 3.8-8.5 7.6-14.9 9-15 5.9-8.7 4.7-6.6 8.8-11 5.8-6.5 4.1-4.2 9-7.9 4.8-3.6 5.1-3.3 5.3-3.1 5.4-2.7 5.7-2.3 5.7-2 5.9-1.6 6-1.2 6.1-0.8 6.1-0.4 6.1 0.2 6.1 0.6 6 1.1 5.9 1.5 5.8 2 5.7 2.2 5.5 2.7 5.3 2.9 5.2 3.2 7.4 5.2 4.7 3.7 6.6 5.9 4.2 4.2 5.8 6.4 3.7 4.4 5.1 6.8 7.6 11.7 3.9 7.1 3.6 7.2 6.1 14.4 2.6 7.2 3 9.4 4.3 16.4 3.1 16.2 1.8 16.2 0.7 16.1 0 12-255.5 0z" fill="#eeb96a"/>
<path d="M156.6 1138.2l0-6.4 0.6-8.4 0.7-6.4 1.3-8.4 1.3-6.3 2.1-8.4 4.6-14.6 3.3-8.3 3.6-8.3 7.3-14.6 8.7-14.6 5.7-8.5 4.5-6.4 5-6.4 5.3-6.4 5.7-6.2 4.1-4.1 8.8-7.6 4.7-3.5 5-3.2 5.1-2.9 5.3-2.6 5.5-2.3 5.7-2 5.7-1.5 5.9-1.2 5.9-0.8 6-0.3 5.9 0.1 6 0.6 5.8 1.1 5.8 1.4 5.7 1.9 5.5 2.2 5.4 2.5 5.2 2.8 5.1 3.1 7.2 5.1 4.6 3.6 6.5 5.8 4 4 5.8 6.3 3.6 4.3 5 6.6 7.5 11.4 3.9 6.9 3.5 7 6 14.1 2.6 7 3 9.2 4.2 16.1 3 15.9 1.8 15.8 0.6 15.8 0 12-250.6 0z" fill="#eebb6d"/>
<path d="M158.7 1138.2l0.1-6.2 0.5-8.4 0.7-6.2 1.4-8.3 1.2-6.2 2.1-8.2 4.6-14.3 3.2-8.1 3.6-8.2 7.2-14.2 8.6-14.3 5.6-8.2 4.5-6.2 8.3-10.4 9.4-10 6.2-5.7 4.4-3.6 4.7-3.4 4.8-3.1 5-2.8 5.2-2.5 5.4-2.2 5.5-1.9 5.6-1.5 5.7-1.2 5.8-0.8 5.8-0.3 5.8 0.1 5.8 0.6 5.7 1 5.7 1.4 5.5 1.8 5.4 2.1 5.3 2.5 5.1 2.7 4.9 3 7.1 4.9 4.5 3.6 6.3 5.5 4 3.9 5.7 6.1 3.5 4.2 5 6.5 7.3 11 3.8 6.8 3.5 6.8 5.9 13.7 2.6 6.9 3 9 4.1 15.7 3 15.6 1.7 15.5 0.6 15.5 0 12-245.9 0z" fill="#efbe6f"/>
<path d="M160.8 1138.2l0.1-6.1 0.6-8.2 0.7-6.1 1.3-8.2 1.3-6 2-8.1 2.5-8 2.8-8 3.3-8 3.6-7.9 7.3-13.9 8.7-14 5.6-8 4.6-6 8.4-10 5.5-5.8 3.9-3.8 6.3-5.3 4.4-3.4 4.7-3.1 4.8-2.8 5-2.6 5.2-2.3 5.3-2 5.4-1.6 5.5-1.4 5.6-0.9 5.6-0.5 5.7-0.2 5.7 0.4 5.6 0.7 5.5 1.2 5.5 1.5 5.3 1.9 5.2 2.2 5.1 2.5 4.9 2.8 4.7 3 6.8 4.9 4.3 3.5 6.1 5.6 3.8 3.8 5.4 6 8.1 10.4 7 10.9 3.6 6.6 3.3 6.7 5.7 13.3 2.5 6.7 2.8 8.8 3.4 13.2 2.9 15.3 1.7 15.1 0.6 15.2 0 12-241.2 0z" fill="#efc072"/>
<path d="M162.9 1138.2l0.1-6 0.6-8 0.7-6 1.3-8 1.3-6 2-7.9 4.5-13.7 3.1-7.8 3.5-7.8 7.1-13.6 8.4-13.5 5.4-7.8 4.4-5.9 8-9.6 9.1-9.4 6-5.2 4.3-3.3 9-6 7.3-3.8 5-2.3 5.2-1.9 5.2-1.6 5.4-1.2 5.5-1 5.5-0.5 5.5-0.1 5.5 0.3 5.5 0.7 5.4 1.1 5.3 1.5 5.2 1.8 5.1 2.1 4.9 2.4 4.8 2.7 4.6 3 6.7 4.7 4.1 3.4 6 5.4 3.8 3.7 5.2 5.8 8 10.2 6.8 10.5 3.6 6.4 3.3 6.5 5.7 13 2.4 6.5 2.7 8.7 3.4 12.8 2.9 15 1.6 14.9 0.6 14.8 0 12-236.5 0z" fill="#f0c275"/>
<path d="M165.1 1138.2l0.1-5.9 0.5-7.9 0.7-5.9 1.4-7.8 3.2-13.6 4.5-13.4 3.1-7.6 3.4-7.6 7-13.3 8.3-13.2 5.3-7.6 4.3-5.6 7.9-9.4 9-8.9 5.9-5.1 4.1-3.2 8.9-5.7 7-3.7 4.9-2.1 5.1-1.8 5.1-1.6 5.2-1.2 5.3-0.9 5.4-0.6 5.4-0.1 5.3 0.3 5.4 0.6 5.2 1.1 5.2 1.4 5.1 1.8 5 2 9.4 5 4.6 2.8 6.4 4.6 4.1 3.3 5.8 5.2 8.9 9.3 7.8 9.8 6.7 10.2 3.6 6.2 3.2 6.3 5.6 12.7 2.3 6.4 2.8 8.4 3.3 12.6 2.8 14.6 1.6 14.6 0.6 14.5 0 12-231.7 0z" fill="#f1c478"/>
<path d="M167.2 1138.2l0.1-5.8 0.6-7.7 0.7-5.8 1.3-7.7 3.2-13.2 4.5-13.2 5.5-13 6.8-13 7.9-12.9 5.1-7.3 4.2-5.5 9.3-10.8 8.7-8.6 5.8-4.8 4.1-3.1 8.6-5.5 6.9-3.5 4.8-2 9.9-3.3 5-1.2 5.2-0.9 5.2-0.5 5.2-0.2 5.3 0.3 5.1 0.6 5.2 1 5 1.4 5 1.6 4.8 2 9.3 4.8 4.4 2.7 6.3 4.5 4 3.1 5.7 5.1 8.6 9 7.6 9.5 6.7 9.9 3.5 6.1 3.2 6.1 5.5 12.3 2.3 6.2 2.8 8.2 3.2 12.4 2.8 14.3 1.5 14.2 0.5 14.2 0 12-226.9 0z" fill="#f1c67a"/>
<path d="M169.3 1138.2l0.1-5.7 0.6-7.6 0.7-5.6 1.3-7.5 3.3-13 4.3-12.9 5.5-12.7 6.7-12.6 7.8-12.6 5.1-7.1 4.1-5.3 9.1-10.4 8.6-8.3 5.7-4.6 4-2.9 8.4-5.2 6.7-3.4 4.6-2 9.6-3.1 5-1.2 5-0.9 5-0.5 5.1-0.1 5.1 0.2 5 0.6 5 0.9 4.9 1.3 4.9 1.6 4.7 1.9 9 4.6 4.3 2.6 6.1 4.3 3.9 3.1 5.6 4.9 8.4 8.7 7.5 9.2 6.5 9.6 3.5 5.9 3.2 5.9 5.4 12 2.3 6.1 2.7 8 3.3 12 2.6 14 1.5 13.9 0.5 13.9 0 12-222.2 0z" fill="#f2c87d"/>
<path d="M171.4 1138.2l0.6-11.1 0.6-5.6 1.2-7.4 3-12.7 4.2-12.6 5.3-12.5 6.4-12.3 7.5-12.2 4.9-6.9 4-5.1 8.7-10.1 8.3-8 9.3-7.4 6-3.9 4.1-2.4 6.6-3.2 4.5-1.9 9.3-3.1 4.8-1.1 4.9-0.8 4.9-0.5 4.9-0.2 4.9 0.2 4.9 0.5 4.9 0.9 4.8 1.3 4.6 1.5 4.6 1.8 4.5 2.1 6.4 3.6 4.1 2.6 5.9 4.3 9 7.8 8.1 8.5 7.2 9.1 6.2 9.3 6.3 11.5 5.2 11.7 4.2 11.7 3.2 11.8 2.6 13.6 1.4 13.6 0.5 13.6 0 12-217.5 0z" fill="#f2cb80"/>
<path d="M173.6 1138.2l0.5-10.9 0.6-5.5 1.2-7.2 3.1-12.5 4.1-12.3 5.2-12.1 6.3-12 7.5-11.8 4.8-6.8 3.9-4.9 8.6-9.7 8.1-7.7 9.1-6.9 7.8-5 6.3-3.2 4.3-1.9 9-3.1 6.9-1.8 4.7-0.8 4.8-0.5 4.8-0.2 4.8 0.2 4.7 0.5 4.7 0.8 4.7 1.2 9 3.2 4.3 2 6.3 3.4 7.8 5.3 9 7.4 8.1 8.1 4.4 5.1 4.1 5.3 6.2 9 6.2 11.2 5.1 11.3 4.1 11.5 3.2 11.4 2.5 13.4 1.4 13.3 0.5 13.2 0 12-212.7 0z" fill="#f3cd83"/>
<path d="M175.7 1138.2l0.5-10.7 0.7-5.3 1.2-7.1 3-12.2 4.1-12 5.1-11.8 6.2-11.7 7.4-11.5 4.7-6.5 3.8-4.8 8.5-9.3 8-7.3 8.9-6.6 7.6-4.7 6.1-3.1 4.2-1.8 8.7-3 6.7-1.7 4.6-0.8 4.6-0.5 4.6-0.2 4.7 0.2 4.6 0.5 4.6 0.8 4.5 1.1 8.7 3 4.2 1.9 6.1 3.3 7.7 5 8.8 7.2 7.9 7.8 4.3 5 4 5.1 6 8.7 6.2 10.8 5.1 11 4 11.1 3.1 11.2 2.5 13 1.4 13 0.3 12.9 0 12-207.9 0z" fill="#f4cf86"/>
<path d="M178.2 1138.2l0.5-10.4 1.9-12.1 2.9-11.9 4.1-11.7 5-11.5 6.1-11.3 7.1-11.2 4.7-6.4 3.7-4.6 8.3-9 7.8-7.1 8.6-6.3 7.5-4.5 5.9-2.9 4.1-1.8 8.4-2.8 6.5-1.6 4.5-0.8 4.4-0.4 4.5-0.2 4.5 0.2 4.5 0.4 4.4 0.8 4.4 1.1 8.5 3 4.1 1.8 5.9 3.2 7.4 4.9 8.5 6.9 7.6 7.5 4.2 4.8 3.9 5 5.9 8.4 6 10.4 4.9 10.7 4 10.8 3 10.8 2.4 12.7 1.4 12.6 0.4 12.5 0 12-202.4 0z" fill="#f4d189"/>
<path d="M180.7 1138.2l0.5-10.2 1.8-11.7 3-11.6 4-11.4 2.7-6.4 3-6.3 6.1-11 7.1-10.9 7-9.1 6.7-7.3 7.4-6.9 8.3-6.3 9-5.4 9.7-4.5 8.2-2.7 6.3-1.5 4.3-0.7 8.7-0.5 4.4 0.1 4.3 0.5 8.5 1.8 8.2 2.9 4 1.8 5.7 3.1 7.2 4.7 8.2 6.6 7.4 7.4 4.1 4.6 3.8 4.7 5.7 8.2 5.8 10.1 4.8 10.3 3.9 10.5 2.9 10.5 2.4 12.2 1.3 12.2 0.4 12.2 0 12-196.8 0z" fill="#f5d38b"/>
<path d="M183.2 1138.2l0.5-9.9 1.8-11.4 2.9-11.3 4-11 5.6-12.4 5.9-10.7 6.9-10.6 6.9-8.8 6.5-7.1 7.2-6.6 8.1-6 8.7-5.2 9.5-4.3 7.9-2.5 6.2-1.4 4.1-0.7 8.4-0.5 8.4 0.7 8.2 1.8 8 2.8 3.8 1.7 5.5 3 8.6 5.7 7.8 6.6 7.1 7.2 6.2 7.5 5.6 7.9 5.7 9.8 4.6 10 3.8 10.1 2.8 10.1 2.4 11.9 1.3 11.8 0.3 11.8 0 12-191.2 0z" fill="#f5d58e"/>
<path d="M185.7 1138.2l0.5-9.6 1.8-11.2 2.9-10.9 3.9-10.7 5.5-12 5.7-10.4 6.8-10.3 6.6-8.5 6.4-6.9 7-6.4 7.9-5.7 8.5-5 9.1-4 7.7-2.4 6-1.3 4-0.6 8.1-0.4 8.1 0.7 7.9 1.7 7.7 2.7 3.7 1.7 5.3 2.8 8.3 5.6 7.6 6.3 6.8 6.9 7.2 8.8 5.2 7.7 5.4 9.4 4.4 9.7 3.5 9.8 2.7 9.8 2.1 11.5 1 9.8 0.4 11.4 0 12-185.7 0z" fill="#f5d790"/>
<path d="M188.2 1138.2l0.5-9.4 1.5-9.3 2.7-10.6 3.7-10.4 4.5-10.2 6.2-11.6 6.4-9.9 6.3-8.4 6.1-6.6 6.7-6.3 7.5-5.6 8.1-4.9 8.8-4 7.3-2.4 5.7-1.4 3.9-0.6 7.8-0.6 7.9 0.4 7.7 1.4 7.4 2.4 3.6 1.5 5.3 2.7 8.1 5.1 7.5 6 6.7 6.5 7.2 8.4 6.1 8.8 5.2 9.2 4.3 9.3 3.4 9.4 2.6 9.5 2.1 11.1 1 9.5 0.3 11 0 12-180.1 0z" fill="#f6d993"/>
<path d="M190.7 1138.2l0.5-9.1 1.5-9 2.7-10.4 3.6-10 4.4-9.9 6-11.2 6.3-9.6 6.1-8.1 5.9-6.5 6.5-5.9 7.3-5.4 7.9-4.7 8.5-3.7 7.1-2.3 5.5-1.3 3.7-0.6 7.6-0.5 7.5 0.5 7.4 1.4 7.2 2.3 3.5 1.5 5 2.5 7.9 5 7.2 5.7 6.5 6.3 6.9 8 6 8.5 5 8.8 4.1 8.9 3.4 9.1 2.5 9.2 2 10.7 1 9.1 0.3 10.7 0 12-174.5 0z" fill="#f7db96"/>
<path d="M193.2 1138.2l0.5-8.9 1.5-8.7 2.6-10 3.6-9.8 4.3-9.5 5.9-10.8 6-9.4 6-7.8 5.7-6.2 6.4-5.7 7-5.1 7.7-4.4 8.2-3.5 6.9-2.2 8.9-1.7 7.2-0.4 7.3 0.4 7.1 1.4 6.9 2.3 8.2 3.8 7.6 4.8 6.9 5.5 6.3 6 6.7 7.7 5.7 8.2 4.9 8.4 4 8.6 3.2 8.7 2.5 8.8 2 10.4 1 8.8 0.3 10.3 0 12-169 0z" fill="#f7dd99"/>
<path d="M195.7 1138.2l0.5-8.6 1.5-8.5 2.2-8.3 3.4-9.5 4.7-10.5 5.7-10.5 5.9-9 5.8-7.5 5.5-6 6.2-5.5 6.8-4.8 7.5-4.2 7.9-3.3 6.6-2 8.6-1.5 7-0.4 7 0.5 6.8 1.4 6.6 2.1 7.9 3.7 7.3 4.6 6.7 5.2 6 5.8 6.4 7.4 5.6 7.8 4.7 8.1 3.9 8.3 3.1 8.4 2.4 8.4 2 10 0.9 8.5 0.3 9.9 0 12-163.4 0z" fill="#f8df9c"/>
<path d="M198.2 1138.2l0.5-8.3 1.5-8.2 2.1-8.1 3.4-9.1 4.7-10.2 5.5-10.1 5.6-8.7 5.7-7.3 5.3-5.7 6-5.2 6.7-4.7 5.7-3.1 7.6-3.3 6.3-2 8.2-1.6 6.7-0.4 6.7 0.3 3.3 0.5 4.9 1 6.4 2.1 7.5 3.5 7 4.4 6.4 5 5.8 5.5 6.2 7.1 5.3 7.5 4.6 7.7 3.8 7.9 3 8.1 2.3 8.1 1.9 9.6 0.9 8.2 0.3 9.5 0 12-157.8 0z" fill="#f8e19f"/>
<path d="M200.7 1138.2l0.5-8.1 1.4-7.9 2.2-7.8 3.3-8.8 4.6-9.8 5.3-9.7 5.5-8.4 5.5-7 5.1-5.5 5.9-5 6.4-4.4 5.5-2.9 7.3-3.1 6.1-1.8 7.9-1.4 6.4-0.4 6.4 0.4 7.9 1.5 6.1 2 7.2 3.4 6.7 4.1 6.1 4.8 5.6 5.2 5.9 6.8 5.2 7.1 4.4 7.4 3.6 7.6 3 7.7 2.3 7.8 1.8 9.2 0.9 7.8 0.3 9.2 0 12-152.3 0z" fill="#f9e3a1"/>
<path d="M203.2 1138.2l0.5-7.8 1.4-7.7 2.2-7.5 3.2-8.5 4.5-9.4 5.2-9.4 5.3-8 5.2-6.8 5.1-5.2 5.6-4.8 4.9-3.3 6.6-3.5 7.1-2.8 5.9-1.7 7.5-1.3 6.1-0.3 6.2 0.4 7.5 1.5 5.8 2 6.9 3.2 6.4 3.9 5.8 4.6 5.4 5 5.7 6.4 5 6.8 4.2 7 3.5 7.3 2.9 7.3 2.2 7.5 1.8 8.8 0.8 7.5 0.3 8.8 0 12-146.7 0z" fill="#f9e5a4"/>
<path d="M205.7 1138.2l0.4-6.3 1.2-7.4 2.1-7.3 3-8.2 4.3-9.1 5.6-10.1 5.1-7.8 5.1-6.4 4.9-5 4.3-3.7 4.7-3.2 6.3-3.5 6.7-2.7 5.6-1.6 7.2-1.3 5.8-0.3 5.8 0.2 7.2 1.3 7 2.2 6.5 3.1 6.2 3.8 5.6 4.3 5.1 4.7 5.4 6.1 4.8 6.4 4.1 6.7 3.4 6.9 2.8 7.1 2.1 7.1 1.7 8.4 0.9 7.2 0.2 8.4 0 12-141.1 0z" fill="#fae7a7"/>
<path d="M208.2 1138.2l0.4-6.1 1.2-7.2 2-6.9 3.1-7.9 4.2-8.7 5.4-9.7 4.9-7.5 4.9-6.1 4.7-4.8 4.2-3.5 4.5-3 6.1-3.2 6.4-2.5 5.4-1.4 6.8-1.1 5.6-0.3 5.6 0.3 6.8 1.3 6.6 2.1 6.2 2.9 5.8 3.6 5.4 4 4.9 4.5 5.2 5.8 4.6 6.1 3.9 6.3 3.3 6.6 2.6 6.7 2.1 6.8 1.7 8 0.8 6.9 0.3 8 0 12-135.6 0z" fill="#fbe9aa"/>
<path d="M215.2 1138.2l0.3-5.5 1.1-6.4 1.8-6.3 2.8-7.1 3.8-7.8 4.8-8.8 4.5-6.7 4.4-5.5 4.2-4.3 3.7-3.2 4.1-2.7 5.5-2.9 5.8-2.2 4.8-1.3 6.2-1 5-0.2 5 0.3 6.2 1.1 5.9 1.9 5.6 2.7 5.2 3.1 4.9 3.7 4.3 4 4.8 5.2 4.1 5.5 3.5 5.7 2.9 5.9 2.5 6 1.8 6.2 1.5 7.2 0.8 6.2 0.2 7.2 0 12-122 0z" fill="#fbeaad"/>
<path d="M222.2 1138.2l0.3-4.9 1-5.7 1.6-5.6 2.4-6.3 3.4-7 4.3-7.7 3.9-6 3.9-4.9 3.8-3.8 3.3-2.8 3.6-2.4 4.9-2.6 5.2-2 4.2-1.1 5.5-0.9 4.5-0.2 4.5 0.2 5.4 1 5.3 1.8 5 2.3 4.6 2.8 4.3 3.3 3.9 3.5 4.2 4.7 3.7 4.8 3.1 5.1 2.6 5.3 2.2 5.3 1.6 5.5 1.4 6.4 0.6 5.5 0.2 6.4 0 12-108.4 0z" fill="#fcecb0"/>
<path d="M229.2 1138.2l0.2-4.3 0.9-5 1.4-4.9 2.1-5.5 2.9-6.1 3.8-6.8 3.5-5.2 3.4-4.3 3.3-3.4 2.9-2.4 3.2-2.1 4.2-2.2 4.5-1.8 3.8-1 4.8-0.8 3.9-0.1 3.9 0.2 4.8 0.9 4.6 1.5 4.4 2 4 2.5 3.8 2.8 3.4 3.2 3.7 4 3.1 4.3 2.8 4.4 2.3 4.6 1.9 4.7 1.4 4.7 1.2 5.6 0.6 4.9 0.1 5.6 0 12-94.8 0z" fill="#fceeb3"/>
<path d="M236.1 1138.2l0.2-3.6 0.8-4.4 1.2-4.1 1.8-4.8 2.5-5.2 3.3-5.8 2.9-4.5 3-3.7 2.8-2.9 2.5-2 2.7-1.9 3.7-1.9 3.8-1.5 3.2-0.8 4.2-0.7 3.3-0.1 3.3 0.1 4.1 0.8 4 1.3 3.7 1.7 3.5 2.2 3.2 2.4 3 2.7 3.1 3.4 2.7 3.7 2.4 3.8 2 4 1.6 4 1.2 4 1 4.8 0.5 4.2 0.2 4.8 0 12-81.4 0z" fill="#fcf0b6"/>
<path d="M243.1 1138.2l0.2-3 0.6-3.6 1-3.5 1.5-4 2.1-4.3 2.7-4.9 2.5-3.7 2.4-3.1 2.4-2.4 2.1-1.7 2.2-1.5 3.1-1.6 3.2-1.2 2.7-0.8 3.4-0.5 2.8-0.2 2.8 0.2 3.4 0.6 3.3 1.1 3.1 1.5 2.9 1.7 2.7 2.1 2.4 2.2 2.7 2.9 2.2 3 2 3.2 1.6 3.3 1.4 3.3 1 3.4 0.8 4 0.5 3.5 0.1 4 0 12-67.8 0z" fill="#fdf1b9"/>
<path d="M250.1 1138.2l0.1-2.4 0.5-2.9 2.1-5.9 3.8-7.4 2-3 1.9-2.5 3.6-3.3 4.2-2.4 4.7-1.6 5-0.6 2.2 0.2 2.8 0.5 2.6 0.8 2.5 1.2 4.5 3 4 4.1 3.4 5 2.4 5.3 1.5 5.9 0.4 6 0 12-54.2 0z" fill="#fdf3bc"/>
<path d="M257.1 1138.2l0.4-4 1.6-4.4 2.8-5.6 3-4 2.6-2.5 3.2-1.9 3.6-1.2 3.7-0.4 3.7 0.5 3.9 1.5 3.3 2.3 3.1 3.1 2.5 3.7 1.8 4 1.1 4.4 0.3 4.5 0 12-40.6 0z" fill="#fef5bf"/>
<path d="M264 1138.2l0.4-2.7 1-2.9 1.9-3.7 2-2.7 1.7-1.7 2.2-1.2 2.3-0.8 2.5-0.3 2.5 0.3 2.5 1 2.3 1.6 2 2 1.7 2.5 1.2 2.7 0.7 2.9 0.3 3 0 12-27.2 0z" fill="#fef6c2"/>
<path d="M271 1138.2l0.7-2.8 1.9-3.2 2-1.5 2.4-0.5 1.2 0.2 1.3 0.5 2.2 1.8 1.4 2.5 0.5 3 0 12-13.6 0z" fill="#fff8c5"/>
</g>
<path d="M109.7 1138.2l0.08-17.68 0.3-14.96 0.51-15.36 0.77-15.97 1.06-16.79 1.41-17.88 1.43-15.31 1.77-16.4 2.17-17.73 2.69-19.33 2.43-15.74 2.86-17 3.38-18.44 4.02-20.09 3.15-14.37 1.84-7.3 2.1-7.21 2.42-7 2.76-6.69 3.12-6.31 3.48-5.87 3.81-5.41 4.13-4.95 4.4-4.5 4.67-4.02 4.93-3.49 5.17-2.91 5.41-2.23 5.61-1.58 5.77-0.97 5.87-0.41 5.95 0.07 5.98 0.49 5.98 0.84 5.97 1.12 5.92 1.34 5.87 1.5 5.8 1.65 5.74 1.78 5.67 1.93 5.59 2.06 5.52 2.19 5.44 2.31 5.35 2.43 5.27 2.54 5.17 2.64 5.09 2.74 4.99 2.84 4.9 2.93 4.8 3.01 4.7 3.09 9.11 6.38 8.72 6.63 4.22 3.39 8.13 6.92 3.91 3.51 7.56 7.13 3.63 3.61 6.99 7.27 3.36 3.66 6.46 7.35 3.1 3.69 5.95 7.4 2.86 3.7 5.47 7.39 5.17 7.38 4.89 7.36 6.8 10.98 4.21 7.27 3.96 7.23 5.49 10.76 3.37 7.11 3.16 7.06 2.95 7.01 2.76 6.96 2.56 6.9 2.38 6.86 2.2 6.8 2.03 6.76 1.87 6.7 1.7 6.66 1.56 6.62 1.41 6.58 1.27 6.53 1.65 9.73 1.76 12.84 0.7 6.38 0.83 9.53 0.73 12.63 0.2 6.3 0.11 9.43M117.5 1138.2l0.2-11.21 0.68-14.07 0.88-11.37 1.49-14.44 1.93-14.84 2.37-15.4 2.83-16.16 3.33-17.2 3.88-18.58 3.64-16.08 3.17-12.84 3.66-13.57 4.26-14.28 3.24-9.91 1.75-5.06 3.85-10.29 2.12-5.17 2.26-5.15 2.43-5.11 2.59-5.04 2.77-4.93 2.96-4.81 3.13-4.66 3.32-4.49 3.51-4.3 3.68-4.08 3.86-3.83 4.03-3.56 4.2-3.26 4.36-2.94 4.5-2.59 4.65-2.22 4.76-1.84 4.86-1.5 4.93-1.16 4.99-0.87 5.04-0.57 5.07-0.29 5.08-0.03 5.09 0.23 5.08 0.49 5.07 0.74 5.04 0.98 5 1.2 4.96 1.42 4.91 1.62 4.84 1.82 4.78 1.98 4.7 2.15 4.63 2.29 4.55 2.43 4.47 2.55 4.38 2.66 8.51 5.59 8.15 5.89 3.94 3.04 7.63 6.2 7.3 6.34 3.52 3.21 6.81 6.49 3.29 3.28 6.33 6.62 3.05 3.33 5.87 6.72 2.82 3.38 5.41 6.8 2.6 3.41 4.98 6.85 6.94 10.31 6.34 10.33 5.75 10.33 5.21 10.28 4.69 10.22 2.86 6.77 2.66 6.72 3.64 10.01 2.2 6.61 2.02 6.57 2.75 9.75 1.63 6.45 1.5 6.39 1.35 6.36 1.22 6.31 2.07 12.51 1.6 12.38 1.14 12.28 0.72 12.21 0.26 9.12 0.05 6.08M127.06 1138.2l0.29-10.53 0.74-10.54 1.13-10.55 0.71-5.3 1.22-7.98 2.45-13.44 2.94-13.74 3.39-14.2 3.9-14.82 3.59-12.41 4.11-12.96 4.73-13.57 4.04-10.61 4.52-10.99 5.07-11.38 3.75-7.74 2-3.9 4.29-7.81 4.7-7.76 2.52-3.82 2.63-3.78 2.76-3.7 2.87-3.62 3-3.51 3.13-3.4 3.25-3.27 3.37-3.11 3.49-2.95 3.61-2.76 3.72-2.57 3.82-2.37 3.92-2.16 4.01-1.94 4.08-1.73 4.16-1.52 4.21-1.32 4.26-1.12 4.3-0.92 4.34-0.72 4.37-0.51 4.38-0.3 4.39-0.08 4.39 0.14 4.39 0.35 4.37 0.56 4.35 0.77 4.31 0.96 4.28 1.15 4.22 1.33 4.18 1.5 4.13 1.66 4.06 1.81 3.99 1.94 3.93 2.07 3.86 2.19 3.78 2.3 3.71 2.39 7.18 5.04 3.48 2.64 6.73 5.44 6.42 5.66 3.1 2.88 5.99 5.87 5.7 5.97 2.74 3.01 5.29 6.09 2.54 3.07 4.88 6.18 6.83 9.36 6.26 9.43 5.71 9.46 5.2 9.47 4.72 9.45 4.25 9.4 3.84 9.34 3.43 9.27 2.09 6.14 1.92 6.1 2.61 9.09 1.57 6.02 1.42 5.98 2.46 11.87 1.97 11.75 1.51 11.66 1.07 11.59 0.64 11.54 0.22 11.52M138.93 1138.2l0.11-7.28 0.22-4.86 0.35-4.85 1.04-9.71 1.49-9.7 1.92-9.72 2.33-9.75 2.72-9.8 3.12-9.9 3.52-10.03 4.98-12.8 4.46-10.54 6.23-13.66 5.6-11.41 4.65-8.8 5.15-8.94 3.74-5.99 1.98-2.99 4.17-5.93 4.49-5.83 4.82-5.66 5.17-5.42 5.5-5.12 2.88-2.43 2.96-2.33 3.04-2.23 3.11-2.11 3.19-2 3.26-1.88 3.33-1.75 3.38-1.63 3.44-1.51 3.5-1.38 3.53-1.26 3.58-1.12 3.62-0.99 3.65-0.85 3.68-0.7 3.71-0.55 3.72-0.4 3.73-0.23 3.74-0.05 3.73 0.12 3.73 0.29 3.71 0.45 3.69 0.62 3.66 0.78 3.63 0.93 3.6 1.08 3.55 1.21 3.51 1.35 3.45 1.47 3.41 1.58 6.63 3.5 6.4 3.87 6.16 4.19 5.89 4.47 5.64 4.7 2.73 2.42 5.25 4.97 5 5.12 2.41 2.6 4.64 5.28 6.5 8.08 5.98 8.23 5.48 8.33 4.99 8.38 4.55 8.41 4.14 8.39 3.75 8.36 3.4 8.32 3.05 8.27 1.86 5.48 1.72 5.47 2.34 8.15 2.67 10.8 1.69 8.05 1.85 10.68 1.1 7.97 1.08 10.6 0.65 10.56 0.23 10.56M154.42 1138.2l0.08-6.47 0.54-8.63 0.71-6.46 1.34-8.59 1.3-6.42 2.1-8.54 2.52-8.51 2.94-8.49 3.35-8.48 3.76-8.48 4.19-8.51 3.44-6.4 4.97-8.57 4.06-6.47 5.85-8.7 4.76-6.58 5.1-6.61 3.63-4.39 5.82-6.47 4.15-4.19 4.37-4.05 4.61-3.85 4.83-3.63 5.06-3.34 5.27-3.03 5.46-2.7 5.63-2.36 5.78-1.99 5.9-1.62 5.99-1.22 6.07-0.79 6.11-0.32 3.05 0.02 3.06 0.14 6.08 0.63 6.01 1.09 5.92 1.52 5.81 1.92 5.66 2.29 5.51 2.61 5.34 2.92 5.15 3.19 2.51 1.68 4.87 3.53 4.67 3.73 2.27 1.93 4.37 3.99 4.17 4.13 5.89 6.43 3.66 4.41 5.13 6.8 3.16 4.63 4.37 7.06 3.95 7.15 3.56 7.19 3.21 7.21 2.88 7.18 2.6 7.14 3.06 9.46 2 7.05 2.29 9.34 1.45 6.97 1.59 9.27 0.93 6.92 0.91 9.22 0.53 9.21 0.14 6.9M175.7 1138.2l0.15-5.35 0.4-5.34 0.63-5.33 1.19-7.05 1.14-5.26 1.85-6.95 1.63-5.18 2.47-6.84 2.08-5.1 3.08-6.74 3.42-6.69 2.8-4.98 4.05-6.6 3.28-4.91 4.74-6.5 3.83-4.81 4.11-4.71 4.39-4.6 4.69-4.43 3.3-2.84 5.2-4.07 3.64-2.55 3.77-2.41 3.91-2.25 6.07-3.07 4.2-1.81 4.29-1.62 4.39-1.41 4.47-1.17 2.26-0.5 4.57-0.79 4.61-0.51 4.64-0.19 4.64 0.14 4.61 0.48 4.57 0.79 4.51 1.11 4.42 1.39 4.33 1.66 4.21 1.92 2.06 1.04 4.03 2.24 3.89 2.43 3.76 2.61 3.62 2.75 5.16 4.39 3.26 3.06 4.63 4.77 4.32 4.95 4.01 5.09 2.51 3.46 3.52 5.27 3.23 5.36 2.94 5.43 2.67 5.49 2.4 5.52 2.15 5.56 1.89 5.57 1.65 5.58 1.43 5.59 1.2 5.58 1.28 7.44 0.73 5.56 0.67 7.41 0.29 5.54 0.11 7.38M208.23 1138.2l0.05-2.43 0.29-3.64 0.52-3.61 0.74-3.57 0.92-3.52 1.08-3.46 1.22-3.41 1.83-4.46 2.01-4.39 2.17-4.34 2.92-5.38 2.51-4.3 2.71-4.29 2.2-3.18 2.36-3.13 2.54-3.04 2.74-2.92 1.95-1.86 2.03-1.78 2.13-1.68 2.22-1.58 2.31-1.46 2.38-1.36 3.7-1.82 2.54-1.08 3.9-1.4 2.66-0.78 2.7-0.67 4.11-0.76 2.76-0.35 2.78-0.2 2.79-0.07 2.79 0.09 2.78 0.25 2.75 0.39 4.08 0.87 2.68 0.75 3.91 1.39 2.55 1.07 3.69 1.83 2.38 1.35 3.44 2.2 2.19 1.57 3.16 2.49 2.01 1.75 2.87 2.73 2.69 2.83 2.53 2.94 2.37 3.02 2.2 3.09 2.03 3.15 1.88 3.2 1.73 3.25 1.56 3.3 1.41 3.33 1.27 3.36 1.11 3.38 0.96 3.4 0.81 3.42 0.87 4.58 0.48 3.45 0.34 3.45 0.2 3.44 0.06 4.6" fill="none" stroke="#000" stroke-width="0.92" stroke-linejoin="round"/>
</g>
<rect x="93.40" y="702.60" width="444.00" height="444.80" fill="none" stroke="#848484" stroke-width="1"/>
<path d="M102.10 1147.40v-4.2M102.10 702.60v4.2M93.40 1138.20h4.2M537.40 1138.20h-4.2M119.86 1147.40v-2.5M119.86 702.60v2.5M93.40 1120.41h2.5M537.40 1120.41h-2.5M137.62 1147.40v-2.5M137.62 702.60v2.5M93.40 1102.62h2.5M537.40 1102.62h-2.5M155.38 1147.40v-2.5M155.38 702.60v2.5M93.40 1084.84h2.5M537.40 1084.84h-2.5M173.13 1147.40v-4.2M173.13 702.60v4.2M93.40 1067.05h4.2M537.40 1067.05h-4.2M190.89 1147.40v-2.5M190.89 702.60v2.5M93.40 1049.26h2.5M537.40 1049.26h-2.5M208.65 1147.40v-2.5M208.65 702.60v2.5M93.40 1031.47h2.5M537.40 1031.47h-2.5M226.41 1147.40v-2.5M226.41 702.60v2.5M93.40 1013.69h2.5M537.40 1013.69h-2.5M244.17 1147.40v-4.2M244.17 702.60v4.2M93.40 995.90h4.2M537.40 995.90h-4.2M261.92 1147.40v-2.5M261.92 702.60v2.5M93.40 978.11h2.5M537.40 978.11h-2.5M279.68 1147.40v-2.5M279.68 702.60v2.5M93.40 960.33h2.5M537.40 960.33h-2.5M297.44 1147.40v-2.5M297.44 702.60v2.5M93.40 942.54h2.5M537.40 942.54h-2.5M315.20 1147.40v-4.2M315.20 702.60v4.2M93.40 924.75h4.2M537.40 924.75h-4.2M332.96 1147.40v-2.5M332.96 702.60v2.5M93.40 906.96h2.5M537.40 906.96h-2.5M350.72 1147.40v-2.5M350.72 702.60v2.5M93.40 889.17h2.5M537.40 889.17h-2.5M368.48 1147.40v-2.5M368.48 702.60v2.5M93.40 871.39h2.5M537.40 871.39h-2.5M386.23 1147.40v-4.2M386.23 702.60v4.2M93.40 853.60h4.2M537.40 853.60h-4.2M403.99 1147.40v-2.5M403.99 702.60v2.5M93.40 835.81h2.5M537.40 835.81h-2.5M421.75 1147.40v-2.5M421.75 702.60v2.5M93.40 818.02h2.5M537.40 818.02h-2.5M439.51 1147.40v-2.5M439.51 702.60v2.5M93.40 800.24h2.5M537.40 800.24h-2.5M457.27 1147.40v-4.2M457.27 702.60v4.2M93.40 782.45h4.2M537.40 782.45h-4.2M475.02 1147.40v-2.5M475.02 702.60v2.5M93.40 764.66h2.5M537.40 764.66h-2.5M492.78 1147.40v-2.5M492.78 702.60v2.5M93.40 746.87h2.5M537.40 746.87h-2.5M510.54 1147.40v-2.5M510.54 702.60v2.5M93.40 729.09h2.5M537.40 729.09h-2.5M528.30 1147.40v-4.2M528.30 702.60v4.2M93.40 711.30h4.2M537.40 711.30h-4.2" fill="none" stroke="#848484" stroke-width="1"/>
<text x="102.10" y="1168.40" font-size="19" text-anchor="middle" fill="#000">0.0</text><text x="90.80" y="1144.10" font-size="19" text-anchor="end" fill="#000">0.0</text><text x="173.13" y="1168.40" font-size="19" text-anchor="middle" fill="#000">0.2</text><text x="90.80" y="1072.95" font-size="19" text-anchor="end" fill="#000">0.2</text><text x="244.17" y="1168.40" font-size="19" text-anchor="middle" fill="#000">0.4</text><text x="90.80" y="1001.80" font-size="19" text-anchor="end" fill="#000">0.4</text><text x="315.20" y="1168.40" font-size="19" text-anchor="middle" fill="#000">0.6</text><text x="90.80" y="930.65" font-size="19" text-anchor="end" fill="#000">0.6</text><text x="386.23" y="1168.40" font-size="19" text-anchor="middle" fill="#000">0.8</text><text x="90.80" y="859.50" font-size="19" text-anchor="end" fill="#000">0.8</text><text x="457.27" y="1168.40" font-size="19" text-anchor="middle" fill="#000">1.0</text><text x="90.80" y="788.35" font-size="19" text-anchor="end" fill="#000">1.0</text><text x="528.30" y="1168.40" font-size="19" text-anchor="middle" fill="#000">1.2</text><text x="90.80" y="717.20" font-size="19" text-anchor="end" fill="#000">1.2</text>
<text x="3.99" y="930.60" font-size="19.00" text-anchor="start">{<tspan font-style="italic">k</tspan><tspan font-size="13.30" dy="3.00" font-style="italic">y</tspan><tspan dy="-3.00" font-style="italic" dx="4.20">H</tspan><tspan font-size="13.30" dy="3.00">0</tspan><tspan dy="-3.00">}</tspan></text>
<text x="288.00" y="1195.90" font-size="19.00" text-anchor="start">{<tspan font-style="italic">k</tspan><tspan font-size="13.30" dy="3.00" font-style="italic">x</tspan><tspan dy="-3.00" font-style="italic" dx="4.20">H</tspan><tspan font-size="13.30" dy="3.00">0</tspan><tspan dy="-3.00">}</tspan></text>
<g font-size="12.80" transform="translate(544.90 923.50) scale(1.0000)">
<text transform="translate(-0.8 8.4) scale(1.3 1.77)" font-size="19" x="0" y="0" stroke="#fff" stroke-width="0.3">{</text>
<text transform="translate(41.6 8.4) scale(1.3 1.77)" font-size="19" x="0" y="0" stroke="#fff" stroke-width="0.3">}</text>
<text x="11.2" y="-4.9" font-style="italic">ω<tspan dx="2.4">H</tspan><tspan font-size="9.5" dy="2.3" font-style="normal">0</tspan></text>
<rect x="10.1" y="-2.6" width="28.2" height="1.1" fill="#000"/>
<text x="18" y="14.1">a<tspan font-size="9.5" dy="1.6" dx="-0.4" font-style="italic">g</tspan></text>
</g>
<g transform="translate(312.60 635.20) scale(1.0000)"><text x="0" y="0" font-size="22.4" text-anchor="middle">Classic Parker with Cooling</text></g>
<g transform="translate(317.40 668.40) scale(1.0000)"><text x="0" y="0" font-size="22.4" text-anchor="middle">m=1.5, <tspan font-style="italic" dx="1.5">β</tspan>=1.25, Λ=3.60352<tspan dy="8.2" font-size="29.5">*</tspan><tspan dy="-8.2" dx="0.3">10</tspan><tspan font-size="15.6" dy="-9.6">−26</tspan><tspan dy="9.6"> ergs cm</tspan><tspan font-size="15.6" dy="-9.6">3</tspan><tspan dy="9.6" dx="1.2"> </tspan><tspan font-style="italic">s</tspan><tspan font-size="15.6" dy="-9.6">1</tspan></text></g>
<rect x="614.90" y="624.40" width="14.60" height="550.30" fill="url(#cmapg)" stroke="#000" stroke-opacity="0.12" stroke-width="0.8"/>
<text x="636.40" y="1181.70" font-size="19" text-anchor="start" fill="#595959">0</text><text x="636.40" y="1037.94" font-size="19" text-anchor="start" fill="#595959">0.1</text><text x="636.40" y="894.19" font-size="19" text-anchor="start" fill="#595959">0.2</text><text x="636.40" y="750.43" font-size="19" text-anchor="start" fill="#595959">0.3</text>
<path d="M629.50 1174.70h4.0M629.50 1145.95h2.6M629.50 1117.20h2.6M629.50 1088.45h2.6M629.50 1059.69h2.6M629.50 1030.94h4.0M629.50 1002.19h2.6M629.50 973.44h2.6M629.50 944.69h2.6M629.50 915.94h2.6M629.50 887.19h4.0M629.50 858.44h2.6M629.50 829.68h2.6M629.50 800.93h2.6M629.50 772.18h2.6M629.50 743.43h4.0M629.50 714.68h2.6M629.50 685.93h2.6M629.50 657.18h2.6M629.50 628.43h2.6" fill="none" stroke="#000" stroke-opacity="0.11" stroke-width="0.9"/>
<text class="pl" x="670.26" y="1209.90" font-size="43.1">(</text>
<text class="pl" transform="translate(683.57 1209.60) scale(1.107 1)" font-size="39.57">d</text>
<text class="pl" x="705.60" y="1209.90" font-size="43.1">)</text>
</g>
<g id="panel-e">
<g clip-path="url(#ce)">
<g filter="url(#blur)">
<rect x="829.8" y="712.0" width="433.9" height="434.2" fill="#265891"/>
<path d="M841.1 1134.2l0-327.4 0.7-11.7 16.4 0.4 16 1.2 15.8 1.9 15.4 2.6 15.1 3.2 14.6 3.8 14.1 4.4 6.9 2.4 13.5 5.2 12.9 5.6 18.4 9.1 11.6 6.5 16.5 10.2 15.2 10.7 14.1 11.1 12.8 11.3 11.8 11.4 10.8 11.4 12.8 15 8.5 11.2 10.1 14.5 8.7 14.1 7.6 13.6 6.6 13.1 6.9 15.7 5.7 14.8 5.6 16.9 4.4 16 3.4 15.1 2.9 16.9 2.1 16.2 1.2 15.8 0.4 17.8 0 12-339.5 0z" fill="#275892"/>
<path d="M841.9 1134.2l0.1-159.5 0.6-165.5 0.8-11.6 8-0.1 15.9 0.5 15.7 1.2 15.4 1.9 15 2.7 14.7 3.3 14.3 3.9 13.9 4.6 6.7 2.4 13.2 5.4 12.7 5.7 18 9.3 11.3 6.6 16 10.4 10 7.1 14.1 11 12.8 11.3 11.8 11.3 10.8 11.4 12.8 15.1 8.5 11.1 10.1 14.6 8.7 14.1 7.6 13.6 6.6 13.1 6.9 15.6 5.7 14.8 5.6 16.9 4.4 16 3.4 15.1 2.9 16.9 2 16.2 1.2 15.8 0.5 17.8 0 12-338.7 0z" fill="#285993"/>
<path d="M842.6 1134.2l0.3-158.8 1.3-163.9 0.8-11.3 15.6-0.4 15.5 0.5 15.3 1.2 15.1 2 14.7 2.8 14.4 3.4 14 4.1 13.6 4.7 6.6 2.6 12.9 5.5 12.4 5.9 17.5 9.5 11.1 6.7 15.6 10.4 9.7 7.2 13.7 11.1 12.5 11.3 11.4 11.3 10.4 11.4 12.4 15 8.2 11.1 9.8 14.4 8.4 14 7.3 13.4 6.3 13 6.7 15.5 5.5 14.7 5.4 16.7 4.2 15.8 3.2 15 2.8 16.8 1.9 16.1 1.1 15.8 0.4 15.5 0 12-338 0z" fill="#2a5a95"/>
<path d="M843.4 1134.2l0.2-102.5 0.6-99.8 1.5-118 0.8-11.2 7.7-0.5 15.3-0.3 15.1 0.5 15 1.3 14.7 2.2 14.5 2.9 14.1 3.6 13.7 4.2 13.3 4.9 12.9 5.5 12.3 5.9 17.6 9.5 11 6.6 15.6 10.3 14.4 10.8 13.3 11.1 12.1 11.3 11.1 11.4 10 11.3 12 15 8 11 9.4 14.3 8.1 13.8 7.1 13.3 6 12.9 6.5 15.3 5.3 14.5 5.1 16.6 4 15.6 3.2 15 2.3 14.3 1.9 16.1 1.1 15.8 0.3 15.5 0 12-337.1 0z" fill="#2b5b97"/>
<path d="M844.1 1134.2l0.3-97.6 0.7-90.2 1.9-118.7 0.2-11.5 0.9-11 15-1.1 15-0.2 14.8 0.6 14.6 1.4 14.5 2.3 14.2 3 13.8 3.8 13.5 4.5 13 5.1 12.6 5.7 12.1 6 17.1 9.6 10.8 6.7 15.1 10.5 14 10.9 12.9 11.1 11.8 11.3 10.7 11.3 9.8 11.3 11.5 14.9 7.7 10.9 9.1 14.2 7.9 13.7 6.7 13.2 5.9 12.7 6.2 15.2 5.1 14.4 4.2 13.7 4 15.7 3.1 14.9 2.4 14.3 1.8 16.1 1.1 15.8 0.4 15.5 0 12-336.4 0z" fill="#2d5c98"/>
<path d="M844.9 1134.2l0.3-97.2 0.9-89.7 2.3-117.4 0.3-11.3 1-10.9 14.7-1.5 14.6-0.6 14.6 0.3 14.5 1.2 14.3 2 14 2.9 13.8 3.6 13.4 4.4 13 5.1 12.6 5.6 12 6 17.1 9.5 10.8 6.7 15.1 10.4 14 10.8 12.9 11.1 11.8 11.3 10.7 11.3 9.8 11.3 11.5 14.8 7.7 11 9.1 14.1 7.8 13.8 6.8 13.2 5.9 12.7 6.2 15.1 5.1 14.4 4.2 13.7 4 15.7 3.1 14.9 2.3 14.3 1.9 16.2 1.1 15.7 0.4 15.5 0 12-335.6 0z" fill="#2e5d9a"/>
<path d="M845.7 1134.2l0.2-92.5 1.1-87.2 2.6-111.8 0.7-21.8 1-10.7 14.3-1.8 7.2-0.6 14.3-0.5 14.4 0.4 14.2 1.4 14 2.2 13.9 3.1 13.5 3.8 13.2 4.7 12.8 5.3 12.3 5.8 11.7 6.2 16.7 9.6 10.5 6.7 14.7 10.5 9.2 7.2 12.9 11.1 11.8 11.3 10.7 11.3 9.7 11.3 11.6 14.8 7.7 10.9 9.1 14.2 7.8 13.7 6.8 13.2 5.9 12.7 6.1 15.1 5.1 14.4 4.2 13.7 4.1 15.7 3.1 14.9 2.3 14.3 1.9 16.2 1.1 15.7 0.3 15.5 0 12-334.7 0z" fill="#305e9c"/>
<path d="M846.4 1134.2l0.3-87.9 1.2-84.8 1.3-54.5 1.8-62.3 0.8-21.4 1-10.5 14-2.3 7.1-0.7 14.1-0.9 7 0 14.1 0.6 14 1.5 13.9 2.5 13.6 3.3 13.3 4.2 12.9 4.9 12.6 5.6 12 6 17 9.3 10.7 6.6 10.2 6.8 14.4 10.6 8.9 7.2 12.5 11.2 11.5 11.2 10.3 11.3 9.5 11.3 8.5 11 7.7 11 9 14.1 7.9 13.7 6.8 13.2 5.8 12.7 6.2 15.2 5.1 14.4 4.2 13.7 4 15.6 3.1 14.9 2.4 14.3 1.9 16.2 1 15.7 0.4 15.5 0 12-334 0z" fill="#325f9e"/>
<path d="M847.2 1134.2l0.3-87.5 1.4-84.4 1.4-54 1.7-51.7 1.3-30.9 1.1-10.4 13.7-2.6 6.9-1 13.8-1.1 6.9-0.3 7 0.1 13.9 0.8 13.8 1.8 13.6 2.7 13.4 3.6 13.1 4.5 12.7 5.2 12.3 5.8 11.7 6.1 16.7 9.5 10.4 6.6 14.7 10.4 13.6 10.8 12.5 11.1 11.4 11.2 10.4 11.3 9.5 11.2 8.5 11.1 7.7 10.9 9 14.2 7.9 13.7 6.8 13.2 5.8 12.6 6.2 15.2 5.1 14.4 4.2 13.7 4 15.6 3.1 14.9 2.3 14.4 1.9 16.1 1.1 15.7 0.4 15.5 0 12-333.2 0z" fill="#3560a1"/>
<path d="M847.9 1134.2l0.4-87.2 0.6-40.8 0.9-43.1 1.7-53.5 1.9-51.1 1.5-30.5 1.1-10.2 13.3-3 13.5-2 13.7-1 6.8-0.1 13.7 0.5 13.7 1.6 13.6 2.6 13.3 3.4 13 4.4 12.7 5.2 12.3 5.8 11.7 6 16.6 9.4 10.4 6.6 10 6.8 13.9 10.7 8.7 7.3 12.1 11.1 11.1 11.3 10.1 11.2 9.1 11.2 8.2 11 7.4 10.8 8.8 14.1 7.6 13.6 6.5 13 5.6 12.6 6 15 4.9 14.2 4 13.6 3.8 15.5 3 14.8 2.2 14.2 1.8 16.1 0.9 13.4 0.3 15.5 0 12-332.4 0z" fill="#3762a3"/>
<path d="M848.7 1134.2l0.4-86.8 0.7-40.6 1-42.8 1.8-53.1 2.2-50.5 1.6-30 1.2-10.1 13-3.3 13.2-2.4 13.4-1.3 6.7-0.3 6.8 0 13.6 0.8 13.5 1.9 13.4 2.9 13.1 3.8 12.9 4.8 12.4 5.5 12 5.9 16.9 9.2 10.7 6.3 10.2 6.7 14.3 10.4 13.2 10.9 12.1 11.1 11.1 11.2 10 11.3 9.2 11.1 8.2 11.1 7.4 10.8 8.8 14 7.5 13.6 6.6 13 5.6 12.6 5.9 15 4.9 14.2 4.1 13.6 3.8 15.5 3 14.8 2.2 14.2 1.8 16.1 0.8 13.4 0.4 15.5 0 12-331.6 0z" fill="#3a63a6"/>
<path d="M849.5 1134.2l0-43.4 0.4-43.1 0.7-40.4 1.2-42.5 2-52.7 2.3-49.8 1.8-29.6 1.3-9.8 12.6-3.8 12.9-2.7 13.2-1.7 13.3-0.5 6.7 0.2 13.5 1.1 13.3 2.2 13.2 3.2 13 4.2 12.6 5.2 12.2 5.7 17.4 9 16.1 9.4 10.2 6.6 9.7 6.9 13.5 10.7 8.5 7.3 11.7 11.1 10.7 11.3 9.8 11.2 8.8 11.1 7.9 10.9 7.2 10.8 8.4 13.9 7.3 13.4 6.3 13 5.5 12.4 5.7 14.8 4.7 14.1 3.8 13.5 3.2 12.8 3 14.8 2.2 14.2 1.7 16.1 0.9 13.4 0.4 15.5 0 12-330.8 0z" fill="#3c65a9"/>
<path d="M850.2 1134.2l0.1-43.2 0.4-43 0.8-40.2 1-36.5 2.1-50.6 2.4-47.6 2.4-38 1.3-9.7 12.3-4.1 12.7-3.1 12.9-2 6.6-0.6 6.5-0.2 6.7 0 13.3 0.9 13.2 2.1 13.2 3 6.5 2 12.8 4.6 12.4 5.5 17.7 8.8 16.5 9.2 10.4 6.4 9.9 6.7 13.9 10.5 8.7 7.2 12.1 11.1 11.1 11.2 10 11.2 9.1 11.1 8.3 11.1 7.4 10.8 8.7 14 7.6 13.6 6.5 13 5.7 12.6 5.9 14.9 4.9 14.3 4 13.5 3.9 15.5 2.9 14.8 2.2 14.2 1.8 16.1 0.9 13.4 0.3 15.5 0 12-330 0z" fill="#3f66ab"/>
<path d="M851 1134.2l0.1-43.1 0.4-42.7 0.9-40 1.1-36.3 2.2-50.2 2.6-47 2.7-37.5 1.3-9.5 12-4.5 6.1-1.8 12.5-2.9 6.4-1 6.5-0.7 6.5-0.4 6.5-0.1 6.6 0.2 13.2 1.3 13.1 2.4 13 3.5 12.8 4.5 12.4 5.5 11.9 5.8 16.8 9 10.7 6.2 10.1 6.5 9.7 6.8 13.5 10.6 8.4 7.3 11.8 11.1 10.7 11.2 9.7 11.2 8.9 11.1 7.9 10.9 7.2 10.8 8.4 13.9 7.3 13.4 6.3 12.9 5.4 12.4 5.7 14.9 4.7 14.1 3.9 13.4 3.1 12.9 3 14.7 2.2 14.2 1.8 16.1 0.8 13.4 0.4 15.5 0 12-329.2 0z" fill="#4167ae"/>
<path d="M851.7 1134.2l0.1-42.9 0.5-42.6 0.9-39.8 1.3-36 2.3-49.8 2.8-46.4 2.9-36.9 1.4-9.4 11.6-4.8 6-2.1 12.3-3.2 6.2-1.2 6.4-0.8 6.4-0.6 6.5-0.2 6.5 0.1 13.1 1.1 13 2.3 13 3.4 12.7 4.5 12.3 5.4 11.9 5.7 16.9 9 10.6 6.2 10.1 6.4 9.7 6.8 13.5 10.6 8.4 7.2 11.8 11.1 10.7 11.2 9.7 11.1 8.8 11.1 8 11 7.2 10.7 8.4 13.9 7.3 13.4 6.3 13 5.4 12.4 5.7 14.8 4.7 14.1 3.9 13.4 3.1 12.9 3 14.8 2.2 14.2 1.7 16 0.9 13.4 0.4 15.5 0 12-328.5 0z" fill="#4469af"/>
<path d="M852.5 1134.2l0.1-42.7 0.5-42.4 1-39.6 1.3-35.9 2.5-49.3 3.1-45.9 3-36.3 1.5-9.1 11.3-5.3 5.8-2.2 5.9-1.9 6.1-1.7 6.2-1.3 6.2-1 6.3-0.7 6.4-0.3 6.5 0 6.5 0.3 6.4 0.6 13 2.1 12.9 3.2 6.4 2.1 12.5 5 12.1 5.6 17.2 8.8 10.9 6 10.3 6.3 9.9 6.6 9.4 6.8 13.2 10.7 8.2 7.3 11.4 11.1 10.3 11.2 9.5 11.1 8.5 11.1 7.6 10.8 7 10.7 8.1 13.7 7 13.3 6.1 12.8 5.2 12.3 5.5 14.7 4.5 13.9 3.7 13.4 3 12.7 2.9 14.7 2 14.1 1.5 13.7 0.9 13.4 0.3 15.5 0 12-327.6 0z" fill="#4669af"/>
<path d="M853.3 1134.2l0.1-42.6 0.5-42.2 1.1-39.4 1.4-35.6 2.2-42.2 3-43.8 3-34.6 1-9.3 1.4-9 11-5.6 5.7-2.4 5.8-2.1 5.9-1.8 6.1-1.5 6.1-1.2 6.3-0.8 6.3-0.5 6.4-0.1 6.4 0.2 6.4 0.5 6.5 0.8 6.4 1.2 6.4 1.4 6.4 1.7 6.4 2.1 12.5 4.9 12.1 5.6 17.2 8.7 10.8 6 10.3 6.2 9.9 6.6 9.4 6.8 13.2 10.6 8.2 7.3 11.4 11.1 10.3 11.1 9.4 11.2 8.6 11 7.6 10.9 6.9 10.6 8.2 13.8 7 13.3 6.1 12.8 5.2 12.3 5.5 14.6 4.5 14 3.7 13.3 3 12.7 2.8 14.7 2.1 14.1 1.5 13.7 0.9 13.4 0.3 15.5 0 12-326.8 0z" fill="#486aaf"/>
<path d="M854 1134.2l0.1-42.4 0.6-42.1 1.1-39.1 1.5-35.4 2.4-41.9 3.2-43.3 3.1-34 1.1-9.2 1.5-8.8 5.3-3.1 5.3-2.9 5.6-2.5 5.7-2.3 5.8-2 5.9-1.7 6-1.3 6.2-0.9 6.2-0.6 6.3-0.2 6.4 0 6.4 0.5 6.4 0.7 6.4 1.1 6.4 1.3 6.4 1.7 6.3 2 12.5 4.9 12.1 5.6 17.1 8.7 10.8 5.9 10.4 6.2 9.8 6.5 9.4 6.8 13.2 10.5 8.1 7.3 11.4 11.1 10.4 11.1 9.4 11.1 8.5 11.1 7.7 10.8 6.9 10.6 8.2 13.8 7 13.3 6 12.8 5.2 12.3 5.5 14.6 4.6 14 3.7 13.3 3 12.7 2.8 14.7 2.1 14.1 1.4 13.7 0.9 13.4 0.4 15.5 0 12-326.1 0z" fill="#4a6baf"/>
<path d="M854.8 1134.2l0.1-42.3 0.6-41.8 1.2-39 1.6-35.2 2.5-41.4 3.4-42.8 3.3-33.5 1.1-9 1.6-8.7 5.1-3.3 5.2-3 5.4-2.8 5.5-2.4 5.7-2.2 5.8-1.8 5.9-1.4 6.1-1.1 6.2-0.7 6.2-0.4 6.3 0 6.4 0.3 6.3 0.7 6.4 0.9 6.4 1.4 6.3 1.6 6.3 2 12.5 4.8 12 5.5 17.2 8.7 16 8.9 10.1 6.3 9.6 6.6 9.1 6.9 12.8 10.7 8 7.3 11 11 10 11.2 9.1 11.1 8.3 10.9 7.4 10.8 6.7 10.6 7.8 13.6 6.8 13.2 5.8 12.6 5 12.2 5.3 14.5 4.3 13.8 3.6 13.2 2.9 12.6 2.7 14.6 1.9 14 1.4 13.7 0.8 13.3 0.2 13.3 0 12-325.2 0z" fill="#4c6caf"/>
<path d="M855.5 1134.2l0.2-42.1 0.6-41.7 1.3-38.8 1.6-34.9 2.7-41.1 3.6-42.3 3.5-33 1.1-8.8 1.7-8.4 4.9-3.5 5-3.3 5.3-2.9 5.4-2.6 5.5-2.3 5.7-2 5.9-1.6 5.9-1.2 6.1-0.9 6.2-0.5 6.2-0.1 6.3 0.3 6.4 0.5 6.3 0.9 6.3 1.3 6.3 1.6 6.3 1.9 12.5 4.8 12 5.5 17.1 8.6 16 8.8 10.1 6.3 9.6 6.6 9.1 6.8 12.8 10.7 7.9 7.3 11.1 11 10 11.2 9.1 11 8.3 11 7.4 10.8 6.6 10.5 7.9 13.7 6.7 13.1 5.9 12.7 5 12.1 5.3 14.5 4.3 13.8 3.6 13.2 2.8 12.7 2.7 14.5 2 14 1.4 13.7 0.8 13.4 0.2 13.2 0 12-324.5 0z" fill="#4e6caf"/>
<path d="M856.3 1134.2l0.1-41.9 0.7-41.5 1.3-38.6 1.8-34.7 2.8-40.8 3.8-41.7 3.6-32.5 1.3-8.6 1.7-8.3 4.7-3.7 4.9-3.4 5-3.1 5.3-2.8 5.4-2.5 5.6-2.1 5.8-1.8 5.9-1.4 6-0.9 6.1-0.6 6.2-0.2 6.2 0.1 6.3 0.5 6.3 0.8 6.3 1.2 6.3 1.6 6.3 1.9 12.4 4.7 12 5.5 17.1 8.5 15.9 8.8 10.1 6.2 9.6 6.6 9.1 6.8 12.8 10.6 7.9 7.2 11.1 11.1 10 11.1 9.1 11.1 8.2 10.9 7.5 10.8 6.6 10.5 7.9 13.7 6.7 13.2 5.8 12.6 5.1 12.2 5.2 14.5 4.4 13.8 3.5 13.1 2.9 12.7 2.7 14.5 2 14 1.3 13.7 0.8 13.4 0.3 13.2 0 12-323.7 0z" fill="#506daf"/>
<path d="M857 1134.2l0.2-41.8 0.7-41.3 1.4-38.4 1.8-34.4 3-40.4 4-41.3 3.8-31.9 1.3-8.5 1.7-8.1 4.6-3.9 4.7-3.6 4.9-3.3 5.2-2.9 5.3-2.7 5.5-2.3 5.6-1.9 5.8-1.5 5.9-1.1 6.1-0.7 6.1-0.3 6.2 0.1 6.2 0.4 6.3 0.7 6.3 1.2 6.2 1.5 6.3 1.8 12.4 4.7 12 5.5 17 8.5 15.9 8.6 10.1 6.2 9.6 6.5 9.1 6.8 12.8 10.6 7.9 7.2 11.1 11.1 10 11.1 9.1 11 8.2 11 7.4 10.8 6.7 10.5 7.8 13.6 6.8 13.2 5.8 12.6 5 12.2 5.3 14.5 4.4 13.8 3.5 13.2 2.9 12.6 2.7 14.5 1.9 14.1 1.4 13.6 0.8 13.4 0.2 13.2 0 12-322.9 0z" fill="#526eaf"/>
<path d="M857.8 1134.2l0.2-41.6 0.7-41.2 1.5-38.1 1.9-34.3 3.1-40 4.1-40.8 1.9-15.3 2.2-16.1 1.3-8.2 1.8-8 4.4-4 4.5-3.8 4.8-3.5 5-3.2 5.2-2.8 5.4-2.4 5.5-2.1 5.7-1.6 5.9-1.2 5.9-0.8 6.1-0.5 6.2 0 6.1 0.3 6.3 0.7 6.2 1.1 6.3 1.4 6.2 1.9 6.2 2.2 12.2 5.1 17.4 8.4 16.3 8.5 10.2 5.9 9.9 6.3 9.3 6.6 8.9 6.9 12.4 10.7 7.7 7.3 10.7 11 9.7 11.1 8.8 11.1 8 10.8 7.1 10.7 6.4 10.5 7.6 13.5 6.5 13 5.6 12.6 4.9 12 4.1 11.5 4.3 13.8 3.6 13.2 2.8 12.6 2.7 14.6 2 14 1.4 13.6 0.8 13.4 0.2 13.2 0 12-322.1 0z" fill="#546faf"/>
<path d="M858.6 1134.2l0.1-41.4 0.8-41 1.5-38 2-34 3.3-39.7 4.3-40.2 1.9-15.1 2.3-15.8 1.5-8 1.8-7.8 4.2-4.3 4.4-4 4.6-3.6 4.9-3.4 5-2.9 5.3-2.6 5.4-2.2 5.6-1.8 5.8-1.3 5.9-1 6-0.5 6.1-0.2 6.2 0.3 6.2 0.6 6.2 1 6.2 1.4 6.2 1.8 6.2 2.2 12.2 5.1 17.4 8.3 16.2 8.5 10.3 5.8 9.8 6.3 9.3 6.6 8.9 6.9 12.4 10.6 7.7 7.3 10.7 11 9.7 11.1 8.8 11 7.9 10.9 7.2 10.7 6.4 10.4 7.6 13.5 6.5 13.1 5.6 12.5 4.8 12 4.2 11.5 4.3 13.8 3.5 13.2 2.9 12.6 2.7 14.6 2 14 1.3 13.6 0.8 13.4 0.3 13.2 0 12-321.3 0z" fill="#5770af"/>
<path d="M859.3 1134.2l0.2-41.3 0.8-40.8 1.6-37.8 2.1-33.7 3.4-39.3 4.5-39.8 2-14.8 2.4-15.5 1.5-7.9 1.9-7.6 4-4.5 4.2-4.1 4.5-3.9 4.7-3.5 5-3.1 5.1-2.8 5.3-2.3 5.6-1.9 5.7-1.5 5.8-1 6-0.7 6-0.2 6.1 0.2 6.2 0.5 6.1 1 6.2 1.3 6.3 1.8 6.1 2.1 12.2 5.1 17.3 8.3 16.2 8.3 10.3 5.9 9.8 6.2 9.3 6.6 8.9 6.8 12.4 10.6 7.7 7.3 10.7 11 9.7 11.1 8.8 11 7.9 10.8 7.2 10.7 6.4 10.5 7.6 13.5 6.5 13 5.6 12.5 4.8 12 4.1 11.6 4.4 13.8 3.5 13.1 2.9 12.6 2.7 14.6 2 14 1.3 13.6 0.8 13.4 0.3 13.2 0 12-320.6 0z" fill="#5a71ae"/>
<path d="M860.1 1134.2l0.2-41.1 0.8-40.6 1.7-37.6 2.2-33.5 3.5-39 4.7-39.2 2.1-14.6 2.5-15.2 1.5-7.7 1.9-7.5 3.9-4.6 4.1-4.4 4.3-4 4.6-3.7 4.8-3.3 5-2.9 5.3-2.5 5.4-2 5.6-1.6 5.8-1.2 5.9-0.7 6-0.4 6 0.1 6.1 0.5 6.2 0.9 6.2 1.3 6.2 1.7 6.1 2.1 12.2 5.1 17.3 8.2 16.2 8.3 10.2 5.8 9.8 6.2 9.3 6.5 8.9 6.8 12.4 10.6 7.7 7.3 10.7 11 9.7 11 8.8 11 7.9 10.9 7.2 10.7 6.4 10.4 7.5 13.5 6.6 13 5.6 12.5 4.8 12.1 4.1 11.5 4.3 13.8 3.6 13.1 2.9 12.7 2.6 14.5 2 14 1.4 13.6 0.8 13.4 0.2 13.2 0 12-319.7 0z" fill="#5e72ad"/>
<path d="M860.8 1134.2l0.2-41 0.9-40.4 1.7-37.4 2.3-33.3 3-32.7 4.6-37.7 4.3-28.6 3-15.1 2-7.3 3.7-4.8 3.9-4.5 4.2-4.2 4.4-3.9 4.7-3.5 4.9-3 5.2-2.7 5.3-2.1 5.6-1.8 5.7-1.2 5.8-0.9 5.9-0.4 6.1 0 6 0.4 6.2 0.8 6.1 1.3 6.2 1.7 6.1 2.1 6.1 2.4 17.7 8 16.5 8.2 10.5 5.6 9.9 6 9.6 6.3 9.1 6.6 8.6 6.9 12.1 10.7 7.4 7.3 10.4 11 6.4 7.4 8.8 11 7.9 10.8 7.1 10.7 6.5 10.4 7.5 13.5 6.5 13.1 5.6 12.5 4.9 12 4.1 11.5 4.3 13.8 3.6 13.2 2.8 12.6 2.7 14.5 2 14 1.3 13.6 0.8 13.4 0.3 13.2 0 12-319 0z" fill="#6174ac"/>
<path d="M861.6 1134.2l0.2-40.8 0.8-36.4 1.6-36.6 2.3-32.5 2.9-31.7 4.4-36.4 4.2-27.5 2.7-14.6 1.7-7.3 2-7.1 3.5-5.1 3.7-4.7 4.1-4.4 4.3-4 4.5-3.6 4.8-3.3 5.1-2.8 5.3-2.3 5.4-1.8 5.7-1.4 5.7-0.9 5.9-0.6 6 0 6 0.3 6.1 0.8 6.2 1.2 6.1 1.6 6.2 2.1 6 2.4 17.7 8 16.5 8.1 10.4 5.6 10 5.9 9.5 6.3 9.1 6.6 8.6 6.9 12.1 10.6 7.4 7.3 10.4 11 6.3 7.3 8.8 11 8 10.9 7.1 10.6 6.5 10.5 7.5 13.5 6.5 13 5.6 12.5 4.8 12 4.2 11.5 4.3 13.8 3.5 13.2 2.9 12.6 2.7 14.5 2 14 1.3 13.6 0.8 13.4 0.3 13.2 0 12-318.2 0z" fill="#6575ab"/>
<path d="M862.4 1134.2l0.2-40.6 0.8-36.3 1.7-36.4 2.3-32.3 3-31.4 2.1-17.3 2.6-18.6 4.3-27.1 2.8-14.3 1.7-7.2 2.1-6.9 3.3-5.2 3.6-4.9 3.9-4.6 4.1-4.2 4.5-3.8 4.7-3.4 4.9-2.9 5.2-2.5 5.4-2 5.5-1.5 5.7-1 5.9-0.6 5.9-0.2 6 0.3 6.1 0.7 6.1 1.2 6.1 1.6 6.2 2 12 5 22.7 10.8 15.8 8.1 10 5.9 9.5 6.2 9.1 6.6 8.6 6.9 12.1 10.6 7.4 7.3 10.4 11 6.3 7.3 8.8 11 8 10.8 7.1 10.7 6.4 10.4 7.6 13.5 6.5 13 5.6 12.5 4.8 12 4.1 11.6 4.4 13.7 3.5 13.2 2.9 12.6 2.7 14.5 1.9 14 1.4 13.6 0.8 13.4 0.2 13.2 0 12-317.3 0z" fill="#6977aa"/>
<path d="M863.1 1134.2l0.2-40.5 0.9-36.1 1.8-36.2 2.3-32 3.2-31.2 2.1-17.1 2.7-18.4 4.4-26.6 2.9-14 1.8-7 2.2-6.8 3.1-5.4 3.4-5.1 3.8-4.7 4-4.4 4.3-4 4.6-3.5 4.8-3.1 5.1-2.6 5.3-2.1 5.5-1.6 5.7-1.2 5.8-0.7 5.8-0.2 6 0.2 6.1 0.6 6 1.1 6.2 1.6 6.1 2 12 5 22.7 10.7 15.7 8.1 10 5.8 9.5 6.2 9.1 6.6 8.6 6.8 12 10.6 7.5 7.2 10.4 11 6.3 7.4 8.8 10.9 8 10.9 7.1 10.6 6.4 10.5 7.6 13.5 6.5 13 5.6 12.5 4.8 12 4.1 11.5 4.3 13.8 3.6 13.1 2.8 12.6 2.7 14.5 2 14 1.4 13.6 0.7 13.4 0.3 13.2 0 12-316.6 0z" fill="#6d79a9"/>
<path d="M863.9 1134.2l0.2-40.3 0.9-35.9 1.8-36.1 2.5-31.8 3.2-30.8 2.3-17 2.7-18.1 4.6-26.2 3-13.8 1.9-6.8 2.1-6.6 3-5.6 3.3-5.2 3.6-5 3.9-4.5 4.1-4.1 4.5-3.8 4.7-3.2 5-2.7 5.3-2.2 5.4-1.8 5.6-1.2 5.7-0.8 5.9-0.3 5.9 0.1 6 0.6 6.1 1 6.1 1.6 6.1 2 12 4.9 22.6 10.6 15.7 8 10 5.8 9.5 6.2 9.1 6.5 8.6 6.8 12 10.6 7.5 7.2 10.3 11 6.4 7.3 8.8 11 7.9 10.8 7.2 10.7 6.4 10.4 7.5 13.5 6.6 13 5.6 12.5 4.8 12 4.1 11.5 4.3 13.8 3.5 13.1 2.9 12.6 2.7 14.6 2 14 1.3 13.5 0.8 13.4 0.3 13.2 0 12-315.8 0z" fill="#717aa7"/>
<path d="M864.6 1134.2l0.2-36.7 0.9-35.5 1.7-35.4 2.4-31 3.1-30 3.9-27.9 5.3-31.2 2.8-13.4 1.7-6.7 1.9-6.6 2.2-6.4 2.8-5.8 3.1-5.5 3.4-5.1 3.8-4.7 4.1-4.3 4.3-3.9 4.7-3.4 4.9-2.8 5.1-2.4 5.4-1.8 5.5-1.4 5.7-0.9 5.8-0.4 5.9 0.1 6 0.5 6 1 6.1 1.5 6.1 2 12 4.9 22.6 10.5 15.7 8 9.9 5.7 9.5 6.2 9.1 6.5 8.6 6.7 12 10.6 7.5 7.2 10.3 11 6.4 7.3 8.8 10.9 7.9 10.9 7.2 10.6 6.4 10.4 7.5 13.5 6.5 13 5.6 12.5 4.8 12 4.2 11.5 4.3 13.8 3.5 13.2 2.9 12.6 2.7 14.5 1.9 14 1.4 13.6 0.8 13.3 0.2 13.2 0 12-315 0z" fill="#757ca5"/>
<path d="M865.4 1134.2l0.2-36.6 0.9-35.3 1.7-35.2 2.5-30.8 3.3-29.7 3.9-27.6 3.1-18.1 2.5-12.6 2.8-13.1 1.7-6.6 2-6.5 2.3-6.2 2.6-6 2.9-5.7 3.3-5.2 3.7-4.9 3.9-4.5 4.2-4 4.6-3.5 4.8-3 5.1-2.5 5.3-2 5.4-1.4 5.7-1 5.7-0.5 5.9 0 6 0.4 6 1 6 1.5 6.1 1.9 6 2.3 17.5 7.8 21.6 10.5 10.1 5.4 9.7 5.9 9.3 6.3 8.8 6.6 8.4 6.9 11.7 10.7 7.2 7.2 10 11 6.2 7.3 8.5 10.9 7.7 10.8 6.9 10.6 6.2 10.3 7.2 13.4 6.3 12.8 5.4 12.4 4.6 11.9 4 11.4 3.4 10.9 3.5 13.2 2.9 12.6 2.6 14.5 2 14 1.4 13.6 0.7 13.3 0.3 13.2 0 12-314.2 0z" fill="#797da3"/>
<path d="M866.7 1134.2l0.2-36.3 0.9-35.1 1.5-30.8 2.4-30.1 3-28.8 2.1-15.8 2.6-16.7 3.1-17.8 2.5-12.5 2.9-12.9 1.7-6.5 1.9-6.4 2.3-6.2 2.6-5.9 2.9-5.6 3.2-5.3 3.6-4.9 3.9-4.5 4.1-4 4.5-3.6 4.8-3 5-2.5 5.2-2.1 5.4-1.5 5.6-1 5.7-0.6 5.8 0 5.9 0.4 5.9 0.8 6 1.4 6 1.9 6 2.2 11.7 4.9 21.9 10.3 15.3 8 9.7 5.9 9.2 6.2 8.8 6.5 8.3 6.8 11.7 10.6 7.2 7.1 10 10.9 6.2 7.3 8.4 10.9 7.7 10.7 6.9 10.5 6.1 10.3 7.3 13.3 6.3 12.9 5.3 12.3 4.7 11.9 3.9 11.3 3.4 11 3.5 13.1 2.9 12.5 2.6 14.5 2 14 1.3 13.5 0.8 13.3 0.3 13.2 0 12-312.6 0z" fill="#7d7ea0"/>
<path d="M868 1134.2l0.1-36.1 1-34.8 1.6-30.6 2.3-29.8 3.2-28.5 2.1-15.6 2.6-16.5 3.1-17.6 2.5-12.4 2.9-12.7 1.7-6.4 2-6.3 2.2-6.2 2.6-5.8 2.8-5.6 3.2-5.3 3.6-4.9 3.8-4.5 4.1-4 4.4-3.6 4.6-3.1 5-2.6 5.1-2 5.4-1.6 5.5-1.1 5.6-0.6 5.8-0.1 5.8 0.3 5.9 0.8 5.9 1.3 6 1.7 5.9 2.1 17.2 7.3 16.2 7.5 15.2 8 9.6 5.8 9.2 6.2 8.8 6.4 8.3 6.7 11.6 10.5 7.2 7.1 10 10.8 6.1 7.2 8.5 10.8 7.6 10.7 6.9 10.5 6.1 10.2 7.3 13.3 6.2 12.8 5.4 12.3 4.6 11.8 3.9 11.4 3.4 10.9 3.5 13.1 2.9 12.5 2.6 14.5 2 13.9 1.3 13.5 0.8 13.3 0.3 13.1 0 12-311 0z" fill="#82809e"/>
<path d="M869.2 1134.2l0.2-35.8 1-34.6 1.6-30.3 2.4-29.5 3.2-28.3 2.2-15.4 2.6-16.4 3.2-17.3 2.5-12.2 2.9-12.6 1.7-6.3 1.9-6.3 2.2-6 2.6-5.9 2.8-5.5 3.1-5.2 3.5-4.9 3.7-4.5 4.1-4.1 4.3-3.7 4.6-3.1 4.9-2.6 5.1-2.1 5.3-1.6 5.4-1.1 5.6-0.7 5.6-0.2 5.8 0.2 5.8 0.7 5.9 1.2 5.9 1.7 11.6 4.2 16.8 7.2 15.8 7.5 9.9 5.3 9.6 5.8 9.2 6.1 8.7 6.4 8.3 6.6 11.6 10.4 7.2 7 9.9 10.7 6.2 7.2 8.4 10.8 7.6 10.6 6.9 10.4 6.1 10.3 7.3 13.2 6.2 12.8 5.3 12.2 4.6 11.8 4 11.3 3.3 10.9 3.5 13.1 2.9 12.5 2.6 14.4 2 13.9 1.3 13.5 0.8 13.2 0.2 13.1 0 12-309.4 0z" fill="#86819b"/>
<path d="M870.5 1134.2l0.2-35.6 1-34.3 1.7-30.1 2.4-29.2 3.3-28.1 2.1-15.2 2.7-16.1 3.2-17.2 2.5-12 2.9-12.4 1.7-6.2 4.2-12.2 2.5-5.8 2.7-5.5 3.1-5.2 3.4-4.9 3.7-4.5 4-4.2 4.3-3.6 4.5-3.2 4.8-2.6 5-2.2 5.2-1.6 5.4-1.2 5.5-0.8 5.6-0.2 5.7 0.1 5.8 0.7 5.8 1.1 5.8 1.6 11.6 4 16.6 7 15.7 7.3 9.9 5.3 9.6 5.7 9.1 6.1 8.7 6.3 8.2 6.5 11.6 10.2 7.2 7 9.9 10.7 6.1 7.1 8.4 10.7 7.6 10.6 6.9 10.4 6.1 10.2 7.2 13.2 6.3 12.7 5.3 12.2 4.6 11.8 3.9 11.3 3.4 10.9 3.5 13 2.8 12.5 2.6 14.3 2 13.9 1.3 13.4 0.8 13.2 0.2 13.1 0 12-307.8 0z" fill="#8b8299"/>
<path d="M871.8 1134.2l0.2-35.3 1-34.1 1.7-29.8 2.5-29 3.3-27.8 2.2-15 2.6-16 3.3-16.9 2.5-11.8 3-12.3 1.7-6.1 4.1-12.1 2.4-5.7 2.8-5.5 3-5.2 3.4-4.9 3.6-4.5 3.9-4.2 4.2-3.7 4.5-3.2 4.7-2.6 5-2.2 5.1-1.8 5.3-1.2 5.5-0.8 5.5-0.3 5.6 0.1 5.8 0.5 5.7 1.1 5.8 1.4 11.4 3.8 11.1 4.5 15.9 7 15 7.8 9.5 5.6 9.1 6 8.7 6.3 8.2 6.4 11.5 10.1 7.1 7 10 10.5 6.1 7.1 8.4 10.7 7.6 10.5 6.8 10.3 6.1 10.2 7.2 13.2 6.2 12.6 5.4 12.3 4.5 11.7 4 11.2 3.3 10.9 3.5 13 2.8 12.4 2.6 14.4 2 13.8 1.3 13.4 0.7 13.2 0.3 13 0 12-306.2 0z" fill="#8f8496"/>
<path d="M873.1 1134.2l0.2-35.1 1-33.8 1.8-29.6 2.5-28.7 3.3-27.5 2.2-14.9 2.7-15.7 3.3-16.7 2.6-11.7 4.6-18.1 4.1-11.9 2.4-5.7 2.7-5.5 3.1-5.2 3.2-4.8 3.6-4.6 3.8-4.2 4.1-3.7 4.5-3.2 4.6-2.8 4.9-2.2 5.1-1.8 5.2-1.3 5.4-0.8 5.5-0.4 5.6 0 5.6 0.5 5.7 0.9 5.7 1.4 11.3 3.6 11.1 4.3 15.8 6.9 10 5 14.4 8.3 9 5.9 8.6 6.2 8.2 6.4 11.5 9.9 7.1 6.9 9.9 10.5 6.1 7 8.4 10.6 7.6 10.5 6.8 10.3 6.1 10.1 7.2 13.1 6.2 12.7 5.3 12.2 4.6 11.7 3.9 11.2 3.3 10.8 3.5 13 2.8 12.4 2.6 14.3 1.9 13.8 1.4 13.4 0.7 13.1 0.3 13 0 12-304.6 0z" fill="#938594"/>
<path d="M874.3 1134.2l0.3-34.8 1-33.5 1.8-29.4 2.6-28.5 3.4-27.2 2.2-14.7 2.7-15.6 3.3-16.5 2.6-11.5 4.7-17.8 4-11.8 2.4-5.6 2.7-5.5 3-5.1 3.2-4.9 3.5-4.6 3.7-4.2 4.1-3.7 4.3-3.3 4.6-2.8 4.8-2.3 5.1-1.8 5.1-1.4 5.4-0.9 5.4-0.4 5.5-0.1 5.6 0.4 5.6 0.9 5.6 1.2 11.3 3.5 10.9 4 15.7 6.8 10 5 9.6 5.3 9.2 5.8 8.8 6 8.4 6.2 8 6.4 11.1 10 6.9 6.9 9.6 10.4 5.8 7 8.1 10.5 7.3 10.4 6.6 10.3 5.9 10 6.9 12.9 6 12.5 5.1 12 4.4 11.6 3.7 11.1 3.2 10.7 3.3 12.8 2.7 12.3 2.5 14.2 1.5 11.4 1.3 13.3 0.8 13.1 0.2 13 0 12-303 0z" fill="#978691"/>
<path d="M875.6 1134.2l0.3-34.6 1.1-33.2 1.8-29.2 2.6-28.2 3.4-26.9 4-24.7 5.6-27.1 2.8-11.6 3.2-11.8 4-11.6 2.4-5.6 2.7-5.3 2.9-5.2 3.1-4.9 3.5-4.6 3.7-4.2 3.9-3.8 4.3-3.3 4.5-2.8 4.8-2.3 4.9-1.9 5.1-1.4 5.3-1 5.4-0.5 5.4-0.1 5.5 0.3 5.6 0.7 5.6 1.2 5.6 1.5 11 3.6 10.6 4.2 15.4 6.8 9.8 5.2 9.3 5.5 13.3 8.8 8.4 6.1 7.9 6.4 7.5 6.5 7.1 6.8 9.8 10.3 9 10.4 8.1 10.5 7.3 10.3 6.5 10.2 5.9 10 6.9 12.9 5.9 12.5 5.1 11.9 4.4 11.6 3.7 11 3.2 10.7 3.3 12.8 2.7 12.2 2.5 14.2 1.5 11.4 1.3 13.3 0.8 13.1 0.2 12.9 0 12-301.4 0z" fill="#9b878e"/>
<path d="M876.9 1134.2l0.3-34.3 1.1-33 1.8-28.9 2.7-28 3.4-26.6 4.1-24.4 5.6-26.8 2.8-11.3 3.3-11.7 4-11.4 2.3-5.6 2.6-5.3 2.9-5.2 3.1-4.8 3.3-4.6 3.7-4.3 3.9-3.8 4.2-3.4 4.4-2.8 4.7-2.4 4.9-1.9 5.1-1.5 5.1-1 5.3-0.6 5.4-0.2 5.5 0.2 5.5 0.7 5.5 1 5.6 1.4 10.9 3.5 10.6 4 15.2 6.8 9.7 5 9.4 5.5 13.2 8.7 8.3 6.1 7.9 6.2 7.5 6.5 7.1 6.7 9.8 10.2 8.9 10.4 8.1 10.4 7.3 10.3 6.5 10.1 5.9 10 6.9 12.9 5.9 12.4 5.1 11.9 4.4 11.5 3.7 11.1 3.2 10.6 3.3 12.8 2.6 12.2 2.5 14.1 1.5 11.4 1.3 13.3 0.8 13 0.2 12.9 0 12-299.8 0z" fill="#9e888b"/>
<path d="M878.2 1134.2l0.2-34.1 1.2-32.7 1.8-28.7 2.7-27.7 3.6-26.3 4.1-24.1 5.6-26.4 2.8-11.2 3.3-11.5 4-11.3 2.3-5.5 2.6-5.3 2.8-5.1 3-4.9 3.3-4.6 3.6-4.3 3.8-3.9 4.2-3.4 4.4-2.9 4.6-2.4 4.8-2 5-1.5 5.1-1.1 5.2-0.6 5.3-0.3 5.4 0.2 5.5 0.5 5.5 1 10.9 2.8 10.6 3.6 10.4 4.1 10 4.6 9.7 5 9.3 5.4 13.2 8.7 8.3 5.9 7.9 6.2 7.4 6.4 7.1 6.6 9.8 10.2 8.9 10.3 8 10.3 7.3 10.3 6.5 10.1 5.9 9.9 6.8 12.8 6 12.4 5 11.9 4.4 11.5 3.7 11 3.2 10.6 3.3 12.8 2.6 12.2 2.5 14 1.5 11.4 1.3 13.2 0.7 13 0.3 12.9 0 12-298.2 0z" fill="#a28a89"/>
<path d="M879.4 1134.2l0.3-33.8 1.2-32.5 1.9-28.4 2.7-27.5 3.6-26 4.2-23.8 5.7-26 2.8-11.1 3.3-11.3 3.9-11.2 2.3-5.4 5.3-10.4 3-4.9 3.2-4.6 3.5-4.3 3.8-3.9 4-3.4 4.4-3 4.5-2.5 4.8-2 4.9-1.6 5-1.1 5.2-0.7 5.3-0.4 5.3 0.1 5.4 0.5 5.4 0.9 10.8 2.6 10.6 3.4 10.3 4 10 4.5 9.6 5 9.2 5.4 13.2 8.5 8.2 5.9 7.9 6.1 7.4 6.3 7.1 6.6 9.7 10 8.9 10.3 8.1 10.3 7.2 10.2 6.5 10 5.9 9.9 6.8 12.8 5.9 12.4 5.1 11.9 4.3 11.4 3.7 11 3.2 10.6 3.3 12.7 2.6 12.1 2.5 14.1 1.5 11.3 1.3 13.2 0.7 13 0.3 12.8 0 12-296.7 0z" fill="#a58b86"/>
<path d="M880.7 1134.2l0.3-33.6 1.2-32.2 1.9-28.2 2.8-27.2 3.6-25.7 4.3-23.6 5.7-25.6 2.8-10.9 3.3-11.1 3.9-11 2.3-5.4 5.2-10.4 2.9-4.9 3.2-4.6 3.4-4.3 3.7-3.9 4-3.5 4.3-3 4.5-2.5 4.6-2.1 4.9-1.6 5-1.2 5.1-0.8 5.2-0.4 5.3 0 5.3 0.4 5.3 0.7 10.7 2.4 10.5 3.3 10.3 3.9 9.9 4.4 9.6 4.9 9.2 5.4 13.1 8.4 8.2 5.8 7.8 6 7.4 6.3 7 6.5 9.8 10 8.9 10.2 8 10.2 7.2 10.2 6.5 10 5.9 9.8 6.8 12.8 5.9 12.3 5 11.9 4.4 11.4 3.7 10.9 3.1 10.6 3.3 12.6 2.6 12.2 2.5 14 1.5 11.3 1.3 13.2 0.7 12.9 0.2 12.8 0 12-295 0z" fill="#a98c83"/>
<path d="M882 1134.2l0.3-33.3 1.2-32 2-27.9 2.8-27 3.7-25.4 4.2-23.3 5.8-25.2 2.9-10.7 3.3-11 3.8-10.9 2.3-5.4 5.1-10.2 2.8-4.9 3.2-4.7 3.3-4.3 3.7-4 3.9-3.5 4.2-3 4.4-2.6 4.6-2.1 4.8-1.7 4.9-1.3 5.1-0.8 5.1-0.5 5.2-0.1 5.3 0.3 5.3 0.7 5.3 1 10.5 2.6 10.3 3.5 10 4 9.7 4.7 9.4 5.1 9 5.5 12.7 8.4 8 5.8 7.6 6.1 7.2 6.3 6.8 6.5 9.4 10 8.6 10.1 7.7 10.2 7 10.1 6.2 9.9 5.6 9.8 5.1 9.5 5.9 12.2 5 11.9 4.3 11.3 3.7 11 3.2 10.5 3.2 12.6 2.6 12.2 2.5 13.9 1.5 11.3 1.2 13.1 0.8 12.9 0.2 12.8 0 12-293.4 0z" fill="#ac8d80"/>
<path d="M883.3 1134.2l0.3-33.1 1.1-28.4 1.8-27.4 2.7-26.3 3.5-24.8 2.3-13.3 2.7-14 5.8-24.9 2.9-10.5 3.3-10.8 3.9-10.8 2.2-5.3 5-10.2 2.8-4.9 3-4.7 3.3-4.3 3.6-4 3.9-3.6 4.1-3.1 4.3-2.6 4.6-2.1 4.7-1.8 4.9-1.3 4.9-0.9 5.1-0.6 5.2-0.1 5.2 0.2 5.2 0.5 5.3 0.9 10.4 2.5 10.2 3.3 10 4 9.6 4.6 9.4 5.1 8.9 5.3 12.6 8.4 8 5.7 7.6 6 7.2 6.2 6.7 6.5 9.5 9.9 8.5 10.1 7.7 10.1 7 10.1 6.2 9.9 5.6 9.7 5.1 9.4 5.8 12.3 5.1 11.8 4.3 11.3 3.7 10.9 3.1 10.5 3.2 12.6 2.6 12.1 2.5 14 1.5 11.2 1.2 13.1 0.8 12.9 0.2 12.7 0 12-291.8 0z" fill="#b08e7e"/>
<path d="M884.5 1134.2l0.4-32.8 1.1-28.2 1.9-27.2 2.7-26 3.5-24.5 2.3-13.2 2.8-13.8 3.3-14.5 2.6-10 2.9-10.4 3.2-10.6 3.9-10.6 2.1-5.3 5-10.2 2.7-4.9 3-4.6 3.3-4.4 3.5-4.1 3.7-3.6 4.1-3.1 4.3-2.6 4.5-2.3 4.6-1.8 4.8-1.4 4.9-0.9 5-0.7 5.1-0.2 5.2 0.1 5.2 0.5 5.1 0.8 10.4 2.3 10.1 3.1 9.9 3.9 9.6 4.5 9.3 5.1 8.9 5.3 12.6 8.2 8 5.7 7.5 5.9 7.2 6.2 6.7 6.4 9.4 9.8 8.5 10.1 7.7 10 7 10 6.2 9.9 5.6 9.7 5 9.4 5.9 12.2 5 11.8 4.3 11.3 3.7 10.9 3.1 10.4 3.2 12.6 2.6 12.1 2.5 13.9 1.5 11.2 1.2 13.1 0.7 12.8 0.3 12.7 0 12-290.3 0z" fill="#b38f7b"/>
<path d="M885.8 1134.2l0.4-32.6 1.1-28 1.9-26.9 2.8-25.7 3.5-24.3 2.4-13 2.8-13.6 3.3-14.3 2.6-9.9 2.9-10.2 3.3-10.4 3.8-10.5 2.1-5.2 4.9-10.2 2.7-4.8 2.9-4.7 3.2-4.5 3.4-4 3.7-3.7 4-3.1 4.2-2.7 4.4-2.3 4.6-1.8 4.8-1.5 4.8-1 5-0.7 5-0.4 5.1 0.1 10.2 1 10.2 2.1 10.1 3 9.9 3.8 9.5 4.5 9.3 5 8.8 5.3 12.6 8.1 7.9 5.6 7.5 5.9 7.2 6.1 6.7 6.3 9.4 9.8 8.5 9.9 7.7 10 6.9 10 6.2 9.8 5.6 9.7 5 9.4 5.8 12.1 5.1 11.8 4.3 11.3 3.6 10.8 3.1 10.5 3.3 12.5 2.6 12 2.4 13.9 1.4 11.2 1.3 13 0.7 12.8 0.3 12.7 0 12-288.7 0z" fill="#b69078"/>
<path d="M887.1 1134.2l0.4-32.3 1.3-31 2.1-27 3-25.8 3.8-24.4 2.5-13 3-13.6 3.6-14.3 2.7-9.9 3.1-10.2 3.6-10.3 4-10.3 2.3-5.1 5.1-9.9 2.9-4.7 3.1-4.5 3.4-4.1 3.6-3.6 3.9-3.2 4.2-2.8 4.3-2.3 4.5-1.9 4.7-1.5 4.8-1.1 4.9-0.8 5-0.4 5-0.1 5 0.3 10.2 1.4 10.1 2.4 9.9 3.3 9.6 4.1 9.4 4.8 9 5.1 12.8 7.9 11.9 8.2 7.5 5.8 7.1 6 6.8 6.3 6.3 6.4 8.8 9.9 5.4 6.6 7.4 10 6.7 9.9 5.9 9.7 5.4 9.5 6.3 12.4 4.1 8.9 4.9 11.6 4.1 11.2 3.5 10.7 3 10.3 3 12.4 2.5 12 1.9 11.4 1.5 11.2 1.3 13 0.7 12.8 0.2 12.6 0 12-287 0z" fill="#b99075"/>
<path d="M888.4 1134.2l0.4-32.1 1.1-27.5 2-26.4 2.8-25.3 3.7-23.7 2.4-12.7 2.8-13.2 3.4-13.9 2.6-9.6 6.3-19.9 5.8-15.3 4.7-10.1 2.6-4.9 2.8-4.7 3-4.5 3.3-4.1 3.6-3.7 3.8-3.3 4.1-2.8 4.3-2.3 4.4-2 4.6-1.6 4.8-1.2 4.8-0.8 4.9-0.5 5-0.1 5 0.2 10 1.2 10 2.2 9.8 3.2 9.7 4 9.3 4.7 8.9 5.1 12.7 7.9 12 8 7.4 5.7 7.1 6 6.7 6.2 6.4 6.4 8.7 9.8 5.4 6.6 7.4 9.9 6.7 9.8 5.9 9.7 5.4 9.5 6.3 12.3 4.1 9 4.8 11.5 4.1 11.1 3.5 10.7 3 10.4 3.1 12.3 2.4 11.9 1.9 11.5 1.5 11.1 1.3 13 0.7 12.7 0.2 12.6 0 12-285.4 0z" fill="#bd9172"/>
<path d="M889.6 1134.2l0.4-31.8 1.2-27.3 2-26.2 2.9-25 3.7-23.5 2.4-12.5 2.9-13 3.4-13.7 2.7-9.4 6.2-19.6 5.8-15.2 4.6-10 2.5-4.9 2.8-4.7 2.9-4.5 3.2-4.1 3.6-3.8 3.7-3.3 4-2.8 4.3-2.5 4.4-2 4.5-1.6 4.7-1.3 4.7-0.9 4.9-0.5 4.9-0.2 4.9 0 9.9 1 9.9 2.1 9.8 3.1 9.6 3.9 9.3 4.7 8.9 5 12.6 7.8 11.9 7.9 7.5 5.6 7 6 6.7 6.1 6.3 6.3 8.8 9.7 5.3 6.6 7.4 9.9 6.7 9.8 5.9 9.6 5.4 9.5 4.8 9.2 5.6 12 4.8 11.5 4.1 11.1 3.4 10.7 3 10.3 3.1 12.3 2.4 11.9 1.9 11.4 1.5 11.1 1.2 12.9 0.8 12.7 0.2 12.6 0 12-283.9 0z" fill="#c0926f"/>
<path d="M890.9 1134.2l0.4-31.6 1.4-30.2 2.2-26.2 3.1-25.1 4-23.5 2.6-12.5 3.1-13.1 3.6-13.6 2.8-9.4 6.7-19.5 6.1-15 4.8-9.8 2.6-4.8 2.9-4.5 3.2-4.2 3.4-3.8 3.7-3.3 4-2.9 4.1-2.5 4.4-2 4.4-1.7 4.6-1.4 4.7-0.9 4.8-0.7 4.9-0.3 4.8 0 5 0.2 9.8 1.4 9.8 2.4 9.6 3.5 9.4 4.3 9 4.8 12.9 7.7 8.1 5.1 7.8 5.2 7.5 5.6 7 5.8 6.7 6.1 6.3 6.3 8.7 9.6 5.4 6.6 7.3 9.8 6.7 9.7 5.9 9.7 5.4 9.4 4.7 9.2 5.6 11.9 4.8 11.5 4.1 11.1 3.5 10.6 2.9 10.3 3.1 12.3 2.4 11.8 1.9 11.4 1.5 11.1 1.2 12.9 0.7 12.7 0.3 12.5 0 12-282.3 0z" fill="#c3936b"/>
<path d="M892.5 1134.2l0.4-31.3 1.2-26.8 1.2-15.8 1.2-13.2 3.1-24.8 4-23.3 2.5-12.4 3.1-12.9 3.7-13.4 2.8-9.3 6.6-19.2 6-14.7 4.8-9.7 2.7-4.6 2.8-4.5 3.2-4.1 3.4-3.8 3.6-3.3 3.9-2.9 4.1-2.5 4.2-2.1 4.5-1.7 4.5-1.3 4.6-1.1 4.7-0.7 9.6-0.4 4.9 0.2 9.7 1.2 9.6 2.2 9.6 3.4 9.2 4.1 9 4.7 8.6 5 12.3 7.5 7.7 5.2 7.4 5.5 7 5.8 6.6 6 6.3 6.2 8.7 9.6 5.3 6.5 7.3 9.7 6.6 9.7 6 9.5 5.3 9.4 4.7 9.1 5.6 11.8 4.8 11.5 4 11 3.5 10.5 2.9 10.2 3.1 12.3 2.4 11.7 1.9 11.4 1.5 11 1.2 12.8 0.7 12.6 0.3 12.5 0 12-280.1 0z" fill="#c79468"/>
<path d="M894 1134.2l0.4-31 1.3-26.5 2.1-25.4 2.9-24.2 3.7-22.7 2.4-12.1 2.9-12.5 3.4-13.1 2.7-9.1 6.2-18.7 5.7-14.4 4.4-9.6 2.5-4.7 5.5-9 3-4.1 3.4-3.7 3.6-3.3 3.8-2.9 4-2.4 4.2-2.2 4.4-1.7 4.4-1.4 4.6-1.1 4.6-0.8 9.5-0.6 4.8 0.2 9.5 1 9.6 2.2 9.4 3.1 9.2 4 8.9 4.6 8.6 4.9 12.1 7.4 7.7 5.1 7.3 5.5 7 5.7 6.6 6 6.2 6.1 8.6 9.5 5.3 6.4 7.3 9.6 6.6 9.6 5.9 9.4 5.3 9.3 4.7 9.1 5.6 11.8 4.7 11.3 4.1 10.9 3.4 10.6 3 10.1 3 12.2 2.4 11.7 1.9 11.2 1.5 11 1.2 12.8 0.7 12.5 0.3 12.4 0 12-278 0z" fill="#ca9564"/>
<path d="M895.5 1134.2l0.4-27.8 1.4-29.1 2.1-25.1 2.9-24 3.7-22.4 2.4-11.9 2.8-12.5 3.5-12.9 2.6-8.9 6.2-18.4 5.7-14.2 4.4-9.5 2.4-4.6 5.5-8.8 3-4 3.3-3.7 3.6-3.3 3.7-2.8 4-2.5 4.1-2.2 4.3-1.8 4.4-1.4 4.5-1.1 4.5-0.8 9.4-0.8 4.7 0.1 9.4 0.9 9.5 2 9.3 3 9.1 3.8 8.8 4.5 8.5 4.7 12.1 7.4 7.6 5.1 7.3 5.3 6.9 5.7 6.5 5.9 6.2 6.1 8.6 9.3 5.3 6.4 7.2 9.5 6.6 9.5 5.8 9.4 5.3 9.2 4.7 9 5.5 11.7 4.8 11.3 4 10.8 3.5 10.5 2.9 10 3 12.1 2.4 11.7 1.9 11.2 1.5 10.9 1.2 12.7 0.7 12.5 0.3 12.3 0 12-275.9 0z" fill="#ce9661"/>
<path d="M897 1134.2l0.5-27.5 1.4-28.8 2.5-28.1 3-24 3.9-22.5 2.5-12 3.1-12.4 3.6-12.9 2.7-8.9 6.6-18.3 6-14 4.7-9.2 2.6-4.4 2.8-4.2 3-4 3.3-3.6 3.5-3.2 3.7-2.9 3.9-2.5 4-2.2 4.2-1.8 4.3-1.5 4.4-1.2 4.5-0.8 4.6-0.6 9.3-0.3 4.6 0.2 9.4 1.4 9.3 2.3 9.1 3.3 8.9 4.1 8.6 4.5 12.2 7.1 7.7 4.9 7.4 5.2 7.1 5.4 6.7 5.8 6.3 5.9 6 6.1 8.2 9.3 5.1 6.3 7 9.5 6.2 9.4 5.7 9.2 5.1 9.1 5.9 11.8 3.9 8.6 4.5 11 3.9 10.7 3.3 10.3 2.8 9.9 2.9 12 2.3 11.4 1.8 11.1 1.3 10.8 1.2 12.6 0.5 10.3 0.3 12.3 0 12-273.8 0z" fill="#d1975e"/>
<path d="M898.6 1134.2l0.5-30 1.6-28.7 2.6-28.1 3.3-24.1 4.1-22.5 4.7-20.2 3.6-12.8 2.8-8.7 6.5-18 6-13.7 4.6-9 2.6-4.4 2.8-4.1 3-3.9 3.2-3.6 3.4-3.2 3.7-2.9 3.8-2.5 4-2.2 4.1-1.8 4.3-1.6 4.3-1.2 4.4-0.9 4.5-0.7 9.2-0.4 4.6 0.2 9.2 1.1 9.2 2.3 9 3.1 8.8 3.9 8.5 4.4 12.2 7 7.7 4.9 7.3 5.1 7 5.4 6.7 5.6 6.2 5.9 6 6 8.2 9.2 5 6.3 6.9 9.3 6.3 9.3 5.6 9.2 5.1 9 5.9 11.7 3.8 8.6 4.6 11 3.8 10.6 3.3 10.2 2.8 9.9 2.9 11.8 2.3 11.5 1.8 11 1.3 10.7 1.2 12.5 0.5 10.3 0.2 12.2 0 12-271.5 0z" fill="#d4985b"/>
<path d="M900.1 1134.2l0.5-27 1.5-28.2 2.5-27.5 3-23.4 3.9-22 4.4-19.7 3.4-12.4 2.6-8.5 6.1-17.6 5.7-13.5 4.3-8.9 2.4-4.4 5.3-8.3 3-3.9 3.1-3.5 3.4-3.2 3.6-2.9 3.8-2.5 3.9-2.2 4.1-1.9 4.1-1.6 4.3-1.2 4.4-1 4.4-0.7 9-0.6 4.5 0.1 9.1 1 9.1 2.1 8.9 3 4.4 1.8 8.6 4 8.3 4.5 11.8 7 7.5 4.9 7.1 5.2 6.8 5.4 9.5 8.7 5.8 5.9 8.2 9.2 5 6.1 6.9 9.3 6.3 9.2 5.6 9.1 5 9 5.8 11.6 3.9 8.5 4.5 10.9 3.9 10.5 3.2 10.2 2.8 9.8 2.9 11.8 2.3 11.4 1.8 10.9 1.3 10.7 1.2 12.4 0.5 10.2 0.2 12.2 0 12-269.4 0z" fill="#d79959"/>
<path d="M901.6 1134.2l0.5-26.7 1.6-27.9 2.5-27.2 3-23.2 3.8-21.7 4.4-19.4 3.4-12.3 2.6-8.4 6.1-17.3 5.7-13.2 6.7-13 5.2-8.2 2.9-3.8 3.2-3.5 3.3-3.2 3.5-2.8 3.7-2.6 3.9-2.2 4-1.9 4.1-1.6 8.5-2.4 4.3-0.8 8.9-0.7 4.4 0.1 9 0.8 9 1.9 8.9 2.9 8.6 3.6 8.3 4.1 8.1 4.5 7.7 4.6 7.4 4.9 7.1 5.1 6.8 5.4 9.4 8.6 5.8 5.9 8.2 9 4.9 6.1 6.9 9.2 6.2 9.1 5.6 9.1 5 8.8 5.8 11.6 3.9 8.4 4.5 10.8 3.8 10.5 3.3 10.1 2.7 9.7 2.9 11.8 2.3 11.3 1.8 10.9 1.3 10.5 1.2 12.5 0.5 10.1 0.2 12.1 0 12-267.3 0z" fill="#d99a57"/>
<path d="M903.2 1134.2l0.5-26.4 1.6-27.6 2.5-26.9 3.6-26.3 4-21.8 4.6-19.5 3.6-12.2 2.7-8.3 6.5-17.1 5.9-13 4.6-8.5 2.5-4.1 5.6-7.7 3.1-3.4 3.3-3.2 3.5-2.8 3.6-2.5 3.8-2.3 3.9-2 4-1.6 4.1-1.4 8.5-1.9 4.4-0.6 8.8-0.3 8.9 0.7 4.4 0.8 4.4 1 8.8 2.7 8.5 3.5 8.3 4 11.9 6.6 7.5 4.7 7.2 4.9 6.9 5.2 6.5 5.5 9.1 8.6 5.6 5.9 7.8 9 4.8 6 6.6 9.1 6 9 5.3 8.9 4.8 8.8 5.6 11.3 3.7 8.3 4.3 10.7 3.7 10.3 3.1 10 2.7 9.6 2.7 11.5 2.2 11.2 1.7 10.7 1.3 10.5 0.9 10.3 0.5 10.1 0.2 12 0 12-265.1 0z" fill="#db9b56"/>
<path d="M904.7 1134.2l0.6-26.2 1.5-27.3 2.3-23.4 3.3-25.7 3.8-21.2 4.3-19 3.4-11.9 2.5-8.2 6.2-16.7 5.5-12.7 6.7-12.5 5.1-7.9 2.9-3.7 3-3.4 3.3-3.1 3.4-2.9 3.6-2.5 3.7-2.3 3.8-2 4-1.7 4-1.4 8.4-2.1 4.3-0.6 8.6-0.5 8.8 0.6 4.4 0.7 8.7 2.1 8.6 3 8.3 3.6 8.1 4.1 7.7 4.4 7.5 4.6 7.2 4.9 6.8 5.1 6.4 5.4 9.1 8.5 5.6 5.9 7.8 8.9 4.7 6 6.6 9 5.9 8.9 5.4 8.8 4.7 8.7 5.6 11.3 3.7 8.2 4.3 10.6 3.6 10.2 3.2 9.9 2.6 9.6 2.7 11.5 2.2 11 1.7 10.8 1.3 10.4 0.9 10.2 0.5 10 0.2 12 0 12-263 0z" fill="#dd9c54"/>
<path d="M906.2 1134.2l0.6-25.9 1.4-24.2 2.5-26 3.4-25.4 3.7-20.9 4.3-18.7 3.3-11.8 2.6-8 6.1-16.5 5.5-12.4 6.6-12.3 5.2-7.7 2.8-3.6 3-3.4 3.2-3.1 3.3-2.8 3.5-2.6 3.7-2.3 7.6-3.8 4-1.5 8.2-2.2 4.2-0.6 8.6-0.6 8.6 0.4 4.3 0.6 8.6 2 8.5 2.8 8.3 3.5 8 4 7.7 4.3 7.4 4.5 7.1 4.9 6.8 5.1 6.4 5.3 9 8.4 5.6 5.7 7.7 8.9 4.7 5.9 6.6 8.9 5.9 8.9 5.3 8.7 4.7 8.6 5.6 11.2 3.7 8.2 4.2 10.5 3.7 10.2 3.1 9.8 2.6 9.5 2.7 11.4 2.2 11 1.7 10.7 1.3 10.4 0.8 10.1 0.6 10 0.2 11.9 0 12-260.9 0z" fill="#e09d52"/>
<path d="M907.8 1134.2l0.6-25.6 1.4-23.9 2.5-25.7 3.4-25.1 3.6-20.7 4.3-18.5 3.3-11.6 2.6-7.9 6.1-16.1 3.6-8.2 4-8.1 4.5-8 2.5-3.8 5.3-7.3 3-3.3 6.4-5.9 7-4.9 3.7-2.1 7.8-3.3 8.1-2.3 4.1-0.8 8.4-0.7 8.5 0.3 4.3 0.5 8.5 1.8 8.4 2.7 8.2 3.4 7.9 3.8 7.7 4.3 7.3 4.5 7.1 4.7 6.7 5.1 6.4 5.3 8.9 8.2 5.5 5.7 7.7 8.8 4.7 5.8 6.6 8.9 5.8 8.8 5.3 8.6 4.7 8.6 5.6 11.1 3.6 8.1 4.3 10.4 3.6 10.1 3.1 9.8 2.6 9.4 2.7 11.4 2.2 10.9 1.7 10.6 1.3 10.3 0.8 10.1 0.6 10 0.2 11.8 0 12-258.7 0z" fill="#e29e50"/>
<path d="M909.3 1134.2l0.6-25.4 1.7-26.3 2.6-25.6 3.6-25.1 3.9-20.7 4.5-18.5 4.8-15.4 6.1-15.9 3.6-8 4-7.9 4.5-7.8 2.4-3.8 5.3-7.1 2.9-3.3 6.3-5.9 6.9-4.9 3.7-2.1 7.6-3.5 3.9-1.3 8.1-1.9 4.1-0.5 8.3-0.4 8.5 0.6 4.2 0.7 8.4 2.1 8.2 3 8 3.5 7.7 4 7.4 4.2 7.2 4.6 6.8 4.9 6.5 5.1 6.2 5.3 8.6 8.3 5.3 5.7 7.4 8.7 4.6 5.8 6.2 8.7 5.7 8.7 5.1 8.6 4.5 8.4 4.1 8.2 3.6 8 4.2 10.4 3.7 10.1 3 9.7 2.7 9.3 2.7 11.3 2.1 10.9 1.7 10.5 1.3 10.3 0.8 10 0.6 9.9 0.2 11.8 0 12-256.6 0z" fill="#e49f4f"/>
<path d="M910.8 1134.2l0.7-25.1 1.7-26 2.7-25.3 3.5-24.8 3.8-20.5 4.6-18.2 4.7-15.2 6.1-15.5 3.6-7.9 4-7.8 6.8-11.3 5.3-7 2.9-3.2 6.2-5.9 6.7-4.9 3.6-2.2 7.4-3.5 3.9-1.4 7.9-2 4.1-0.6 8.2-0.5 8.3 0.5 4.2 0.6 8.3 1.9 8.1 2.8 7.9 3.4 7.7 3.9 7.4 4.2 7.1 4.5 6.7 4.8 6.5 5.1 6.1 5.2 8.6 8.2 5.3 5.7 7.4 8.5 4.5 5.8 6.2 8.7 5.6 8.6 5.1 8.4 4.5 8.4 4 8.1 3.7 8 4.2 10.3 3.6 10 3.1 9.7 2.6 9.3 2.7 11.2 2.1 10.8 1.7 10.5 1.3 10.2 0.8 10 0.6 9.8 0.2 11.7 0 12-254.5 0z" fill="#e5a04f"/>
<path d="M912.4 1134.2l0.6-24.8 1.8-25.8 2.7-24.9 3.5-24.5 3.8-20.2 4.5-18 4.8-14.9 2.8-7.6 3.2-7.7 3.6-7.7 3.9-7.6 6.9-11.1 5.2-6.8 2.8-3.2 6.1-5.8 6.6-5 3.5-2.2 7.3-3.6 3.8-1.5 7.8-2.1 4-0.7 8.1-0.7 8.2 0.4 4.1 0.5 8.2 1.8 8 2.7 7.9 3.2 7.6 3.8 7.3 4.2 7.1 4.4 6.7 4.8 6.4 5 6.1 5.2 8.5 8.1 5.3 5.5 7.3 8.5 4.5 5.7 6.2 8.6 5.6 8.5 5 8.4 4.5 8.3 4 8.1 3.6 7.9 4.2 10.3 3.6 9.9 3.1 9.5 2.6 9.3 2.7 11.1 2.1 10.8 1.7 10.4 1.2 10.1 0.9 10 0.6 9.8 0.2 11.6 0 12-252.3 0z" fill="#e6a251"/>
<path d="M913.9 1134.2l0.7-24.5 1.6-22.9 2.5-24.4 3.9-27 3.8-19.9 4.5-17.7 4.7-14.8 2.8-7.4 3.2-7.6 3.6-7.5 3.9-7.4 6.8-10.8 5.2-6.8 2.7-3.1 6-5.8 3.2-2.6 6.7-4.6 3.6-2 7.3-3.3 3.8-1.2 7.8-1.8 4-0.5 8-0.3 4.1 0.2 8.1 1.2 8 2.1 7.9 2.8 7.7 3.5 7.4 3.9 7.1 4.2 6.8 4.6 6.5 4.8 6.2 5 5.9 5.2 8.2 8.1 5.1 5.6 7.1 8.4 4.3 5.6 6 8.5 5.3 8.4 4.9 8.3 4.3 8.2 3.8 8 3.5 7.8 4 10.1 3.5 9.7 2.9 9.4 2.5 9.2 2.6 11 1.6 8.5 1.7 10.3 1.2 10.1 0.9 9.9 0.6 9.7 0.2 11.6 0 12-250.2 0z" fill="#e7a453"/>
<path d="M915.4 1134.2l0.6-21.8 1.7-25 2.6-24.1 3.9-26.7 3.8-19.7 4.4-17.4 4.7-14.5 2.9-7.4 3.1-7.3 3.6-7.4 3.9-7.2 6.7-10.6 5.1-6.6 2.8-3.1 5.8-5.8 3.2-2.6 6.5-4.7 3.5-2 7.2-3.4 3.7-1.3 7.7-1.9 3.9-0.6 7.9-0.4 4 0.1 8 1 8 2 7.8 2.7 7.6 3.3 7.3 3.9 7.1 4.1 6.8 4.5 6.5 4.8 6.1 5 5.9 5.1 8.1 8 5.1 5.5 7 8.3 4.3 5.6 5.9 8.4 5.4 8.4 4.8 8.2 4.3 8.1 3.8 7.9 3.5 7.7 4 10.1 3.4 9.6 2.9 9.4 2.5 9.1 2.6 10.9 1.6 8.5 1.7 10.3 1.2 10 0.9 9.8 0.6 9.7 0.2 11.5 0 12-248.1 0z" fill="#e7a655"/>
<path d="M917 1134.2l0.6-21.6 1.5-22.1 2.5-23.6 3.7-26 3.5-19.2 4.1-17 4.5-14.2 2.6-7.2 3-7.2 3.4-7.2 3.7-7.1 4.1-7.1 4.6-6.8 5-6.5 2.7-3 5.8-5.8 3-2.6 6.5-4.7 3.3-2.1 7.1-3.5 3.7-1.4 7.5-2 3.8-0.6 7.9-0.6 3.9 0 7.9 0.9 7.9 1.8 7.7 2.6 7.5 3.2 7.3 3.7 7 4.2 6.7 4.4 6.5 4.7 6.1 4.9 5.8 5.1 8.1 7.9 5 5.4 7 8.3 4.3 5.5 5.9 8.3 5.3 8.3 4.8 8.1 4.3 8.1 3.8 7.8 3.4 7.7 4 9.9 3.4 9.7 3 9.3 2.4 9 2.6 10.8 1.6 8.5 1.7 10.2 1.2 10 0.9 9.7 0.6 9.6 0.2 11.5 0 12-245.9 0z" fill="#e8a857"/>
<path d="M918.5 1134.2l0.8-23.7 1.9-24.5 3.1-26.5 3.6-23.6 3.2-16 4.4-17 4.7-14 2.8-7.1 3.1-7.1 3.6-7 3.9-6.9 4.3-6.8 4.7-6.5 5.2-6.1 2.8-3 5.9-5.4 3.1-2.5 6.5-4.4 3.4-1.9 7.1-3.1 3.7-1.2 7.5-1.7 7.7-0.7 3.9 0 3.9 0.2 7.8 1.2 7.7 2 7.6 2.8 7.3 3.5 7.1 3.8 6.8 4.3 6.5 4.5 6.3 4.7 5.9 5 5.6 5.1 7.8 7.9 4.9 5.4 6.7 8.1 4.1 5.5 5.7 8.3 5.1 8.1 4.6 8.1 4.1 7.9 3.6 7.7 3.3 7.6 3.9 9.8 3.2 9.4 2.8 9.2 2.4 8.9 2.4 10.7 1.6 8.3 1.6 10.1 1.1 9.9 0.9 9.7 0.4 9.5 0.2 9.5 0 12-243.8 0z" fill="#e9aa59"/>
<path d="M921 1134.2l0.6-20.9 1.7-24 2.6-23 3.9-25.5 3.7-18.7 4.4-16.5 4.6-13.7 2.8-6.9 3.1-6.9 3.5-6.8 3.8-6.8 4.3-6.6 4.6-6.4 5.1-6 2.7-2.9 5.7-5.3 3-2.5 6.4-4.3 3.3-1.9 7-3.2 3.5-1.2 7.4-1.8 7.5-0.8 3.8 0 3.8 0.1 7.7 1.1 7.6 1.9 7.4 2.7 7.2 3.2 7 3.8 6.7 4.1 6.4 4.3 6.1 4.7 5.9 4.8 5.5 5 7.7 7.8 4.8 5.3 6.6 8 4.1 5.4 5.5 8.1 5.1 8 4.5 7.9 4.1 7.8 3.6 7.6 3.3 7.5 3.8 9.6 3.2 9.3 2.8 9.1 2.3 8.7 2.4 10.6 1.6 8.2 1.5 10 1.2 9.7 0.8 9.5 0.5 9.4 0.1 9.4 0 12-239.8 0z" fill="#e9ac5b"/>
<path d="M923.5 1134.2l0.7-22.8 1.6-21.3 2.5-22.6 3.4-22 3.5-18 4.1-16 4.3-13.2 5.5-13.5 3.2-6.7 3.6-6.6 4-6.5 4.3-6.4 7.3-9 5.4-5.5 2.8-2.6 6.1-4.6 3.1-2.1 6.6-3.6 3.4-1.5 3.5-1.2 7.2-1.8 7.3-0.9 3.8-0.1 3.7 0.1 7.5 0.9 7.4 1.8 7.3 2.5 7.1 3.1 6.9 3.6 6.6 4 6.3 4.2 6 4.5 5.8 4.8 5.4 4.9 7.6 7.6 4.7 5.2 6.5 7.9 4 5.3 5.5 8 5 7.8 4.5 7.8 4 7.7 3.6 7.4 3.2 7.4 3.8 9.4 3.2 9.2 2.7 8.9 2.3 8.6 2.4 10.5 1.5 8 1.6 9.9 1.1 9.6 0.8 9.4 0.5 9.3 0.1 9.2 0 12-235.8 0z" fill="#eaaf5e"/>
<path d="M926 1134.2l0.6-22.4 1.6-20.8 2.5-22.2 3.3-21.5 3.6-17.6 4.1-15.6 4.3-12.9 5.4-13.1 3.2-6.5 3.5-6.5 3.9-6.4 4.2-6.2 7.1-8.8 5.3-5.4 2.8-2.5 5.8-4.6 3.1-2.1 6.4-3.5 3.4-1.5 3.4-1.3 7-1.9 7.2-1 3.6-0.1 3.7 0 7.3 0.8 7.3 1.7 7.1 2.3 7 3 6.7 3.4 6.5 3.8 6.3 4.2 5.9 4.4 5.7 4.6 5.3 4.8 7.5 7.5 4.6 5.1 6.5 7.8 9.3 13 4.9 7.8 4.5 7.6 3.9 7.5 3.6 7.4 3.2 7.1 3.7 9.4 3.2 9 2.7 8.8 2.2 8.5 2.4 10.2 1.5 8 1.5 9.7 1.2 9.5 0.7 9.2 0.5 9.2 0.2 9.1 0 12-231.9 0z" fill="#ebb160"/>
<path d="M928.5 1134.2l0.5-19.8 1.4-20.3 2.3-21.5 3.2-20.9 3.4-16.9 3.9-15.1 2.9-9.3 2.2-6.3 5.4-12.7 3.1-6.4 3.5-6.3 3.8-6.2 4.1-6 7-8.7 5.1-5.3 2.7-2.4 5.7-4.6 3-2 6.3-3.6 3.2-1.5 3.4-1.3 6.8-1.9 7-1.1 3.6-0.2 3.5 0 7.2 0.6 7.1 1.5 7.1 2.2 6.8 2.8 6.6 3.3 6.4 3.7 6.1 4 5.9 4.3 5.6 4.6 5.2 4.7 7.4 7.3 4.6 5.1 6.3 7.6 9.2 12.8 4.9 7.6 4.3 7.5 7.5 14.6 3.1 7 3.7 9.2 3.1 8.9 2.7 8.7 2.3 8.3 2.3 10.1 3 17.4 1.1 9.4 0.8 9.1 0.6 18 0 12-227.9 0z" fill="#ecb363"/>
<path d="M931 1134.2l0.4-19.4 1.4-19.9 2.3-21.1 3.2-20.4 3.4-16.5 3.9-14.7 2.9-9 2.2-6.2 5.3-12.3 6.5-12.4 3.7-6 4-5.9 4.5-5.7 4.8-5.4 5.2-5 2.7-2.3 5.7-4.2 3-1.9 6.3-3.2 3.2-1.3 3.3-1.1 6.8-1.6 6.9-0.7 3.5-0.1 3.5 0.2 7 0.9 7 1.8 6.8 2.3 6.6 2.9 6.4 3.4 6.1 3.7 5.9 4.1 5.7 4.3 5.3 4.5 5 4.7 7.1 7.3 4.3 5 6.1 7.5 8.8 12.5 4.6 7.5 4.1 7.3 7.1 14.2 3 6.9 3.5 9 3 8.7 2.5 8.4 4 16.1 2.9 17.2 1.1 9.1 0.8 9.1 0.6 17.7 0 12-223.9 0z" fill="#ecb565"/>
<path d="M933.5 1134.2l0.5-21.1 1.4-19.6 2.1-18.5 3.2-19.9 3.4-16.2 3.9-14.2 5.1-14.8 5.2-12 6.3-11.9 3.7-5.9 3.9-5.8 4.4-5.5 4.6-5.3 7.8-7.2 5.5-4.2 3-1.8 6.1-3.2 3.1-1.4 3.2-1.1 6.6-1.7 6.8-0.8 3.4-0.1 3.4 0.1 6.9 0.8 6.8 1.6 6.6 2.2 6.5 2.7 6.3 3.3 6.1 3.6 5.8 3.9 5.5 4.2 5.2 4.4 5 4.6 6.9 7.2 4.3 4.9 6 7.4 8.6 12.2 4.6 7.3 4.1 7.2 7 14 3 6.8 3.4 8.8 3 8.5 2.5 8.3 3.9 15.9 2.9 16.9 1.1 9 0.7 8.9 0.7 17.5 0 12-220 0z" fill="#edb768"/>
<path d="M936 1134.2l0.4-18.6 1.2-19.1 2-18 3-19.2 3.3-15.6 2-8.1 2.5-8.4 5-14.3 5.2-11.7 6.2-11.6 3.6-5.7 3.8-5.6 4.3-5.5 4.5-5.1 7.5-7.1 5.5-4.1 2.8-1.9 5.9-3.2 3.1-1.4 6.3-2.1 3.2-0.8 6.6-0.9 3.4-0.2 3.3 0 6.7 0.7 6.7 1.5 6.5 2 6.4 2.6 6.1 3.1 6 3.5 5.7 3.8 5.4 4.1 5.2 4.3 4.9 4.5 6.8 7.1 4.2 4.8 5.9 7.2 8.5 12.1 4.5 7.1 4.1 7 6.9 13.8 2.9 6.6 3.4 8.7 2.9 8.4 2.5 8.2 3.8 15.6 2.9 16.6 1.1 8.9 0.8 8.8 0.6 17.2 0 12-216 0z" fill="#eeb96a"/>
<path d="M938.5 1134.2l0.3-18.2 1.2-18.7 2-17.6 3-18.8 3.3-15.2 4.5-16 5-13.9 5.1-11.3 4.5-8.5 3.3-5.6 3.6-5.5 4-5.4 4.2-5.2 4.6-4.9 7.6-6.6 5.4-3.8 2.9-1.7 5.9-2.9 3-1.2 6.3-1.9 3.1-0.6 3.3-0.4 6.5-0.3 3.3 0.2 6.5 0.9 6.5 1.6 6.3 2.2 6.2 2.7 5.9 3.2 5.8 3.5 5.4 3.9 5.3 4.1 4.9 4.3 4.7 4.5 6.5 7 4 4.7 5.6 7.1 8.1 11.8 4.3 7 3.9 6.9 6.5 13.3 2.8 6.5 3.3 8.5 4.5 14.2 3.8 15.4 2.9 16.3 1.1 8.8 0.7 8.6 0.6 17 0 12-212 0z" fill="#eebc6d"/>
<path d="M941 1134.2l0.3-17.8 1.2-18.3 1.9-17.2 3-18.4 3.3-14.8 4.5-15.5 5-13.5 5-10.9 4.4-8.2 3.2-5.5 3.6-5.3 3.8-5.3 4.2-5 4.4-4.8 7.4-6.6 5.3-3.8 2.7-1.7 5.7-2.9 3-1.3 6.1-1.9 3.1-0.6 6.3-0.8 3.2-0.1 3.2 0.1 6.4 0.8 6.3 1.5 6.2 2 6 2.6 5.9 3 5.6 3.4 5.4 3.7 5.1 4 4.9 4.3 8.9 8.9 4.1 4.6 5.7 7 5.1 7 4.7 6.9 4.2 6.8 3.8 6.7 6.5 13.2 2.8 6.4 3.2 8.3 4.5 13.9 3.7 15.2 2.8 16.1 1.1 8.6 0.7 8.5 0.6 16.7 0 12-208 0z" fill="#efbe70"/>
<path d="M943.5 1134.2l0.3-17.4 1.1-18 1.9-16.8 2.5-15.6 3.1-14.2 4.3-15 4.7-12.9 6.1-13.3 4.3-7.9 3.2-5.3 7.2-10.3 4-4.9 4.3-4.7 7.2-6.5 7.8-5.5 5.5-2.9 2.9-1.3 5.9-2 3-0.7 6.2-0.9 3.1-0.1 3.1 0 6.2 0.7 6.2 1.3 6.1 1.9 8.8 3.8 5.7 3.1 5.4 3.4 5.2 3.8 4.9 4 4.6 4.3 6.5 6.6 4 4.5 5.6 6.8 5 6.9 4.6 6.7 7.9 13.3 6.5 12.9 2.7 6.3 3.1 8.1 4.5 13.8 3.7 14.8 2.8 15.9 1.8 16.9 0.6 16.4 0 12-204.1 0z" fill="#f0c073"/>
<path d="M946 1134.2l0.2-17 1.1-17.6 1.8-16.4 2.6-15.2 3.1-13.9 4.3-14.5 4.7-12.5 6-12.8 4.2-7.7 3.1-5.1 7-10 3.9-4.8 4.3-4.6 6.8-6.4 5-3.7 5.3-3.3 5.5-2.7 2.8-1.1 5.8-1.7 3-0.6 6.1-0.6 3-0.1 3 0.2 6.1 0.9 6 1.4 5.9 2 8.6 4 5.4 3.1 5.2 3.5 4.9 3.8 4.7 4.1 4.5 4.2 6.2 6.6 9.1 11.1 4.8 6.7 4.4 6.6 7.5 12.9 6.1 12.6 5.6 14.1 4.2 13.4 3.6 14.5 2.6 15.5 1.5 14.9 0.6 16.2 0 12-200.1 0z" fill="#f0c376"/>
<path d="M948.5 1134.2l0.2-16.6 1-17.2 1.8-16 2.6-14.9 3.1-13.4 4.3-14.1 4.7-12.1 5.9-12.3 4.1-7.4 3-5 6.9-9.7 3.8-4.7 4.1-4.5 4.3-4.2 4.7-4 7.5-5.1 5.4-2.7 2.7-1.2 5.7-1.8 2.9-0.6 5.8-0.8 3 0 3 0.1 5.9 0.7 5.9 1.3 5.8 1.8 8.3 3.8 5.4 3 5.1 3.4 4.8 3.7 4.7 3.9 4.3 4.2 6.1 6.4 8.9 10.9 4.8 6.6 4.3 6.4 7.5 12.7 6 12.3 5.5 13.8 4.2 13.2 3.4 14.2 2.6 15.3 1.5 14.7 0.6 15.9 0 12-196.1 0z" fill="#f1c579"/>
<path d="M951 1134.2l0.1-16.2 1-16.8 1.5-13.7 2.4-14.3 3-13 4.1-13.5 4.5-11.6 5.5-11.8 6.8-12 6.4-9.4 7.4-9.2 4-4.3 4.4-4 4.7-3.7 4.9-3.3 5.1-2.8 2.7-1.2 5.5-1.9 2.8-0.7 5.7-0.9 2.9-0.1 2.9 0 5.8 0.6 5.8 1.1 5.6 1.7 8.2 3.5 5.2 2.9 5.1 3.3 4.7 3.6 4.6 3.9 4.2 4 6 6.3 8.8 10.7 8.9 12.7 7.4 12.4 5.9 12.1 5.5 13.5 4.1 13 3.4 14 2.6 15 1.5 14.4 0.5 15.7 0 12-192.1 0z" fill="#f1c77b"/>
<path d="M953.5 1134.2l0.2-15.8 1-16.4 1.5-13.3 2.4-13.9 2.9-12.6 4-13.2 4.3-11.3 5.4-11.6 6.5-11.7 6.3-9.2 7.2-8.9 4-4.2 4.2-3.9 4.6-3.6 4.8-3.2 7.6-3.9 5.3-1.9 2.8-0.7 5.5-0.8 2.9-0.2 2.8 0 5.6 0.6 5.6 1 5.5 1.7 8 3.3 5.2 2.8 4.9 3.2 4.6 3.5 4.5 3.7 4.1 3.9 5.9 6.1 8.6 10.5 8.7 12.4 7.2 12.1 5.9 11.8 5.3 13.2 4 12.7 3.4 13.7 2.5 14.7 1.4 14.1 0.6 15.3 0 12-187.7 0z" fill="#f2c97e"/>
<path d="M956.1 1134.2l0.2-15.4 1-15.9 1.8-14.9 2.4-13.7 3-12.3 4.1-12.9 4.4-11.1 5.4-11.3 6.6-11.4 6.3-9 7.3-8.5 4-3.9 4.3-3.7 4.6-3.3 4.8-2.9 7.5-3.4 5.3-1.5 2.7-0.5 2.8-0.3 5.4-0.2 8.3 0.9 5.4 1.3 5.3 1.8 7.7 3.5 4.9 2.9 4.7 3.2 4.4 3.5 4.2 3.7 4 3.9 5.5 6 8.2 10.1 8.3 12.1 6.8 11.8 5.5 11.4 5 12.9 3.8 12.3 3.2 13.3 2.1 12.7 1.4 13.8 0.5 15 0 12-183.1 0z" fill="#f2cb80"/>
<path d="M958.7 1134.2l0.2-15 1-15.5 1.7-14.4 2.4-13.3 3.5-14.1 4.2-12.6 4.4-10.9 5.5-11.1 6.7-11 6.4-8.7 3.5-4.1 3.8-4 6.2-5.4 4.4-3.2 4.7-2.8 7.4-3.3 5.1-1.5 2.6-0.5 2.7-0.4 5.3-0.2 8 0.9 5.3 1.2 5.2 1.7 7.5 3.4 4.7 2.7 4.6 3.1 4.4 3.4 4.1 3.6 3.9 3.7 5.4 5.9 8 9.8 8.1 11.8 6.6 11.5 5.4 11.2 4.9 12.5 3.7 12 3.1 13 2.1 12.5 1.4 13.5 0.5 14.6 0 12-178.6 0z" fill="#f3cd83"/>
<path d="M961.3 1134.2l0.2-14.6 1-15 1.7-14.1 2.4-12.9 3.4-13.7 4-12.2 4.3-10.6 5.3-10.8 6.5-10.8 6.2-8.4 3.4-4 3.7-3.9 6-5.2 4.3-3.2 4.6-2.7 7.2-3.2 5-1.4 2.5-0.5 2.6-0.4 5.2-0.2 7.8 0.7 5.1 1.2 5 1.6 7.3 3.2 4.7 2.7 4.5 3 4.2 3.2 4 3.5 3.8 3.6 5.3 5.6 7.8 9.6 7.9 11.5 6.5 11.2 5.3 10.9 4.8 12.3 3.6 11.7 3 12.7 2.1 12.1 1.3 13.2 0.5 14.3 0 12-174 0z" fill="#f3ce85"/>
<path d="M963.8 1134.2l0.3-14.2 1-14.6 1.7-13.6 2.3-12.5 3.3-13.3 3.9-12 4.1-10.3 5.2-10.5 6.3-10.5 6-8.1 7-7.7 5.8-5.1 4.2-3 4.4-2.6 7-3.1 7.3-2 7.5-0.6 7.6 0.7 5 1.1 4.9 1.5 7.1 3.1 4.6 2.5 4.3 2.9 8.1 6.4 7.2 7.2 7.9 9.3 7.9 11.1 6.6 11 5.3 10.7 4.9 12.1 3.7 11.4 3.1 12.5 2.3 13.4 1.3 12.8 0.5 14 0 12-169.6 0z" fill="#f4d088"/>
<path d="M966.4 1134.2l0.3-13.8 1-14.2 1.6-13.1 2.3-12.2 3.2-12.9 3.8-11.6 4-10 5-10.2 6.1-10.2 5.8-8 6.8-7.4 5.6-4.9 4.1-2.9 4.3-2.6 6.8-3 7.1-1.9 7.3-0.6 7.3 0.6 4.9 0.9 4.8 1.5 6.9 2.9 4.4 2.4 4.2 2.8 7.9 6.2 7.1 6.9 7.6 9 7.8 10.9 6.4 10.7 5.2 10.4 4.8 11.7 3.6 11.2 3 12.2 2.3 13 1.3 12.6 0.4 13.6 0 12-165 0z" fill="#f4d28a"/>
<path d="M969 1134.2l0.2-13.4 1-13.7 1.7-12.8 2.2-11.8 3.2-12.4 3.6-11.3 3.9-9.7 4.8-10 5.9-9.9 5.6-7.7 6.6-7.2 5.5-4.7 4-2.9 4.1-2.4 6.6-3 6.9-1.8 7.1-0.7 7.1 0.5 4.7 0.9 4.6 1.4 6.8 2.8 4.3 2.3 4.1 2.6 7.7 6 6.8 6.6 7.5 8.8 7.6 10.5 6.3 10.5 5 10.1 4.7 11.4 3.5 10.9 3 11.9 2.2 12.7 1.2 12.2 0.5 13.3 0 12-160.5 0z" fill="#f5d48d"/>
<path d="M971.6 1134.2l0.2-13 1-13.3 1.7-12.3 2.2-11.4 3-12.1 3.5-10.9 3.7-9.5 4.7-9.6 5.7-9.7 5.5-7.4 6.3-7 5.4-4.6 3.8-2.7 4-2.4 6.4-2.8 6.7-1.8 6.8-0.7 6.9 0.4 4.6 0.8 4.5 1.3 6.5 2.6 4.2 2.2 4 2.5 7.5 5.7 6.7 6.5 7.3 8.4 7.4 10.3 6.1 10.1 5 9.9 4.5 11.1 3.4 10.6 2.9 11.6 2.2 12.3 1.2 12 0.4 12.9 0 12-155.9 0z" fill="#f5d68f"/>
<path d="M974.1 1134.2l0.3-12.6 0.9-11.4 1.5-11.9 2.4-12.5 2.9-11.7 3.4-10.5 4.4-11.1 4.7-9.4 5.7-9.3 5.5-7.1 6.4-6.5 5.3-4.3 3.9-2.4 3.9-2.1 6.3-2.5 6.5-1.4 6.7-0.4 6.7 0.7 4.4 0.9 4.3 1.4 6.3 2.7 3.9 2.3 3.9 2.5 7 5.7 6.4 6.3 6.9 8.2 7 10 5.7 9.8 4.7 9.6 4.2 10.7 3.3 10.2 2.7 11.2 1.8 10.7 1.2 11.6 0.4 12.6 0 12-151.5 0z" fill="#f6d892"/>
<path d="M976.7 1134.2l0.3-12.1 0.9-11.1 1.5-11.5 2.3-12.1 2.8-11.2 3.9-12 3.6-9 4.5-9.1 5.6-9 5.3-6.9 6.2-6.2 5.1-4.1 3.7-2.4 3.9-2 6-2.4 6.4-1.4 6.4-0.4 6.5 0.5 4.2 0.9 4.2 1.3 6.1 2.5 3.8 2.2 3.7 2.4 6.9 5.4 6.2 6.1 6.8 7.9 6.8 9.7 5.6 9.5 4.5 9.3 4.1 10.4 3.2 10 2.6 10.9 1.8 10.4 1.1 11.2 0.4 12.3 0 12-146.9 0z" fill="#f6da95"/>
<path d="M979.3 1134.2l0.3-11.7 0.9-10.7 1.5-11.1 2.2-11.6 2.8-10.9 3.7-11.6 3.4-8.6 4.4-8.9 5.3-8.7 5.2-6.6 5.9-6.1 5-3.9 3.6-2.3 3.7-2 5.9-2.2 6.1-1.4 6.2-0.5 6.2 0.4 4.2 0.8 4 1.2 5.9 2.4 3.7 2 3.6 2.3 6.7 5.2 7.5 7.3 6.3 7.8 5.4 7.8 5.5 9.2 4.4 9.1 4 10.1 3.1 9.7 2.6 10.5 1.7 10.1 1.1 11 0.4 11.9 0 12-142.4 0z" fill="#f7dc98"/>
<path d="M981.9 1134.2l0.3-11.3 1-11.6 1.6-10.7 2.3-11.3 3.2-12.2 3.3-9.7 3.4-8.4 4.4-8.6 4.2-6.7 4.9-6.4 5.8-5.8 4.8-3.8 3.5-2.2 3.6-1.9 5.6-2.2 5.9-1.4 6-0.5 6 0.4 4 0.7 3.9 1.1 5.7 2.2 3.6 1.9 3.5 2.2 6.5 4.9 7.2 7.1 6.2 7.4 5.3 7.6 5.3 9 4.3 8.7 3.9 9.8 3 9.4 2.5 10.3 1.7 9.8 1.1 10.6 0.3 11.6 0 12-137.8 0z" fill="#f8de9b"/>
<path d="M984.4 1134.2l0.4-10.9 0.8-9.9 1.7-11.6 2.3-10.8 3.1-11.7 3.1-9.4 3.3-8.1 4.2-8.3 4-6.5 4.8-6.2 5.6-5.6 4.6-3.6 3.4-2.1 3.4-1.8 5.4-2.1 3.8-1 3.8-0.7 5.8-0.3 5.8 0.6 3.8 0.8 3.8 1.1 5.4 2.4 6.8 4 6.1 4.9 6.8 6.9 5.9 7.2 4.9 7.3 5 8.7 4 8.4 3.6 9.5 2.9 9 2.3 9.9 1.5 9.5 1 10.3 0.3 10.1 0 12-133.4 0z" fill="#f8e09e"/>
<path d="M987 1134.2l0.3-9.3 0.9-10.7 1.7-11.1 2.2-10.5 3-11.2 3.5-10.5 3.3-7.9 4.2-8 4.1-6.2 4.8-5.9 5.5-5.1 4.6-3.3 3.3-1.9 3.4-1.6 5.3-1.8 5.4-1.1 5.6-0.4 5.6 0.5 3.7 0.7 3.6 1 5.2 2.2 6.6 3.8 6 4.7 6.6 6.6 5.6 6.9 4.9 7.1 4.8 8.4 3.8 8.1 3.6 9.2 2.8 8.7 2.2 9.6 1.5 9.2 1 10 0.2 9.8 0 12-128.8 0z" fill="#f9e2a1"/>
<path d="M989.6 1134.2l0.3-9 0.9-10.2 1.7-10.7 2.1-10 2.9-10.7 3.4-10.2 3.1-7.6 4-7.7 3.9-6 3.4-4.2 5.1-5.1 4.3-3.3 6.3-3.6 5-2 3.5-1 3.5-0.6 5.3-0.5 5.4 0.3 3.5 0.7 3.5 0.9 5.1 2 6.3 3.6 5.8 4.4 5.2 5 5.7 6.6 4.8 6.9 4.8 8.1 3.9 7.9 3.7 8.9 3.1 9.8 2.2 9.2 1.4 8.9 0.9 9.7 0.3 9.5 0 12-124.3 0z" fill="#f9e4a4"/>
<path d="M992.2 1134.2l0.2-8.6 1-9.8 1.6-10.2 2.1-9.6 2.8-10.3 3.2-9.7 3-7.4 3.7-7.4 3.8-5.7 4.4-5.4 5.1-4.7 4.3-3 6.1-3.1 4.9-1.7 6.7-1.4 5.2-0.3 5.1 0.5 3.4 0.7 3.3 1 4.8 2 6 3.6 5.5 4.3 4.9 4.9 5.3 6.4 4.5 6.6 4.6 7.8 3.6 7.6 3.4 8.6 2.6 8.2 2.1 8.9 1.4 8.6 0.9 9.4 0.2 9.2 0 12-119.7 0z" fill="#fae6a7"/>
<path d="M994.7 1134.2l0.3-8.2 1-9.4 1.6-9.8 2.3-10.3 3.1-11.2 2.8-8.2 3-7.1 3.7-7.1 3.8-5.4 3.2-3.8 4.9-4.5 4.1-2.8 5.9-3 4.7-1.7 6.4-1.4 4.9-0.3 4.9 0.3 3.3 0.6 3.2 0.9 4.6 1.9 5.8 3.3 5.3 4.1 4.8 4.6 5.1 6.2 4.4 6.3 4.3 7.6 3.6 7.3 3.2 8.3 2.6 7.9 2 8.6 1.4 8.4 0.9 9 0.2 8.9 0 12-115.3 0z" fill="#fbe8aa"/>
<path d="M997.3 1134.2l0.3-7.9 1-9 1.6-9.2 2.2-9.8 3-10.7 2.6-7.9 2.8-6.8 3.6-6.8 3.5-5.2 3.1-3.6 4.8-4.3 3.9-2.6 5.6-2.9 5.9-2 6.2-1.2 4.7-0.3 4.7 0.5 6.2 1.5 4.4 1.9 5.5 3.4 4.9 4 4.5 4.4 4.8 6 4.1 6.1 4.1 7.2 3.3 7.1 3 7.9 2.3 7.6 2 8.3 1.2 8 0.7 7.7 0.2 8.6 0 12-110.7 0z" fill="#fbeaad"/>
<path d="M1003.6 1134.2l0.2-7 0.9-8 1.4-8.2 2-8.7 2.7-9.6 2.3-6.9 2.5-6.1 3.1-6 3.2-4.7 2.8-3.2 4.2-3.7 3.4-2.4 5-2.5 5.3-1.9 5.5-1 4.2-0.2 4.2 0.3 5.4 1.4 3.9 1.7 4.9 3 4.5 3.5 3.9 4 4.3 5.3 3.6 5.4 3.6 6.5 3 6.2 2.7 7.1 2.1 6.7 1.7 7.4 1.1 7.1 0.6 6.9 0.2 7.6 0 12-98.4 0z" fill="#fcecb0"/>
<path d="M1009.8 1134.2l0.3-6.1 0.7-7 1.3-7.2 1.7-7.6 2.3-8.4 2.1-6.1 2.1-5.3 2.8-5.3 2.8-4 2.4-2.8 3.7-3.3 3-2.1 4.4-2.2 4.6-1.6 4.8-0.9 3.7-0.2 3.6 0.3 4.8 1.2 3.4 1.5 4.3 2.6 3.9 3.1 3.4 3.5 3.8 4.6 3.2 4.8 3.1 5.6 2.6 5.5 2.4 6.1 1.8 5.9 1.5 6.5 1 6.2 0.5 6 0.2 6.7 0 12-86.2 0z" fill="#fceeb3"/>
<path d="M1016.1 1134.2l0.2-5.3 0.7-5.9 1-6.2 1.5-6.5 2-7.2 1.7-5.2 1.9-4.6 2.4-4.5 2.4-3.5 2-2.4 3.2-2.8 2.6-1.8 3.7-1.9 4-1.4 4.1-0.8 3.2-0.1 3.1 0.3 4.1 1 2.9 1.3 3.7 2.2 3.3 2.7 3 3 3.2 3.9 2.7 4.1 2.7 4.8 2.2 4.7 2 5.3 1.6 5 1.3 5.6 0.8 5.3 0.5 5.2 0.1 5.7 0 12-73.8 0z" fill="#fcf0b6"/>
<path d="M1022.4 1134.2l0.1-4.4 0.6-5 2.1-10.5 3.1-10.4 1.6-3.7 2-3.8 1.9-2.9 1.8-2 2.6-2.4 2.1-1.5 3.2-1.6 3.3-1.1 3.4-0.7 2.6-0.1 2.6 0.2 3.4 0.9 2.5 1.1 3 1.8 2.8 2.2 2.5 2.5 2.7 3.3 2.2 3.4 2.3 4.1 1.8 3.9 1.7 4.4 1.3 4.2 1.1 4.6 0.7 4.4 0.5 9.1 0 12-61.5 0z" fill="#fdf1b9"/>
<path d="M1028.6 1134.2l0.6-7.5 1.7-8.5 2.5-8.2 1.2-3 1.6-3.1 3-3.9 2.1-1.9 1.7-1.2 2.5-1.2 2.7-0.9 2.7-0.6 2.1-0.1 2.1 0.2 2.7 0.7 2 0.9 2.4 1.4 2.2 1.8 2 2 2.2 2.7 1.8 2.7 3.2 6.3 2.4 6.9 1.4 7.2 0.5 7.3 0 12-49.3 0z" fill="#fdf3bc"/>
<path d="M1034.9 1134.2l0.4-5.6 1.3-6.4 1.9-6.2 2.1-4.5 2.2-2.9 2.9-2.3 3.8-1.7 3.7-0.5 3.6 0.7 3.3 1.8 3.1 2.8 3 4 2.5 4.8 1.7 5.1 1.1 5.5 0.3 5.4 0 12-36.9 0z" fill="#fef5bf"/>
<path d="M1041.2 1134.2l0.3-3.7 0.8-4.3 1.2-4.1 1.5-3 1.4-2 2-1.5 2.5-1.1 2.5-0.3 2.4 0.4 2.2 1.2 2.1 1.9 1.9 2.6 1.7 3.2 1.2 3.4 0.7 3.7 0.2 3.6 0 12-24.6 0z" fill="#fef6c2"/>
<path d="M1047.4 1134.2l0.6-4 1.3-3.6 0.8-0.9 0.9-0.8 1.3-0.6 1.2-0.1 1.2 0.2 1.1 0.6 1.1 0.9 1 1.4 1.4 3.3 0.4 3.6 0 12-12.3 0z" fill="#fff8c5"/>
</g>
<path d="M865.4 1134.2l0.01-19.79 0.16-16.78 0.33-17.28 0.56-18.03 0.84-19.03 0.94-16.16 1.25-17.18 1.2-13.66 1.47-14.42 1.79-15.28 2.21-16.24 1.74-11.39 3.11-18.02 2.44-12.66 1.37-6.53 1.5-6.59 1.72-6.57 1.97-6.45 2.27-6.26 2.61-5.98 2.95-5.65 3.3-5.28 3.62-4.88 3.93-4.48 4.24-4.03 4.54-3.53 4.82-2.99 5.08-2.48 5.29-1.96 5.48-1.46 5.63-0.98 5.77-0.49 5.86-0.02 5.95 0.47 6.01 0.96 6.05 1.47 6.07 1.95 6.03 2.32 5.95 2.53 11.53 5.26 11.03 5.25 10.55 5.19 5.12 2.68 5.01 2.78 4.91 2.9 4.81 3 4.7 3.11 4.58 3.19 4.47 3.27 4.36 3.35 8.37 6.87 4.01 3.51 7.68 7.14 7.23 7.25 3.45 3.65 6.58 7.32 6.16 7.32 2.93 3.65 5.56 7.26 2.65 3.61 5.02 7.16 6.89 10.56 6.2 10.34 3.76 6.74 3.5 6.62 3.25 6.5 3.02 6.38 2.79 6.24 2.6 6.12 2.4 6 2.23 5.88 3.96 11.4 3.39 10.97 1.5 5.33 2.03 7.81 2.86 12.6 1.44 7.33 1.24 7.18 1.07 7.05 0.91 6.93 0.74 6.84 0.61 6.75 0.46 6.69 0.32 6.64 0.2 6.62 0.06 6.59M890.92 1134.2l0.1-17.1 0.31-14.46 0.54-14.84 0.85-15.4 0.94-12.83 1.25-13.39 1.61-14.06 1.5-11.03 1.81-11.49 2.17-11.99 2.59-12.52 3.08-13.07 3.67-13.63 2.8-9.39 3.14-9.63 3.5-9.85 3.92-10.01 2.16-4.99 2.32-4.96 2.48-4.88 2.67-4.75 2.91-4.52 3.15-4.19 3.44-3.8 3.7-3.33 3.95-2.89 4.15-2.47 4.33-2.08 4.48-1.68 4.6-1.32 4.7-0.97 4.79-0.64 4.84-0.33 4.88-0.02 4.9 0.26 4.92 0.54 4.92 0.81 4.9 1.08 4.87 1.35 4.84 1.61 4.79 1.85 4.72 2.06 4.65 2.23 4.57 2.37 4.48 2.48 12.89 7.63 8.14 5.11 7.79 5.26 3.77 2.73 3.67 2.81 7.06 5.84 6.67 6.09 6.29 6.28 3 3.19 5.72 6.46 5.35 6.52 2.54 3.28 4.83 6.54 6.64 9.76 5.96 9.63 5.34 9.43 4.77 9.21 2.9 6.02 2.69 5.9 2.48 5.81 2.3 5.69 4.08 11.06 3.48 10.65 2.96 10.26 1.3 4.99 1.75 7.33 2.44 11.82 1.92 11.4 1.46 11.06 0.68 6.5 0.55 6.42 0.42 6.35 0.29 6.31 0.23 12.53M918.49 1134.2l0.25-11.81 0.53-11.89 0.81-12.1 1.09-12.44 1.39-12.91 1.72-13.57 1.65-11.46 1.98-12.1 1.8-9.51 1.39-6.54 2.46-10.08 1.93-6.88 2.19-6.98 2.49-7.04 2.82-7.07 3.16-7.07 3.52-7.03 3.91-6.92 4.32-6.77 2.32-3.29 2.43-3.22 2.54-3.13 2.65-3.03 2.76-2.92 2.88-2.79 2.99-2.64 3.1-2.47 3.21-2.3 3.31-2.11 3.41-1.9 3.51-1.69 3.59-1.45 3.66-1.21 3.74-0.97 3.79-0.72 3.83-0.48 3.86-0.25 3.89 0 3.9 0.24 3.91 0.48 3.89 0.71 3.87 0.93 3.85 1.13 3.8 1.31 3.76 1.49 3.71 1.63 3.64 1.78 3.58 1.89 3.51 1.99 6.82 4.23 6.52 4.51 6.23 4.74 5.91 4.94 5.61 5.11 2.69 2.61 5.14 5.3 4.84 5.39 2.31 2.71 4.4 5.47 4.12 5.49 5.67 8.22 5.11 8.15 4.59 8.05 4.12 7.91 3.68 7.73 3.29 7.56 3.83 9.8 3.28 9.48 2.79 9.16 2.36 8.88 2.43 10.72 1.58 8.31 1.57 10.12 1.17 9.86 0.81 9.67 0.47 9.55 0.16 9.49M950.97 1134.2l0.01-8.99 0.16-7.25 0.43-9.22 0.55-7.54 0.77-7.73 0.75-5.93 1.24-8.11 1.16-6.25 1.38-6.4 1.61-6.54 1.9-6.69 2.2-6.81 2.54-6.94 1.89-4.69 3.18-7.09 2.36-4.76 3.9-7.16 2.87-4.78 3.08-4.76 3.32-4.71 3.56-4.62 3.82-4.49 4.1-4.31 4.36-4.04 4.65-3.72 2.43-1.71 2.49-1.59 2.55-1.47 2.61-1.34 2.68-1.19 2.72-1.03 2.77-0.87 2.81-0.69 2.84-0.52 2.87-0.34 2.89-0.15 2.9 0.03 2.9 0.2 2.89 0.36 2.89 0.51 2.86 0.65 2.84 0.78 2.81 0.93 2.77 1.05 2.74 1.17 2.69 1.29 5.23 2.91 5.02 3.28 4.78 3.61 4.53 3.85 4.28 4.04 2.05 2.07 3.91 4.21 3.68 4.27 5.12 6.44 4.66 6.39 4.26 6.32 3.86 6.24 3.49 6.16 3.14 6.08 2.82 5.98 2.52 5.87 2.93 7.67 1.9 5.62 2.21 7.31 1.86 7.11 1.56 6.93 1.28 6.76 1.28 8.25 0.78 6.47 0.7 7.95 0.42 7.86 0.16 7.81M997.31 1134.2l0.08-3.94 0.22-3.94 0.35-3.97 0.62-5 0.64-4.06 0.97-5.19 0.91-4.27 1.33-5.53 2.97-10.75 1.21-3.84 1.39-3.98 1.59-4.06 1.2-2.75 2.05-4.11 1.54-2.71 1.7-2.65 1.86-2.56 3.11-3.61 2.27-2.21 2.44-2.03 1.27-0.93 2.64-1.73 2.75-1.52 2.86-1.33 2.94-1.14 3.01-0.93 3.07-0.71 3.11-0.48 3.14-0.22 1.58 0 3.14 0.21 1.56 0.21 3.1 0.65 3.04 0.93 1.48 0.56 2.91 1.33 2.81 1.55 2.68 1.76 2.56 1.93 2.42 2.08 2.3 2.19 2.15 2.29 2.03 2.35 2.8 3.6 1.72 2.44 2.37 3.66 2.14 3.64 1.92 3.61 1.74 3.56 1.56 3.5 1.4 3.43 1.65 4.47 1.08 3.28 1.26 4.29 1.06 4.19 0.87 4.11 0.7 4.03 0.55 3.96 0.41 3.91 0.28 3.86 0.17 3.82 0.05 4.75" fill="none" stroke="#000" stroke-width="0.92" stroke-linejoin="round"/>
</g>
<rect x="833.40" y="715.60" width="427.00" height="427.30" fill="none" stroke="#848484" stroke-width="1"/>
<path d="M841.60 1142.90v-4.2M841.60 715.60v4.2M833.40 1134.20h4.2M1260.40 1134.20h-4.2M855.27 1142.90v-2.5M855.27 715.60v2.5M833.40 1120.53h2.5M1260.40 1120.53h-2.5M868.94 1142.90v-2.5M868.94 715.60v2.5M833.40 1106.85h2.5M1260.40 1106.85h-2.5M882.61 1142.90v-2.5M882.61 715.60v2.5M833.40 1093.18h2.5M1260.40 1093.18h-2.5M896.28 1142.90v-2.5M896.28 715.60v2.5M833.40 1079.51h2.5M1260.40 1079.51h-2.5M909.95 1142.90v-4.2M909.95 715.60v4.2M833.40 1065.83h4.2M1260.40 1065.83h-4.2M923.62 1142.90v-2.5M923.62 715.60v2.5M833.40 1052.16h2.5M1260.40 1052.16h-2.5M937.29 1142.90v-2.5M937.29 715.60v2.5M833.40 1038.49h2.5M1260.40 1038.49h-2.5M950.96 1142.90v-2.5M950.96 715.60v2.5M833.40 1024.81h2.5M1260.40 1024.81h-2.5M964.63 1142.90v-2.5M964.63 715.60v2.5M833.40 1011.14h2.5M1260.40 1011.14h-2.5M978.30 1142.90v-4.2M978.30 715.60v4.2M833.40 997.47h4.2M1260.40 997.47h-4.2M991.97 1142.90v-2.5M991.97 715.60v2.5M833.40 983.79h2.5M1260.40 983.79h-2.5M1005.64 1142.90v-2.5M1005.64 715.60v2.5M833.40 970.12h2.5M1260.40 970.12h-2.5M1019.31 1142.90v-2.5M1019.31 715.60v2.5M833.40 956.45h2.5M1260.40 956.45h-2.5M1032.98 1142.90v-2.5M1032.98 715.60v2.5M833.40 942.77h2.5M1260.40 942.77h-2.5M1046.65 1142.90v-4.2M1046.65 715.60v4.2M833.40 929.10h4.2M1260.40 929.10h-4.2M1060.32 1142.90v-2.5M1060.32 715.60v2.5M833.40 915.43h2.5M1260.40 915.43h-2.5M1073.99 1142.90v-2.5M1073.99 715.60v2.5M833.40 901.75h2.5M1260.40 901.75h-2.5M1087.66 1142.90v-2.5M1087.66 715.60v2.5M833.40 888.08h2.5M1260.40 888.08h-2.5M1101.33 1142.90v-2.5M1101.33 715.60v2.5M833.40 874.41h2.5M1260.40 874.41h-2.5M1115.00 1142.90v-4.2M1115.00 715.60v4.2M833.40 860.73h4.2M1260.40 860.73h-4.2M1128.67 1142.90v-2.5M1128.67 715.60v2.5M833.40 847.06h2.5M1260.40 847.06h-2.5M1142.34 1142.90v-2.5M1142.34 715.60v2.5M833.40 833.39h2.5M1260.40 833.39h-2.5M1156.01 1142.90v-2.5M1156.01 715.60v2.5M833.40 819.71h2.5M1260.40 819.71h-2.5M1169.68 1142.90v-2.5M1169.68 715.60v2.5M833.40 806.04h2.5M1260.40 806.04h-2.5M1183.35 1142.90v-4.2M1183.35 715.60v4.2M833.40 792.37h4.2M1260.40 792.37h-4.2M1197.02 1142.90v-2.5M1197.02 715.60v2.5M833.40 778.69h2.5M1260.40 778.69h-2.5M1210.69 1142.90v-2.5M1210.69 715.60v2.5M833.40 765.02h2.5M1260.40 765.02h-2.5M1224.36 1142.90v-2.5M1224.36 715.60v2.5M833.40 751.35h2.5M1260.40 751.35h-2.5M1238.03 1142.90v-2.5M1238.03 715.60v2.5M833.40 737.67h2.5M1260.40 737.67h-2.5M1251.70 1142.90v-4.2M1251.70 715.60v4.2M833.40 724.00h4.2M1260.40 724.00h-4.2" fill="none" stroke="#848484" stroke-width="1"/>
<text x="841.60" y="1163.59" font-size="18.715" text-anchor="middle" fill="#000">0.00</text><text x="830.84" y="1140.01" font-size="18.715" text-anchor="end" fill="#000">0.00</text><text x="909.95" y="1163.59" font-size="18.715" text-anchor="middle" fill="#000">0.05</text><text x="830.84" y="1071.64" font-size="18.715" text-anchor="end" fill="#000">0.05</text><text x="978.30" y="1163.59" font-size="18.715" text-anchor="middle" fill="#000">0.10</text><text x="830.84" y="1003.28" font-size="18.715" text-anchor="end" fill="#000">0.10</text><text x="1046.65" y="1163.59" font-size="18.715" text-anchor="middle" fill="#000">0.15</text><text x="830.84" y="934.91" font-size="18.715" text-anchor="end" fill="#000">0.15</text><text x="1115.00" y="1163.59" font-size="18.715" text-anchor="middle" fill="#000">0.20</text><text x="830.84" y="866.54" font-size="18.715" text-anchor="end" fill="#000">0.20</text><text x="1183.35" y="1163.59" font-size="18.715" text-anchor="middle" fill="#000">0.25</text><text x="830.84" y="798.18" font-size="18.715" text-anchor="end" fill="#000">0.25</text><text x="1251.70" y="1163.59" font-size="18.715" text-anchor="middle" fill="#000">0.30</text><text x="830.84" y="729.81" font-size="18.715" text-anchor="end" fill="#000">0.30</text>
<text x="734.93" y="934.77" font-size="18.71" text-anchor="start">{<tspan font-style="italic">k</tspan><tspan font-size="13.10" dy="2.96" font-style="italic">y</tspan><tspan dy="-2.96" font-style="italic" dx="4.14">H</tspan><tspan font-size="13.10" dy="2.96">0</tspan><tspan dy="-2.96">}</tspan></text>
<text x="1019.91" y="1190.67" font-size="18.71" text-anchor="start">{<tspan font-style="italic">k</tspan><tspan font-size="13.10" dy="2.96" font-style="italic">x</tspan><tspan dy="-2.96" font-style="italic" dx="4.14">H</tspan><tspan font-size="13.10" dy="2.96">0</tspan><tspan dy="-2.96">}</tspan></text>
<g font-size="12.80" transform="translate(1267.79 927.77) scale(0.9850)">
<text transform="translate(-0.8 8.4) scale(1.3 1.77)" font-size="19" x="0" y="0" stroke="#fff" stroke-width="0.3">{</text>
<text transform="translate(41.6 8.4) scale(1.3 1.77)" font-size="19" x="0" y="0" stroke="#fff" stroke-width="0.3">}</text>
<text x="11.2" y="-4.9" font-style="italic">ω<tspan dx="2.4">H</tspan><tspan font-size="9.5" dy="2.3" font-style="normal">0</tspan></text>
<rect x="10.1" y="-2.6" width="28.2" height="1.1" fill="#000"/>
<text x="18" y="14.1">a<tspan font-size="9.5" dy="1.6" dx="-0.4" font-style="italic">g</tspan></text>
</g>
<g transform="translate(1044.10 649.00) scale(0.9850)"><text x="0" y="0" font-size="22.4" text-anchor="middle">Modified Parker with Cooling</text></g>
<g transform="translate(1048.90 682.00) scale(0.9850)"><text x="0" y="0" font-size="22.4" text-anchor="middle">m=1.5, c=1, Λ=3.60352<tspan dy="8.2" font-size="29.5">*</tspan><tspan dy="-8.2" dx="0.3">10</tspan><tspan font-size="15.6" dy="-9.6">−26</tspan><tspan dy="9.6"> ergs cm</tspan><tspan font-size="15.6" dy="-9.6">3</tspan><tspan dy="9.6" dx="1.2"> </tspan><tspan font-style="italic">s</tspan><tspan font-size="15.6" dy="-9.6">−1</tspan></text></g>
<rect x="1336.80" y="633.30" width="14.40" height="542.10" fill="url(#cmapg)" stroke="#000" stroke-opacity="0.12" stroke-width="0.8"/>
<text x="1358.00" y="1182.30" font-size="18.715" text-anchor="start" fill="#595959">0</text><text x="1358.00" y="1082.28" font-size="18.715" text-anchor="start" fill="#595959">0.02</text><text x="1358.00" y="982.26" font-size="18.715" text-anchor="start" fill="#595959">0.04</text><text x="1358.00" y="882.25" font-size="18.715" text-anchor="start" fill="#595959">0.06</text><text x="1358.00" y="782.23" font-size="18.715" text-anchor="start" fill="#595959">0.08</text><text x="1358.00" y="682.21" font-size="18.715" text-anchor="start" fill="#595959">0.10</text>
<path d="M1351.20 1175.40h3.9M1351.20 1150.40h2.6M1351.20 1125.39h2.6M1351.20 1100.39h2.6M1351.20 1075.38h3.9M1351.20 1050.38h2.6M1351.20 1025.37h2.6M1351.20 1000.37h2.6M1351.20 975.36h3.9M1351.20 950.36h2.6M1351.20 925.35h2.6M1351.20 900.35h2.6M1351.20 875.34h3.9M1351.20 850.34h2.6M1351.20 825.34h2.6M1351.20 800.33h2.6M1351.20 775.33h3.9M1351.20 750.32h2.6M1351.20 725.32h2.6M1351.20 700.31h2.6M1351.20 675.31h3.9M1351.20 650.30h2.6" fill="none" stroke="#000" stroke-opacity="0.11" stroke-width="0.9"/>
<text class="pl" x="1401.06" y="1209.90" font-size="43.1">(</text>
<text class="pl" transform="translate(1414.24 1209.60) scale(1.162 1)" font-size="37.92">e</text>
<text class="pl" x="1432.20" y="1209.90" font-size="43.1">)</text>
</g>
<g id="panel-f">
<g clip-path="url(#cf)">
<g filter="url(#blur)">
<rect x="1546.2" y="707.2" width="444.0" height="444.0" fill="#265891"/>
<path d="M1431.1 1157.8l9.3-25 2.5-6.3 2.6-6.2 5.5-12.2 8.8-18.1 21.6-41.8 9.1-18 8.6-18.2 5.5-12.3 7.6-18.6 6.9-18.9 6.3-19.1 5.6-19.4 3.5-13 3.2-13.1 2.9-13.1 2.8-13.2 2.5-13.2 2.3-13.3 4.1-26.6 2.6-20 2.3-20 13.2-132.7 907.8 0 0 512.3z" fill="#265891"/>
<path d="M1445.1 1157.8l9.3-25 2.5-6.3 2.6-6.2 5.5-12.2 8.8-18.1 21.6-41.8 9.1-18 8.6-18.2 5.5-12.3 7.6-18.6 6.9-18.9 6.3-19.1 5.6-19.4 3.5-13 3.2-13.1 2.9-13.1 2.8-13.2 2.5-13.2 2.3-13.3 4.1-26.6 2.6-20 2.3-20 13.2-132.7 893.8 0 0 512.3z" fill="#275892"/>
<path d="M1459.1 1157.8l9.3-25 2.5-6.3 2.6-6.2 5.5-12.2 8.8-18.1 21.6-41.8 9.1-18 8.6-18.2 5.5-12.3 7.6-18.6 6.9-18.9 6.3-19.1 5.6-19.4 3.5-13 3.2-13.1 2.9-13.1 2.8-13.2 2.5-13.2 2.3-13.3 4.1-26.6 2.6-20 2.3-20 13.2-132.7 879.8 0 0 512.3z" fill="#275992"/>
<path d="M1473.1 1157.8l9.3-25 2.5-6.3 2.6-6.2 5.5-12.2 8.8-18.1 21.6-41.8 9.1-18 8.6-18.2 5.5-12.3 7.6-18.6 6.9-18.9 6.3-19.1 5.6-19.4 3.5-13 3.2-13.1 2.9-13.1 2.8-13.2 2.5-13.2 2.3-13.3 4.1-26.6 2.6-20 2.3-20 13.2-132.7 865.8 0 0 512.3z" fill="#285993"/>
<path d="M1487.1 1157.8l9.3-25 2.5-6.3 2.6-6.2 5.5-12.2 8.8-18.1 21.6-41.8 9.1-18 8.6-18.2 5.5-12.3 7.6-18.6 6.9-18.9 6.3-19.1 5.6-19.4 3.5-13 3.2-13.1 2.9-13.1 2.8-13.2 2.5-13.2 2.3-13.3 4.1-26.6 2.6-20 2.3-20 13.2-132.7 851.8 0 0 512.3z" fill="#285993"/>
<path d="M1501.1 1157.8l9.3-25 2.5-6.3 2.6-6.2 5.5-12.2 8.8-18.1 21.6-41.8 9.1-18 8.6-18.2 5.5-12.3 7.6-18.6 6.9-18.9 6.3-19.1 5.6-19.4 3.5-13 3.2-13.1 2.9-13.1 2.8-13.2 2.5-13.2 2.3-13.3 4.1-26.6 2.6-20 2.3-20 13.2-132.7 837.8 0 0 512.3z" fill="#295a94"/>
<path d="M1515.1 1157.8l9.3-25 2.5-6.3 2.6-6.2 5.5-12.2 8.8-18.1 21.6-41.8 9.1-18 8.6-18.2 5.5-12.3 7.6-18.6 6.9-18.9 6.3-19.1 5.6-19.4 3.5-13 3.2-13.1 2.9-13.1 2.8-13.2 2.5-13.2 2.3-13.3 4.1-26.6 2.6-20 2.3-20 13.2-132.7 823.8 0 0 512.3z" fill="#295a94"/>
<path d="M1529.1 1157.8l9.3-25 2.5-6.3 2.6-6.2 5.5-12.2 8.8-18.1 21.6-41.8 9.1-18 8.6-18.2 5.5-12.3 7.6-18.6 6.9-18.9 6.3-19.1 5.6-19.4 3.5-13 3.2-13.1 2.9-13.1 2.8-13.2 2.5-13.2 2.3-13.3 4.1-26.6 2.6-20 2.3-20 13.2-132.7 809.8 0 0 512.3z" fill="#2a5a95"/>
<path d="M1543.1 1157.8l9.3-25 2.5-6.3 2.6-6.2 5.5-12.2 8.8-18.1 21.6-41.8 9.1-18 8.6-18.2 5.5-12.3 7.6-18.6 6.9-18.9 6.3-19.1 5.6-19.4 3.5-13 3.2-13.1 2.9-13.1 2.8-13.2 2.5-13.2 2.3-13.3 4.1-26.6 2.6-20 2.3-20 13.2-132.7 795.8 0 0 512.3z" fill="#2a5a95"/>
<path d="M1557.1 1157.8l9.3-25 2.5-6.3 2.6-6.2 5.5-12.2 8.8-18.1 21.6-41.8 9.1-18 8.6-18.2 5.5-12.3 7.6-18.6 6.9-18.9 6.3-19.1 5.6-19.4 3.5-13 3.2-13.1 2.9-13.1 2.8-13.2 2.5-13.2 2.3-13.3 4.1-26.6 2.6-20 2.3-20 13.2-132.7 781.8 0 0 512.3z" fill="#2b5b96"/>
<path d="M1571.1 1157.8l9.3-25 2.5-6.3 2.6-6.2 5.5-12.2 8.8-18.1 21.6-41.8 9.1-18 8.6-18.2 5.5-12.3 7.6-18.6 6.9-18.9 6.3-19.1 5.6-19.4 3.5-13 3.2-13.1 2.9-13.1 2.8-13.2 2.5-13.2 2.3-13.3 4.1-26.6 2.6-20 2.3-20 13.2-132.7 767.8 0 0 512.3z" fill="#2b5b96"/>
<path d="M1585.1 1157.8l9.3-25 2.5-6.3 2.6-6.2 5.5-12.2 8.8-18.1 21.6-41.8 9.1-18 8.6-18.2 5.5-12.3 7.6-18.6 6.9-18.9 6.3-19.1 5.6-19.4 3.5-13 3.2-13.1 2.9-13.1 2.8-13.2 2.5-13.2 2.3-13.3 4.1-26.6 2.6-20 2.3-20 13.2-132.7 753.8 0 0 512.3z" fill="#2c5b97"/>
<path d="M1599.1 1157.8l9.3-25 2.5-6.3 2.6-6.2 5.5-12.2 8.8-18.1 21.6-41.8 9.1-18 8.6-18.2 5.5-12.3 7.6-18.6 6.9-18.9 6.3-19.1 5.6-19.4 3.5-13 3.2-13.1 2.9-13.1 2.8-13.2 2.5-13.2 2.3-13.3 4.1-26.6 2.6-20 2.3-20 13.2-132.7 739.8 0 0 512.3z" fill="#2c5b97"/>
<path d="M1613.1 1157.8l9.3-25 2.5-6.3 2.6-6.2 5.5-12.2 8.8-18.1 21.6-41.8 9.1-18 8.6-18.2 5.5-12.3 7.6-18.6 6.9-18.9 6.3-19.1 5.6-19.4 3.5-13 3.2-13.1 2.9-13.1 2.8-13.2 2.5-13.2 2.3-13.3 4.1-26.6 2.6-20 2.3-20 13.2-132.7 725.8 0 0 512.3z" fill="#2c5c98"/>
<path d="M1627.1 1157.8l9.3-25 2.5-6.3 2.6-6.2 5.5-12.2 8.8-18.1 21.6-41.8 9.1-18 8.6-18.2 5.5-12.3 7.6-18.6 6.9-18.9 6.3-19.1 5.6-19.4 3.5-13 3.2-13.1 2.9-13.1 2.8-13.2 2.5-13.2 2.3-13.3 4.1-26.6 2.6-20 2.3-20 13.2-132.7 711.8 0 0 512.3z" fill="#2e5c99"/>
<path d="M1641.1 1157.8l9.3-25 2.5-6.3 2.6-6.2 5.5-12.2 8.8-18.1 21.6-41.8 9.1-18 8.6-18.2 5.5-12.3 7.6-18.6 6.9-18.9 6.3-19.1 5.6-19.4 3.5-13 3.2-13.1 2.9-13.1 2.8-13.2 2.5-13.2 2.3-13.3 4.1-26.6 2.6-20 2.3-20 13.2-132.7 697.8 0 0 512.3z" fill="#305e9c"/>
<path d="M1655.1 1157.8l9.3-25 2.5-6.3 2.6-6.2 5.5-12.2 8.8-18.1 21.6-41.8 9.1-18 8.6-18.2 5.5-12.3 7.6-18.6 6.9-18.9 6.3-19.1 5.6-19.4 3.5-13 3.2-13.1 2.9-13.1 2.8-13.2 2.5-13.2 2.3-13.3 4.1-26.6 2.6-20 2.3-20 13.2-132.7 683.8 0 0 512.3z" fill="#325f9e"/>
<path d="M1669.1 1157.8l9.3-25 2.5-6.3 2.6-6.2 5.5-12.2 8.8-18.1 21.6-41.8 9.1-18 8.6-18.2 5.5-12.3 7.6-18.6 6.9-18.9 6.3-19.1 5.6-19.4 3.5-13 3.2-13.1 2.9-13.1 2.8-13.2 2.5-13.2 2.3-13.3 4.1-26.6 2.6-20 2.3-20 13.2-132.7 669.8 0 0 512.3z" fill="#3560a1"/>
<path d="M1683.1 1157.8l9.3-25 2.5-6.3 2.6-6.2 5.5-12.2 8.8-18.1 21.6-41.8 9.1-18 8.6-18.2 5.5-12.3 7.6-18.6 6.9-18.9 6.3-19.1 5.6-19.4 3.5-13 3.2-13.1 2.9-13.1 2.8-13.2 2.5-13.2 2.3-13.3 4.1-26.6 2.6-20 2.3-20 13.2-132.7 655.8 0 0 512.3z" fill="#3762a3"/>
<path d="M1697.1 1157.8l9.3-25 2.5-6.3 2.6-6.2 5.5-12.2 8.8-18.1 21.6-41.8 9.1-18 8.6-18.2 5.5-12.3 7.6-18.6 6.9-18.9 6.3-19.1 5.6-19.4 3.5-13 3.2-13.1 2.9-13.1 2.8-13.2 2.5-13.2 2.3-13.3 4.1-26.6 2.6-20 2.3-20 13.2-132.7 641.8 0 0 512.3z" fill="#3963a6"/>
<path d="M1711.1 1157.8l9.3-25 2.5-6.3 2.6-6.2 5.5-12.2 8.8-18.1 21.6-41.8 9.1-18 8.6-18.2 5.5-12.3 7.6-18.6 6.9-18.9 6.3-19.1 5.6-19.4 3.5-13 3.2-13.1 2.9-13.1 2.8-13.2 2.5-13.2 2.3-13.3 4.1-26.6 2.6-20 2.3-20 13.2-132.7 627.8 0 0 512.3z" fill="#3c64a8"/>
<path d="M1725.1 1157.8l9.3-25 2.5-6.3 2.6-6.2 5.5-12.2 8.8-18.1 21.6-41.8 9.1-18 8.6-18.2 5.5-12.3 7.6-18.6 6.9-18.9 6.3-19.1 5.6-19.4 3.5-13 3.2-13.1 2.9-13.1 2.8-13.2 2.5-13.2 2.3-13.3 4.1-26.6 2.6-20 2.3-20 13.2-132.7 613.8 0 0 512.3z" fill="#3d65aa"/>
<path d="M1739.1 1157.8l9.3-25 2.5-6.3 2.6-6.2 5.5-12.2 8.8-18.1 21.6-41.8 9.1-18 8.6-18.2 5.5-12.3 7.6-18.6 6.9-18.9 6.3-19.1 5.6-19.4 3.5-13 3.2-13.1 2.9-13.1 2.8-13.2 2.5-13.2 2.3-13.3 4.1-26.6 2.6-20 2.3-20 13.2-132.7 599.8 0 0 512.3z" fill="#3e66ab"/>
<path d="M1753.1 1157.8l9.3-25 2.5-6.3 2.6-6.2 5.5-12.2 8.8-18.1 21.6-41.8 9.1-18 8.6-18.2 5.5-12.3 7.6-18.6 6.9-18.9 6.3-19.1 5.6-19.4 3.5-13 3.2-13.1 2.9-13.1 2.8-13.2 2.5-13.2 2.3-13.3 4.1-26.6 2.6-20 2.3-20 13.2-132.7 585.8 0 0 512.3z" fill="#3f67ac"/>
<path d="M1767.1 1157.8l9.3-25 2.5-6.3 2.6-6.2 5.5-12.2 8.8-18.1 21.6-41.8 9.1-18 8.6-18.2 5.5-12.3 7.6-18.6 6.9-18.9 6.3-19.1 5.6-19.4 3.5-13 3.2-13.1 2.9-13.1 2.8-13.2 2.5-13.2 2.3-13.3 4.1-26.6 2.6-20 2.3-20 13.2-132.7 571.8 0 0 512.3z" fill="#4167ae"/>
<path d="M1781.1 1157.8l9.3-25 2.5-6.3 2.6-6.2 5.5-12.2 8.8-18.1 21.6-41.8 9.1-18 8.6-18.2 5.5-12.3 7.6-18.6 6.9-18.9 6.3-19.1 5.6-19.4 3.5-13 3.2-13.1 2.9-13.1 2.8-13.2 2.5-13.2 2.3-13.3 4.1-26.6 2.6-20 2.3-20 13.2-132.7 557.8 0 0 512.3z" fill="#4268af"/>
<path d="M1795.1 1157.8l9.3-25 2.5-6.3 2.6-6.2 5.5-12.2 8.8-18.1 21.6-41.8 9.1-18 8.6-18.2 5.5-12.3 7.6-18.6 6.9-18.9 6.3-19.1 5.6-19.4 3.5-13 3.2-13.1 2.9-13.1 2.8-13.2 2.5-13.2 2.3-13.3 4.1-26.6 2.6-20 2.3-20 13.2-132.7 543.8 0 0 512.3z" fill="#4469af"/>
<path d="M1809.1 1157.8l9.3-25 2.5-6.3 2.6-6.2 5.5-12.2 8.8-18.1 21.6-41.8 9.1-18 8.6-18.2 5.5-12.3 7.6-18.6 6.9-18.9 6.3-19.1 5.6-19.4 3.5-13 3.2-13.1 2.9-13.1 2.8-13.2 2.5-13.2 2.3-13.3 4.1-26.6 2.6-20 2.3-20 13.2-132.7 529.8 0 0 512.3z" fill="#4669af"/>
<path d="M1823.1 1157.8l9.3-25 2.5-6.3 2.6-6.2 5.5-12.2 8.8-18.1 21.6-41.8 9.1-18 8.6-18.2 5.5-12.3 7.6-18.6 6.9-18.9 6.3-19.1 5.6-19.4 3.5-13 3.2-13.1 2.9-13.1 2.8-13.2 2.5-13.2 2.3-13.3 4.1-26.6 2.6-20 2.3-20 13.2-132.7 515.8 0 0 512.3z" fill="#486aaf"/>
<path d="M1837.1 1157.8l9.3-25 2.5-6.3 2.6-6.2 5.5-12.2 8.8-18.1 21.6-41.8 9.1-18 8.6-18.2 5.5-12.3 7.6-18.6 6.9-18.9 6.3-19.1 5.6-19.4 3.5-13 3.2-13.1 2.9-13.1 2.8-13.2 2.5-13.2 2.3-13.3 4.1-26.6 2.6-20 2.3-20 13.2-132.7 501.8 0 0 512.3z" fill="#496baf"/>
<path d="M1851.1 1157.8l9.3-25 2.5-6.3 2.6-6.2 5.5-12.2 8.8-18.1 21.6-41.8 9.1-18 8.6-18.2 5.5-12.3 7.6-18.6 6.9-18.9 6.3-19.1 5.6-19.4 3.5-13 3.2-13.1 2.9-13.1 2.8-13.2 2.5-13.2 2.3-13.3 4.1-26.6 2.6-20 2.3-20 13.2-132.7 487.8 0 0 512.3z" fill="#4c6caf"/>
<path d="M1865.1 1157.8l9.3-25 2.5-6.3 2.6-6.2 5.5-12.2 8.8-18.1 21.6-41.8 9.1-18 8.6-18.2 5.5-12.3 7.6-18.6 6.9-18.9 6.3-19.1 5.6-19.4 3.5-13 3.2-13.1 2.9-13.1 2.8-13.2 2.5-13.2 2.3-13.3 4.1-26.6 2.6-20 2.3-20 13.2-132.7 473.8 0 0 512.3z" fill="#4f6daf"/>
<path d="M1879.1 1157.8l9.3-25 2.5-6.3 2.6-6.2 5.5-12.2 8.8-18.1 21.6-41.8 9.1-18 8.6-18.2 5.5-12.3 7.6-18.6 6.9-18.9 6.3-19.1 5.6-19.4 3.5-13 3.2-13.1 2.9-13.1 2.8-13.2 2.5-13.2 2.3-13.3 4.1-26.6 2.6-20 2.3-20 13.2-132.7 459.8 0 0 512.3z" fill="#526eaf"/>
<path d="M1893.1 1157.8l9.3-25 2.5-6.3 2.6-6.2 5.5-12.2 8.8-18.1 21.6-41.8 9.1-18 8.6-18.2 5.5-12.3 7.6-18.6 6.9-18.9 6.3-19.1 5.6-19.4 3.5-13 3.2-13.1 2.9-13.1 2.8-13.2 2.5-13.2 2.3-13.3 4.1-26.6 2.6-20 2.3-20 13.2-132.7 445.8 0 0 512.3z" fill="#546faf"/>
<path d="M1907.1 1157.8l9.3-25 2.5-6.3 2.6-6.2 5.5-12.2 8.8-18.1 21.6-41.8 9.1-18 8.6-18.2 5.5-12.3 7.6-18.6 6.9-18.9 6.3-19.1 5.6-19.4 3.5-13 3.2-13.1 2.9-13.1 2.8-13.2 2.5-13.2 2.3-13.3 4.1-26.6 2.6-20 2.3-20 13.2-132.7 431.8 0 0 512.3z" fill="#5770af"/>
<path d="M1921.1 1157.8l9.3-25 2.5-6.3 2.6-6.2 5.5-12.2 8.8-18.1 21.6-41.8 9.1-18 8.6-18.2 5.5-12.3 7.6-18.6 6.9-18.9 6.3-19.1 5.6-19.4 3.5-13 3.2-13.1 2.9-13.1 2.8-13.2 2.5-13.2 2.3-13.3 4.1-26.6 2.6-20 2.3-20 13.2-132.7 417.8 0 0 512.3z" fill="#5b71ae"/>
<path d="M1935.1 1157.8l9.3-25 2.5-6.3 2.6-6.2 5.5-12.2 8.8-18.1 21.6-41.8 9.1-18 8.6-18.2 5.5-12.3 7.6-18.6 6.9-18.9 6.3-19.1 5.6-19.4 3.5-13 3.2-13.1 2.9-13.1 2.8-13.2 2.5-13.2 2.3-13.3 4.1-26.6 2.6-20 2.3-20 13.2-132.7 403.8 0 0 512.3z" fill="#5e73ad"/>
<path d="M1949.1 1157.8l9.3-25 2.5-6.3 2.6-6.2 5.5-12.2 8.8-18.1 21.6-41.8 9.1-18 8.6-18.2 5.5-12.3 7.6-18.6 6.9-18.9 6.3-19.1 5.6-19.4 3.5-13 3.2-13.1 2.9-13.1 2.8-13.2 2.5-13.2 2.3-13.3 4.1-26.6 2.6-20 2.3-20 13.2-132.7 389.8 0 0 512.3z" fill="#6274ac"/>
<path d="M1963.1 1157.8l9.3-25 2.5-6.3 2.6-6.2 5.5-12.2 8.8-18.1 21.6-41.8 9.1-18 8.6-18.2 5.5-12.3 7.6-18.6 6.9-18.9 6.3-19.1 5.6-19.4 3.5-13 3.2-13.1 2.9-13.1 2.8-13.2 2.5-13.2 2.3-13.3 4.1-26.6 2.6-20 2.3-20 13.2-132.7 375.8 0 0 512.3z" fill="#6576ab"/>
<path d="M1553.2 1139.2l0.4-37.9 1.2-28 1.2-14.1 1.2-10.7 1.8-11.6 1.4-5.9 2-5.4 1.3-2.4 3-4.2 3.7-3.4 4-2.7 4.3-2.1 2.3-0.8 4.7-1.1 4.9-0.3 2.4 0.1 5 0.7 5 1.2 4.9 1.6 4.8 2.1 4.6 2.3 8.7 5.2 9.7 7 10.3 8.5 11.6 10.8 8.6 9.2 6.2 8 6 9.4 5.6 10.4 5.7 12.5 5.2 13.2 3.5 10.9 1.8 8.6 0.6 5.1 0.2 3.8 0 12-147.8 0z" fill="#4569af" fill-opacity="0.167"/>
<path d="M1554.8 1139.2l0.3-37.1 1.2-27.4 1.1-13.9 1.2-10.4 1.8-11.4 1.4-5.8 2-5.3 1.2-2.4 3-4.1 3.5-3.3 4-2.7 4.2-2 2.2-0.8 4.6-1 4.8-0.3 2.4 0.1 4.9 0.6 4.9 1.2 4.8 1.6 4.7 2 4.5 2.3 8.5 5.1 9.6 6.9 10 8.3 11.4 10.5 8.4 9.1 6.1 7.8 5.9 9.2 5.5 10.2 5.6 12.2 5.1 13 3.3 10.6 1.8 8.5 0.6 5 0.2 3.7 0 12-144.7 0z" fill="#4569af" fill-opacity="0.200"/>
<path d="M1556.3 1139.2l0.3-36.4 1.2-26.8 1.1-13.5 1.2-10.3 1.7-11.1 1.4-5.6 1.9-5.3 1.2-2.3 3-4 3.4-3.3 3.9-2.6 4.1-2 2.2-0.7 4.5-1 4.7-0.3 7.1 0.7 4.8 1.1 4.7 1.6 4.6 2 4.4 2.2 8.3 5 9.4 6.7 9.8 8.2 11.2 10.3 8.2 8.8 6 7.7 5.8 9 5.4 10 5.4 12 5 12.7 3.3 10.4 1.7 8.3 0.8 8.5 0 12-141.7 0z" fill="#4569af" fill-opacity="0.250"/>
<path d="M1557.8 1139.2l0.4-35.6 1.1-26.2 1.1-13.3 1.1-10 1.7-10.9 1.4-5.5 1.8-5.1 1.2-2.3 2.9-3.9 3.4-3.2 3.8-2.6 4-1.9 2.2-0.8 4.4-1 4.6-0.3 7 0.7 4.6 1.2 4.6 1.5 4.5 2 4.3 2.1 8.2 4.9 9.1 6.6 9.7 8 10.9 10.1 8.1 8.6 5.8 7.6 5.6 8.7 5.3 9.8 5.4 11.7 4.8 12.4 3.2 10.2 1.8 8.2 0.7 8.3 0 12-138.7 0z" fill="#4569af" fill-opacity="0.333"/>
<path d="M1559.4 1139.2l0.3-34.8 1.1-25.7 1.1-12.9 1.1-9.8 1.7-10.7 1.2-5.4 1.9-5 1.1-2.2 2.9-3.9 3.3-3.1 3.7-2.5 3.9-1.9 2.1-0.7 4.3-1 4.5-0.3 6.9 0.7 4.5 1.1 4.5 1.5 8.7 4.1 7.9 4.7 9 6.4 9.4 7.8 10.7 9.9 7.9 8.5 5.7 7.4 5.5 8.5 5.2 9.6 5.2 11.5 4.8 12.1 3.1 10 1.7 8 0.7 8.1 0 12-135.6 0z" fill="#4569af" fill-opacity="0.500"/>
<path d="M1560.9 1139.2l0.3-34 1.1-25.1 1-12.7 1.1-9.6 1.7-10.4 1.2-5.3 1.8-4.9 1.2-2.2 2.7-3.7 3.3-3.1 3.6-2.4 3.8-1.9 2.1-0.7 4.2-0.9 4.4-0.3 6.7 0.6 4.5 1.1 4.3 1.5 8.5 4 7.8 4.6 8.7 6.3 9.2 7.6 10.5 9.7 7.7 8.3 5.6 7.2 5.4 8.4 5 9.3 5.1 11.2 4.7 11.9 3.1 9.8 1.6 7.7 0.7 8 0 12-132.6 0z" fill="#4569af" fill-opacity="1.000"/>
<path d="M1562.4 1139.2l0.3-33.3 1.1-24.5 1-12.4 1.1-9.3 1.6-10.2 1.2-5.2 1.8-4.8 1.1-2.1 2.7-3.6 3.1-3 3.6-2.4 3.8-1.9 1.9-0.6 4.2-1 4.3-0.3 6.5 0.7 4.4 1.1 4.3 1.4 8.2 3.9 7.6 4.5 8.6 6.2 9 7.4 10.2 9.5 7.5 8 5.4 7.1 5.3 8.2 5 9.1 5 11 4.5 11.6 3 9.5 1.6 7.6 0.7 7.8 0 12-129.6 0z" fill="#4f6daf"/>
<path d="M1563.1 1139.2l0.4-30.1 1.3-24.9 1-11.7 1.4-11.1 1.7-9.8 1.3-4.9 1.7-4.6 2.3-4 2.9-3.4 3.2-2.7 5.4-3.1 3.9-1.3 4-0.8 4.2-0.2 6.5 0.9 6.3 1.9 8.1 3.8 7.5 4.4 10.1 7.1 8.7 7.1 8.7 8.3 6.4 7 5.4 7.2 5.1 8.3 5.5 10.2 5.3 11.7 4 10.4 2.4 8.3 1.7 8.4 0.6 7.6 0 12-127 0z" fill="#5a71af"/>
<path d="M1563.9 1139.2l0.4-28.4 0.6-12.6 0.8-11.3 1.1-11 1.4-10.5 1.7-9.2 1.7-7.2 1.8-4.4 2.2-4 2.7-3.3 3.1-2.8 5.2-3.2 3.7-1.5 4-0.9 4-0.4 6.3 0.7 6.3 1.8 8 3.7 7.4 4.3 9.9 6.8 8.6 6.8 7.5 7.1 6.4 7.2 5.3 7.3 5.1 8.5 6.9 13.3 4.7 10.3 3.3 9.1 2.2 8.2 1.5 8.3 0.4 7.3 0 12-124.2 0z" fill="#6676ab"/>
<path d="M1564.6 1139.2l0.5-26.7 0.7-12.2 0.8-10.8 1.5-12.4 1.5-10.1 1.7-8.8 1.8-6.8 1.7-4.3 2.2-3.9 2.6-3.3 4.5-4.1 5.2-3 3.7-1.4 3.9-0.8 4-0.2 6.1 1 6.1 2 7.8 3.9 8.8 5.3 7.9 5.3 7.1 5.5 7.4 7.1 5.2 6.1 4.5 6.2 5.1 8.7 8.9 17.5 4.1 9 2.8 8 1.9 8 1.2 8.1 0.3 7.1 0 12-121.5 0z" fill="#727ba7"/>
<path d="M1565.3 1139.2l0.2-13.3 0.4-11.8 0.7-11.8 0.9-10.3 1.5-11.8 1.9-11.5 1.8-8.5 1.9-6.5 1.7-4.1 2-3.8 2.5-3.3 4.4-4.2 4.9-3.2 3.6-1.5 3.7-1 3.9-0.3 2 0.1 4.1 0.6 6 2 7.6 3.8 10.3 6.1 7.7 5 5.5 4.3 6.2 5.8 5.3 6.2 4.5 6.4 4.4 7.6 11.2 22.7 2.6 5.8 2.3 6.9 1.9 7.9 1 7.8 0.3 7.9 0 12-118.9 0z" fill="#7b7ea1"/>
<path d="M1566.1 1139.2l0.1-12 0.4-11.6 0.8-11.4 1-9.9 1.3-9.5 1.8-10.6 2.1-9.9 1.7-6.2 2.4-6 2-3.7 2.4-3.4 4.1-4.3 4.7-3.3 3.5-1.7 3.6-1.1 3.8-0.5 1.9 0 4 0.6 5.9 1.9 7.5 3.6 11.7 6.9 6 3.8 5.6 4.2 4.9 4.5 5.4 6.2 4.5 6.5 3.7 6.5 12.5 25.9 2.5 5.7 2 6.7 1.4 6.8 0.8 7.7 0.1 7.6 0 12-116.1 0z" fill="#86819b"/>
<path d="M1567.1 1139.2l0.1-11.8 0.5-11.4 0.8-11.1 1.1-9.7 1.6-10.8 2.1-10.4 2.3-9.6 2-5.9 2.5-5.7 2.1-3.5 2.4-3.2 4.2-3.9 4.7-3.1 3.5-1.4 3.5-1 3.8-0.2 5.7 0.7 5.7 1.8 7.2 3.4 11.4 6.5 5.8 4 5.3 4.3 4.8 4.7 5.1 6.2 4.3 6.4 4.1 7.5 10.6 22.3 2.8 6.6 2 6.6 1.4 6.6 0.9 7.6 0.2 7.5 0 12-114.5 0z" fill="#928594"/>
<path d="M1568.1 1139.2l0.1-11.6 0.5-11.2 0.9-10.9 1.2-9.4 1.4-8.9 2.1-9.8 2.3-9 2.5-7.5 2.4-5.6 2-3.4 2.3-3.1 4.1-4 4.5-3 3.3-1.5 5.3-1.4 3.7-0.1 5.5 0.7 3.7 1 3.6 1.4 6.9 3.3 7.8 4.6 5.8 4 5.2 4.4 4.7 4.7 5 6.1 4.2 6.3 4.8 8.6 8.5 18 3.6 8.5 2.1 6.5 1.6 7.5 1 7.4 0.2 7.4 0 12-112.8 0z" fill="#9d888d"/>
<path d="M1569.1 1139.2l0.1-10.4 0.5-10.8 0.9-10.6 1.2-9 1.7-10 2.2-9.4 2.4-8.5 2.5-7.2 2.3-5.4 2-3.4 3.4-4.5 2.6-2.5 2.9-2.2 4.7-2.5 5.1-1.4 3.5-0.4 5.4 0.3 3.6 0.8 3.5 1.1 6.8 3 6.3 3.6 5.8 3.9 6.5 5.5 4.6 4.7 4.9 6.1 5 7.4 4.6 8.3 5.6 11.8 4.9 11.5 2.4 7.4 1.9 8.2 1.1 7.3 0.3 7.3 0 12-111.2 0z" fill="#a68b85"/>
<path d="M1570.1 1139.2l0.1-10.2 0.5-10.6 1-10.4 1.3-8.8 1.8-9.6 2.3-9 2.5-8.1 3.2-8.5 2.4-5.2 2-3.2 2.3-3 3.9-3.6 4.4-2.8 4.8-2 5-1 3.5-0.1 5.2 0.6 5.1 1.4 6.6 2.9 6.1 3.6 5.6 4.2 5.1 4.5 5.5 5.9 4.7 6 4.8 7.2 4.5 8 4.5 9.5 4.4 10.7 2.7 8.2 2.1 8.1 1.2 8.1 0.4 7.2 0 12-109.5 0z" fill="#b08e7d"/>
<path d="M1571.1 1139.2l0.2-10 0.5-9.3 1-10 1.5-9.7 1.8-9.4 2.2-8.7 2.5-7.9 2.5-6.5 2.3-4.9 2.8-4.7 2.2-2.8 3.8-3.6 4.2-2.9 4.6-2.1 4.9-1.2 3.3-0.3 5.1 0.3 5 1.3 6.5 2.6 6 3.5 5.6 4 4.9 4.5 5.5 5.8 4.7 5.9 4.7 7.1 4.4 7.9 4.4 9.4 4.3 10.5 2.7 8.2 2 8 1.2 7.9 0.4 7.1 0 12-107.7 0z" fill="#b99075"/>
<path d="M1572.2 1139.2l0.2-9.8 0.6-9.1 1.1-9.8 1.5-9.4 1.8-9.1 2.2-8.5 2.4-7.5 2.6-6.3 2.3-4.7 2.8-4.4 3.3-3.9 3.7-3.4 4.2-2.7 4.5-2 4.8-1.1 3.2-0.3 5 0.5 4.9 1.2 6.2 2.7 5.9 3.5 5.3 4.1 4.8 4.4 5.2 5.7 4.5 5.9 4.4 6.9 4.2 7.8 4.7 10.2 3.7 9.3 2.5 8 1.9 7.9 1 6.9 0.4 7 0 12-105.8 0z" fill="#c2936d"/>
<path d="M1573.2 1139.2l0.2-8.7 0.6-8.8 1.2-9.4 1.7-10.2 1.8-8.9 2.2-8.2 2.4-7.3 2.5-6 3.2-5.8 2.9-4.1 3.4-3.6 3.7-3.2 4.1-2.6 4.4-1.9 4.7-1.1 3.2-0.2 4.8 0.5 4.7 1.3 6.1 2.8 5.6 3.5 5.1 4.1 4.6 4.3 5 5.7 4.3 5.8 4.3 6.8 4 7.6 4 9 3.6 9.3 2.5 7.9 1.8 7.7 1 6.8 0.3 6.9 0 12-103.9 0z" fill="#cb9564"/>
<path d="M1574.2 1139.2l0.2-7.5 0.7-8.7 1.2-9 1.4-8.7 2-9.6 2-7.9 2.3-7 2.4-5.7 3-5.5 2.7-3.9 4.3-4.8 3.5-3.2 3.9-2.7 4.3-2.1 4.4-1.4 4.7-0.4 4.7 0.6 4.6 1.4 4.4 2 5.6 3.5 5 3.9 4.6 4.3 4.9 5.6 4.2 5.6 4.2 6.8 4 7.5 3.9 8.9 3.5 9.1 2.5 7.8 1.7 7.6 1 6.8 0.3 6.7 0 12-102.1 0z" fill="#d3975c"/>
<path d="M1575.4 1139.2l0.2-7.4 0.7-8.4 1-7.9 1.4-8.3 2.2-10.4 2.1-7.6 2.2-6.8 2.4-5.5 2.9-5.3 2.7-3.8 4.1-4.6 3.5-3.1 3.8-2.6 4.1-2 4.3-1.3 4.5-0.4 4.6 0.4 4.4 1.2 4.4 1.8 5.4 3.1 5 3.7 4.4 4 5 5.4 4.1 5.6 4.1 6.6 3.9 7.4 4 8.8 3.4 8.9 2.4 7.7 1.7 7.5 1 6.7 0.3 6.6 0 12-100.2 0z" fill="#d99a57"/>
<path d="M1576.6 1139.2l0.2-7.2 0.6-8.3 1-7.6 1.5-8.1 2-8.9 2.3-8.5 2.2-6.5 2.4-5.3 2.8-5.2 2.6-3.7 4-4.5 3.4-2.9 3.7-2.5 4-1.9 4.2-1.2 4.3-0.5 4.4 0.3 5.8 1.4 4.2 1.8 5.2 2.9 4.8 3.6 4.3 3.9 3.8 4.2 4.1 5.4 4.1 6.5 3.8 7.3 3.9 8.6 3.4 8.8 2.3 7.6 1.7 7.4 0.9 6.6 0.4 6.5 0 12-98.3 0z" fill="#df9c53"/>
<path d="M1577.8 1139.2l0.2-7.9 0.6-7.2 1.2-8.4 1.5-8 2.1-8.7 2.4-8.3 2.4-6.3 2.4-5.1 2.9-4.9 2.6-3.5 4.1-4.2 3.4-2.7 3.7-2.1 3.9-1.6 4.1-1 4.3-0.3 4.2 0.4 5.6 1.4 4 1.6 5 2.9 3.5 2.4 4.2 3.8 3.8 4 4.1 5.4 4 6.4 3.8 7.1 3.8 8.5 3.4 8.7 2.3 7.4 1.6 7.3 0.9 6.5 0.3 6.4 0 12-96.3 0z" fill="#e49f4e"/>
<path d="M1579 1139.2l0.2-7.7 0.6-7 1-7.3 1.4-7.7 2.1-8.3 2.4-7.9 2.2-6 2.9-6.1 2.8-4.8 2.5-3.4 2.9-3.1 3.2-2.6 3.5-2.2 5.1-2.2 4-0.9 4-0.4 4.1 0.2 5.4 1.1 3.9 1.4 5 2.5 3.4 2.3 4.2 3.6 3.8 3.9 4 5.2 3.9 6.3 3.7 7 3.8 8.3 3.3 8.6 2.3 7.3 1.5 6.4 1 7.2 0.3 6.3 0 12-94.4 0z" fill="#e6a352"/>
<path d="M1580 1139.2l0.2-7.6 0.6-6.8 1-7.2 1.4-7.5 2.1-8 2.5-7.6 2.2-5.7 2.9-5.8 2.8-4.6 2.4-3.2 3.8-3.9 3.2-2.5 4.7-2.6 3.7-1.4 3.9-0.9 4-0.3 4 0.3 5.2 1.2 3.7 1.5 4.8 2.7 4.3 3.1 3.9 3.7 3.4 3.9 3.7 5 3.7 6 4 7.6 3.1 7.1 2.8 7.5 2.2 7.2 1.3 6.3 0.9 6.3 0.3 6.2 0 12-92.7 0z" fill="#e7a655"/>
<path d="M1581 1139.2l0.2-7.4 0.7-7.6 1-7 1.3-6.5 1.8-6.7 2.4-7.2 2.2-5.4 2.8-5.5 2.6-4.4 3.2-4.2 3.6-3.7 3.1-2.5 4.5-2.7 3.6-1.5 3.7-0.9 3.9-0.4 3.8 0.2 5.1 1.2 3.7 1.4 4.6 2.5 4.2 3.1 3.9 3.5 4.1 4.7 3.6 4.9 3.5 5.7 3.9 7.3 3 6.9 2.5 6.6 1.8 6.3 1.5 7 0.8 6.2 0.3 6.1 0 12-90.9 0z" fill="#e9aa59"/>
<path d="M1582.1 1139.2l0.1-7.2 0.6-6.6 0.9-6.9 1.2-6.2 1.8-6.5 2-5.9 2.5-6.1 2.7-5.2 3.2-5.1 3.1-4 3.5-3.6 2.9-2.5 4.3-2.7 3.5-1.6 4.8-1.3 3.8-0.3 3.8 0.4 4.9 1.3 3.5 1.5 4.4 2.6 4 3.1 3.7 3.5 3.9 4.5 3.5 4.7 3.4 5.5 3.3 6.2 3.1 6.7 2.4 6.5 1.8 6.2 1.3 6.2 0.9 6.8 0.3 6 0 12-89.1 0z" fill="#eaad5c"/>
<path d="M1583.1 1139.2l0.2-7.1 0.5-6.4 0.9-6.7 1.2-6.1 1.5-5.4 2-5.6 2.5-5.8 2.5-4.9 3.1-4.8 2.9-3.8 3.3-3.6 3.7-3.3 4.1-2.7 3.3-1.7 4.7-1.4 3.6-0.4 3.7 0.2 4.8 1.3 3.4 1.5 4.3 2.5 4 3 4.3 4.2 3.8 4.3 3.9 5.4 3.3 5.2 3.1 5.9 2.6 5.8 2.2 6.3 1.8 6.2 1.2 6 0.7 6 0.2 5.9 0 12-87.3 0z" fill="#ebb160"/>
<path d="M1584.1 1139.2l0.2-6.9 0.4-6.3 0.8-5.7 1.2-5.9 1.4-5.3 1.9-5.3 2.5-5.5 2.5-4.5 3-4.6 3.4-4.5 4-4.3 3.7-3.1 4-2.7 3.2-1.6 4.6-1.3 3.5-0.3 3.6 0.4 4.6 1.4 3.3 1.6 4.1 2.6 3.8 2.9 4.2 4.1 4.3 5 3.6 5.1 3.1 5 3 5.7 2.3 5.6 1.9 5.4 1.4 5.4 1.2 5.9 0.6 5.9 0.3 5.8 0 12-85.6 0z" fill="#ecb464"/>
<path d="M1585.7 1139.2l0.1-6.7 0.5-6.1 0.7-5.4 1.1-5.7 1.4-5.1 1.9-5.2 2.3-5.2 2.5-4.4 2.8-4.4 3.4-4.3 3.9-4 3.5-3 3.9-2.6 3.1-1.5 4.4-1.3 3.4-0.3 3.4 0.3 4.4 1.3 4.3 2 3.9 2.5 3.5 2.9 4 3.9 3.5 4 3.5 4.9 3 4.9 2.9 5.5 2.3 5.4 1.8 5.3 1.4 5.2 1.1 5.7 0.6 5.7 0.3 5.7 0 12-82.8 0z" fill="#edb869"/>
<path d="M1587.3 1139.2l0.1-6.4 0.4-5.9 0.7-5.3 1.1-5.5 1.3-4.8 1.8-5 1.9-4.2 2.2-4.3 3.3-5 3.3-4 3.8-3.9 3.3-2.8 3.8-2.4 2.9-1.5 4.3-1.2 3.2-0.4 3.3 0.3 4.3 1.1 4.1 1.8 3.7 2.3 3.5 2.7 3.8 3.7 3.4 3.9 3.5 4.7 2.9 4.7 2.8 5.4 2.2 5.3 1.8 5.1 1.3 5 1.1 5.6 0.6 5.5 0.3 5.5 0 12-80 0z" fill="#eebc6d"/>
<path d="M1588.8 1139.2l0.2-6.2 0.5-6.3 0.7-5.1 1.1-5.4 1.3-4.7 1.8-4.8 1.8-4 2.3-4.1 2.7-4 3.2-3.8 3.6-3.7 3.3-2.6 3.5-2.3 3.9-1.7 4.1-1.1 3.1-0.2 3.1 0.3 4.1 1.2 2.9 1.3 3.7 2.2 3.4 2.5 3.7 3.5 3.3 3.7 3.4 4.5 2.8 4.6 2.7 5.2 2.1 5.1 1.8 5 1.3 4.8 1 5.4 0.6 5.4 0.3 5.3 0 12-77.3 0z" fill="#efc073"/>
<path d="M1590.4 1139.2l0.1-5.9 0.5-6.1 0.7-4.9 1-5.1 1.3-4.6 1.7-4.6 1.8-3.9 2.2-3.9 2.6-3.7 3.1-3.7 3.5-3.4 3.1-2.5 3.4-2.2 3.7-1.6 3.9-1.1 3-0.2 3 0.2 3.9 1 3.7 1.7 3.5 2.1 3.2 2.4 3.6 3.3 3.1 3.6 2.7 3.6 2.7 4.4 2.6 5.1 2.1 4.9 1.6 4.8 1.3 4.7 1 5.3 0.7 5.1 0.2 5.2 0 12-74.5 0z" fill="#f1c478"/>
<path d="M1591.9 1139.2l0.1-5.7 0.5-5.8 0.7-4.7 1-4.9 1.2-4.3 1.7-4.5 1.7-3.7 2.1-3.7 2.5-3.6 2.9-3.5 3.4-3.2 3-2.4 3.3-2 3.5-1.6 3.7-1 2.9-0.3 2.9 0.2 3.7 0.9 3.6 1.5 3.3 2 3.1 2.2 3.4 3.2 3.1 3.4 2.6 3.4 2.7 4.2 2.5 4.9 2.1 4.7 1.6 4.7 1.2 4.5 1 5.1 0.6 5 0.2 5 0 12-71.8 0z" fill="#f2c77c"/>
<path d="M1593.4 1139.2l0.5-10.4 0.8-5.1 1-4.7 1.2-4.1 1.5-4.3 2.1-4.2 2.1-3.5 2.4-3.5 2.9-3.2 3.3-3 3-2.2 3.2-1.8 3.4-1.4 3.5-0.8 2.8-0.2 2.7 0.3 3.6 0.9 3.4 1.5 3.1 2 2.9 2.2 3.2 3 2.9 3.2 2.9 4 2.5 4 2 3.9 2 4.6 1.5 4.4 1.2 4.4 0.9 4.9 0.4 4.3 0.2 4.8 0 12-69.1 0z" fill="#f2cb81"/>
<path d="M1594.8 1139.2l0.6-10 0.8-4.8 0.9-4.5 1.2-3.9 1.5-4 2-4.1 2-3.3 2.3-3.3 2.8-3.1 3.1-2.8 2.9-2 3-1.8 3.2-1.3 3.4-0.8 2.6-0.2 2.6 0.2 3.4 0.9 3.3 1.3 3 1.8 2.8 2.1 3.1 2.8 2.8 3.1 2.8 3.7 2.4 3.8 2.1 3.8 1.9 4.3 1.5 4.3 1.1 4.3 0.8 4.7 0.5 4.1 0.1 4.7 0 12-66.5 0z" fill="#f3cf86"/>
<path d="M1596.3 1139.2l0.6-9.5 0.7-4.7 1-4.2 2.6-7.5 1.8-3.9 1.9-3.1 2.3-3.1 2.6-2.9 3.1-2.7 2.6-1.9 2.9-1.6 3.1-1.3 3.2-0.8 2.5-0.2 2.4 0.2 3.3 0.7 3.1 1.2 2.9 1.7 3.3 2.4 2.9 2.7 2.6 2.9 2.8 3.5 2.2 3.6 2 3.6 1.5 3.6 1.5 4.2 1.1 4 0.7 4.1 0.5 4.5 0.2 4.5 0 12-63.9 0z" fill="#f4d38b"/>
<path d="M1597.8 1139.2l0.6-9 1.7-8.5 2.4-7.1 1.8-3.6 1.8-3 2.2-3 2.5-2.7 2.9-2.5 2.5-1.8 3.4-1.8 3-1.1 3.1-0.7 2.3-0.1 2.3 0.2 3.1 0.8 2.9 1.2 2.7 1.5 3.1 2.4 2.8 2.5 2.5 2.7 2.5 3.4 2.2 3.4 1.8 3.4 1.5 3.5 1.4 3.9 1 4 0.7 3.8 0.5 8.2 0 12-61.2 0z" fill="#f5d68f"/>
<path d="M1599.5 1139.2l0.5-8.6 1.6-7.9 2.4-6.7 1.7-3.4 1.7-2.8 2-2.7 2.4-2.6 2.7-2.3 2.4-1.7 3.2-1.7 2.8-1.1 2.9-0.6 2.2-0.1 2.9 0.3 2.9 0.8 2.7 1.2 2.5 1.5 2.9 2.2 2.6 2.5 2.2 2.5 2.4 3.2 2.1 3.2 1.7 3.2 2.4 6.5 1.6 7.4 0.5 7.7 0 12-57.9 0z" fill="#f6d994"/>
<path d="M1601.1 1139.2l0.5-8.1 1.4-6.9 2.4-6.8 3.3-5.8 1.9-2.5 2.2-2.4 2.6-2.2 2.2-1.5 3-1.6 2.6-1 2.7-0.6 2.1-0.1 2.7 0.3 2.7 0.7 2.6 1.1 2.3 1.4 2.7 2 2.5 2.2 4.4 5.3 3.6 6.1 2.3 6.1 1.5 7 0.5 7.3 0 12-54.7 0z" fill="#f7dd99"/>
<path d="M1602.7 1139.2l0.5-7.6 1.3-6.5 2.1-5.8 3-5.4 3.8-4.6 2.3-2.1 2.6-1.8 4.6-2.2 2.5-0.6 2.6-0.2 2.6 0.2 2.4 0.7 2.4 1 2.3 1.2 2.5 1.9 2.3 2 2.5 2.7 2.1 2.7 3.3 5.6 2.1 5.8 1.3 6.1 0.4 6.9 0 12-51.5 0z" fill="#f8e09e"/>
<path d="M1604.4 1139.2l0.4-7.1 1.3-6.1 2-5.4 2.8-4.9 3.6-4.2 2.1-1.9 2.4-1.7 4.3-2 2.3-0.6 2.4-0.2 2.4 0.2 2.3 0.6 2.2 0.9 2.6 1.4 4.5 3.6 3.9 4.6 3.1 5.2 2 5.4 1.2 5.7 0.4 6.5 0 12-48.2 0z" fill="#f9e4a3"/>
<path d="M1606 1139.2l0.4-6.2 1.1-5.6 1.8-5 2.6-4.6 3.2-3.8 4.2-3.4 2.3-1.3 2.1-0.8 2.1-0.5 2.2-0.2 2.2 0.2 2.1 0.5 2.1 0.7 2.4 1.3 4.2 3.3 3.6 4.1 2.8 4.4 2 5 1.3 5.8 0.3 6.1 0 12-45 0z" fill="#fae7a8"/>
<path d="M1607.7 1139.2l0.3-5.7 0.9-4.9 1.7-4.5 2.4-4.2 3.2-3.8 3.8-3 4.1-2 1.9-0.4 2-0.2 4 0.5 4.1 1.8 3.9 2.9 3.7 4.1 2.5 4.1 1.8 4.6 1.1 5 0.4 5.7 0 12-41.8 0z" fill="#fbe9ab"/>
<path d="M1609.7 1139.2l0.3-5.2 0.8-4.3 1.5-4.1 2.2-3.7 2.9-3.5 3.4-2.7 3.7-1.7 3.5-0.6 3.6 0.5 3.7 1.6 3.5 2.6 3.3 3.7 2.3 3.6 1.6 4.2 1 4.5 0.3 5.1 0 12-37.6 0z" fill="#fbebae"/>
<path d="M1611.7 1139.2l0.3-4.6 0.7-3.9 1.4-3.6 1.9-3.3 2.6-3.1 3-2.4 3.2-1.5 3.2-0.6 3.2 0.5 3.2 1.4 3.2 2.3 3 3.3 2 3.3 1.4 3.7 0.9 4 0.3 4.5 0 12-33.5 0z" fill="#fcedb1"/>
<path d="M1613.8 1139.2l0.2-4 0.6-3.4 1.2-3.2 1.7-2.9 2.3-2.7 2.6-2.1 2.8-1.3 2.8-0.5 2.8 0.4 2.8 1.2 2.8 2.1 2.6 2.8 1.8 2.9 1.2 3.2 0.8 3.5 0.2 4 0 12-29.2 0z" fill="#fceeb4"/>
<path d="M1615.8 1139.2l0.2-3.4 0.5-2.9 1-2.8 1.5-2.5 1.9-2.3 2.3-1.8 2.4-1.1 2.4-0.4 2.4 0.3 2.4 1.1 2.4 1.7 2.2 2.5 1.5 2.4 1.1 2.8 0.7 3 0.2 3.4 0 12-25.1 0z" fill="#fdf0b6"/>
<path d="M1617.8 1139.2l0.2-2.9 0.5-2.4 0.8-2.3 1.2-2 1.6-2 1.9-1.5 2-0.9 2-0.4 2 0.3 2 0.9 2 1.5 1.8 2 1.3 2.1 0.9 2.3 0.6 2.5 0.1 2.8 0 12-20.9 0z" fill="#fdf2b9"/>
<path d="M1619.9 1139.2l0.5-4.2 0.6-1.9 1-1.6 1.3-1.5 1.5-1.3 1.6-0.7 1.6-0.3 1.6 0.2 1.6 0.8 1.6 1.1 1.5 1.6 1 1.7 0.7 1.8 0.4 2 0.2 2.3 0 12-16.7 0z" fill="#fdf3bc"/>
<path d="M1621.9 1139.2l0.4-3.2 1.2-2.6 2.1-2 1.2-0.6 1.2-0.2 1.2 0.2 1.2 0.5 1.2 0.9 1.1 1.2 1.3 2.6 0.4 3.2 0 12-12.5 0z" fill="#fef5bf"/>
<path d="M1623.9 1139.2l0.3-2.1 0.8-1.8 1.4-1.3 1.6-0.5 1.6 0.4 1.5 1.4 0.9 1.8 0.3 2.1 0 12-8.4 0z" fill="#fef7c2"/>
<path d="M1626 1139.2l0.1-1.1 0.4-0.8 0.7-0.7 0.8-0.3 0.8 0.3 0.8 0.7 0.4 0.8 0.1 1.1 0 12-4.1 0z" fill="#fff8c5"/>
</g>
<path d="M1562.42 1139.2l0.06-18.79 0.24-14.47 0.41-12.16 0.68-12.38 1.01-12.37 1.05-9.36 0.71-5 0.9-5.19 1.23-5.17 0.8-2.45 0.96-2.31 1.11-2.13 1.28-1.93 1.41-1.74 1.53-1.57 1.64-1.42 1.72-1.26 1.8-1.13 1.87-0.98 1.93-0.84 1.99-0.7 2.04-0.53 2.08-0.38 2.13-0.23 2.15-0.06 2.18 0.07 2.18 0.22 2.19 0.36 4.37 1.06 4.29 1.47 4.19 1.8 4.04 2.04 3.89 2.22 3.72 2.34 3.56 2.42 5.01 3.71 4.66 3.75 4.33 3.7 5.33 4.8 4.88 4.65 4.47 4.61 3.07 3.47 2.83 3.52 2.6 3.53 2.4 3.53 2.89 4.67 2.59 4.61 2.34 4.52 2.63 5.54 2.37 5.41 2.58 6.36 1.98 5.25 1.77 5.27 1.23 4.26 1.02 4.33 0.59 3.28 0.52 4.43 0.16 3.35M1566.08 1139.2l0.12-12.01 0.43-11.55 0.77-11.43 0.99-9.93 1.27-9.49 1.82-10.61 2.12-9.86 1.74-6.21 1.49-4.07 0.87-1.96 2.01-3.71 1.13-1.72 1.22-1.63 1.31-1.53 1.39-1.42 1.45-1.32 3.1-2.34 1.64-1.01 1.69-0.9 1.74-0.78 1.79-0.64 1.83-0.5 1.88-0.33 1.91-0.16 1.95 0.03 1.97 0.2 1.97 0.36 1.98 0.51 3.92 1.38 3.82 1.74 3.68 1.94 11.75 6.84 6.01 3.8 2.83 2.03 2.69 2.13 2.55 2.24 2.41 2.33 2.27 2.41 3.13 3.75 1.9 2.57 2.58 3.94 1.55 2.64 2.11 3.9 2.48 5.01 5.77 12.25 4.32 8.65 1.29 2.82 1.15 2.85 0.98 2.88 1.1 3.86 0.66 2.9 0.7 3.86 0.5 3.85 0.31 3.83 0.14 3.82-0.03 3.79M1570.12 1139.2l0.1-10.19 0.52-10.65 0.48-5.64 0.51-4.71 1.25-8.79 0.97-5.37 0.88-4.23 1.04-4.41 1.21-4.59 2.49-8.08 1.83-5.1 1.39-3.49 1.58-3.46 0.88-1.7 1.96-3.22 2.25-2.93 1.24-1.32 2.67-2.34 1.42-1.03 2.98-1.78 3.15-1.39 1.63-0.55 3.34-0.8 1.71-0.23 3.45-0.12 1.74 0.1 3.48 0.51 1.73 0.39 3.42 1.04 3.34 1.31 3.24 1.56 3.12 1.74 3 1.9 2.87 2.02 2.74 2.12 2.59 2.21 2.46 2.28 2.32 2.34 3.22 3.59 1.99 2.42 2.74 3.64 2.48 3.61 2.25 3.56 2.04 3.49 2.44 4.51 2.16 4.34 2.39 5.18 2.52 5.91 1.83 4.73 1.62 4.61 1.14 3.64 1.22 4.51 0.82 3.59 0.81 4.48 0.46 3.59 0.29 3.6 0.1 3.6M1574.18 1139.2l0.21-7.54 0.68-8.64 1.18-9.06 1.49-8.66 1.99-9.56 1.98-7.95 1.27-4.18 1-2.83 1.12-2.84 1.28-2.83 1.43-2.79 1.61-2.72 2.73-3.91 2.02-2.47 2.19-2.33 3.58-3.19 2.57-1.88 1.34-0.85 2.78-1.49 1.43-0.63 2.96-0.99 1.52-0.35 1.53-0.24 3.12-0.14 1.56 0.09 3.13 0.48 1.55 0.39 3.07 1.01 1.5 0.61 2.94 1.42 2.82 1.63 2.72 1.8 2.58 1.93 2.46 2.03 2.33 2.11 2.2 2.16 2.08 2.2 2.89 3.36 1.77 2.27 2.45 3.41 2.2 3.39 1.99 3.34 1.79 3.28 2.13 4.24 1.9 4.07 2.1 4.85 1.86 4.63 1.63 4.47 1.43 4.36 0.99 3.44 1.06 4.24 0.69 3.38 0.56 3.37 0.4 3.37 0.26 3.37 0.08 3.37M1579 1139.2l0.22-7.73 0.58-7.01 0.98-7.28 1.46-7.69 2.05-8.29 2.4-7.88 2.22-5.99 1.62-3.68 1.23-2.45 1.35-2.42 1.5-2.38 2.53-3.38 2.87-3.09 2.11-1.83 1.11-0.83 1.14-0.79 2.38-1.4 2.47-1.18 2.57-0.95 2.64-0.71 1.34-0.27 2.71-0.33 1.36-0.06 1.37 0 2.73 0.21 2.72 0.45 2.67 0.68 3.91 1.41 2.51 1.17 2.42 1.34 3.45 2.3 2.16 1.71 2.04 1.83 1.93 1.92 1.8 2 1.69 2.06 2.32 3.14 2.08 3.15 1.87 3.13 1.69 3.07 2.02 3.96 3.81 8.33 1.76 4.35 1.54 4.2 1.34 4.11 0.93 3.24 1.47 6.39 0.65 3.96 0.37 3.17 0.23 3.17 0.08 3.17M1584.11 1139.2l0.16-6.93 0.47-6.3 0.75-5.7 1.18-5.9 1.43-5.23 1.91-5.36 1.16-2.72 1.3-2.73 2.51-4.58 2.97-4.56 3.47-4.49 2.34-2.6 1.68-1.68 1.77-1.6 1.87-1.52 1.96-1.41 2.05-1.27 3.24-1.59 2.26-0.79 2.32-0.54 2.35-0.26 1.19-0.02 1.19 0.06 2.36 0.32 2.33 0.58 2.29 0.81 3.29 1.57 2.1 1.24 2.01 1.36 3.75 2.99 1.74 1.58 2.44 2.46 2.25 2.5 2.08 2.53 1.9 2.54 1.76 2.53 3.07 5.02 1.34 2.47 1.61 3.26 2.37 5.58 1.87 5.43 1.43 5.31 1.14 5.95 0.68 5.87 0.23 5.82M1590.41 1139.2l0.14-5.93 0.47-6.09 0.67-4.91 1.04-5.11 1.27-4.52 1.7-4.63 1.8-3.89 2.2-3.87 2.62-3.79 3.05-3.66 2.05-2.09 1.45-1.33 3.14-2.49 1.67-1.13 1.75-1.02 1.81-0.91 1.87-0.77 1.92-0.6 1.97-0.42 3-0.25 3 0.24 1.97 0.41 1.94 0.59 1.89 0.75 1.84 0.88 1.77 1.01 1.7 1.1 3.18 2.43 1.48 1.3 2.08 2.04 3.12 3.54 2.69 3.65 2.73 4.42 2.6 5.06 2.09 4.93 1.66 4.79 1.27 4.68 1.03 5.26 0.61 5.18 0.23 5.15M1597.81 1139.2l0.18-4.75 0.42-4.3 0.72-4.41 0.94-3.99 1.08-3.53 1.39-3.61 1.77-3.64 1.82-3 2.15-2.92 2.51-2.75 2.87-2.49 2.54-1.77 2.03-1.16 1.41-0.68 2.94-1.11 1.53-0.4 1.54-0.27 2.35-0.13 2.34 0.21 1.54 0.31 1.52 0.44 2.91 1.22 2.72 1.57 3.11 2.32 2.77 2.57 2.46 2.72 2.57 3.35 2.18 3.41 1.83 3.43 1.49 3.42 1.36 3.97 1 3.93 0.67 3.87 0.39 3.83 0.13 4.34M1607.66 1139.2l0.07-2.85 0.25-2.89 0.41-2.58 0.52-2.26 0.72-2.28 0.94-2.29 1.2-2.26 1.19-1.84 1.67-2.15 1.6-1.71 1.79-1.59 1.99-1.43 2.18-1.19 1.87-0.73 1.94-0.48 2-0.18 2 0.13 1.96 0.43 1.88 0.67 2.22 1.12 2.04 1.35 1.87 1.52 1.99 2 1.73 2.11 1.26 1.83 1.27 2.26 1.03 2.3 0.8 2.33 0.59 2.32 0.46 2.69 0.27 2.65 0.09 3M1858.08 1139.05l3.54-9.38 3.82-9.25 4.06-9.15 4.26-9.07 4.41-8.99 4.54-8.96 16.18-31.22 9.1-17.91 6.62-13.53 6.35-13.64 5.99-13.79 5.59-13.94 5.21-14.1 4.85-14.24 3.02-9.56 2.88-9.61 2.73-9.66 3.83-14.57 2.37-9.77 2.25-9.8 2.12-9.83 2.95-14.8 1.83-9.89 2.52-14.88 1.56-9.94 2.14-14.91 1.32-9.96 1.81-14.92 2.62-24.85" fill="none" stroke="#000" stroke-width="0.92" stroke-linejoin="round"/>
</g>
<rect x="1549.50" y="710.60" width="437.90" height="437.80" fill="none" stroke="#848484" stroke-width="1"/>
<path d="M1558.40 1148.40v-4.2M1558.40 710.60v4.2M1549.50 1139.20h4.2M1987.40 1139.20h-4.2M1572.39 1148.40v-2.5M1572.39 710.60v2.5M1549.50 1125.20h2.5M1987.40 1125.20h-2.5M1586.39 1148.40v-2.5M1586.39 710.60v2.5M1549.50 1111.20h2.5M1987.40 1111.20h-2.5M1600.38 1148.40v-2.5M1600.38 710.60v2.5M1549.50 1097.20h2.5M1987.40 1097.20h-2.5M1614.37 1148.40v-4.2M1614.37 710.60v4.2M1549.50 1083.20h4.2M1987.40 1083.20h-4.2M1628.37 1148.40v-2.5M1628.37 710.60v2.5M1549.50 1069.20h2.5M1987.40 1069.20h-2.5M1642.36 1148.40v-2.5M1642.36 710.60v2.5M1549.50 1055.20h2.5M1987.40 1055.20h-2.5M1656.35 1148.40v-2.5M1656.35 710.60v2.5M1549.50 1041.20h2.5M1987.40 1041.20h-2.5M1670.35 1148.40v-4.2M1670.35 710.60v4.2M1549.50 1027.20h4.2M1987.40 1027.20h-4.2M1684.34 1148.40v-2.5M1684.34 710.60v2.5M1549.50 1013.20h2.5M1987.40 1013.20h-2.5M1698.33 1148.40v-2.5M1698.33 710.60v2.5M1549.50 999.20h2.5M1987.40 999.20h-2.5M1712.33 1148.40v-2.5M1712.33 710.60v2.5M1549.50 985.20h2.5M1987.40 985.20h-2.5M1726.32 1148.40v-4.2M1726.32 710.60v4.2M1549.50 971.20h4.2M1987.40 971.20h-4.2M1740.31 1148.40v-2.5M1740.31 710.60v2.5M1549.50 957.20h2.5M1987.40 957.20h-2.5M1754.31 1148.40v-2.5M1754.31 710.60v2.5M1549.50 943.20h2.5M1987.40 943.20h-2.5M1768.30 1148.40v-2.5M1768.30 710.60v2.5M1549.50 929.20h2.5M1987.40 929.20h-2.5M1782.29 1148.40v-4.2M1782.29 710.60v4.2M1549.50 915.20h4.2M1987.40 915.20h-4.2M1796.29 1148.40v-2.5M1796.29 710.60v2.5M1549.50 901.20h2.5M1987.40 901.20h-2.5M1810.28 1148.40v-2.5M1810.28 710.60v2.5M1549.50 887.20h2.5M1987.40 887.20h-2.5M1824.27 1148.40v-2.5M1824.27 710.60v2.5M1549.50 873.20h2.5M1987.40 873.20h-2.5M1838.27 1148.40v-4.2M1838.27 710.60v4.2M1549.50 859.20h4.2M1987.40 859.20h-4.2M1852.26 1148.40v-2.5M1852.26 710.60v2.5M1549.50 845.20h2.5M1987.40 845.20h-2.5M1866.25 1148.40v-2.5M1866.25 710.60v2.5M1549.50 831.20h2.5M1987.40 831.20h-2.5M1880.25 1148.40v-2.5M1880.25 710.60v2.5M1549.50 817.20h2.5M1987.40 817.20h-2.5M1894.24 1148.40v-4.2M1894.24 710.60v4.2M1549.50 803.20h4.2M1987.40 803.20h-4.2M1908.23 1148.40v-2.5M1908.23 710.60v2.5M1549.50 789.20h2.5M1987.40 789.20h-2.5M1922.23 1148.40v-2.5M1922.23 710.60v2.5M1549.50 775.20h2.5M1987.40 775.20h-2.5M1936.22 1148.40v-2.5M1936.22 710.60v2.5M1549.50 761.20h2.5M1987.40 761.20h-2.5M1950.21 1148.40v-4.2M1950.21 710.60v4.2M1549.50 747.20h4.2M1987.40 747.20h-4.2M1964.21 1148.40v-2.5M1964.21 710.60v2.5M1549.50 733.20h2.5M1987.40 733.20h-2.5M1978.20 1148.40v-2.5M1978.20 710.60v2.5M1549.50 719.20h2.5M1987.40 719.20h-2.5" fill="none" stroke="#848484" stroke-width="1"/>
<text x="1558.40" y="1169.09" font-size="18.715" text-anchor="middle" fill="#000">0.0</text><text x="1546.94" y="1145.01" font-size="18.715" text-anchor="end" fill="#000">0.0</text><text x="1614.37" y="1169.09" font-size="18.715" text-anchor="middle" fill="#000">0.2</text><text x="1546.94" y="1089.01" font-size="18.715" text-anchor="end" fill="#000">0.2</text><text x="1670.35" y="1169.09" font-size="18.715" text-anchor="middle" fill="#000">0.4</text><text x="1546.94" y="1033.01" font-size="18.715" text-anchor="end" fill="#000">0.4</text><text x="1726.32" y="1169.09" font-size="18.715" text-anchor="middle" fill="#000">0.6</text><text x="1546.94" y="977.01" font-size="18.715" text-anchor="end" fill="#000">0.6</text><text x="1782.29" y="1169.09" font-size="18.715" text-anchor="middle" fill="#000">0.8</text><text x="1546.94" y="921.01" font-size="18.715" text-anchor="end" fill="#000">0.8</text><text x="1838.27" y="1169.09" font-size="18.715" text-anchor="middle" fill="#000">1.0</text><text x="1546.94" y="865.01" font-size="18.715" text-anchor="end" fill="#000">1.0</text><text x="1894.24" y="1169.09" font-size="18.715" text-anchor="middle" fill="#000">1.2</text><text x="1546.94" y="809.01" font-size="18.715" text-anchor="end" fill="#000">1.2</text><text x="1950.21" y="1169.09" font-size="18.715" text-anchor="middle" fill="#000">1.4</text><text x="1546.94" y="753.01" font-size="18.715" text-anchor="end" fill="#000">1.4</text>
<text x="1461.43" y="935.02" font-size="18.71" text-anchor="start">{<tspan font-style="italic">k</tspan><tspan font-size="13.10" dy="2.96" font-style="italic">y</tspan><tspan dy="-2.96" font-style="italic" dx="4.14">H</tspan><tspan font-size="13.10" dy="2.96">0</tspan><tspan dy="-2.96">}</tspan></text>
<text x="1741.46" y="1196.17" font-size="18.71" text-anchor="start">{<tspan font-style="italic">k</tspan><tspan font-size="13.10" dy="2.96" font-style="italic">x</tspan><tspan dy="-2.96" font-style="italic" dx="4.14">H</tspan><tspan font-size="13.10" dy="2.96">0</tspan><tspan dy="-2.96">}</tspan></text>
<g font-size="12.80" transform="translate(1994.79 928.02) scale(0.9850)">
<text transform="translate(-0.8 8.4) scale(1.3 1.77)" font-size="19" x="0" y="0" stroke="#fff" stroke-width="0.3">{</text>
<text transform="translate(41.6 8.4) scale(1.3 1.77)" font-size="19" x="0" y="0" stroke="#fff" stroke-width="0.3">}</text>
<text x="11.2" y="-4.9" font-style="italic">ω<tspan dx="2.4">H</tspan><tspan font-size="9.5" dy="2.3" font-style="normal">0</tspan></text>
<rect x="10.1" y="-2.6" width="28.2" height="1.1" fill="#000"/>
<text x="18" y="14.1">a<tspan font-size="9.5" dy="1.6" dx="-0.4" font-style="italic">g</tspan></text>
</g>
<g transform="translate(1766.45 644.00) scale(0.9771)"><text x="0" y="0" font-size="22.4" text-anchor="middle">Modified Parker with Streaming and Cooling</text></g>
<g transform="translate(1769.45 677.00) scale(0.9850)"><text x="0" y="0" font-size="22.4" text-anchor="middle">m=1.5, c=1, Λ=3.60352<tspan dy="8.2" font-size="29.5">*</tspan><tspan dy="-8.2" dx="0.3">10</tspan><tspan font-size="15.6" dy="-9.6">−26</tspan><tspan dy="9.6"> ergs cm</tspan><tspan font-size="15.6" dy="-9.6">3</tspan><tspan dy="9.6" dx="1.2"> </tspan><tspan font-style="italic">s</tspan><tspan font-size="15.6" dy="-9.6">−1</tspan></text></g>
<rect x="2063.60" y="633.30" width="14.20" height="542.10" fill="url(#cmapg)" stroke="#000" stroke-opacity="0.12" stroke-width="0.8"/>
<text x="2084.60" y="1182.30" font-size="18.715" text-anchor="start" fill="#595959">0</text><text x="2084.60" y="1044.01" font-size="18.715" text-anchor="start" fill="#595959">0.05</text><text x="2084.60" y="905.72" font-size="18.715" text-anchor="start" fill="#595959">0.10</text><text x="2084.60" y="767.43" font-size="18.715" text-anchor="start" fill="#595959">0.15</text>
<path d="M2077.80 1175.40h3.9M2077.80 1147.74h2.6M2077.80 1120.08h2.6M2077.80 1092.43h2.6M2077.80 1064.77h2.6M2077.80 1037.11h3.9M2077.80 1009.45h2.6M2077.80 981.79h2.6M2077.80 954.13h2.6M2077.80 926.48h2.6M2077.80 898.82h3.9M2077.80 871.16h2.6M2077.80 843.50h2.6M2077.80 815.84h2.6M2077.80 788.19h2.6M2077.80 760.53h3.9M2077.80 732.87h2.6M2077.80 705.21h2.6M2077.80 677.55h2.6M2077.80 649.89h2.6" fill="none" stroke="#000" stroke-opacity="0.11" stroke-width="0.9"/>
<text class="pl" x="2128.06" y="1209.90" font-size="43.1">(</text>
<text class="pl" transform="translate(2141.58 1209.60) scale(1.109 1)" font-size="39.57">f</text>
<text class="pl" x="2154.60" y="1209.90" font-size="43.1">)</text>
</g>
</svg></body></html>
